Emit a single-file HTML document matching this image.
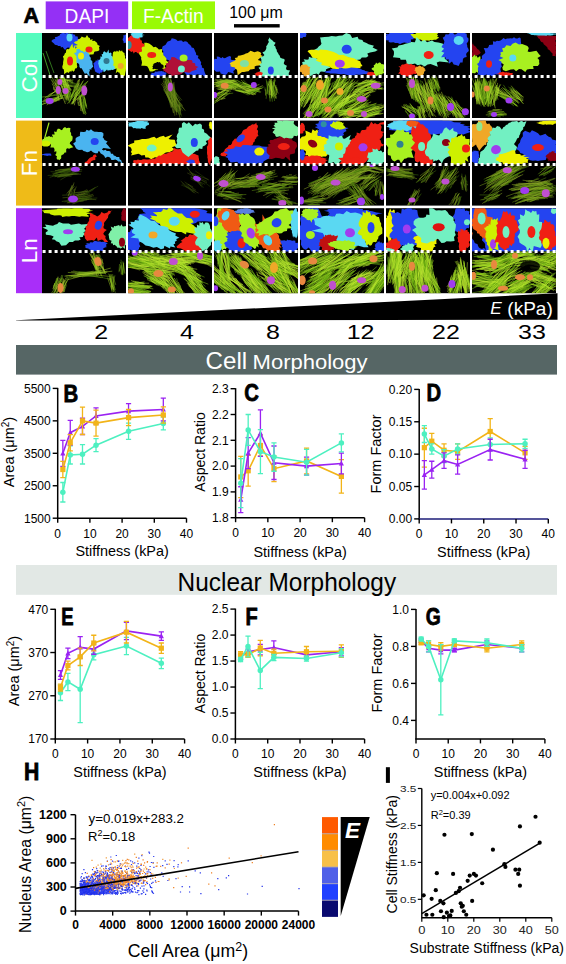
<!DOCTYPE html><html><head><meta charset="utf-8"><style>html,body{margin:0;padding:0;background:#fff;width:566px;height:964px;overflow:hidden}svg{display:block}text{font-family:"Liberation Sans", sans-serif}</style></head><body>
<svg width="566" height="964" viewBox="0 0 566 964">
<text x="23.6" y="22.8" font-size="22.5" font-weight="bold" textLength="15.6" lengthAdjust="spacingAndGlyphs" stroke="#000" stroke-width="0.7">A</text>
<rect x="45.7" y="1.4" width="82.5" height="27.8" fill="#9430f5"/>
<text x="64.6" y="22.6" font-size="20" fill="#fff" textLength="44.6" lengthAdjust="spacingAndGlyphs">DAPI</text>
<rect x="132" y="1.4" width="83" height="27.8" fill="#99fa04"/>
<text x="143" y="22.6" font-size="20" fill="#fff" textLength="60.8" lengthAdjust="spacingAndGlyphs">F-Actin</text>
<text x="229.2" y="17.6" font-size="16" textLength="53.6" lengthAdjust="spacingAndGlyphs">100 μm</text>
<rect x="234" y="24.1" width="45.7" height="3.4" fill="#000"/>
<rect x="16" y="33" width="26" height="85" fill="#55fbbe"/>
<text transform="translate(37.3 75.5) rotate(-90)" text-anchor="middle" font-size="22.5" fill="#fff">Col</text>
<rect x="42" y="33" width="84" height="85" fill="#000"/>
<rect x="128" y="33" width="84" height="85" fill="#000"/>
<rect x="214" y="33" width="84" height="85" fill="#000"/>
<rect x="300" y="33" width="84" height="85" fill="#000"/>
<rect x="386" y="33" width="84" height="85" fill="#000"/>
<rect x="472" y="33" width="84" height="85" fill="#000"/>
<rect x="16" y="120.6" width="26" height="85" fill="#efbb18"/>
<text transform="translate(37.3 163.1) rotate(-90)" text-anchor="middle" font-size="22.5" fill="#fff">Fn</text>
<rect x="42" y="120.6" width="84" height="85" fill="#000"/>
<rect x="128" y="120.6" width="84" height="85" fill="#000"/>
<rect x="214" y="120.6" width="84" height="85" fill="#000"/>
<rect x="300" y="120.6" width="84" height="85" fill="#000"/>
<rect x="386" y="120.6" width="84" height="85" fill="#000"/>
<rect x="472" y="120.6" width="84" height="85" fill="#000"/>
<rect x="16" y="208.2" width="26" height="85" fill="#a92ef9"/>
<text transform="translate(37.3 250.7) rotate(-90)" text-anchor="middle" font-size="22.5" fill="#fff">Ln</text>
<rect x="42" y="208.2" width="84" height="85" fill="#000"/>
<rect x="128" y="208.2" width="84" height="85" fill="#000"/>
<rect x="214" y="208.2" width="84" height="85" fill="#000"/>
<rect x="300" y="208.2" width="84" height="85" fill="#000"/>
<rect x="386" y="208.2" width="84" height="85" fill="#000"/>
<rect x="472" y="208.2" width="84" height="85" fill="#000"/>
<defs>
<clipPath id="ct0"><rect x="0" y="0" width="84" height="43.5"/></clipPath>
<clipPath id="cb0"><rect x="0" y="43.5" width="84" height="41.5"/></clipPath>
<clipPath id="ct1"><rect x="0" y="0" width="84" height="43.9"/></clipPath>
<clipPath id="cb1"><rect x="0" y="43.9" width="84" height="41.1"/></clipPath>
<clipPath id="ct2"><rect x="0" y="0" width="84" height="43.3"/></clipPath>
<clipPath id="cb2"><rect x="0" y="43.3" width="84" height="41.7"/></clipPath>
</defs>
<g transform="translate(42 33)">
<g clip-path="url(#ct0)"><path d="M38.6,8.0 37.0,9.1 35.6,10.1 37.5,11.8 37.6,13.4 36.5,14.7 35.0,15.7 31.6,14.8 29.3,14.3 28.0,14.9 26.4,14.5 25.0,14.8 23.1,17.0 21.7,15.4 20.8,14.1 18.8,14.4 18.6,12.9 16.3,13.0 15.3,12.2 12.9,11.7 12.0,10.5 10.7,9.4 9.3,8.0 10.9,6.6 13.3,5.7 12.8,4.3 15.2,3.8 16.4,3.0 17.7,2.4 18.1,0.9 19.7,0.2 21.4,-0.2 23.4,0.5 25.0,-0.8 26.6,0.7 27.8,1.6 30.2,0.3 31.4,1.4 33.2,1.7 33.1,3.3 35.6,3.5 35.9,4.7 35.8,5.9 39.3,6.6Z" fill="#2444f0"/><ellipse cx="27.5" cy="4.5" rx="3" ry="4" fill="#5ad8f2"/><path d="M37.3,28.5 35.2,29.7 34.8,31.1 35.3,33.7 34.6,35.3 33.1,35.6 32.5,37.7 31.4,38.7 30.0,37.3 29.1,39.0 28.1,37.9 26.7,39.9 25.7,39.2 24.4,39.6 22.1,41.3 22.1,38.2 21.7,36.3 20.5,35.4 20.3,33.4 21.1,31.0 21.1,29.2 21.4,27.4 21.7,25.7 20.9,23.5 22.2,22.2 22.8,20.5 24.0,19.5 24.2,16.8 25.4,16.0 26.8,16.2 27.8,14.9 28.9,12.7 30.4,10.5 31.1,15.0 32.9,12.5 33.2,15.6 35.1,14.3 35.1,17.0 35.3,18.9 36.5,19.6 36.3,21.7 38.0,22.5 38.1,24.5 38.6,26.5Z" fill="#cdf000"/><path d="M57.9,13.0 56.9,14.4 57.4,16.0 57.1,17.5 55.2,18.3 52.8,18.5 52.0,19.6 51.6,21.3 49.8,21.6 48.0,21.5 46.6,21.9 45.0,22.2 43.5,21.3 41.7,22.2 40.2,21.7 39.3,20.2 37.4,20.1 37.0,18.7 37.3,17.1 34.6,16.9 33.9,15.7 35.3,14.1 31.2,13.0 35.9,11.9 31.8,9.8 33.1,8.5 35.4,7.9 35.9,6.5 37.5,6.0 38.7,5.0 39.7,3.6 41.9,4.5 43.5,4.4 45.0,2.0 46.5,4.5 47.8,5.1 48.4,6.9 50.6,5.9 50.3,8.0 52.5,7.7 53.4,8.6 54.7,9.4 55.3,10.5 55.5,11.8Z" fill="#cdf000"/><path d="M43.1,20.0 43.8,21.0 42.9,21.7 43.1,22.8 42.7,23.7 41.4,23.8 40.7,24.2 40.5,25.4 39.2,24.8 38.5,25.1 37.6,24.5 37.0,26.8 36.4,24.2 35.4,25.5 34.8,24.8 33.7,25.2 32.9,24.8 32.2,24.1 31.9,23.3 30.4,23.0 30.1,22.0 30.1,21.0 30.9,20.0 31.1,19.1 30.8,18.2 32.2,17.8 31.9,16.7 32.8,16.4 33.5,15.9 34.2,15.6 35.0,15.6 35.4,14.7 36.3,14.8 37.0,14.4 37.8,14.1 38.7,14.1 39.6,14.4 39.6,15.9 40.5,15.9 41.1,16.5 42.2,16.7 42.6,17.4 42.8,18.3 43.5,19.1Z" fill="#cdf000"/><path d="M48.8,24.8 48.7,26.7 50.3,28.2 50.4,29.9 50.5,31.6 51.2,33.5 50.4,34.6 49.4,35.3 49.3,36.7 47.6,36.1 47.9,38.3 47.0,38.7 47.9,44.0 45.6,41.4 44.1,39.9 43.0,40.9 41.7,39.0 40.6,37.1 39.7,35.3 38.3,35.2 37.4,33.8 37.3,31.8 36.5,30.5 34.4,29.5 34.3,27.8 34.8,26.3 34.2,24.7 34.6,23.5 31.9,20.0 33.5,19.7 34.5,19.1 34.4,17.0 35.2,16.1 36.3,15.9 37.7,16.2 39.2,17.9 40.2,17.7 41.3,18.6 42.3,19.3 43.6,18.1 44.8,18.9 46.2,19.8 47.3,21.3 47.6,23.5Z" fill="#4ab4f0"/><ellipse cx="39" cy="23" rx="3" ry="3.5" fill="#eef000"/><ellipse cx="28" cy="28" rx="3" ry="4.5" fill="#f02014"/><ellipse cx="47" cy="16.6" rx="3.5" ry="3" fill="#f02014"/><path d="M62.2,33.0 62.1,34.0 61.7,34.9 61.4,35.8 61.0,36.6 60.9,37.7 60.5,38.7 59.9,39.2 59.2,39.7 58.4,39.5 57.8,40.4 57.0,41.1 56.3,39.7 55.5,40.1 54.9,39.5 54.2,39.2 53.4,38.8 52.9,37.9 52.8,36.7 52.4,35.9 52.1,35.0 51.9,34.0 51.8,33.0 52.0,32.0 51.2,30.6 52.3,30.0 52.5,28.9 53.5,28.8 53.5,27.4 54.5,27.6 55.3,27.9 55.6,26.2 56.4,27.1 57.0,26.5 57.6,27.0 58.7,25.1 59.1,26.5 59.7,27.1 60.0,28.2 61.0,28.1 61.2,29.2 61.7,30.0 62.1,30.9 63.0,31.8Z" fill="#2444f0"/><path d="M72.5,29.0 73.6,30.6 73.6,32.2 74.2,34.3 73.5,35.8 71.9,36.5 70.6,37.1 69.0,36.7 68.1,37.4 66.9,37.1 66.0,38.1 65.0,36.5 64.0,37.6 62.7,38.8 61.4,38.8 61.1,36.6 59.2,37.3 58.7,35.8 57.6,35.0 57.0,33.6 56.7,32.0 56.2,30.6 56.5,29.0 56.6,27.5 58.0,26.4 58.6,25.3 58.3,23.6 60.2,23.8 59.6,21.3 61.0,21.1 61.3,19.0 62.5,18.2 63.9,19.4 65.0,19.6 66.5,16.4 67.0,20.3 68.4,19.6 69.5,20.3 69.4,22.7 70.4,23.2 71.0,24.2 72.7,24.6 73.0,26.0 72.2,27.7Z" fill="#5ad8f2"/><ellipse cx="64.5" cy="28" rx="3" ry="3" fill="#307890"/><path d="M85.0,29.0 84.2,30.5 84.6,32.3 84.9,34.4 84.0,35.6 83.8,37.6 83.4,39.6 82.9,42.2 81.8,43.4 80.8,45.3 79.2,43.1 78.0,41.0 77.1,39.2 76.2,39.6 75.5,38.5 73.7,40.6 74.7,35.6 73.5,35.7 72.5,35.0 72.7,33.1 71.0,32.5 71.6,30.6 71.6,29.0 71.3,27.3 70.3,25.1 70.6,23.2 70.8,21.0 71.2,18.9 72.6,18.3 74.1,18.7 74.9,17.5 76.3,18.9 77.0,17.2 78.0,17.4 78.9,18.4 80.0,17.2 80.7,18.9 81.5,19.6 82.5,20.1 82.6,22.1 83.2,23.3 83.0,25.1 84.0,26.0 85.2,27.2Z" fill="#cdf000"/><ellipse cx="78.7" cy="33" rx="3" ry="3" fill="#f0a828"/><path d="M84.9,6.0 85.0,6.6 85.3,7.3 85.0,7.8 85.1,8.7 84.5,8.5 84.4,9.2 84.2,9.7 83.8,9.7 83.5,9.6 83.3,10.2 83.0,9.7 82.7,10.0 82.4,10.2 82.2,9.7 81.6,10.3 81.6,9.2 81.6,8.4 81.3,8.1 81.0,7.8 80.9,7.2 80.6,6.7 80.8,6.0 80.8,5.4 81.5,5.1 81.3,4.5 81.5,4.1 81.4,3.2 81.2,1.9 81.9,2.4 82.2,2.3 82.5,2.5 82.7,2.1 83.0,1.4 83.3,1.6 83.6,1.8 83.9,2.1 84.2,2.2 84.3,2.9 84.4,3.6 84.6,3.9 84.9,4.3 84.7,5.0 84.7,5.5Z" fill="#2444f0"/><line x1="1" y1="20" x2="8" y2="42" stroke="#50c030" stroke-width="0.8"/><line x1="4" y1="18" x2="12" y2="40" stroke="#50c030" stroke-width="0.6"/></g>
<g clip-path="url(#cb0)"><g opacity="0.9"><path d="M21.4 47.4l3.2 19.5M11.6 55.5l3.0 4.9M9.9 44.0l10.9 21.1M22.4 46.3l5.2 10.2M20.6 42.4l5.2 21.0M21.5 44.3l5.4 21.1M19.7 44.0l5.5 23.0M38.1 65.5l4.6 -10.8M29.2 63.2l7.3 -16.5M25.4 70.6l14.3 -17.1M29.1 70.6l17.0 -22.8M8.1 69.3l10.2 -2.5M6.8 70.7l8.2 -2.9M1.1 67.9l22.2 -5.9M5.0 69.9l15.5 -5.1M6.5 61.8l7.1 -3.3" stroke="#b4ec24" stroke-width="0.5" fill="none"/><path d="M20.0 43.4l9.6 13.8M20.9 46.5l9.1 16.7M30.5 67.2l10.1 -13.9M32.7 64.9l11.5 -12.9M27.6 68.8l8.3 -18.8M-2.0 64.3l20.3 -2.6M1.8 66.4l15.7 -1.7M1.4 69.4l15.3 -4.6M35.7 69.1l1.0 3.8M40.6 59.5l1.5 16.3M37.1 59.7l7.1 21.2M42.1 63.9l2.6 9.6M41.1 65.8l4.0 9.9M19.5 45.4l11.5 3.0M19.3 51.1l16.1 2.2M20.5 53.4l6.6 -0.1" stroke="#94d81c" stroke-width="0.5" fill="none"/><path d="M22.1 46.0l7.8 18.3M13.0 56.0l2.6 8.6M25.6 51.2l3.3 9.2M21.5 45.5l5.4 15.5M21.0 47.7l8.7 18.0M18.2 48.7l5.2 18.7M35.2 66.2l10.1 -10.3M31.2 66.8l10.4 -19.5M26.3 67.9l19.1 -19.5M30.2 61.6l3.2 -10.4M27.0 70.5l7.8 -19.6M-0.8 72.1l19.2 -9.6M37.3 65.1l6.4 14.9M35.9 61.4l7.7 20.7M37.5 62.1l4.0 19.1" stroke="#78c014" stroke-width="0.5" fill="none"/><path d="M10.1 50.5l6.5 12.1M21.7 43.6l4.2 22.1M15.8 46.7l9.0 14.2M9.6 47.3l10.4 17.8M17.6 43.2l6.3 23.0M14.1 47.0l9.3 23.9M13.0 41.4l12.7 24.2M22.9 47.2l5.0 17.3M25.1 46.8l1.6 6.7M30.3 70.3l10.4 -22.0M32.3 72.3l5.4 -26.4M5.9 70.2l11.0 -5.9M5.6 68.7l15.8 -3.6M-0.2 71.3l17.2 -4.6M3.3 66.8l11.2 -9.7M0.2 68.5l17.8 -3.2M2.5 65.1l11.1 -6.9M37.9 62.9l1.0 15.1M34.9 65.3l2.8 7.7M35.9 64.4l6.4 16.7M24.4 45.9l4.4 0.5" stroke="#d0f43c" stroke-width="0.5" fill="none"/><path d="M7.8 45.0l15.7 17.0M24.7 47.9l1.7 13.8M19.8 47.6l8.6 17.6M20.2 39.1l3.8 24.3M20.2 42.8l6.0 20.9M13.5 40.4l7.0 24.9M13.1 40.9l7.6 23.7M20.5 50.1l5.9 14.6M25.6 67.6l17.7 -17.9M23.4 69.1l16.1 -18.4M30.4 68.9l14.5 -20.1M30.7 71.6l7.1 -20.1M36.4 66.6l7.9 -12.2M4.5 70.0l16.1 -6.3M3.6 64.1l11.1 -3.2M7.4 71.5l5.9 -3.5M43.1 65.1l0.9 9.9M41.9 60.0l0.3 17.4M39.9 60.1l3.1 16.8M20.8 51.4l8.9 2.2M19.9 44.7l14.6 6.4M24.3 53.6l3.7 0.7M20.0 51.0l13.1 0.1M17.6 47.6l13.0 2.8" stroke="#68b010" stroke-width="0.5" fill="none"/><path d="M12.9 45.8l6.6 20.1M21.4 41.8l5.6 17.4M17.7 43.9l10.8 13.3M11.4 54.0l0.8 3.3M13.2 49.5l3.8 17.3M17.5 41.4l7.5 18.9M25.2 49.7l3.8 8.3M19.9 44.9l7.0 22.6M29.1 64.0l8.3 -13.7M31.0 70.9l5.7 -23.8M37.5 66.4l3.3 -4.5M28.8 71.4l15.0 -12.9M30.3 70.9l10.8 -18.6M4.7 72.1l12.2 -8.7M41.5 61.1l2.9 12.5M38.5 65.2l1.7 13.3M21.3 45.7l10.1 4.5M19.1 48.6l12.3 -1.7M21.8 51.5l11.8 2.8" stroke="#c0f030" stroke-width="0.5" fill="none"/></g><ellipse cx="17.8" cy="49" rx="2.5" ry="3" fill="#c050d0"/><ellipse cx="16.3" cy="57" rx="2.5" ry="4" fill="#c050d0"/><ellipse cx="23.5" cy="58" rx="3" ry="3" fill="#c050d0"/><ellipse cx="42.3" cy="57.6" rx="3" ry="5" fill="#c050d0"/><ellipse cx="7.7" cy="68" rx="4" ry="3" fill="#a03cf0"/></g>
</g>
<g transform="translate(128 33)">
<g clip-path="url(#ct0)"><path d="M16.1,11.0 16.8,12.4 16.6,13.8 16.8,15.5 16.3,17.0 14.4,17.5 14.0,19.1 12.2,19.1 11.5,20.8 9.7,20.3 8.2,19.0 7.0,19.0 5.6,20.6 4.9,18.2 3.4,18.9 2.3,18.3 1.4,17.4 -0.1,17.1 0.1,15.4 -2.1,15.1 -2.3,13.7 -3.1,12.5 -2.5,11.0 -2.1,9.7 -0.9,8.7 -1.8,7.0 -0.8,6.0 0.0,5.0 1.1,4.2 2.0,3.3 3.2,2.6 4.1,1.2 5.6,1.3 7.0,1.1 8.3,2.3 9.9,1.2 10.4,3.6 12.1,3.1 12.1,5.1 12.3,6.4 12.7,7.3 14.1,7.8 13.8,9.0 14.1,10.0Z" fill="#f02014"/><ellipse cx="0.7" cy="12" rx="3" ry="4" fill="#2f8a9a"/><path d="M16.8,2.0 13.9,2.4 15.0,2.9 14.0,3.1 15.4,4.1 14.0,4.2 13.2,4.4 12.1,4.4 11.3,4.5 10.9,5.2 10.0,5.4 9.0,5.4 8.1,5.2 7.0,5.3 6.5,4.7 5.4,4.8 5.2,4.2 5.1,3.7 4.2,3.5 4.2,3.1 4.5,2.7 3.3,2.4 3.6,2.0 2.9,1.6 2.5,1.0 2.7,0.6 3.8,0.3 4.1,-0.1 4.5,-0.6 5.7,-0.6 6.0,-1.3 7.2,-1.1 8.0,-1.4 9.0,-0.8 9.8,-0.7 10.5,-0.6 11.1,-0.3 11.8,-0.2 13.3,-0.5 13.6,0.0 15.3,-0.0 14.5,0.7 14.0,1.3 14.3,1.6Z" fill="#5ad8f2"/><path d="M36.6,33.1 39.0,37.1 34.6,35.4 32.6,35.2 30.8,35.2 29.9,36.8 28.1,36.7 26.4,37.8 24.3,38.4 21.8,38.5 20.5,35.2 19.2,33.3 16.9,32.8 13.3,32.7 14.0,29.7 13.7,27.8 13.1,26.1 13.3,24.5 12.3,22.8 11.1,20.9 11.2,19.2 13.7,18.7 14.1,17.4 13.5,15.0 14.5,13.7 16.5,13.6 16.3,9.8 18.6,9.7 21.1,10.4 23.6,12.2 25.6,14.2 27.6,13.8 29.4,15.0 30.9,16.5 34.3,16.0 33.9,19.2 36.5,20.1 37.8,21.9 37.9,23.8 39.3,25.6 38.1,27.3 40.5,29.6 39.2,31.0 37.7,32.0Z" fill="#cdf000"/><ellipse cx="23.7" cy="22" rx="4.5" ry="3" fill="#f02014"/><path d="M34.1,15.1 34.7,13.3 36.4,12.6 37.8,11.6 38.6,10.0 39.7,8.5 41.4,8.1 42.9,7.3 43.7,5.2 46.1,5.7 48.1,6.4 49.8,8.1 52.0,7.6 53.7,7.6 55.1,9.0 56.9,8.2 58.4,8.4 59.6,9.3 60.5,10.7 61.9,11.7 63.1,12.9 63.6,14.6 65.7,15.1 66.5,16.7 67.2,18.4 68.0,20.0 68.2,21.9 70.5,22.7 69.8,25.1 71.5,26.2 72.3,27.9 73.2,29.3 72.8,31.3 73.9,32.7 73.9,34.5 76.0,35.5 76.1,37.3 76.6,38.9 77.1,40.6 78.0,42.0 76.4,44.8 74.7,41.7 73.1,42.5 71.5,41.8 69.8,41.3 68.2,41.8 66.5,42.6 64.9,42.2 63.3,41.6 61.6,41.6 59.6,42.6 58.2,41.5 57.1,40.0 55.8,38.7 54.3,37.9 52.7,37.2 50.7,37.2 49.4,35.9 47.5,35.6 46.8,33.5 45.2,32.9 43.5,31.9 42.4,30.6 41.7,28.8 40.7,27.3 38.8,26.6 38.0,24.9 36.8,23.6 35.4,22.2 35.1,20.4 35.3,18.4 34.2,16.8Z" fill="#2444f0"/><path d="M70.5,34.0 68.1,35.2 68.9,36.6 65.9,37.4 63.9,38.1 62.7,38.9 61.3,39.7 58.4,39.3 56.3,39.0 55.1,39.6 53.8,40.8 52.0,41.5 49.9,41.7 47.7,41.8 44.2,43.1 42.8,41.6 40.7,40.9 39.1,40.0 37.8,38.9 36.0,37.9 34.8,36.7 37.4,35.1 38.5,34.0 37.8,32.9 38.4,31.9 37.6,30.5 40.5,30.1 40.1,28.5 41.3,27.4 42.8,26.4 43.5,24.1 46.6,24.2 49.9,26.4 52.0,27.2 53.7,27.7 57.2,24.5 57.7,27.3 60.4,27.0 63.5,26.9 64.5,28.2 64.4,29.7 67.0,30.3 67.3,31.6 67.3,32.8Z" fill="#b01038"/><ellipse cx="55.6" cy="25" rx="4" ry="3.5" fill="#a8f020"/><ellipse cx="53.4" cy="36" rx="3.5" ry="3.5" fill="#70f0d0"/><path d="M36.0,33.0 35.4,33.6 35.9,34.4 34.7,34.7 34.3,35.2 33.9,35.7 33.6,36.3 32.7,36.3 31.8,36.2 31.4,36.9 30.7,36.7 30.0,37.5 29.4,36.1 28.8,36.3 28.2,36.2 27.4,36.3 27.0,35.8 25.4,36.2 24.2,36.0 25.1,34.8 24.7,34.2 24.4,33.6 24.6,33.0 25.4,32.5 24.7,31.8 25.5,31.4 25.6,30.7 26.3,30.4 26.8,30.0 27.6,30.0 28.0,29.6 28.7,29.5 29.3,29.1 30.0,29.1 30.6,29.5 31.5,29.0 32.1,29.4 32.5,29.8 32.8,30.4 33.2,30.8 33.5,31.2 33.9,31.6 35.0,31.8 35.3,32.4Z" fill="#000"/><path d="M38.8,41.0 37.7,41.3 37.6,41.6 37.8,42.0 37.9,42.4 36.9,42.6 36.3,42.9 35.7,43.3 34.0,43.1 33.4,43.6 32.1,43.4 31.0,43.7 29.9,43.4 28.5,43.7 27.4,43.4 26.5,43.2 25.7,42.9 23.9,42.9 24.6,42.3 23.6,42.1 22.0,41.8 22.8,41.4 23.4,41.0 23.0,40.6 24.4,40.4 22.3,39.8 25.4,39.9 26.6,39.8 26.5,39.4 26.9,39.0 27.5,38.6 28.8,38.7 29.8,38.5 31.0,38.3 32.3,38.2 33.7,38.1 34.7,38.5 35.9,38.6 36.1,39.2 37.4,39.3 38.3,39.5 37.5,40.1 38.1,40.3 38.6,40.7Z" fill="#2444f0"/></g>
<g clip-path="url(#cb0)"><g opacity="0.6"><path d="M47.5 59.4l4.7 8.6M35.2 47.8l9.9 26.6M37.2 49.4l9.6 22.0M39.9 47.2l10.8 26.4M35.3 40.3l12.3 36.8M50.7 71.3l1.7 5.0M50.3 71.7l2.7 5.3" stroke="#b4ec24" stroke-width="0.5" fill="none"/><path d="M39.2 58.8l3.8 16.0M42.2 45.4l7.3 21.4M32.9 50.9l22.7 24.8M35.4 55.9l13.0 22.9M41.7 45.4l6.0 29.6M48.3 71.1l0.1 8.0" stroke="#94d81c" stroke-width="0.5" fill="none"/><path d="M39.2 62.4l4.5 11.5M37.4 46.5l16.5 20.8M36.9 41.8l16.0 31.5M43.0 51.3l9.8 23.1M44.4 50.2l4.6 12.2M51.6 70.5l0.3 11.3" stroke="#78c014" stroke-width="0.5" fill="none"/><path d="M37.8 44.3l11.1 34.4M37.4 48.1l8.1 32.1M42.6 46.9l7.1 27.7M36.2 42.3l15.7 35.9M39.7 46.1l13.2 41.0M34.2 49.7l13.9 23.0M36.2 55.4l9.5 19.2M39.8 52.8l17.4 24.9M50.9 71.3l2.1 10.5" stroke="#d0f43c" stroke-width="0.5" fill="none"/><path d="M42.8 51.2l3.0 25.9M39.9 51.1l5.6 23.4M39.0 42.3l13.1 40.0M35.9 57.2l6.6 10.9M36.9 44.4l16.9 39.2M33.5 42.3l15.0 36.2M35.5 44.4l15.5 34.9M39.0 46.2l15.6 31.5M46.5 71.6l4.6 9.8M45.9 69.7l5.2 8.8" stroke="#68b010" stroke-width="0.5" fill="none"/><path d="M42.1 41.3l6.8 40.9M45.5 50.4l2.8 23.6M38.3 58.1l5.8 16.6M43.1 47.6l5.9 19.7M37.5 59.3l4.8 10.4M36.7 47.9l16.3 30.3M45.9 48.9l0.9 33.8M37.5 53.5l17.2 19.2M35.1 53.6l9.3 17.9M39.9 44.2l5.3 25.4M37.9 51.4l7.6 20.9M38.5 58.4l6.5 15.3M41.1 47.9l4.7 31.9M48.2 74.6l1.1 4.9" stroke="#c0f030" stroke-width="0.5" fill="none"/></g><ellipse cx="42.3" cy="54" rx="2.5" ry="4.5" fill="#c050d0"/></g>
</g>
<g transform="translate(214 33)">
<g clip-path="url(#ct0)"><path d="M22.1,32.0 23.6,33.5 22.5,34.8 21.5,35.9 20.7,37.1 19.2,38.0 20.0,40.7 16.4,39.4 14.2,39.0 13.3,40.5 11.9,41.7 10.0,41.7 8.3,40.9 6.6,40.6 6.0,38.5 4.3,38.7 2.2,38.8 1.1,37.8 0.1,36.8 -1.0,35.8 -2.5,34.8 -3.6,33.5 -4.7,32.0 -2.6,30.6 -4.5,28.8 -2.2,27.8 0.0,27.2 0.5,25.8 2.9,25.9 2.8,23.6 5.0,23.7 7.3,25.2 8.4,23.9 10.0,25.3 11.4,24.9 13.1,24.0 15.5,23.0 17.1,23.7 16.7,26.2 17.8,26.9 20.3,27.0 24.3,27.1 22.7,29.2 24.5,30.4Z" fill="#2444f0"/><path d="M45.4,25.4 43.8,26.9 46.2,27.8 47.2,29.1 47.8,30.7 47.1,32.3 42.4,32.7 40.6,33.6 40.8,35.8 38.3,36.2 36.1,36.5 34.5,38.2 32.3,38.4 30.1,38.9 28.0,38.9 23.7,42.2 23.3,39.3 23.1,37.2 22.2,36.1 20.9,35.5 20.7,34.2 18.3,34.0 16.4,33.2 16.7,31.7 15.5,30.4 17.8,28.9 20.7,27.8 21.7,26.7 20.8,25.0 23.4,24.4 24.0,22.8 26.3,22.5 28.2,22.0 30.0,21.5 31.8,20.6 33.8,20.0 36.6,17.8 38.6,18.4 40.2,19.3 43.8,18.2 45.7,19.0 47.3,20.0 46.7,22.1 48.9,22.9Z" fill="#f0d010"/><ellipse cx="30.4" cy="30.4" rx="4.5" ry="3.5" fill="#80e0a0"/><path d="M55.7,4.2 56.4,6.0 58.3,7.2 59.6,8.7 61.6,9.7 60.0,12.4 61.4,13.6 61.7,15.3 62.7,16.8 62.9,18.6 64.0,20.0 64.7,21.6 65.8,22.8 66.1,24.6 68.0,25.4 70.3,25.9 70.7,27.6 69.7,30.2 70.7,31.7 72.9,32.7 72.0,35.3 72.7,37.0 76.1,37.4 74.7,40.0 74.8,41.8 75.0,43.6 73.4,43.0 71.7,42.9 70.1,43.8 68.5,42.8 66.8,43.3 65.2,44.0 63.6,44.0 61.9,43.4 60.3,43.5 58.7,43.4 57.1,43.4 55.4,43.6 53.8,42.8 52.2,43.4 50.5,44.2 48.9,44.1 47.3,43.1 45.6,42.9 43.7,43.4 43.9,41.7 44.4,40.0 45.7,38.6 46.3,36.9 44.5,34.8 46.9,33.5 45.0,31.3 47.6,30.2 47.3,28.2 47.4,26.4 46.3,24.2 49.2,23.3 50.4,21.9 48.4,19.4 50.8,18.3 51.8,16.8 52.4,15.1 52.2,13.3 53.3,11.9 53.9,10.4 54.9,8.9 54.1,6.9 55.1,5.4Z" fill="#72f0c2"/><ellipse cx="56.8" cy="37.4" rx="3" ry="4" fill="#2444f0"/><path d="M47.8,41.0 48.5,41.3 48.1,41.5 48.1,41.7 48.2,42.0 48.1,42.4 48.0,42.7 47.2,42.7 46.7,42.9 46.2,43.0 45.7,43.3 45.0,43.1 44.4,43.0 43.7,43.2 43.1,43.1 42.8,42.7 42.2,42.6 42.0,42.3 41.6,42.1 41.7,41.8 40.9,41.6 41.3,41.3 40.6,41.0 40.3,40.7 41.3,40.5 41.8,40.3 41.9,40.0 42.1,39.8 42.5,39.5 43.0,39.5 43.5,39.4 43.7,38.8 44.4,38.9 45.0,38.4 45.6,38.9 46.1,39.0 47.0,38.8 47.4,39.1 47.7,39.4 47.9,39.7 48.9,39.8 49.1,40.1 48.9,40.4 48.2,40.8Z" fill="#f02014"/></g>
<g clip-path="url(#cb0)"><g opacity="0.9"><path d="M3.3 56.2l10.4 1.6M4.2 55.8l13.0 2.4M1.5 51.0l19.8 0.5M21.2 54.2l18.2 4.8M22.1 57.5l7.8 1.6M22.2 57.0l19.0 4.5M17.3 51.1l29.2 8.2M17.5 51.9l18.3 5.3M21.2 57.4l8.9 2.3M39.2 61.3l5.4 -3.9M29.4 53.5l17.5 2.2M62.6 54.2l0.5 2.9M51.6 56.3l-0.1 6.2M55.6 46.0l-2.9 14.8M61.8 51.9l0.8 10.2M-2.8 70.4l17.5 -12.1M2.9 68.6l8.2 -5.1" stroke="#b4ec24" stroke-width="0.5" fill="none"/><path d="M-2.8 55.1l24.0 -8.6M7.5 47.8l15.4 0.6M0.9 46.2l18.1 3.3M8.7 47.9l15.1 -0.6M20.4 53.7l15.1 7.6M22.3 50.4l16.0 3.2M27.0 47.0l7.5 7.0M28.8 49.7l11.4 4.4M34.2 53.5l7.1 -0.9M37.3 52.3l4.1 -0.0M55.2 48.7l0.9 19.8M56.0 48.3l1.8 17.1M60.1 46.6l-1.8 17.4M61.4 46.7l-4.7 15.5M-0.1 70.6l14.1 -10.1M-5.0 66.4l20.4 -8.4M7.5 66.3l8.6 -6.6" stroke="#94d81c" stroke-width="0.5" fill="none"/><path d="M-1.0 49.5l23.9 5.8M1.3 49.7l16.8 4.8M5.4 46.6l20.3 5.1M9.2 45.5l5.2 1.3M6.4 50.1l17.1 2.5M19.5 47.7l18.2 8.0M17.6 49.0l18.2 12.2M26.7 58.6l7.7 3.5M13.7 52.4l25.6 2.4M28.5 49.3l11.0 5.6M20.9 50.0l21.7 9.9M24.0 48.0l20.3 10.6M34.9 52.8l6.0 -0.6M34.2 58.6l11.7 -1.3M60.8 44.7l-1.2 19.5M63.0 56.2l0.2 2.1M52.1 46.2l3.8 19.1M51.0 54.3l0.1 3.4M61.5 52.6l0.4 9.3M56.8 44.1l3.0 21.3M-4.2 63.2l23.4 -3.1M0.6 70.1l11.0 -13.3" stroke="#78c014" stroke-width="0.5" fill="none"/><path d="M1.9 52.6l21.9 1.5M2.1 53.4l16.4 3.2M11.3 46.6l8.7 0.6M23.0 51.9l16.0 9.4M28.7 49.5l7.5 2.9M24.4 57.4l15.2 4.5M23.7 52.1l17.6 2.7M33.0 58.8l15.9 -6.1M30.9 57.6l14.7 -1.0M35.1 56.3l13.2 -0.9M57.7 50.0l-0.3 15.3M57.2 50.3l5.1 14.7M55.8 47.9l1.2 14.1M57.3 46.1l-2.2 16.0M1.0 60.9l8.6 -2.0M7.0 66.2l4.4 -0.8M0.4 62.8l11.7 -7.0M1.7 68.3l13.6 -11.8" stroke="#d0f43c" stroke-width="0.5" fill="none"/><path d="M2.4 55.4l21.3 -4.9M1.2 48.9l24.4 6.3M0.5 47.5l23.7 4.2M-0.7 51.3l21.1 1.3M3.1 51.9l15.3 2.8M29.2 46.9l11.5 11.1M23.4 56.6l13.9 3.9M23.0 47.5l12.3 6.1M20.5 56.3l21.3 4.2M34.7 57.5l12.5 1.3M35.4 61.0l11.3 -6.6M35.1 61.0l15.1 -7.3M34.3 61.1l9.3 -4.0M56.2 48.1l6.1 15.7M52.8 48.3l0.8 12.9M59.2 47.5l1.3 20.5M57.0 48.4l1.3 20.3M56.5 46.5l2.0 16.0M54.1 48.3l-2.0 17.5M-3.4 67.4l17.5 -11.1" stroke="#68b010" stroke-width="0.5" fill="none"/><path d="M-1.9 51.3l23.9 4.5M1.9 49.5l23.3 1.9M3.0 53.5l15.2 2.1M4.7 48.5l15.5 6.1M2.8 48.5l14.3 0.7M2.5 47.5l14.6 2.7M5.7 46.7l15.2 1.5M-1.4 49.8l24.9 -0.5M6.2 55.6l15.6 -1.8M5.4 55.9l16.8 -0.1M6.1 48.1l15.9 0.2M4.0 50.8l15.5 2.1M16.7 48.7l20.2 8.2M19.1 56.6l16.8 3.5M16.2 48.8l25.8 12.6M33.8 53.3l8.5 -0.6M33.4 55.9l12.0 -4.5M32.0 58.5l13.3 -2.2M58.0 48.2l-0.7 15.3M59.2 49.2l5.0 11.3M56.6 46.8l1.9 16.4M54.2 50.6l8.1 15.4M0.6 66.0l12.4 -5.8M-0.2 64.0l15.6 -9.5M3.1 60.5l2.6 -1.9M0.4 63.1l11.2 -6.4" stroke="#c0f030" stroke-width="0.5" fill="none"/></g><ellipse cx="10.7" cy="52.7" rx="4" ry="3" fill="#e88840"/><ellipse cx="39.8" cy="52" rx="3" ry="3" fill="#a03cf0"/><ellipse cx="0.7" cy="62" rx="2.5" ry="3" fill="#a03cf0"/></g>
</g>
<g transform="translate(300 33)">
<g clip-path="url(#ct0)"><path d="M77.8,16.9 75.2,18.6 70.1,19.5 67.3,20.6 68.4,23.0 66.2,24.4 61.8,24.6 60.2,26.6 56.2,27.0 51.2,25.4 47.4,24.3 44.1,23.9 40.2,25.4 36.7,24.4 31.5,25.0 27.4,24.0 25.4,22.0 21.7,20.7 21.6,18.5 13.1,17.6 17.3,15.2 18.7,13.4 20.7,11.9 21.5,10.4 20.9,8.7 20.7,6.8 20.0,4.4 24.7,4.1 28.7,3.7 31.6,2.9 36.0,3.6 38.9,2.7 42.4,2.5 46.2,0.0 50.3,1.5 52.2,4.9 57.6,3.7 58.7,6.2 62.4,6.9 63.3,8.7 66.5,9.9 68.6,11.3 74.0,12.8 72.6,14.6Z" fill="#72f0c2"/><ellipse cx="46.7" cy="16.3" rx="5" ry="4.5" fill="#2444f0"/><path d="M28.4,33.0 30.9,34.6 27.7,35.6 25.9,36.4 26.0,37.9 24.9,38.9 21.8,38.5 20.4,38.8 19.6,39.9 18.7,41.8 16.5,40.4 15.0,41.1 13.3,41.2 10.6,43.3 9.3,41.7 7.8,40.8 5.7,40.4 4.0,39.6 4.5,37.7 1.2,37.4 0.3,36.0 1.1,34.4 1.6,33.0 2.6,31.8 2.5,30.5 2.1,28.9 5.0,28.6 3.6,26.2 7.2,26.8 8.7,26.2 8.9,23.8 11.5,24.7 13.2,24.2 15.0,23.1 16.5,25.7 18.1,25.7 20.6,24.6 22.0,25.4 23.1,26.6 24.9,27.1 27.4,27.5 29.0,28.6 28.7,30.2 30.2,31.5Z" fill="#72f0c2"/><path d="M60.3,33.8 60.7,35.2 56.6,35.0 59.6,37.6 53.3,36.2 53.9,38.1 48.5,36.5 49.1,39.5 41.6,34.9 39.8,36.2 36.5,36.0 32.6,35.8 29.5,33.7 25.8,32.8 21.2,32.0 21.9,29.7 17.9,28.6 15.7,27.2 17.9,26.0 12.4,24.4 11.4,23.0 10.6,21.6 9.4,20.2 7.5,18.2 8.7,17.2 11.1,16.7 14.7,16.8 18.9,17.5 20.1,16.4 23.4,16.8 26.7,17.0 30.3,18.0 33.7,18.9 36.8,20.4 39.0,22.1 43.3,21.7 45.7,23.1 49.0,24.2 53.7,25.3 56.5,26.8 60.4,28.5 60.6,30.0 61.5,31.5 62.5,33.0Z" fill="#eef000"/><ellipse cx="39.8" cy="30.7" rx="5" ry="4" fill="#a03cf0"/><path d="M9.5,37.0 10.1,37.9 9.6,38.6 9.6,39.5 10.1,41.0 9.0,41.2 8.8,42.2 8.2,43.0 7.2,42.9 6.5,43.3 5.8,43.8 5.0,43.9 4.3,43.2 3.7,42.3 3.4,41.3 2.7,41.2 1.8,41.5 2.1,40.0 1.6,39.6 1.3,39.0 0.0,38.8 -1.1,38.0 -1.0,37.0 -1.4,35.9 -1.7,34.7 0.2,34.4 0.3,33.4 0.9,32.7 1.3,31.9 2.3,31.9 2.9,31.5 3.7,31.8 4.3,31.2 5.0,32.2 5.7,30.9 6.3,31.7 7.1,31.4 7.5,32.4 7.8,33.1 8.4,33.4 9.2,33.8 10.4,34.1 9.6,35.4 9.7,36.2Z" fill="#f0a828"/><path d="M69.2,38.5 66.7,39.0 71.6,39.7 70.1,40.3 72.7,41.3 63.9,40.9 62.2,41.4 59.9,41.8 56.0,41.6 54.3,42.2 51.1,42.2 48.0,41.9 45.6,41.4 43.8,41.0 41.0,41.2 38.8,41.0 36.9,40.7 35.0,40.5 29.1,40.6 30.1,39.9 24.3,39.7 26.7,39.0 23.1,38.5 27.4,38.0 29.6,37.6 31.3,37.2 29.9,36.5 31.8,36.0 35.1,35.9 38.6,35.9 39.2,35.1 42.6,35.3 45.4,35.4 48.0,35.2 51.2,34.6 54.3,34.7 57.1,35.0 59.3,35.4 60.3,36.0 61.8,36.4 62.5,36.9 64.8,37.2 64.7,37.6 64.8,38.1Z" fill="#2444f0"/><path d="M77.6,41.0 78.6,41.4 77.5,41.6 76.8,41.9 76.4,42.1 76.0,42.4 74.9,42.3 74.4,42.5 73.8,42.5 73.2,42.6 72.6,42.5 72.0,42.6 71.4,42.7 70.6,42.9 70.2,42.5 69.0,42.8 67.2,43.2 67.8,42.5 67.0,42.3 67.4,41.8 66.8,41.6 66.8,41.3 66.7,41.0 66.3,40.7 67.7,40.5 67.3,40.2 67.4,39.8 68.0,39.6 68.1,39.2 69.3,39.3 69.8,39.1 70.5,39.0 71.2,38.8 72.0,39.2 72.7,38.9 73.2,39.3 73.9,39.3 74.3,39.5 74.4,39.9 75.5,39.8 75.3,40.1 76.3,40.2 76.8,40.4 77.4,40.7Z" fill="#f02014"/><path d="M83.6,36.0 83.7,36.7 83.6,37.4 83.5,38.0 84.0,39.2 84.0,40.3 82.7,40.3 82.4,41.2 81.5,41.5 80.6,41.6 79.8,41.6 79.0,42.4 78.2,41.6 76.7,43.8 76.1,42.4 75.2,41.9 74.8,40.8 74.1,40.3 73.9,39.3 74.2,38.2 73.4,37.6 72.5,36.9 71.5,36.0 72.0,35.0 73.5,34.4 74.1,33.7 73.6,32.5 74.3,32.0 75.0,31.4 75.6,30.7 76.0,29.5 77.5,30.7 78.2,30.2 79.0,29.6 79.9,29.6 80.8,30.0 81.3,31.0 82.0,31.3 83.4,31.0 83.8,31.9 84.8,32.3 87.1,32.3 84.6,34.4 84.8,35.2Z" fill="#a8f020"/><path d="M6.2,2.0 6.1,2.4 6.0,2.9 6.2,3.4 5.7,3.8 5.0,3.9 4.3,4.0 3.8,4.1 3.3,4.1 2.9,4.3 2.5,4.9 2.0,5.2 1.4,4.9 0.9,4.8 -0.1,5.5 -1.0,5.5 -0.7,4.3 -0.9,3.9 -1.3,3.6 -1.6,3.2 -1.7,2.8 -2.5,2.5 -3.1,2.0 -2.3,1.5 -2.2,1.1 -1.6,0.8 -2.0,0.1 -1.1,-0.0 -0.6,-0.2 -0.2,-0.5 0.3,-0.7 0.9,-0.8 1.5,-0.4 2.0,-0.3 2.5,-0.7 3.1,-0.8 3.6,-0.6 4.0,-0.4 4.4,-0.1 5.5,-0.3 6.0,0.1 6.1,0.6 6.7,1.0 6.5,1.5Z" fill="#2444f0"/></g>
<g clip-path="url(#cb0)"><g opacity="0.95"><path d="M10.7 69.7l4.3 -16.2M4.6 68.7l13.7 -17.6M3.7 73.7l11.9 -24.6M-1.0 71.5l12.0 -25.2M6.1 66.3l9.8 -21.7M0.1 68.3l16.5 -30.3M-2.0 64.3l4.9 -14.8M13.7 67.6l5.7 -15.9M11.5 67.5l6.3 -12.7M16.7 77.3l12.5 -26.4M11.6 75.8l21.4 -33.4M21.7 77.4l8.5 -28.9M46.2 69.0l8.7 -10.4M26.8 62.5l16.5 -15.3M46.6 68.9l5.9 -6.6M27.4 62.8l11.2 -12.6M36.3 77.7l13.9 -15.4M43.3 69.8l10.5 -8.4M40.0 74.3l9.2 -7.8M28.8 69.1l22.7 -21.1M29.4 61.1l9.5 -12.0M30.2 71.5l28.1 -24.0M35.9 74.5l16.1 -32.5M21.2 79.7l14.1 -13.4M27.4 85.8l14.6 -12.0M29.1 87.0l13.2 -18.2M20.4 79.1l15.0 -15.1M18.0 75.3l10.9 -8.0M18.2 74.1l20.1 -11.1M17.9 80.9l14.5 -18.3M45.1 68.1l14.2 -11.4M35.3 74.0l29.0 -10.1M47.9 73.6l20.7 -6.6M45.4 71.0l19.1 -11.6M52.9 79.0l14.5 -10.9M53.8 80.3l11.7 -7.6M48.5 76.1l18.4 -12.0M38.4 79.2l27.9 -9.2M46.6 77.0l19.3 -9.6M46.2 64.2l9.9 -3.1M52.7 58.8l23.3 -2.0M58.4 51.0l14.1 -2.9M52.7 62.6l20.7 -7.7M55.3 62.1l20.1 -3.7M53.4 53.8l19.8 -3.6M58.9 65.2l15.0 -9.5M52.5 60.1l18.2 -11.6M62.2 48.7l6.7 -1.7M53.3 57.3l17.6 -2.5M54.8 57.1l17.0 -6.4M68.4 48.3l12.4 2.1M67.1 48.7l13.8 1.8M71.2 53.1l9.5 3.2M70.2 54.4l9.1 1.7M62.9 85.0l12.4 -2.3M55.9 82.5l22.9 -7.4M65.8 72.6l10.3 -1.8M8.7 81.8l10.1 -12.1M14.4 81.6l6.8 -7.3M8.4 84.6l13.5 -16.1M5.1 82.9l5.3 -11.6M7.9 86.7l10.5 -18.1M14.0 83.3l6.2 -8.3M47.4 75.4l4.2 -0.4M39.3 77.1l20.2 -0.6M42.8 86.5l11.0 -4.8M38.6 79.7l17.3 -3.3M40.2 58.5l5.4 -9.5M39.6 58.0l4.1 -12.2M36.5 54.8l8.0 -13.5M33.3 55.0l6.8 -10.1M38.5 55.0l6.4 -11.8" stroke="#b4ec24" stroke-width="0.5" fill="none"/><path d="M6.8 70.2l10.0 -25.8M6.1 71.2l9.9 -13.4M2.0 68.1l6.4 -22.4M0.9 71.7l12.8 -17.9M8.8 66.3l10.3 -14.0M-3.4 66.2l19.6 -24.6M13.6 63.3l4.0 -7.3M-0.9 64.5l11.3 -14.4M10.6 70.2l14.6 -21.3M22.0 77.9l7.3 -33.8M11.1 68.3l11.3 -20.7M16.6 69.1l11.4 -28.2M21.4 71.7l8.2 -30.2M13.1 65.0l5.6 -16.7M11.7 76.9l15.8 -32.4M15.2 74.6l13.9 -33.5M22.8 68.0l8.2 -22.9M23.1 70.1l25.3 -21.9M34.0 73.2l12.4 -24.0M23.9 77.5l31.3 -26.6M38.4 74.5l13.4 -23.9M32.8 78.3l17.0 -17.1M43.8 73.3l4.8 -8.8M40.3 75.2l8.5 -12.4M24.0 82.2l29.6 -28.9M29.5 69.2l13.0 -22.5M30.4 81.7l16.4 -27.9M31.1 59.2l7.1 -9.3M28.4 76.1l25.2 -30.2M16.6 82.9l24.2 -13.2M20.4 76.2l14.7 -11.7M28.6 82.1l15.2 -10.1M22.8 71.5l8.7 -6.9M24.5 84.0l15.2 -13.7M21.6 85.7l16.7 -13.9M13.2 83.9l30.4 -11.7M11.3 84.2l32.6 -15.1M20.9 72.2l15.8 -6.1M20.9 86.3l19.2 -12.4M40.3 73.7l21.6 -7.4M57.6 78.7l1.3 -0.4M50.1 78.6l17.4 -7.2M37.6 78.9l27.7 -13.7M43.4 66.3l12.0 -5.2M40.0 73.6l17.7 -9.6M56.0 57.1l21.3 -3.6M59.3 56.8l17.6 -8.2M54.6 50.0l12.3 -0.3M59.0 58.3l16.6 -3.2M55.7 52.9l13.4 -6.1M68.7 50.0l11.0 2.3M66.8 53.2l12.5 2.8M70.0 47.4l10.4 3.3M63.6 49.3l19.1 5.4M73.6 54.9l3.2 2.0M52.7 79.7l26.3 -5.1M68.1 82.9l10.8 -2.5M61.9 79.2l13.3 -6.8M64.0 75.1l12.6 -4.9M62.0 85.5l16.7 -6.0M55.9 84.8l26.4 -9.8M12.1 84.4l2.1 -14.7M5.4 87.7l14.1 -18.4M42.3 80.8l21.0 2.5M40.8 78.5l20.4 -4.0M40.3 79.4l16.0 -3.4M43.1 79.3l15.2 -4.1M44.2 77.2l12.9 -3.0M42.5 78.2l15.5 -1.5M38.1 77.8l15.9 -1.0M44.6 78.3l15.1 -2.8M34.8 53.4l4.3 -9.5M35.5 56.1l15.4 -12.2" stroke="#94d81c" stroke-width="0.5" fill="none"/><path d="M7.1 68.4l11.3 -20.4M9.4 67.1l8.2 -8.2M8.2 66.4l7.5 -17.1M-4.8 64.2l17.5 -18.5M3.7 66.1l12.4 -20.9M-0.2 61.5l11.8 -18.9M-1.9 62.2l12.2 -16.4M2.7 66.8l13.7 -21.1M-2.0 61.1l6.9 -12.1M12.0 61.5l9.1 -13.8M26.0 69.2l6.9 -20.0M14.6 74.0l18.7 -33.5M14.5 72.6l14.8 -33.6M17.0 77.9l7.9 -29.4M22.6 69.6l12.0 -21.4M24.8 69.9l4.4 -19.5M27.7 67.8l0.8 -2.6M18.1 73.9l12.5 -19.0M12.3 62.7l12.4 -16.2M17.6 75.8l9.1 -30.3M24.9 75.3l19.6 -28.5M34.9 74.2l20.7 -21.3M40.9 76.0l8.5 -11.0M24.4 77.9l23.5 -29.4M38.9 72.7l15.8 -23.8M23.8 66.4l15.5 -14.7M47.2 70.2l4.4 -8.8M35.9 75.2l12.6 -21.2M18.8 76.4l10.0 -8.4M21.8 83.3l17.8 -14.4M15.0 79.8l18.3 -13.2M21.9 82.3l24.3 -14.7M20.4 72.7l11.5 -7.9M21.8 73.3l13.7 -10.1M21.1 84.5l21.6 -21.5M41.0 73.1l21.4 -9.8M39.6 69.6l27.0 -3.2M50.6 79.5l17.6 -6.6M40.0 71.7l25.4 -13.7M39.4 68.4l16.6 -6.6M48.5 80.8l15.3 -8.3M50.5 75.7l17.8 -13.1M54.1 78.5l14.9 -7.7M39.1 83.0l28.8 -14.0M55.5 50.8l19.0 -1.9M67.3 55.5l10.8 -1.5M69.8 53.4l14.4 2.6M70.4 47.8l5.7 0.4M61.9 74.5l20.3 -3.5M59.6 81.1l20.1 -2.4M62.8 83.0l22.5 -7.0M64.3 85.4l11.4 -5.1M66.6 82.4l14.8 -1.4M60.7 81.1l19.0 -7.6M6.6 85.2l10.7 -17.6M2.9 81.0l8.2 -9.1M12.1 88.1l5.8 -15.1M4.2 80.3l8.2 -9.6M9.6 83.2l5.8 -15.0M3.8 84.4l11.9 -16.0M42.5 85.8l13.5 -3.1M41.9 86.0l22.4 -8.0M38.7 83.6l20.4 -6.8M40.5 80.3l18.4 -5.4M42.1 77.0l15.2 1.3M32.8 54.3l5.6 -9.4M32.3 56.2l17.9 -15.0M34.9 56.2l5.6 -12.4M36.8 57.1l3.8 -15.2" stroke="#78c014" stroke-width="0.5" fill="none"/><path d="M-1.5 69.0l21.9 -27.4M12.4 64.5l5.2 -6.9M3.3 74.8l14.7 -22.3M-1.5 72.8l19.6 -28.7M-0.1 73.3l9.1 -28.3M0.5 63.4l3.5 -14.7M19.9 69.6l9.8 -22.8M20.3 75.0l7.3 -37.2M17.1 72.4l4.9 -30.6M10.9 69.5l15.2 -22.0M12.6 74.0l7.9 -22.9M17.7 74.2l6.8 -23.9M13.0 74.1l16.0 -28.6M24.5 74.1l4.2 -31.5M18.3 70.2l12.7 -20.0M45.2 70.9l3.6 -3.9M37.6 77.4l10.3 -14.7M28.2 60.2l6.7 -6.2M30.9 69.1l19.6 -17.4M25.9 69.3l21.6 -19.8M34.2 75.8l18.7 -25.7M27.6 61.2l10.9 -9.4M25.4 71.9l14.5 -22.5M42.1 73.5l11.9 -14.4M26.4 77.5l26.0 -27.9M37.9 79.4l15.3 -32.9M24.8 69.5l5.0 -4.3M17.5 81.3l23.7 -19.0M27.5 89.6l12.4 -20.2M21.9 72.4l8.6 -6.6M26.1 82.6l15.3 -12.6M40.4 68.2l15.1 -6.8M44.6 70.8l18.9 -9.9M42.1 66.1l16.0 -3.3M46.5 76.6l22.0 -16.5M38.7 84.0l30.2 -21.2M45.4 67.6l13.7 -10.7M52.2 77.1l19.0 -8.3M54.8 53.7l12.4 -7.2M55.2 60.2l19.6 -8.0M52.2 61.6l24.7 -10.1M60.2 64.0l12.9 -6.9M57.5 52.9l17.4 -7.8M56.4 64.1l16.7 -14.3M59.5 60.0l17.8 -5.7M69.7 47.4l12.5 5.0M69.2 50.7l12.9 5.5M69.8 51.7l14.3 -1.9M70.9 47.9l9.1 1.2M67.7 82.8l11.8 -2.6M58.6 78.1l26.5 -6.4M64.1 84.3l17.5 -5.7M64.3 82.4l19.0 -2.0M56.1 84.6l23.2 -6.3M55.3 80.4l27.7 -6.1M3.2 85.4l12.0 -16.2M5.0 84.3l10.3 -17.6M6.4 80.3l7.4 -9.4M3.9 82.0l11.1 -13.6M4.2 87.0l6.6 -16.4M15.1 83.3l3.5 -4.9M39.4 87.4l16.8 -9.2M46.5 84.7l9.4 -1.6M34.9 80.2l24.5 0.3M32.9 54.1l4.9 -8.8M35.2 56.5l7.1 -16.9M36.5 59.0l10.6 -16.2M40.8 57.3l4.5 -6.7" stroke="#d0f43c" stroke-width="0.5" fill="none"/><path d="M-2.2 65.3l13.6 -19.2M12.3 67.0l4.7 -15.1M-0.7 77.6l13.3 -32.8M1.6 74.1l13.4 -22.1M0.7 70.8l8.8 -22.9M18.3 68.0l12.1 -21.8M14.9 64.6l4.8 -18.5M13.4 78.4l9.7 -31.9M11.2 74.2l17.6 -25.9M19.4 74.6l13.1 -33.1M33.2 78.0l16.3 -40.0M23.5 74.1l30.7 -18.5M31.8 75.7l19.2 -26.9M40.9 79.8l10.8 -33.3M17.1 82.2l15.4 -14.4M17.5 82.5l16.4 -16.4M22.9 81.0l19.7 -15.3M29.2 83.5l10.5 -6.4M18.1 84.2l13.1 -18.9M23.7 84.3l14.1 -12.1M17.3 76.6l13.8 -10.4M15.7 82.0l25.6 -17.2M16.1 78.9l20.6 -13.5M16.1 81.3l21.4 -15.2M19.6 79.6l13.6 -18.6M31.5 85.2l7.5 -10.5M51.5 62.2l4.6 -3.3M47.3 83.7l21.2 -19.6M42.5 71.8l28.1 -9.5M43.6 74.3l22.0 -7.7M50.2 78.8l14.5 -4.6M42.6 76.0l25.1 -20.3M58.0 78.7l5.1 -4.0M39.5 74.2l25.5 -16.8M53.7 60.0l16.9 -5.6M54.8 56.7l23.5 -1.9M56.8 52.9l15.6 -4.7M56.4 56.2l19.3 -8.5M58.8 60.3l14.6 -7.3M68.2 50.2l15.8 1.8M73.8 55.7l2.4 0.5M64.6 82.8l16.4 -5.0M66.8 84.8l12.9 -6.4M58.5 76.6l19.5 -3.7M65.9 84.1l16.5 -7.4M60.4 78.9l15.7 -5.9M7.3 83.7l7.7 -10.7M6.9 83.9l6.7 -16.2M5.9 87.5l8.0 -15.7M14.3 83.8l5.5 -9.8M37.8 80.4l27.2 0.8M42.8 76.4l9.6 -0.4M36.7 58.4l6.3 -20.8M42.7 53.4l4.6 -5.1M35.3 55.4l10.9 -12.0M38.4 58.1l8.4 -12.7M32.8 54.6l4.7 -9.1M34.5 50.3l4.7 -7.8" stroke="#68b010" stroke-width="0.5" fill="none"/><path d="M-4.3 68.7l14.4 -17.7M-0.7 60.2l11.8 -16.9M4.4 73.9l11.7 -24.1M1.0 73.6l14.6 -30.0M0.3 68.4l5.3 -17.7M1.3 68.5l17.4 -23.0M-3.1 59.8l11.5 -12.7M-1.7 69.9l11.4 -24.9M2.6 68.0l16.5 -17.6M-0.6 56.8l5.8 -7.8M0.1 59.2l7.5 -13.6M4.1 70.7l14.1 -16.8M-3.4 70.6l21.9 -27.6M14.9 75.7l15.2 -36.7M10.6 70.5l8.1 -17.8M15.6 73.5l4.8 -25.1M9.2 72.3l16.9 -20.7M19.8 72.6l2.5 -25.6M18.1 66.8l10.9 -21.3M13.3 75.2l8.8 -32.2M24.6 71.8l2.8 -18.8M16.5 74.9l10.8 -30.3M24.0 81.0l27.5 -30.4M40.0 75.6l14.1 -21.4M40.5 70.3l16.3 -14.3M24.8 72.3l19.8 -20.6M27.0 77.9l28.2 -30.2M42.2 75.9l6.9 -13.8M33.4 78.1l17.4 -18.3M28.0 65.6l18.4 -15.0M25.0 79.2l22.8 -29.9M34.3 77.7l17.2 -14.9M23.8 87.5l15.0 -11.8M22.0 75.8l16.0 -12.3M29.6 83.9l9.5 -6.2M22.8 89.9l16.2 -27.5M21.1 88.4l22.5 -22.3M26.2 82.6l17.0 -16.2M19.0 81.4l19.6 -18.4M42.2 84.6l23.0 -14.1M44.9 66.7l10.6 -5.6M44.1 79.4l18.6 -15.4M35.9 75.4l29.2 -13.7M37.8 72.5l21.7 -11.1M44.7 80.5l25.7 -19.7M49.4 64.4l11.2 -7.9M43.0 80.5l22.2 -7.4M57.9 51.3l16.5 -3.5M56.9 54.5l16.4 -3.7M53.6 59.6l21.8 -12.4M55.2 56.3l21.2 -7.0M50.9 64.3l23.4 -12.2M58.0 57.6l15.5 -9.0M63.8 62.5l9.9 -4.5M71.4 53.2l11.1 2.9M57.8 83.8l18.4 -10.2M60.9 80.3l24.2 -7.5M63.3 80.1l16.1 -7.3M59.4 83.4l26.8 -10.2M65.2 84.0l11.9 -3.0M63.6 83.8l16.3 -7.0M7.2 85.1l6.3 -12.1M7.5 85.0l10.7 -11.4M9.5 86.0l11.1 -18.0M7.8 86.5l7.8 -13.2M39.3 81.9l22.8 -3.6M37.8 80.0l20.5 -3.7M37.4 81.9l22.9 1.1M38.1 81.8l24.2 -4.4M43.8 81.9l17.0 -4.4M38.4 77.4l16.8 1.5M38.2 53.9l9.0 -11.7M35.3 54.7l6.7 -12.3M42.0 57.2l2.3 -8.1" stroke="#c0f030" stroke-width="0.5" fill="none"/></g><ellipse cx="3.7" cy="55.6" rx="3" ry="3.5" fill="#e88840"/><ellipse cx="20" cy="52" rx="4" ry="5" fill="#f0a828"/><ellipse cx="40" cy="58.6" rx="3.5" ry="3.5" fill="#f0a828"/><ellipse cx="24.5" cy="67.5" rx="3.5" ry="3" fill="#e88840"/><ellipse cx="28" cy="76.4" rx="3.5" ry="3" fill="#e88840"/><ellipse cx="9" cy="81" rx="3.5" ry="3" fill="#c050d0"/><ellipse cx="50.5" cy="80" rx="3.5" ry="3" fill="#e88840"/><ellipse cx="61.6" cy="66" rx="5" ry="3" fill="#c050d0"/><ellipse cx="75.7" cy="52.7" rx="5" ry="3" fill="#c050d0"/><ellipse cx="64" cy="81" rx="3" ry="3" fill="#c050d0"/></g>
</g>
<g transform="translate(386 33)">
<g clip-path="url(#ct0)"><path d="M28.8,4.0 29.0,4.8 27.5,5.5 27.5,6.3 24.9,6.6 24.9,7.5 25.2,8.8 23.7,9.7 21.4,10.1 18.3,9.5 16.3,9.9 14.0,11.0 11.7,9.9 9.2,10.1 7.5,9.3 4.7,9.4 2.6,8.9 2.9,7.6 0.3,7.3 -4.7,7.2 -1.8,5.7 -4.5,5.0 -2.2,4.0 -7.5,2.8 1.5,2.6 -4.1,0.9 2.4,1.2 3.4,0.6 3.5,-0.6 5.8,-0.8 7.2,-1.5 9.9,-1.3 11.5,-2.5 14.0,-2.9 17.5,-5.2 18.6,-1.9 21.7,-2.3 23.5,-1.6 26.3,-1.3 27.4,-0.4 27.4,0.8 29.3,1.4 30.2,2.2 27.2,3.3Z" fill="#2444f0"/><path d="M52.0,3.0 50.8,3.6 53.1,4.6 52.3,5.3 50.7,5.9 50.4,6.7 47.8,6.7 46.7,7.3 44.5,7.1 43.3,7.7 41.6,7.5 40.0,7.6 38.0,8.7 36.5,7.9 35.5,7.1 34.5,6.6 32.2,6.8 31.0,6.3 29.8,5.7 28.2,5.2 27.1,4.6 26.8,3.8 25.7,3.0 25.2,2.1 24.4,1.1 29.3,1.0 30.1,0.3 30.8,-0.3 32.5,-0.6 33.1,-1.5 35.2,-1.4 36.4,-2.1 38.3,-2.1 40.0,-1.3 41.3,-0.7 43.3,-1.7 45.0,-1.5 47.0,-1.5 48.9,-1.3 50.2,-0.7 51.3,-0.0 52.1,0.7 50.7,1.7 51.9,2.3Z" fill="#cdf000"/><path d="M59.2,20.0 62.8,22.1 58.8,23.6 58.7,25.6 63.0,29.4 53.6,28.4 50.7,29.4 51.9,33.7 44.6,30.9 41.6,31.6 38.7,33.4 35.0,31.5 31.6,32.3 29.0,30.6 24.9,31.5 20.7,31.6 20.5,28.7 19.9,26.8 14.6,26.8 14.0,25.0 6.9,24.3 7.8,22.0 8.0,20.0 7.8,18.0 5.7,15.5 11.4,14.4 12.7,12.5 16.8,11.8 19.4,10.7 22.8,10.1 25.3,9.0 28.9,9.2 30.6,4.1 35.0,8.4 38.6,7.1 41.1,9.2 45.9,7.5 48.5,9.1 52.4,9.6 56.3,10.4 59.1,12.0 59.3,14.2 58.5,16.4 59.9,18.1Z" fill="#72f0c2"/><ellipse cx="42.7" cy="22" rx="5" ry="4" fill="#f02014"/><path d="M81.3,14.0 82.5,15.9 82.8,18.0 81.1,19.4 80.1,20.9 80.7,24.0 78.5,24.6 77.0,25.7 76.6,29.5 74.3,29.5 72.6,33.0 70.0,32.0 67.7,31.5 66.0,28.6 62.9,30.7 62.6,26.3 59.8,26.7 59.3,23.9 55.1,24.2 58.3,19.7 55.3,18.6 58.1,15.8 55.5,14.0 56.6,11.9 58.0,10.2 58.4,8.3 56.7,4.8 58.7,3.5 59.6,1.2 62.4,1.4 64.0,-0.1 65.7,-1.8 68.3,1.4 70.0,1.2 71.9,-0.3 74.1,-1.0 76.1,-0.3 78.4,-0.0 80.7,0.7 80.9,3.9 82.5,5.4 82.4,7.9 80.6,10.7 81.2,12.3Z" fill="#2444f0"/><ellipse cx="72.7" cy="7.4" rx="5" ry="4.5" fill="#5ad8f2"/><path d="M31.2,37.0 33.0,37.9 30.7,38.5 32.0,39.7 30.9,40.4 29.4,40.9 27.4,40.8 26.7,41.4 25.4,41.4 24.8,42.7 23.5,43.4 22.0,44.0 20.4,43.8 18.7,43.8 17.2,43.3 16.7,42.0 14.8,42.0 14.6,40.8 12.2,40.8 13.0,39.5 13.9,38.4 13.9,37.7 13.3,37.0 13.9,36.3 13.9,35.6 14.4,34.9 12.4,33.3 15.2,33.5 15.1,32.2 16.2,31.5 17.7,31.4 19.1,31.0 20.4,30.5 22.0,30.7 23.2,31.9 25.1,30.6 26.0,31.7 27.2,32.1 29.0,32.2 29.0,33.4 31.3,33.4 31.2,34.5 33.2,35.0 34.4,35.9Z" fill="#f02014"/><path d="M38.7,38.0 38.5,38.6 38.1,39.2 37.9,39.8 38.2,40.7 37.2,40.8 37.3,41.8 36.7,42.3 36.2,42.8 35.7,43.9 34.8,43.7 34.0,42.5 33.3,43.0 32.6,42.8 31.8,42.8 31.5,41.8 30.8,41.7 31.0,40.6 30.7,40.1 29.5,40.1 30.0,39.2 29.7,38.6 29.4,38.0 28.2,37.2 29.3,36.6 28.9,35.7 29.3,35.0 29.8,34.4 30.5,33.9 31.3,33.8 32.0,33.7 32.6,33.1 33.2,32.6 34.0,32.8 34.7,32.9 35.3,33.4 35.8,34.0 37.1,33.2 37.7,33.7 37.5,34.9 38.7,35.0 38.7,35.8 38.8,36.6 40.0,37.1Z" fill="#f0a828"/></g>
<g clip-path="url(#cb0)"><g opacity="0.9"><path d="M21.1 49.9l1.5 7.7M24.9 45.6l10.5 22.3M24.6 46.4l5.5 22.0M24.5 52.4l1.7 13.1M28.9 62.4l11.8 16.6M45.8 56.5l1.3 2.4M26.9 57.7l23.1 26.2M27.2 56.2l13.6 14.6M33.4 64.6l5.3 14.9M38.6 55.4l8.3 19.5M45.9 54.6l1.9 10.9M45.1 57.4l5.3 10.6M54.1 60.4l8.6 21.9M44.3 60.5l16.1 21.6M52.3 62.0l13.2 14.8M55.0 61.4l7.7 9.8M48.7 64.6l9.9 21.8M63.9 70.9l8.6 15.8M70.0 68.5l9.1 15.2M65.2 66.0l10.7 17.7M17.6 71.6l15.7 8.5M23.3 73.2l8.5 4.6M41.9 46.0l9.2 14.8M43.6 47.8l1.3 7.9M50.6 42.6l-1.5 12.4M48.0 46.1l3.7 11.7M46.7 43.9l4.9 10.2M36.0 73.6l2.8 11.5M34.6 73.0l-1.7 15.6M30.7 77.3l4.1 11.7" stroke="#b4ec24" stroke-width="0.5" fill="none"/><path d="M29.6 51.1l5.0 11.5M24.9 41.3l6.2 25.8M29.4 46.2l2.8 19.9M20.7 44.5l10.5 16.9M27.1 44.8l0.9 15.8M22.2 55.3l2.0 5.9M40.7 57.6l8.0 20.5M29.4 52.0l8.7 27.8M33.6 49.9l9.0 28.2M36.7 53.3l5.2 22.3M29.8 64.2l3.6 6.9M33.2 65.0l4.3 15.5M43.8 59.6l9.7 11.6M44.3 57.0l4.1 17.3M35.7 47.9l15.0 25.4M40.4 49.9l7.4 15.9M33.3 55.9l10.0 28.1M49.1 61.4l10.4 16.8M45.4 69.1l7.3 8.4M52.7 61.1l12.8 18.0M45.8 67.3l4.3 10.1M60.4 66.6l4.3 11.0M53.2 61.5l7.7 25.2M54.3 64.2l9.7 17.7M48.9 61.7l10.5 19.1M42.6 60.8l14.6 19.1M58.2 64.0l4.4 9.3M70.8 71.1l9.2 8.5M59.4 70.9l9.5 9.9M61.7 63.6l15.5 19.0M69.5 67.0l7.9 10.9M58.2 71.4l12.9 9.6M19.9 71.1l12.0 10.8M19.4 77.2l4.6 7.8M45.9 43.1l3.4 13.1M41.5 47.6l4.8 9.6M42.9 46.3l3.8 10.3M51.5 47.8l1.5 4.8M43.4 44.4l5.4 14.4M35.3 74.8l5.1 8.9M30.9 76.8l3.8 9.4" stroke="#94d81c" stroke-width="0.5" fill="none"/><path d="M20.1 52.0l6.5 11.0M29.4 44.7l1.8 13.3M24.1 49.4l4.2 17.7M24.1 42.3l7.2 21.7M29.2 48.0l23.4 26.4M44.8 55.0l6.1 17.4M48.1 61.7l3.9 8.3M46.6 56.6l2.8 16.2M29.3 65.2l11.1 10.6M45.4 56.9l3.9 7.9M30.5 62.0l5.6 13.4M33.7 50.7l10.7 20.3M46.9 64.2l11.1 16.8M56.7 64.3l8.1 16.8M47.4 60.1l13.3 23.5M58.4 63.4l3.1 7.7M45.8 69.2l8.4 11.5M49.9 57.7l11.4 28.5M50.0 60.6l8.8 22.8M62.7 75.2l1.4 3.4M64.5 65.4l13.0 14.7M75.3 74.3l2.9 1.9M61.3 67.3l10.9 14.8M23.7 70.0l6.4 10.4M25.8 73.5l5.0 3.2M23.6 71.3l6.4 5.6M21.3 73.7l12.3 3.5M22.3 71.8l7.5 8.4M47.5 42.3l3.8 13.5M51.3 45.6l1.5 12.4M48.6 44.6l4.8 16.1M42.3 47.6l5.3 12.0M32.1 76.6l2.6 11.5" stroke="#78c014" stroke-width="0.5" fill="none"/><path d="M29.6 45.0l4.9 16.9M30.6 50.9l5.2 11.4M31.5 46.3l2.2 10.0M23.4 45.8l2.3 19.9M27.0 42.5l4.4 26.9M31.7 47.7l1.4 18.0M22.0 47.7l2.9 15.8M36.6 52.4l12.5 26.5M38.5 45.0l7.4 30.2M31.6 59.9l7.3 16.0M46.0 60.7l5.4 6.3M40.8 48.9l5.8 23.7M30.4 50.3l13.9 23.0M34.2 59.6l7.1 18.9M38.0 52.1l6.8 34.1M29.5 62.9l2.2 5.5M32.8 55.4l14.8 28.0M60.7 67.6l0.8 2.1M50.4 60.9l12.2 23.2M52.3 60.4l8.7 18.2M47.5 58.7l13.8 19.4M55.4 58.8l5.2 15.3M55.9 63.0l7.2 12.0M63.6 71.5l7.2 12.2M63.6 67.5l13.6 22.4M67.3 68.4l8.6 16.9M60.4 73.1l17.4 14.2M62.2 66.1l17.4 20.5M59.3 62.5l16.3 22.2M64.9 67.2l9.5 14.3M16.8 73.7l11.0 8.8M16.0 74.0l14.5 5.7M17.5 74.0l12.2 9.8M24.6 71.4l4.3 6.3M17.3 72.2l11.5 11.0M20.8 74.9l8.6 11.5M45.9 43.4l8.1 11.5M44.6 45.6l4.6 10.8M37.0 75.0l1.8 4.3M37.7 75.9l1.0 3.6M34.3 71.3l4.0 13.0" stroke="#d0f43c" stroke-width="0.5" fill="none"/><path d="M22.1 50.5l4.4 15.4M24.9 47.9l2.8 19.3M22.8 45.7l7.0 23.0M24.9 41.9l3.3 21.1M29.5 45.4l2.8 12.0M27.3 57.6l6.9 12.5M34.6 51.4l9.0 20.5M28.6 62.9l9.4 13.1M34.5 53.2l10.9 20.6M35.6 54.7l10.4 28.0M34.5 47.3l5.7 29.2M44.8 57.6l5.3 9.4M43.0 52.4l5.8 11.3M45.3 64.7l8.2 13.9M47.3 62.5l7.5 16.1M57.6 61.6l2.8 10.3M49.1 71.4l4.2 11.4M58.4 66.8l6.5 9.3M48.3 63.6l18.4 16.4M61.0 71.7l16.8 13.6M65.4 63.6l9.4 19.9M64.1 71.1l9.2 17.3M65.7 64.8l6.4 23.6M18.7 70.9l11.9 15.5M18.9 78.2l6.8 5.3M19.9 73.5l10.5 7.6M15.3 73.1l15.3 9.6M49.6 48.4l4.0 9.0M45.3 43.7l4.5 12.3M49.6 47.2l2.4 11.2M44.6 46.1l4.9 11.8M31.9 75.3l3.8 13.9M29.4 75.2l6.0 12.1" stroke="#68b010" stroke-width="0.5" fill="none"/><path d="M20.2 44.6l6.5 17.4M27.0 46.4l5.6 13.5M26.9 44.7l5.6 13.7M26.8 37.9l2.7 27.1M26.3 45.8l9.0 22.6M25.1 41.5l1.8 24.1M31.6 50.6l14.5 28.5M28.0 60.0l4.8 8.0M35.1 52.7l13.6 22.7M37.5 51.2l4.0 23.2M39.7 49.9l4.2 24.0M39.9 51.1l7.7 13.4M40.8 54.7l8.4 22.2M44.7 54.5l5.5 14.0M30.1 54.9l18.9 24.9M43.1 49.9l4.6 16.2M35.4 53.5l11.3 29.6M56.1 65.4l2.8 19.5M57.6 64.3l5.2 13.0M45.6 63.3l10.1 17.5M47.1 63.6l6.9 18.3M48.1 62.0l19.6 19.6M48.8 70.0l6.5 13.4M62.9 71.5l4.7 12.0M62.2 69.6l9.7 17.9M66.3 67.3l11.4 10.3M65.0 75.7l5.4 9.4M63.3 70.7l11.2 12.9M58.3 70.4l18.9 14.2M62.6 63.3l15.4 17.6M67.1 69.5l10.6 15.9M61.2 71.9l15.2 16.5M45.4 48.7l1.1 10.2M49.6 46.9l4.6 9.5M33.0 73.5l7.2 12.8M32.6 73.8l5.6 12.0M31.8 73.1l2.8 16.3M33.4 73.1l2.1 15.9M31.5 77.1l6.2 11.2" stroke="#c0f030" stroke-width="0.5" fill="none"/></g><ellipse cx="26" cy="50.5" rx="3" ry="4.5" fill="#c050d0"/><ellipse cx="44.5" cy="67.5" rx="3" ry="4" fill="#e88840"/><ellipse cx="64.5" cy="74" rx="3.5" ry="4" fill="#a03cf0"/><ellipse cx="79.4" cy="78.7" rx="3.5" ry="3.5" fill="#a03cf0"/><ellipse cx="26" cy="83" rx="3" ry="2.5" fill="#a03cf0"/></g>
</g>
<g transform="translate(472 33)">
<g clip-path="url(#ct0)"><path d="M0.4,8.7 1.1,10.4 1.6,12.3 3.3,13.2 4.3,14.6 5.3,16.1 7.0,17.0 7.9,18.6 8.8,19.6 7.7,21.1 6.2,21.8 4.7,22.5 2.7,22.1 1.7,23.8 0.6,24.0 -0.2,22.3 -0.7,20.7 0.5,19.0 0.2,17.3 -0.7,15.7 -0.2,14.0 -0.5,12.3 0.8,10.7Z" fill="#8c0014"/><path d="M8.7,31.0 8.8,32.1 7.9,32.9 9.3,34.8 6.6,34.1 7.4,36.0 6.4,36.2 6.0,37.2 6.2,40.3 4.7,38.8 3.9,39.6 3.0,40.2 2.0,40.2 1.0,40.1 -0.2,40.4 -0.8,39.0 -1.3,37.6 -2.0,36.8 -2.0,35.3 -2.5,34.3 -2.6,33.2 -2.1,32.0 -2.9,31.0 -2.0,30.0 -2.3,28.9 -2.0,27.9 -1.4,27.2 -1.1,26.2 -0.6,25.5 -0.5,23.7 0.6,23.9 1.3,23.2 2.1,22.3 3.0,21.4 3.8,23.7 4.9,22.5 5.2,24.6 6.2,24.5 8.1,23.1 8.5,24.7 8.4,26.4 9.2,27.2 8.9,28.7 8.8,29.9Z" fill="#a8f020"/><path d="M4.8,42.0 5.9,40.4 6.4,38.6 5.9,36.7 5.9,34.9 6.6,33.2 5.0,31.0 7.0,29.6 7.4,27.7 8.5,26.4 10.1,25.4 9.8,23.4 10.7,22.0 12.2,20.9 13.3,19.7 12.8,17.5 11.7,15.1 15.2,15.3 16.5,14.1 17.1,11.9 19.2,11.8 21.1,11.6 20.9,8.2 23.3,8.7 24.9,7.7 26.9,8.1 28.5,7.6 30.0,6.6 31.4,5.1 33.5,6.2 35.0,5.6 36.8,5.6 38.5,5.2 40.2,5.4 42.0,4.3 43.8,5.5 45.5,5.4 47.2,4.5 48.5,5.0 48.8,6.7 48.8,8.3 49.1,10.0 49.3,11.7 49.5,13.3 49.1,15.2 47.2,15.2 46.1,17.0 44.5,17.5 42.9,18.2 41.7,19.9 39.8,19.7 38.1,20.1 36.7,21.0 36.3,22.7 34.6,23.4 33.5,24.6 35.4,28.2 32.3,27.7 31.3,29.0 29.7,29.9 29.2,31.6 29.9,33.5 28.7,35.1 28.5,36.8 29.0,38.6 28.6,40.3 28.0,44.2 26.4,41.3 24.7,41.4 23.1,41.2 21.4,42.7 19.8,43.6 18.1,42.0 16.5,44.3 14.9,41.6 13.2,41.9 11.6,42.8 9.9,42.2 8.3,42.2 6.6,41.6Z" fill="#2444f0"/><ellipse cx="17" cy="31" rx="3" ry="3.7" fill="#f02014"/><path d="M65.4,25.0 67.2,26.9 67.1,28.8 67.4,31.1 65.8,32.9 61.1,33.0 61.6,36.0 57.8,35.9 55.0,36.4 53.3,39.1 49.5,36.2 47.0,36.1 44.1,38.2 41.9,36.2 38.8,36.6 33.9,38.2 30.9,37.1 30.3,34.4 31.8,31.4 29.7,30.1 29.2,28.4 26.4,26.9 31.4,25.0 27.9,23.2 28.9,21.6 28.3,19.4 31.3,18.4 30.0,15.4 32.9,14.5 34.3,12.2 38.5,12.9 40.5,10.7 43.6,9.6 47.0,11.4 50.1,10.9 52.8,12.1 55.4,13.0 56.8,15.1 55.6,18.6 57.7,19.0 64.4,17.7 65.8,19.4 67.0,21.2 68.8,23.0Z" fill="#a8f020"/><ellipse cx="40.8" cy="25" rx="3.5" ry="3.5" fill="#5ad8f2"/><path d="M64.0,2.5 65.7,2.7 67.3,1.5 69.0,2.5 70.7,0.7 72.3,2.2 74.0,2.0 75.7,2.7 77.3,2.2 79.0,3.1 80.7,2.9 82.3,2.9 83.9,3.0 86.3,4.6 84.3,6.2 83.2,7.8 84.0,9.5 84.3,11.1 83.5,12.7 85.4,14.3 84.3,15.9 83.5,17.5 86.4,19.2 83.8,20.8 83.5,22.4 84.3,23.7 82.8,22.9 80.5,22.9 80.6,20.6 79.4,19.5 78.3,18.3 77.4,17.0 75.8,16.2 75.4,14.4 74.2,13.3 73.0,12.2 71.7,11.2 71.1,9.6 69.4,9.0 68.3,7.8 67.8,6.0 66.3,5.3 65.5,3.8Z" fill="#8c0014"/><path d="M85.4,1.0 86.1,1.2 84.6,1.5 82.9,1.6 80.8,1.7 81.3,2.0 80.4,2.3 78.3,2.4 75.3,2.2 74.5,2.7 71.8,2.4 70.0,2.6 68.1,2.4 65.9,2.5 64.4,2.3 62.4,2.3 61.5,2.0 58.7,2.1 58.9,1.8 57.8,1.6 58.2,1.4 59.8,1.2 57.3,1.0 57.3,0.8 57.2,0.6 54.5,0.2 56.6,0.1 56.9,-0.2 60.0,-0.2 61.7,-0.4 63.6,-0.5 65.9,-0.5 67.9,-0.5 70.0,-0.6 71.9,-0.4 73.6,-0.3 75.2,-0.2 75.7,0.0 77.9,0.0 78.9,0.2 80.9,0.2 82.0,0.4 83.7,0.6 89.2,0.7Z" fill="#5ad8f2"/><path d="M40.9,41.0 40.5,41.3 40.7,41.6 39.7,41.9 40.0,42.3 38.0,42.2 37.4,42.5 36.7,42.6 35.6,42.7 34.8,42.8 34.1,43.2 33.0,42.8 31.9,43.2 31.1,42.8 30.2,42.8 29.0,42.8 28.7,42.4 27.8,42.3 28.2,41.9 27.6,41.7 26.9,41.5 27.2,41.2 24.1,41.0 25.0,40.7 26.0,40.4 26.8,40.2 26.8,39.9 27.1,39.5 27.6,39.2 29.2,39.3 29.7,39.0 30.6,38.7 32.0,39.1 33.0,39.4 33.9,39.2 34.7,39.3 35.4,39.5 36.5,39.5 37.4,39.5 37.6,39.9 38.8,39.9 41.4,39.9 40.2,40.4 40.6,40.7Z" fill="#f02014"/></g>
<g clip-path="url(#cb0)"><g opacity="0.9"><path d="M3.3 46.9l10.2 24.5M18.6 52.7l-0.5 4.5M3.5 47.7l2.0 16.4M16.4 48.1l2.4 10.9M2.9 49.9l2.7 17.1M3.6 50.3l9.5 23.6M18.5 53.8l0.3 3.2M5.6 45.8l0.2 18.3M11.7 45.0l-5.4 20.8M13.4 51.3l3.3 17.5M15.5 53.4l2.5 14.4M11.7 46.3l-1.3 23.9M2.8 57.3l1.9 11.1M16.7 66.9l1.6 -20.6M13.9 65.1l5.8 -12.7M15.1 68.4l5.9 -16.0M26.0 66.7l-2.2 -9.8M13.3 71.6l5.9 -21.9M15.2 72.7l9.7 -20.8M23.5 67.8l2.8 -7.6M18.8 71.1l6.1 -26.4M18.6 73.8l2.7 -27.8M16.0 67.7l2.5 -16.9M23.3 75.4l-4.9 -26.3M24.3 53.7l22.4 16.5M24.2 56.5l22.0 17.1M23.7 57.0l20.9 16.1M27.5 61.8l13.3 7.7M23.5 58.6l22.6 8.9M36.3 57.6l11.3 9.1M39.2 52.7l10.7 16.0M38.4 57.9l12.4 8.8M38.7 58.9l6.8 6.9M16.8 80.2l15.1 -1.7M19.6 81.0l15.2 0.7M20.1 82.1l10.1 -1.0M13.8 81.9l17.9 -0.2M15.8 78.6l18.7 2.1" stroke="#b4ec24" stroke-width="0.5" fill="none"/><path d="M12.4 49.2l0.7 18.4M-0.1 44.7l8.6 21.4M3.3 45.7l8.2 27.2M11.7 46.6l3.1 24.7M6.7 47.9l5.2 25.9M12.5 47.6l4.2 26.3M3.2 50.2l1.9 21.0M18.0 52.0l0.4 2.2M18.2 67.5l1.9 -17.8M15.1 58.1l0.5 -5.3M22.4 73.3l2.2 -21.3M13.0 65.7l6.7 -11.9M18.9 72.7l3.2 -25.1M25.7 59.6l19.3 13.2M23.2 54.1l22.0 19.1M27.7 63.0l10.0 6.6M29.0 55.0l12.5 13.7M41.0 57.2l10.5 8.8" stroke="#94d81c" stroke-width="0.5" fill="none"/><path d="M7.7 47.2l4.5 18.9M8.6 50.0l1.6 17.5M11.5 43.3l-0.3 24.6M13.0 45.6l6.1 14.6M7.7 40.7l6.9 26.8M4.3 52.2l7.9 20.0M3.3 51.1l0.4 14.9M13.1 49.9l5.4 20.1M3.2 47.5l2.4 15.2M10.0 50.2l3.7 21.8M3.0 50.0l2.6 17.1M11.4 45.6l4.3 19.1M6.3 41.2l7.4 30.9M6.8 47.6l11.2 23.4M14.9 72.8l3.9 -22.9M23.5 66.7l3.1 -6.9M23.2 66.3l4.8 -15.1M20.9 56.8l19.8 12.6M24.1 61.5l13.9 6.6M31.6 54.8l15.1 15.7M23.2 54.6l22.0 18.0M32.6 58.8l13.9 7.2M36.8 59.3l11.1 6.5M17.5 81.0l11.4 3.0M20.2 82.3l14.2 -0.3M14.8 79.8l17.1 3.2" stroke="#78c014" stroke-width="0.5" fill="none"/><path d="M4.5 50.2l6.2 20.2M12.1 44.6l0.2 21.2M14.9 49.0l4.6 13.1M10.1 50.9l-2.7 20.6M7.6 48.4l-0.6 22.0M18.9 57.2l0.6 3.9M4.0 50.4l2.7 18.0M5.9 45.6l0.1 22.2M25.5 61.9l1.3 -7.1M21.6 69.4l4.4 -15.9M23.7 55.8l23.7 13.7M24.7 59.1l26.6 8.6M38.7 55.6l9.8 9.6M44.2 57.4l4.3 4.0M40.6 56.1l9.8 7.5M40.8 62.2l2.0 1.9M16.7 78.3l13.4 -1.5" stroke="#d0f43c" stroke-width="0.5" fill="none"/><path d="M14.6 47.7l2.6 14.6M3.7 51.4l8.3 16.2M14.0 50.7l3.4 19.1M11.9 44.8l4.4 22.6M1.5 54.6l3.9 14.2M14.0 47.9l3.1 21.9M4.8 48.1l4.3 25.2M13.2 47.9l2.3 16.8M7.2 51.9l5.1 19.1M13.8 47.6l5.1 12.3M14.4 49.1l0.5 16.5M1.8 52.9l5.3 18.9M14.5 50.0l1.9 16.3M13.9 69.7l4.5 -15.5M24.2 67.7l0.3 -11.4M14.9 69.5l4.1 -23.0M13.6 66.5l7.3 -21.3M17.0 73.4l8.3 -21.1M29.7 62.2l9.6 8.6M32.9 56.0l3.9 1.9M29.0 63.0l12.9 9.9M26.8 60.0l14.0 11.3M31.3 51.8l12.3 18.1M36.5 53.7l14.4 16.6M41.1 54.8l6.9 6.5M38.2 54.4l11.5 8.6M20.5 77.7l12.6 1.7M15.8 83.4l14.8 -3.4" stroke="#68b010" stroke-width="0.5" fill="none"/><path d="M3.2 49.2l2.0 21.3M12.7 45.6l4.2 25.4M18.6 53.1l-1.4 12.3M6.6 49.2l-1.7 22.2M-0.1 51.5l5.4 15.1M5.4 45.2l3.3 20.8M2.5 50.5l8.3 21.5M4.1 49.0l3.0 21.9M13.3 71.2l10.6 -25.0M15.6 73.5l13.1 -22.0M25.2 61.7l1.8 -5.6M15.1 65.0l3.1 -17.3M21.4 72.0l4.9 -15.0M20.5 72.9l5.2 -23.0M23.1 53.8l18.9 14.7M30.3 54.4l10.2 9.9M23.5 61.1l14.5 6.2M39.5 57.2l12.1 13.8M42.9 58.1l8.9 6.2M37.9 56.3l9.9 10.5M20.6 76.5l7.1 -0.0" stroke="#c0f030" stroke-width="0.5" fill="none"/></g><ellipse cx="14.8" cy="55.6" rx="3" ry="3" fill="#e88840"/><ellipse cx="0.7" cy="61.6" rx="2" ry="3" fill="#e88840"/><ellipse cx="37" cy="67.5" rx="3.5" ry="3" fill="#a03cf0"/><ellipse cx="22" cy="81.6" rx="3" ry="2.5" fill="#a03cf0"/></g>
</g>
<g transform="translate(42 120.6)">
<g clip-path="url(#ct1)"><path d="M30.2,20.0 28.3,21.5 27.7,23.0 31.3,26.7 28.8,27.3 27.2,28.1 25.1,27.7 24.2,28.6 24.2,32.0 22.7,31.9 21.5,33.6 20.0,34.3 18.5,34.0 16.7,34.7 15.5,32.9 15.0,30.1 12.4,31.5 12.5,28.4 11.6,27.0 8.3,26.9 9.1,24.2 8.5,22.1 10.5,20.0 8.8,17.9 10.9,16.5 9.8,13.9 12.7,13.9 12.0,11.0 14.4,11.5 14.9,9.7 15.8,8.1 17.3,8.2 18.8,9.1 20.0,9.6 21.4,7.5 23.1,6.5 24.4,7.6 26.4,7.2 28.4,7.5 28.1,10.8 29.1,12.4 29.1,14.6 30.6,16.0 30.6,18.0Z" fill="#a8f020"/><path d="M12.5,20.0 11.2,20.5 12.1,21.2 11.9,21.8 11.2,22.2 11.2,23.0 9.5,22.7 8.8,22.9 8.3,23.3 7.4,23.2 6.7,23.2 6.0,23.8 5.2,23.8 4.2,24.0 3.8,23.2 2.0,24.1 1.6,23.4 1.0,22.9 -0.3,22.7 -0.2,21.9 -0.1,21.2 -1.0,20.7 -0.6,20.0 0.5,19.5 0.2,18.9 1.2,18.5 2.2,18.4 2.0,17.7 2.4,17.3 2.9,16.7 3.8,16.8 4.2,16.0 5.2,16.3 6.0,15.6 6.9,15.7 7.9,15.7 8.5,16.4 9.8,16.0 10.2,16.8 10.8,17.2 11.2,17.8 11.4,18.4 11.7,18.9 12.3,19.4Z" fill="#a8f020"/><ellipse cx="3.7" cy="23" rx="5" ry="3" fill="#d0f000"/><path d="M19.5,33.0 20.0,33.9 19.6,34.5 19.4,35.2 19.1,35.8 19.3,37.0 19.1,37.9 18.7,38.3 18.2,38.3 18.0,39.6 17.5,39.5 17.0,38.9 16.6,39.2 16.1,38.9 15.6,39.3 15.3,38.3 14.7,38.2 14.6,37.2 15.0,35.5 14.5,35.3 13.7,34.9 13.4,34.0 14.2,33.0 14.4,32.3 14.3,31.4 14.2,30.5 14.2,29.4 14.9,29.3 14.8,28.0 15.3,27.8 15.8,27.9 16.1,26.9 16.5,26.6 17.0,26.7 17.5,26.1 18.0,26.5 18.1,28.2 18.6,27.9 18.9,28.5 19.7,28.4 20.0,29.1 20.0,30.3 20.0,31.2 19.9,32.2Z" fill="#a8f020"/><line x1="2" y1="20" x2="7" y2="2" stroke="#a8f020" stroke-width="1.2"/><path d="M65.6,21.0 64.0,22.7 66.0,25.0 68.9,28.3 61.5,27.5 60.0,28.6 59.8,31.0 56.6,30.5 55.6,32.6 53.3,32.6 50.9,31.7 49.0,30.0 47.2,31.2 45.1,31.7 43.4,30.9 41.5,30.4 40.2,29.1 36.9,29.4 34.7,28.3 33.4,26.7 32.7,24.8 31.1,23.1 33.8,21.0 33.5,19.2 33.8,17.4 35.8,16.2 37.9,15.3 37.9,13.3 38.3,11.1 41.4,11.5 43.4,11.2 44.6,9.1 47.0,10.1 49.0,8.7 50.9,10.3 52.6,11.1 54.6,11.1 56.7,11.4 59.3,11.5 61.3,12.5 61.5,14.6 60.7,16.7 61.8,18.0 62.5,19.4Z" fill="#4ab4f0"/><path d="M54.9,28.5 56.7,28.1 58.3,28.6 60.0,28.8 61.6,29.8 63.4,29.2 64.8,30.3 66.8,30.3 68.3,31.0 69.0,33.1 70.9,33.1 71.8,34.8 73.5,35.3 74.5,36.4 77.3,36.5 77.6,38.6 79.2,39.7 79.8,41.6 81.0,43.0 79.2,42.7 78.2,40.9 76.3,40.9 74.9,39.6 73.3,39.0 71.2,39.4 69.4,39.5 68.5,37.3 67.1,36.5 65.5,36.1 63.2,37.4 62.3,35.4 61.0,34.2 59.6,33.5 58.5,32.7 57.7,30.9 55.6,29.9Z" fill="#4ab4f0"/><ellipse cx="52.7" cy="20.8" rx="4" ry="3.5" fill="#2444f0"/><path d="M42.6,41.5 44.3,41.1 45.5,40.0 46.4,38.6 47.6,37.5 49.0,36.7 50.6,36.1 51.4,34.5 53.3,33.7 54.9,35.9 53.3,36.6 53.3,39.3 51.3,39.6 49.6,40.3 48.7,41.9 47.5,43.0 46.0,44.0 44.1,43.7Z" fill="#f02014"/><path d="M8.7,34.0 9.3,34.1 9.2,34.2 9.4,34.4 9.5,34.6 9.1,34.7 9.4,35.0 9.0,35.2 7.1,34.9 6.5,35.0 6.0,35.4 5.0,35.1 4.2,35.1 3.6,35.0 2.9,34.9 2.2,34.9 2.4,34.6 1.9,34.5 0.6,34.6 -0.1,34.5 0.4,34.3 -2.4,34.2 0.1,34.0 -0.2,33.8 0.6,33.7 0.6,33.6 0.5,33.4 1.3,33.4 1.8,33.3 2.2,33.1 3.2,33.2 3.5,33.0 4.3,33.0 5.0,32.9 5.8,32.9 6.7,32.8 7.2,33.0 8.4,33.0 8.8,33.1 8.9,33.3 9.3,33.4 9.3,33.6 8.6,33.8 9.6,33.9Z" fill="#2444f0"/></g>
<g clip-path="url(#cb1)"><g opacity="0.5"><path d="M17.9 48.8l9.0 -0.1M16.6 51.3l20.3 -4.0M11.1 53.9l23.9 -7.8M12.4 56.1l18.2 -1.9M26.3 81.5l24.9 -7.9M24.9 82.6l28.6 -15.8M25.7 78.2l19.5 -9.2M20.5 77.2l31.5 -2.0M29.8 78.2l17.3 0.5M28.2 77.2l26.1 1.9M37.6 80.9l4.0 -0.4M31.9 72.4l2.4 -6.4" stroke="#b4ec24" stroke-width="0.5" fill="none"/><path d="M13.7 52.0l23.3 -5.8M10.1 55.3l30.0 -4.9M20.4 49.0l9.3 -1.7M13.1 54.7l22.6 -1.3M19.8 80.9l30.2 -4.8M27.2 81.3l22.7 -3.1M20.2 74.6l27.9 -1.2M26.8 74.2l3.2 -9.8M28.4 75.9l3.9 -7.8" stroke="#94d81c" stroke-width="0.5" fill="none"/><path d="M16.9 55.6l12.6 0.1M16.7 55.6l21.8 -9.3M8.6 51.0l25.4 2.1M19.8 50.9l10.4 -4.6M13.0 50.2l25.2 0.5M7.7 56.8l31.0 -10.0M12.3 52.9l28.6 -7.0M15.7 48.9l24.5 -0.0M10.3 53.2l25.9 -4.9M18.4 59.3l17.9 -10.2M12.9 56.0l22.0 -3.3M30.1 83.5l12.1 -5.4M24.8 81.9l21.4 -8.4M31.0 81.0l20.7 -12.1M22.4 81.3l26.3 -4.9" stroke="#78c014" stroke-width="0.5" fill="none"/><path d="M17.5 54.2l21.5 -0.7M25.1 78.6l18.2 -6.0M26.7 79.1l19.3 -9.1M32.2 72.2l13.2 -1.5M26.1 76.0l5.3 -12.2M31.6 75.1l1.3 -7.0M27.9 76.2l4.2 -14.3M26.1 75.2l4.0 -10.0" stroke="#d0f43c" stroke-width="0.5" fill="none"/><path d="M15.1 57.0l13.1 -2.6M5.7 54.9l31.2 -2.0M29.0 78.6l26.3 -1.2M26.9 82.5l29.3 -17.0M31.4 83.3l13.6 -5.5M28.6 73.3l17.4 -2.8" stroke="#68b010" stroke-width="0.5" fill="none"/><path d="M16.2 56.0l15.0 -2.3M12.9 50.1l16.7 -1.7M26.4 82.2l18.8 -2.8M25.6 72.2l4.3 -5.7M24.4 73.3l8.1 -7.4" stroke="#c0f030" stroke-width="0.5" fill="none"/></g><ellipse cx="33.4" cy="48.7" rx="4.5" ry="2.5" fill="#a03cf0"/><ellipse cx="31" cy="78.4" rx="5" ry="3.5" fill="#a03cf0"/></g>
</g>
<g transform="translate(128 120.6)">
<g clip-path="url(#ct1)"><path d="M21.1,4.0 20.5,4.5 18.9,4.9 18.4,5.4 17.8,5.8 17.6,6.3 17.5,7.0 17.8,8.2 15.7,8.1 13.5,7.3 12.5,8.2 11.0,7.8 9.6,7.9 8.2,7.8 7.1,7.4 5.1,7.6 4.9,6.8 3.9,6.4 3.8,5.8 0.6,5.9 0.4,5.2 0.8,4.6 0.0,4.0 1.3,3.4 0.9,2.8 -1.0,1.8 2.7,1.9 4.4,1.7 5.4,1.4 6.9,1.4 7.6,1.0 8.6,0.7 9.6,0.2 11.0,0.4 12.3,0.4 13.7,0.3 15.1,0.4 16.3,0.7 18.2,0.7 20.2,0.8 19.3,1.9 21.2,2.1 20.9,2.8 20.9,3.4Z" fill="#5ad8f2"/><path d="M47.4,22.1 48.1,23.5 49.1,25.0 43.8,26.6 46.1,28.3 44.7,30.0 41.7,31.3 37.8,32.0 35.6,33.4 33.9,35.6 30.9,37.3 26.9,36.6 23.3,38.6 20.3,37.0 17.4,36.8 16.7,34.4 13.4,35.0 12.1,33.9 10.4,33.2 3.0,34.8 4.0,32.7 2.8,31.4 3.8,29.7 3.5,28.4 2.8,26.9 -0.4,25.2 2.5,23.5 6.2,22.2 6.2,20.0 10.9,19.4 14.0,18.4 17.9,18.3 20.8,17.9 23.4,16.9 26.3,16.2 28.4,18.0 31.9,16.1 35.7,15.2 37.2,16.6 44.6,14.0 40.5,18.4 42.5,19.0 46.7,19.1 47.2,20.6Z" fill="#eef000"/><ellipse cx="23.7" cy="27.5" rx="5" ry="3.5" fill="#72f0c2"/><path d="M5.0,40.1 6.6,39.3 8.3,39.7 9.9,39.0 11.7,39.3 13.4,39.3 15.0,38.7 16.7,38.7 18.4,38.9 20.0,38.8 21.7,38.6 23.4,38.7 25.0,37.9 26.8,38.1 28.2,37.1 29.6,36.0 30.9,35.0 32.8,35.2 34.1,34.1 35.7,33.5 37.4,33.2 39.0,32.8 40.5,32.0 42.0,31.4 43.7,31.1 45.1,30.4 46.0,27.4 48.2,28.4 50.1,28.7 51.8,28.3 53.2,26.9 54.8,27.4 56.1,28.5 57.6,29.3 59.2,29.9 60.8,30.5 62.3,31.4 64.3,31.3 65.2,33.2 67.0,33.3 68.5,34.2 70.5,34.9 70.6,36.7 71.0,38.4 71.1,40.1 71.9,41.7 72.0,44.2 70.4,44.1 68.7,44.2 67.1,43.4 65.5,43.7 63.8,44.0 62.2,42.8 60.6,43.6 58.9,43.1 57.3,43.8 55.7,44.2 54.0,43.9 52.4,42.7 50.8,44.2 49.1,43.0 47.5,43.4 45.9,43.2 44.2,42.8 42.6,44.2 41.0,43.9 39.3,43.3 37.7,44.2 36.0,44.9 34.4,43.5 32.8,44.0 31.1,43.2 29.5,44.1 27.9,43.5 26.2,43.7 24.6,43.3 23.0,43.3 21.3,42.9 19.7,44.2 18.1,43.1 16.4,42.9 14.8,43.7 13.2,43.6 11.5,43.6 9.9,43.2 8.3,44.3 6.6,43.5 5.5,43.5 5.5,41.8Z" fill="#f02014"/><path d="M84.4,18.0 77.7,20.3 79.0,23.0 77.0,24.8 74.7,26.0 74.3,28.5 70.9,27.8 70.2,30.0 68.2,30.2 66.7,31.3 65.0,32.7 63.0,34.1 60.5,36.4 58.3,35.0 56.4,33.4 54.6,32.0 53.6,29.6 52.8,27.4 48.8,27.7 46.9,25.8 49.3,22.3 48.5,20.2 49.3,18.0 48.6,15.8 49.3,13.7 50.5,11.9 50.5,9.5 51.2,7.1 53.9,6.8 53.9,3.0 55.9,1.5 58.9,3.3 60.8,1.6 63.0,4.0 64.7,5.7 67.1,3.1 69.1,3.8 72.0,3.0 73.9,4.5 73.9,7.9 76.1,9.1 76.1,11.6 78.8,13.1 80.9,15.3Z" fill="#72f0c2"/><ellipse cx="66.3" cy="22" rx="3.5" ry="4.5" fill="#2444f0"/><path d="M84.9,30.0 84.5,31.5 84.8,33.5 84.5,34.9 84.4,36.8 84.2,38.3 83.7,38.5 83.7,41.3 83.0,39.4 82.7,40.5 82.4,43.3 82.0,45.6 81.4,46.6 81.0,44.1 80.7,42.3 80.2,41.9 79.9,40.7 79.8,38.2 79.4,37.2 79.5,35.0 79.1,33.7 79.0,31.9 79.1,30.0 79.0,28.2 78.9,26.0 79.6,25.3 79.9,24.1 80.3,23.6 80.0,20.1 80.4,18.9 80.9,19.2 81.2,18.7 81.6,17.6 82.0,17.2 82.4,17.0 82.9,16.2 83.2,18.4 84.0,16.2 84.3,18.3 84.8,19.6 84.8,22.2 85.2,23.7 85.1,26.1 85.1,28.1Z" fill="#f02014"/><path d="M66.3,41.0 66.3,41.2 66.6,41.5 67.1,41.9 66.8,42.2 66.3,42.4 66.3,42.9 65.4,42.9 64.8,42.9 64.1,42.9 63.5,42.8 63.0,43.1 62.4,43.1 62.1,42.6 61.4,42.7 61.0,42.6 60.2,42.6 59.8,42.4 60.0,42.0 59.8,41.7 59.0,41.6 59.1,41.3 58.2,41.0 57.6,40.6 59.3,40.5 59.4,40.2 59.2,39.8 60.5,39.9 60.7,39.7 61.0,39.4 61.1,38.9 61.8,39.0 62.4,39.1 63.0,38.8 63.5,39.2 64.3,38.8 64.5,39.4 65.3,39.2 65.6,39.5 66.0,39.7 66.3,39.9 66.8,40.1 67.1,40.4 67.1,40.7Z" fill="#2444f0"/><path d="M84.9,5.0 84.9,5.5 85.3,6.4 85.2,7.0 84.8,7.3 84.7,7.9 84.2,7.9 84.1,8.3 83.9,9.1 83.7,9.5 83.3,8.9 83.0,8.4 82.8,8.3 82.5,8.1 82.3,7.9 82.1,7.8 81.6,8.1 81.6,7.3 81.4,7.1 81.4,6.5 81.3,6.0 81.4,5.5 80.9,5.0 80.8,4.4 81.0,3.8 81.3,3.4 81.1,2.6 81.4,2.3 81.5,1.5 81.9,1.5 82.1,1.0 82.5,1.5 82.7,1.1 83.0,1.2 83.3,0.8 83.5,1.3 83.8,1.6 83.8,2.5 83.9,2.9 84.3,2.8 84.6,3.0 84.6,3.5 84.7,4.0 84.8,4.5Z" fill="#eef000"/></g>
<g clip-path="url(#cb1)"><g opacity="0.35"><path d="M52.7 60.5l14.7 12.3" stroke="#b4ec24" stroke-width="0.5" fill="none"/><path d="M62.4 56.5l14.7 7.3M62.8 55.6l12.0 8.7M62.9 52.7l16.1 8.1M54.0 63.0l11.8 9.1M56.7 61.0l8.5 10.6M58.4 62.2l9.1 8.5" stroke="#94d81c" stroke-width="0.5" fill="none"/><path d="M67.1 50.2l13.7 9.5" stroke="#78c014" stroke-width="0.5" fill="none"/><path d="M61.5 51.8l19.1 7.2M59.2 52.3l19.7 9.9M62.4 58.2l7.4 3.3M57.4 65.8l13.2 6.7M60.1 63.6l5.0 2.8" stroke="#d0f43c" stroke-width="0.5" fill="none"/><path d="M58.7 46.3l15.6 20.8M64.1 57.1l11.7 9.8M62.9 51.5l19.2 14.4M52.9 64.3l14.2 5.9" stroke="#68b010" stroke-width="0.5" fill="none"/><path d="M62.9 56.8l10.3 5.7M59.4 47.1l13.7 18.4M59.9 63.4l8.2 6.4" stroke="#c0f030" stroke-width="0.5" fill="none"/></g><ellipse cx="69" cy="58" rx="4" ry="2.5" fill="#a03cf0" transform="rotate(20 69 58)"/></g>
</g>
<g transform="translate(214 120.6)">
<g clip-path="url(#ct1)"><path d="M6.3,34.3 7.1,32.5 8.9,31.8 10.3,30.5 10.9,28.6 12.4,27.5 13.9,26.5 14.6,24.6 16.8,24.3 17.9,22.9 18.4,20.9 19.6,19.6 20.7,18.2 22.8,17.8 23.8,16.3 24.9,14.9 26.4,13.9 27.7,12.7 28.4,10.9 29.5,9.5 31.2,8.7 32.9,7.9 33.8,6.3 35.2,5.4 36.7,4.8 38.1,3.6 40.0,3.8 41.5,3.0 42.5,2.0 42.4,3.7 44.0,5.2 43.7,6.8 42.8,8.6 44.1,10.1 44.0,11.7 43.7,13.4 44.5,15.3 42.7,16.2 42.1,17.8 40.9,19.0 40.7,20.8 39.3,21.9 39.0,23.6 37.9,24.8 36.3,25.4 34.6,25.7 32.9,26.3 31.3,26.9 29.9,28.2 28.0,28.1 26.8,29.9 25.3,30.7 23.4,30.3 22.6,32.8 20.4,31.6 18.7,31.7 17.5,33.0 16.0,33.6 14.6,34.5 12.7,34.1 11.7,36.0 10.2,35.7 7.8,35.5Z" fill="#f02014"/><ellipse cx="26.7" cy="17.8" rx="5" ry="3" fill="#2444f0" transform="rotate(-40 26.7 17.8)"/><path d="M63.0,34.0 71.8,35.7 59.3,36.2 59.0,37.3 55.5,38.0 53.2,38.7 51.5,39.6 49.7,40.6 48.8,42.6 44.2,42.2 41.3,44.0 37.0,42.6 33.1,43.0 29.0,43.1 24.7,42.9 23.3,41.1 16.7,41.8 15.5,40.2 14.0,38.9 13.9,37.5 11.3,36.5 13.0,35.1 13.8,34.0 12.1,32.8 9.6,31.3 14.5,30.6 12.0,28.6 17.4,28.3 20.3,27.6 21.0,25.7 26.9,26.6 28.6,24.5 32.8,24.4 37.0,24.8 41.0,24.8 45.1,24.8 48.0,26.0 52.2,26.1 56.8,26.4 58.2,27.9 59.0,29.3 60.5,30.4 66.6,31.1 69.2,32.5Z" fill="#2444f0"/><ellipse cx="45.3" cy="31" rx="5" ry="4" fill="#eef000"/><path d="M82.5,27.0 81.4,28.4 81.0,29.8 81.1,31.4 80.5,32.9 78.0,33.3 76.0,33.8 75.8,35.9 76.4,40.6 71.6,36.1 70.2,38.1 68.0,38.4 65.9,37.6 63.8,37.4 61.7,37.1 57.9,38.5 54.7,38.2 55.7,34.8 54.1,33.6 52.8,32.1 52.6,30.3 52.7,28.6 52.8,27.0 54.8,25.6 53.6,23.9 56.5,23.2 55.4,21.1 56.2,19.5 58.9,19.3 60.5,18.4 62.4,18.0 64.0,17.1 65.9,16.5 68.0,14.3 70.6,13.7 72.2,16.5 74.5,16.5 75.7,18.3 77.9,18.6 78.7,20.2 80.8,21.0 82.6,22.1 82.8,23.8 83.2,25.4Z" fill="#8c0014"/><ellipse cx="69.8" cy="26" rx="6" ry="3.5" fill="#f02014"/><path d="M84.2,9.0 84.8,10.3 86.1,11.9 85.3,13.2 84.0,14.3 83.0,15.6 79.8,15.2 79.3,16.8 77.9,17.9 75.8,18.0 73.8,17.5 72.0,17.2 70.2,17.8 68.6,16.9 67.3,16.1 65.8,15.7 62.7,16.4 61.4,15.3 61.2,13.8 59.8,12.9 58.5,11.7 59.7,10.2 60.9,9.0 57.7,7.6 61.7,6.9 59.5,5.1 60.9,4.0 60.5,2.1 63.5,2.2 62.4,-1.4 65.9,-0.2 68.4,0.6 70.0,-0.6 72.0,-1.4 73.9,-0.3 75.6,0.5 77.7,0.4 80.2,0.2 79.6,2.9 80.4,4.0 81.3,4.9 82.6,5.7 84.2,6.5 84.8,7.7Z" fill="#80f0a0"/><path d="M5.4,40.0 4.9,40.4 5.7,41.1 5.8,41.7 5.6,42.3 5.7,43.2 4.9,43.3 4.2,43.4 3.5,43.3 3.2,44.1 2.7,44.6 2.0,44.9 1.3,44.8 0.7,44.5 0.4,43.6 -0.1,43.3 -0.2,42.6 -1.1,42.6 -0.9,41.9 -1.9,41.8 -2.7,41.4 -1.6,40.5 -2.0,40.0 -1.6,39.5 -2.7,38.6 -1.1,38.6 -1.4,37.8 -0.8,37.6 -0.4,37.2 -0.0,36.9 0.4,36.6 0.9,36.3 1.4,35.6 2.0,35.7 2.6,35.6 3.1,36.1 3.9,35.8 4.2,36.5 4.8,36.7 5.3,37.2 5.0,38.1 5.5,38.4 5.6,38.9 5.3,39.5Z" fill="#72f0c2"/></g>
<g clip-path="url(#cb1)"><g opacity="0.7"><path d="M7.0 63.0l13.6 -10.8M4.2 61.0l8.0 -8.8M3.3 67.7l12.7 -14.0M2.7 61.8l8.7 -8.4M3.6 71.0l14.7 -14.6M7.6 64.3l13.6 -8.5M9.3 68.8l8.1 -7.5M24.8 65.3l19.0 0.5M28.8 67.0l10.8 -1.7M18.8 61.3l24.1 1.5M14.0 62.2l23.6 -2.7M13.8 67.0l21.9 -14.0M21.8 58.1l8.5 -0.7M38.2 58.9l18.9 -7.7M48.6 62.1l5.1 -1.6M38.1 60.9l25.6 -5.4M47.7 65.9l15.8 -4.3M53.9 62.1l11.9 2.3M53.1 69.1l23.6 -2.3M48.0 64.8l26.0 8.7M68.4 74.5l10.0 8.5M61.0 70.3l14.7 13.5M9.3 77.9l5.2 1.0M2.8 75.3l22.2 -2.8M8.8 74.3l19.8 -0.2M70.2 57.3l15.9 -0.3M71.0 59.2l11.4 -5.0M67.5 56.9l16.2 0.8" stroke="#b4ec24" stroke-width="0.5" fill="none"/><path d="M7.6 67.4l12.1 -9.7M-0.4 63.2l20.7 -10.4M8.5 71.5l10.5 -17.1M4.9 61.5l11.4 -10.8M26.2 64.7l17.4 -0.6M15.0 62.6l28.2 -1.5M22.2 58.2l7.4 -0.7M42.5 64.4l9.8 -4.9M37.2 64.0l21.8 -11.7M36.9 55.1l19.7 -3.6M32.9 64.6l29.5 -11.5M36.2 60.4l22.0 -9.4M41.0 56.6l19.8 -4.6M48.9 62.3l22.3 3.0M43.3 68.5l25.5 -4.2M44.2 65.6l23.4 4.5M52.6 63.3l10.8 0.2M43.9 68.2l35.4 -1.1M37.8 70.0l36.7 -6.2M63.9 80.6l7.3 3.9M59.9 75.4l18.6 8.0M57.7 78.4l27.2 5.1M11.0 70.9l5.9 -0.0M4.8 75.5l27.5 -1.6M0.8 73.3l24.0 4.0M68.0 63.9l14.9 -0.0M67.9 63.1l13.4 -1.4" stroke="#94d81c" stroke-width="0.5" fill="none"/><path d="M13.5 66.2l3.4 -2.6M5.0 58.2l0.8 -0.9M2.7 70.6l18.2 -17.6M6.6 59.0l11.9 -8.1M15.2 68.5l28.4 -6.0M18.0 67.9l24.1 -4.4M12.6 64.5l33.2 0.1M35.7 59.9l14.8 -9.7M35.4 62.4l18.5 -5.5M35.4 64.3l25.8 -13.5M41.9 71.8l30.4 -5.5M47.6 63.7l16.3 0.2M43.9 70.2l28.5 -0.6M42.1 65.9l28.7 7.7M46.4 67.1l26.5 -3.1M48.4 70.4l22.3 -4.5M64.6 74.1l17.0 14.4M58.4 78.0l20.2 3.4M61.0 72.8l17.5 11.8M4.6 72.9l23.5 2.9M3.6 74.6l18.3 0.4M4.6 73.5l16.3 3.6M5.2 71.7l26.2 6.6M72.2 54.9l10.7 1.5M67.6 60.5l18.0 1.4M69.7 58.4l11.0 0.9M71.3 58.3l11.7 0.1" stroke="#78c014" stroke-width="0.5" fill="none"/><path d="M1.2 69.9l20.3 -9.8M3.5 62.5l17.7 -9.3M-2.0 66.6l24.7 -8.8M8.3 69.5l10.9 -10.2M3.3 64.1l13.3 -11.6M5.3 63.8l15.7 -9.1M17.9 62.9l25.6 -1.6M29.4 57.5l5.9 -1.9M12.9 66.7l27.4 -11.0M26.1 66.1l10.2 0.8M8.8 65.9l36.5 -6.8M16.1 66.1l25.0 -0.4M18.4 62.6l25.0 0.7M34.5 61.0l23.6 -6.9M35.0 58.3l26.4 -8.9M32.6 61.4l24.3 -10.5M36.4 57.2l22.5 -5.4M41.9 54.1l9.4 -2.8M33.0 60.2l23.7 -9.3M38.5 60.1l18.6 -9.8M52.5 71.6l14.9 0.4M49.2 75.1l29.5 -13.5M54.8 66.4l19.1 -2.8M51.8 72.8l23.3 -3.5M46.1 69.0l21.0 -5.8M64.2 81.1l3.1 2.0M65.8 73.2l12.7 11.0M63.8 69.7l14.8 19.7M4.5 70.6l15.9 1.7M6.4 73.0l21.7 8.9M64.2 60.6l19.8 0.0M70.7 60.2l12.1 1.7" stroke="#d0f43c" stroke-width="0.5" fill="none"/><path d="M0.3 72.4l21.0 -19.7M5.8 69.3l15.7 -12.2M11.2 67.6l5.9 -4.2M5.2 64.4l12.6 -11.5M13.4 68.4l30.7 -10.1M28.1 65.3l12.7 1.3M21.1 65.5l25.5 -9.4M18.2 68.0l16.9 -2.2M16.1 60.1l35.5 -1.0M37.8 62.9l22.2 -4.4M33.5 60.6l24.5 -3.5M36.0 56.8l20.5 -4.3M34.2 63.8l22.7 -12.0M39.6 64.8l31.3 4.0M50.3 66.4l20.5 -2.5M51.7 77.1l18.7 -12.2M39.1 60.5l31.4 10.3M50.4 71.7l17.3 1.4M66.1 82.7l8.2 3.4M63.8 73.6l9.6 4.0M62.4 76.8l19.6 5.5M64.4 76.0l16.7 12.3M11.0 77.4l12.0 2.0M8.3 70.4l11.8 1.6M3.4 74.7l23.4 -0.1M14.1 70.7l8.8 2.6M75.3 66.0l1.1 -0.0M69.4 65.5l14.0 -5.1" stroke="#68b010" stroke-width="0.5" fill="none"/><path d="M6.2 67.3l17.2 -17.4M13.4 65.3l6.9 -5.1M7.0 73.8l10.7 -26.0M3.9 63.9l15.8 -14.0M11.0 68.5l5.1 -5.6M-2.0 64.0l17.1 -10.5M12.2 66.2l7.7 -6.4M19.6 63.6l23.4 -6.0M13.7 64.2l31.4 -0.7M16.5 67.8l36.1 -13.0M23.0 58.1l15.7 -1.6M36.2 59.9l19.8 -3.8M44.5 62.5l11.6 -3.8M34.9 57.2l23.6 -5.1M36.1 63.1l18.1 -8.5M41.8 53.3l12.5 -1.7M52.5 66.9l23.3 -5.7M44.4 71.3l21.8 -8.9M62.3 75.3l11.1 10.7M65.8 73.4l8.0 4.7M63.5 75.6l12.8 2.6M62.3 77.0l19.3 11.1M1.0 71.3l25.4 9.4M11.9 71.1l5.7 -0.0M6.6 75.8l20.6 2.2M72.7 58.3l10.3 -1.9M69.3 55.7l13.0 1.7M68.2 55.9l12.1 1.8M74.5 65.6l4.4 -0.0M75.0 54.0l3.1 0.3M66.2 60.6l19.4 0.3" stroke="#c0f030" stroke-width="0.5" fill="none"/></g><ellipse cx="9.6" cy="63" rx="5" ry="3.5" fill="#c050d0"/><ellipse cx="46.7" cy="56.4" rx="5" ry="3" fill="#c050d0"/><ellipse cx="68.3" cy="82.4" rx="4" ry="3" fill="#c050d0"/></g>
</g>
<g transform="translate(300 120.6)">
<g clip-path="url(#ct1)"><path d="M28.3,24.0 29.0,25.9 28.2,27.6 30.7,30.7 27.7,31.6 27.6,34.2 25.9,35.8 23.2,36.0 21.1,36.5 18.9,36.3 17.3,38.9 15.0,38.5 13.0,37.1 10.8,37.5 8.7,36.8 7.8,34.4 5.1,34.7 6.1,31.2 5.0,30.0 2.3,29.4 -0.9,28.4 -4.5,26.6 -0.7,24.0 -0.3,22.0 -1.5,19.5 0.5,17.8 1.9,16.2 4.6,15.6 6.0,14.3 5.3,9.9 8.8,11.3 11.4,12.6 12.6,8.6 15.0,10.4 17.3,8.9 18.7,12.2 20.8,12.2 21.9,13.9 23.5,14.8 28.3,13.2 27.9,16.3 28.8,18.1 27.5,20.6 27.8,22.3Z" fill="#eef000"/><ellipse cx="12.6" cy="23" rx="5" ry="3.5" fill="#8c0014" transform="rotate(30 12.6 23)"/><path d="M45.5,9.0 46.6,10.4 44.5,11.5 43.2,12.6 44.1,14.4 42.1,15.3 40.9,16.5 37.8,16.3 36.7,17.8 34.5,18.2 32.3,18.4 30.0,18.1 27.8,18.1 26.0,17.3 24.3,16.5 22.1,16.4 20.6,15.5 17.8,15.3 17.3,13.9 17.4,12.5 18.6,11.0 17.4,10.1 19.1,9.0 17.6,7.9 14.7,6.3 17.7,5.6 15.1,3.3 18.4,3.0 18.8,1.2 19.8,-0.5 20.3,-3.7 25.7,0.1 27.8,-0.0 30.0,0.7 32.4,-1.1 34.5,-0.2 37.1,-0.3 37.9,1.6 37.2,4.0 38.5,4.6 42.0,4.4 43.6,5.3 43.8,6.6 48.7,7.4Z" fill="#2444f0"/><ellipse cx="23.7" cy="3.7" rx="3" ry="3" fill="#3090a0"/><path d="M43.2,5.0 44.6,5.5 44.7,6.1 45.6,7.0 45.7,7.8 44.0,8.0 43.4,8.5 42.2,8.7 41.2,9.0 40.0,8.9 39.1,9.3 38.0,8.3 37.0,8.9 36.0,8.9 35.4,8.2 34.4,8.2 34.4,7.4 33.3,7.3 32.8,6.9 31.6,6.7 31.0,6.2 30.7,5.6 30.0,5.0 30.0,4.3 30.4,3.7 32.1,3.5 31.8,2.7 32.5,2.3 32.9,1.7 33.2,0.7 35.4,1.8 35.9,0.9 37.0,0.9 38.0,0.6 39.0,0.9 40.2,0.8 40.7,1.6 42.1,1.4 42.0,2.4 43.9,2.1 43.4,3.0 43.2,3.6 43.2,4.1 43.8,4.5Z" fill="#cdf000"/><path d="M51.0,28.0 50.7,29.7 50.2,31.3 49.2,32.7 49.9,35.1 47.0,35.3 45.7,36.2 44.6,37.6 43.1,38.5 42.1,40.9 40.0,40.6 38.0,44.2 35.5,44.0 33.7,41.5 30.8,42.6 28.1,42.2 28.8,37.9 29.3,35.0 28.1,33.9 26.0,33.1 26.3,31.2 23.1,30.0 24.5,28.0 23.8,26.1 24.0,24.2 26.7,23.2 26.2,20.9 27.5,19.6 28.5,17.8 28.7,14.6 32.0,15.9 34.2,15.8 36.1,15.9 38.0,17.0 40.0,15.3 42.1,15.2 43.0,17.8 44.8,18.2 50.8,14.3 49.2,19.0 52.4,19.4 54.7,20.9 51.6,24.3 51.6,26.2Z" fill="#72f0c2"/><ellipse cx="39" cy="26" rx="4" ry="4" fill="#cdf000"/><path d="M39.0,43.2 40.6,41.9 41.6,40.4 38.1,37.3 42.7,37.1 43.3,35.5 43.3,33.6 45.0,32.6 45.4,30.9 45.8,29.2 45.7,27.2 47.7,26.4 48.8,25.2 49.6,23.7 49.9,21.9 50.8,20.4 51.6,18.9 52.8,17.8 54.7,17.4 55.2,15.6 56.6,14.5 56.7,11.8 60.1,13.0 60.8,11.0 61.9,9.4 64.3,9.5 66.2,8.9 66.7,6.1 68.7,5.8 69.8,4.0 71.2,1.1 73.6,3.6 74.9,2.3 77.0,3.7 78.6,3.4 79.9,2.1 81.5,1.8 83.7,1.3 85.3,4.0 80.4,4.0 81.8,6.7 81.8,5.6 80.8,9.8 82.0,10.9 84.7,11.4 82.6,12.4 82.9,14.8 82.0,16.4 80.8,17.9 79.5,18.5 80.7,19.8 81.1,21.9 82.0,23.5 83.8,23.7 83.0,25.6 80.9,25.6 80.3,27.9 79.5,29.8 77.5,30.0 76.8,32.0 75.7,32.0 74.2,33.0 72.6,33.9 71.4,35.1 70.6,36.5 70.4,38.6 68.5,38.7 67.1,39.4 66.3,41.2 64.8,41.9 63.9,43.4 62.0,43.6 60.3,42.9 58.6,44.4 56.9,42.6 55.2,43.2 53.5,47.3 51.8,42.8 50.2,42.8 48.5,43.5 46.8,44.1 45.1,43.0 43.4,43.6 41.7,43.6Z" fill="#f02014"/><path d="M71.8,33.8 69.2,34.1 67.4,34.5 66.8,35.9 64.6,35.2 63.8,36.7 62.3,36.7 61.0,38.2 59.3,37.8 57.9,36.5 56.1,37.0 54.5,36.5 51.1,38.1 49.9,36.2 48.0,35.0 47.4,32.9 47.4,30.8 47.4,28.9 47.0,27.1 47.9,25.5 48.8,24.0 50.7,23.1 50.9,21.8 52.6,21.3 53.5,20.5 53.8,18.9 54.6,17.5 56.2,17.3 57.3,15.5 58.9,14.5 60.8,14.0 62.4,16.1 64.7,14.8 66.4,15.9 67.3,18.0 69.1,18.8 69.3,20.8 68.7,22.9 70.0,24.0 70.6,25.4 71.3,26.9 71.3,28.4 72.7,30.4 71.1,31.6Z" fill="#f02014"/><ellipse cx="63" cy="26.7" rx="4.5" ry="4" fill="#a03cf0"/><path d="M87.5,37.0 85.4,38.1 86.3,39.4 86.2,40.7 85.2,41.7 82.8,41.5 82.8,42.9 81.4,43.1 80.5,43.8 79.6,44.9 78.1,44.0 77.0,45.1 75.9,43.6 74.5,44.7 73.3,44.1 72.2,43.6 70.3,43.9 71.1,41.6 69.2,41.5 66.9,41.1 68.0,39.4 68.9,38.0 67.1,37.0 67.3,35.8 67.7,34.6 68.0,33.4 68.2,32.0 70.5,32.0 71.5,31.4 72.8,31.2 72.3,27.9 74.2,28.6 75.7,29.0 77.0,27.8 78.1,30.0 79.1,30.7 80.6,29.9 81.8,30.3 82.0,31.9 84.7,31.0 85.2,32.3 86.0,33.3 87.4,34.3 86.0,35.8Z" fill="#72f0c2"/><path d="M28.0,40.0 25.7,40.7 25.5,41.3 26.0,42.1 24.4,42.6 23.8,43.3 23.2,44.2 21.9,44.9 20.0,45.4 17.2,45.1 14.8,44.4 13.0,44.1 11.5,43.8 9.9,43.7 7.5,44.3 4.8,44.5 5.3,43.2 3.7,42.9 2.3,42.5 0.4,42.1 -1.0,41.5 -1.8,40.8 -2.4,40.0 0.3,39.3 -0.3,38.6 -0.7,37.8 0.3,37.1 1.8,36.5 3.6,36.1 5.3,35.7 6.4,34.8 9.7,36.0 11.0,35.0 13.0,34.8 14.9,35.2 17.1,35.0 18.8,35.5 21.2,35.5 20.6,36.9 22.6,37.0 23.8,37.5 25.9,37.9 26.9,38.5 25.1,39.4Z" fill="#f02014"/><path d="M5.0,34.0 4.8,34.7 4.6,35.2 4.5,35.9 4.5,36.6 4.4,37.5 4.0,37.8 3.9,38.8 3.4,39.2 3.0,39.5 2.5,39.6 2.0,40.1 1.5,39.7 1.2,38.3 0.7,38.6 0.4,38.1 0.0,37.8 0.0,36.9 -0.3,36.5 -0.8,36.1 -0.4,35.2 -0.5,34.6 -1.1,34.0 -1.0,33.3 -0.9,32.6 -1.2,31.5 -0.3,31.5 -0.0,31.1 0.1,30.3 0.4,29.8 0.7,29.2 1.2,29.7 1.5,28.8 2.0,29.0 2.5,28.7 2.9,28.9 3.4,29.0 3.8,29.3 4.1,30.0 4.0,31.1 4.4,31.4 4.6,32.0 5.0,32.5 5.3,33.2Z" fill="#2444f0"/><path d="M5.0,8.0 5.0,8.7 5.0,9.5 4.6,10.0 4.5,10.7 3.8,10.5 3.4,10.7 3.4,11.7 3.2,12.5 2.9,13.1 2.4,12.3 2.0,13.1 1.6,12.9 1.1,13.0 0.7,12.8 -0.0,13.2 -0.3,12.4 -0.6,11.8 -1.2,11.4 -1.2,10.4 -1.4,9.7 -1.4,8.8 -0.9,8.0 -0.7,7.4 -0.6,6.7 -0.1,6.4 0.0,5.9 -0.2,4.8 0.2,4.5 0.5,4.1 0.8,3.7 1.0,2.3 1.5,2.5 2.0,2.7 2.5,2.2 2.9,2.7 3.3,3.2 3.9,3.2 4.0,4.1 4.5,4.4 4.5,5.3 4.9,5.8 4.8,6.6 4.7,7.4Z" fill="#f02014"/></g>
<g clip-path="url(#cb1)"><g opacity="0.7"><path d="M12.3 68.8l48.5 -14.4M19.5 65.7l42.7 -12.3M13.5 70.5l41.9 -14.5M13.9 65.8l33.8 -14.8M27.3 61.0l22.8 -10.7M28.2 75.7l19.3 -15.2M14.9 65.4l48.5 -7.8M22.0 68.8l39.6 -16.7M15.0 73.6l32.6 -26.1M20.2 73.3l28.3 -11.2M25.3 60.1l24.5 -11.4M22.1 77.2l23.5 -15.6M34.5 74.1l13.9 -8.6M12.5 77.5l43.1 -16.5M27.2 73.9l21.6 -7.1M27.6 68.0l29.9 -6.3M7.8 73.0l46.8 -21.6M27.4 77.3l20.8 -14.0M46.3 53.8l23.1 -8.5M37.3 61.0l26.3 -13.8M42.8 54.3l27.5 -4.7M48.3 59.1l23.8 -1.9M38.9 57.6l31.0 -12.5M49.5 50.1l16.7 -2.6M54.5 61.4l2.1 -0.7M40.5 63.9l30.3 -17.6M44.7 63.8l26.4 -9.9M51.2 68.5l16.5 17.8M59.5 64.0l4.2 7.4M51.9 74.2l4.2 5.7M55.8 62.8l17.8 26.9M66.7 43.9l16.1 6.2M4.4 81.1l17.9 -1.5M7.6 84.0l12.3 -0.4M9.4 83.8l18.2 -5.8M75.7 69.7l0.1 5.2M84.2 65.5l-1.4 9.5M81.9 61.0l2.2 12.8M83.3 63.9l0.4 10.2M9.0 64.0l22.0 -10.5M10.7 62.8l15.4 -6.4M10.3 66.0l18.5 -9.3M60.2 69.9l10.7 -16.6M60.2 64.4l14.8 -10.6M65.5 67.8l12.5 -17.2M60.0 67.4l21.8 -12.0M38.7 86.4l18.2 -8.2M42.8 87.1l9.6 -4.8M39.4 86.1l22.1 -7.0M40.7 83.0l17.3 -7.3M48.0 83.2l13.2 -3.7" stroke="#b4ec24" stroke-width="0.5" fill="none"/><path d="M26.3 64.8l34.6 -11.3M22.5 73.1l28.0 -15.2M18.3 58.8l32.0 0.5M41.1 71.0l9.6 -6.8M20.9 74.1l29.5 -23.7M24.1 72.0l41.9 -16.4M27.8 72.5l27.0 -12.5M17.0 72.3l43.6 -25.5M13.7 66.9l31.5 -15.3M15.0 66.4l29.4 -12.0M20.9 65.0l16.8 -15.2M17.3 65.0l26.6 -11.8M13.9 64.8l37.7 -12.8M48.6 61.9l20.5 -6.3M38.8 54.6l26.0 -4.4M48.5 54.0l18.3 -8.7M53.1 74.7l12.2 12.1M53.0 74.1l6.9 10.5M45.3 63.3l19.6 19.7M52.6 69.0l17.1 17.4M48.6 72.6l17.7 12.3M56.4 68.9l20.0 14.6M47.4 65.6l25.5 24.4M52.1 66.1l21.7 25.8M43.0 66.0l22.3 17.3M63.6 45.0l14.1 1.6M65.0 47.7l10.5 4.1M1.8 81.2l24.4 1.1M78.2 59.2l2.3 17.2M74.7 68.9l1.4 5.1M84.5 67.5l0.5 2.2M10.1 68.3l18.7 -5.8M15.0 63.1l13.3 -11.0M62.5 63.5l14.8 -8.6M36.0 83.2l20.9 -5.0M47.2 78.6l10.4 -5.8M38.4 82.9l26.0 -9.4M39.3 80.3l12.7 -4.2M44.8 78.0l11.1 -4.1" stroke="#94d81c" stroke-width="0.5" fill="none"/><path d="M32.8 77.2l22.9 -20.0M29.7 56.9l14.1 -6.8M14.2 71.2l40.9 -23.6M25.3 69.0l37.2 -18.3M25.6 70.0l34.7 -17.2M24.7 60.6l15.9 -10.9M7.8 71.0l52.5 -16.4M17.1 64.5l28.4 -9.2M41.4 57.5l20.9 -10.0M42.3 57.6l27.5 -12.4M56.7 60.8l1.7 -0.5M42.5 62.3l29.7 -7.0M49.4 62.8l15.5 -7.9M38.6 64.0l24.6 -8.1M49.6 66.3l11.6 17.6M58.3 65.0l13.7 19.3M51.9 62.1l15.5 21.7M63.5 48.0l16.0 4.6M65.0 44.4l9.0 0.3M69.1 49.6l6.6 2.9M5.7 83.2l13.9 0.8M3.2 80.0l17.7 -0.8M8.0 77.9l9.9 -2.2M11.8 77.7l6.0 -3.0M9.3 80.8l15.5 -2.9M3.2 82.5l19.4 -1.5M4.8 79.3l20.8 -1.6M8.4 84.9l9.9 -1.8M77.3 62.0l-2.3 13.1M83.7 66.0l-0.2 9.2M13.0 71.4l13.5 -9.2M8.2 63.1l15.4 -6.4M8.9 63.5l21.2 -9.6M7.9 65.1l24.0 -3.6M11.1 66.8l24.3 -7.8M60.1 68.6l18.0 -11.0M66.1 69.9l13.1 -10.7M67.2 57.4l2.4 -3.4M60.0 70.6l20.7 -12.0M61.0 70.7l13.8 -12.8" stroke="#78c014" stroke-width="0.5" fill="none"/><path d="M34.1 53.7l4.8 -1.7M17.3 73.5l48.5 -24.0M25.9 60.3l16.7 -11.2M35.7 71.9l23.0 -11.2M27.7 75.2l23.5 -13.4M12.5 68.5l45.0 -13.2M21.2 72.4l36.8 -16.2M30.5 68.4l26.3 -20.5M17.2 68.4l38.5 -16.4M15.6 70.8l38.9 -16.6M28.0 57.9l10.9 -6.8M21.1 76.1l29.0 -17.5M30.2 76.2l28.7 -20.3M42.3 64.9l29.0 -17.4M46.4 58.4l24.2 -4.4M47.3 61.0l12.3 -0.4M56.5 61.1l9.9 -4.1M32.3 61.4l34.8 -13.6M36.1 55.0l30.0 -5.0M41.8 59.7l24.4 -10.2M38.9 59.9l25.7 -16.4M33.8 57.9l30.7 -9.6M57.6 64.6l12.1 21.0M50.2 62.1l14.8 27.0M54.6 63.6l17.0 19.1M65.6 49.5l17.8 2.8M64.4 43.4l19.9 8.2M58.5 44.8l20.9 7.4M63.6 48.3l10.7 3.2M66.0 44.2l16.6 4.7M64.5 42.5l12.3 6.3M3.6 81.4l19.0 -2.2M4.2 79.9l26.1 -2.9M73.9 64.8l3.7 7.1M75.9 61.3l5.0 15.9M80.5 61.1l4.3 13.7M80.2 60.5l-0.1 17.8M3.8 68.6l26.1 -11.8M9.7 64.9l20.0 -10.3M18.1 57.3l2.5 -1.3M10.3 67.8l19.9 -5.1M12.7 68.0l15.2 -16.4M58.3 70.4l19.6 -12.7M62.8 61.1l10.6 -8.6M59.9 65.1l9.6 -9.1M63.6 68.6l15.9 -15.3M42.8 78.5l8.5 -2.4" stroke="#d0f43c" stroke-width="0.5" fill="none"/><path d="M11.9 75.4l42.3 -20.6M43.9 69.1l3.4 -1.5M23.2 57.1l11.5 -0.9M29.2 71.1l26.0 -14.5M31.7 75.4l24.6 -20.0M30.3 68.7l28.3 -5.1M26.5 61.1l27.7 -16.3M17.8 69.3l31.7 -18.4M28.4 58.3l6.9 -6.4M38.1 59.9l25.8 -11.7M42.9 56.5l20.5 -8.2M42.6 61.8l23.9 -5.4M47.8 63.0l9.2 -2.8M36.4 53.7l29.1 -0.4M45.8 53.2l25.7 -4.6M38.7 57.8l27.5 -10.1M60.4 65.1l5.6 10.1M52.8 62.6l12.2 21.1M48.2 63.9l19.9 26.1M52.3 62.6l15.4 17.4M51.5 60.6l22.6 30.0M50.4 61.4l14.9 27.6M52.0 60.2l15.1 26.8M47.9 68.1l14.1 16.1M57.6 46.0l26.7 3.3M67.9 43.6l9.7 3.9M80.0 62.9l1.5 14.1M75.6 63.2l2.2 11.1M13.5 67.4l18.1 -10.1M11.3 69.6l17.6 -10.9M63.3 69.1l9.5 -15.2M65.7 60.8l6.5 -9.5M59.0 64.0l12.1 -8.2M69.7 69.9l7.7 -10.1M68.7 70.3l11.0 -15.2M37.5 84.5l23.7 -5.2M37.6 80.1l18.9 -2.3" stroke="#68b010" stroke-width="0.5" fill="none"/><path d="M43.8 69.0l4.6 -1.9M10.8 73.3l50.3 -22.6M26.0 74.3l30.7 -15.7M22.7 63.0l20.7 -11.9M20.6 75.8l38.1 -20.0M20.9 67.0l33.1 -14.7M13.2 74.1l35.5 -27.3M28.1 60.8l15.1 -13.3M26.5 61.7l27.0 -11.7M19.6 66.0l33.4 -14.9M25.7 70.9l22.9 -22.4M44.3 58.8l31.2 -1.9M40.4 57.1l34.4 -0.3M36.5 64.3l28.8 -14.2M34.9 58.0l35.8 -8.3M40.5 59.7l30.7 -2.7M48.3 62.6l12.5 -3.5M54.0 66.4l20.4 18.7M55.8 77.9l2.2 5.2M48.0 67.2l14.3 14.2M52.8 63.9l17.0 23.7M57.3 66.0l14.1 14.6M62.0 48.5l22.4 -1.8M62.0 45.2l25.6 5.4M7.6 78.9l16.2 -3.9M2.0 80.7l21.5 -0.7M75.9 69.0l0.1 6.6M12.4 71.3l16.4 -11.4M11.2 66.6l18.5 -10.0M63.4 60.1l6.6 -5.0M69.2 69.6l8.9 -8.6M61.7 65.1l12.7 -10.7M64.7 59.1l7.8 -6.4M64.7 63.7l10.6 -11.7M40.8 82.0l14.7 -8.4M39.4 81.8l21.2 -6.1M38.5 86.8l20.1 -7.0" stroke="#c0f030" stroke-width="0.5" fill="none"/></g><ellipse cx="15" cy="47.5" rx="3" ry="3" fill="#a03cf0"/><ellipse cx="35.6" cy="62" rx="5" ry="3" fill="#c050d0"/><ellipse cx="61" cy="81" rx="4" ry="4" fill="#a03cf0"/><ellipse cx="1.5" cy="80" rx="2.5" ry="4" fill="#a03cf0"/><ellipse cx="82" cy="76.4" rx="2" ry="3" fill="#a03cf0"/><ellipse cx="72" cy="44.5" rx="3" ry="2" fill="#a03cf0"/></g>
</g>
<g transform="translate(386 120.6)">
<g clip-path="url(#ct1)"><path d="M85.8,6.0 81.3,7.1 86.8,8.5 81.7,9.5 85.5,11.3 81.7,12.5 77.3,13.8 66.2,13.2 63.8,15.1 53.1,13.2 48.3,14.3 42.0,13.5 35.2,15.0 26.7,15.9 25.9,12.7 19.7,12.6 19.6,10.9 12.0,10.9 9.0,10.0 2.9,9.4 3.3,8.2 3.7,7.0 1.5,6.0 2.3,4.9 2.9,3.8 4.3,2.7 9.4,2.0 7.1,0.2 16.2,0.3 18.2,-1.0 20.3,-3.1 25.0,-5.1 34.4,-4.1 42.0,-2.7 49.3,-3.7 53.6,-1.5 57.0,-0.2 62.9,-0.2 65.9,0.7 67.9,1.7 75.5,1.9 73.9,3.2 78.9,3.9 77.2,5.0Z" fill="#2444f0"/><path d="M27.6,5.0 31.9,5.8 32.0,6.6 29.5,7.1 29.5,7.9 29.0,8.7 27.4,9.4 24.0,9.1 22.9,10.0 20.9,10.6 18.0,9.7 16.0,10.5 13.8,10.1 11.7,9.9 10.4,9.1 8.8,8.7 6.0,8.8 5.4,8.1 3.3,7.7 3.3,6.9 1.0,6.5 0.6,5.7 2.7,5.0 1.4,4.3 2.0,3.6 3.2,3.1 4.9,2.6 5.5,2.0 7.2,1.6 7.2,0.4 10.0,0.6 11.7,0.1 13.4,-0.9 16.0,-0.7 18.2,-0.1 21.8,-1.6 22.4,0.4 24.2,0.8 26.2,1.1 27.4,1.7 28.2,2.4 27.4,3.3 29.2,3.7 31.8,4.2Z" fill="#5ad8f2"/><path d="M33.8,3.0 34.0,3.4 34.0,3.9 34.2,4.4 33.9,4.9 32.5,5.1 31.9,5.4 30.7,5.5 30.2,6.0 29.1,6.0 28.0,6.0 27.0,6.2 26.1,5.8 24.7,6.3 23.6,6.2 23.2,5.5 21.9,5.5 21.8,4.9 22.2,4.3 20.4,4.3 20.3,3.8 20.7,3.4 20.0,3.0 20.7,2.6 20.9,2.2 20.2,1.7 21.2,1.4 20.7,0.7 21.8,0.4 23.2,0.4 23.6,-0.2 24.1,-1.2 25.8,-0.6 27.0,-0.2 28.0,-0.1 28.7,0.5 29.9,0.3 30.3,0.8 31.6,0.7 31.9,1.2 32.9,1.4 33.1,1.8 32.4,2.3 33.0,2.6Z" fill="#f05a14"/><path d="M32.0,25.0 28.9,27.3 27.4,29.2 25.4,30.4 26.3,33.3 27.7,37.5 24.0,36.9 21.8,37.0 20.2,37.9 18.4,38.1 16.9,40.1 15.0,42.7 13.2,39.2 11.4,39.1 8.6,41.0 6.7,39.8 5.2,37.9 4.7,35.2 2.0,34.5 1.7,31.9 1.8,29.4 2.3,27.1 0.8,25.0 -2.1,22.2 -1.5,19.5 0.7,17.5 4.3,17.1 4.0,14.1 6.6,13.9 8.0,12.6 9.3,10.8 10.9,9.1 13.1,9.7 15.0,9.9 17.1,8.4 18.5,11.5 20.3,11.6 22.7,11.2 23.5,13.8 26.8,13.3 28.9,14.8 31.2,16.5 32.1,19.3 28.7,22.7Z" fill="#a8f020"/><ellipse cx="14" cy="23.7" rx="3.5" ry="3.5" fill="#308090"/><path d="M42.6,45.0 40.5,42.9 39.0,43.6 37.3,45.6 35.4,45.0 33.9,40.6 31.4,41.9 29.1,40.5 28.4,36.1 29.2,31.3 27.2,29.6 24.5,27.3 27.6,24.1 29.1,22.2 26.0,19.0 27.0,17.1 24.9,12.9 25.3,10.3 25.6,7.5 26.6,5.3 29.9,8.1 30.4,5.5 31.5,3.5 32.8,1.1 34.9,3.8 36.7,3.7 38.5,5.3 40.1,7.5 42.0,8.2 42.5,12.5 44.5,13.4 45.2,16.3 44.8,19.6 46.1,21.6 47.2,23.9 49.3,26.9 50.0,30.0 46.8,30.7 47.8,34.0 45.4,33.9 46.5,37.9 46.9,41.8 46.2,44.5 45.0,46.7Z" fill="#f02014"/><ellipse cx="35.6" cy="26" rx="3.5" ry="4.5" fill="#72f0c2"/><path d="M63.7,9.9 67.2,7.2 67.3,10.0 68.7,10.9 71.0,11.3 71.8,13.5 70.2,17.0 70.7,19.5 70.3,22.4 68.1,25.4 64.6,27.6 64.6,30.5 65.3,35.2 62.0,36.2 59.6,37.4 57.6,39.1 55.8,43.0 53.8,40.0 52.4,38.9 50.7,40.1 49.4,39.8 47.3,41.2 47.1,38.7 45.3,39.2 43.7,38.9 43.1,37.2 42.3,35.9 40.3,35.1 39.2,33.2 38.8,30.7 40.8,27.4 40.8,24.5 41.6,21.3 44.5,18.9 46.2,16.3 47.4,12.8 51.0,14.3 53.1,14.9 54.5,12.8 56.0,12.6 58.1,8.1 60.2,6.7 61.5,7.9 62.7,8.8Z" fill="#72f0c2"/><ellipse cx="60" cy="22" rx="4" ry="3.5" fill="#8c0014"/><path d="M85.4,29.0 85.2,31.1 84.1,32.8 84.3,35.0 82.5,36.0 81.3,37.1 82.5,41.5 79.3,39.5 79.4,44.1 77.2,43.0 75.7,43.8 74.0,47.6 72.5,42.3 69.9,47.0 67.7,46.5 67.1,42.6 64.9,42.4 65.0,38.9 64.9,36.4 63.6,35.1 62.7,33.2 61.7,31.3 63.8,29.0 61.3,26.7 63.5,25.1 62.0,22.0 65.1,21.7 64.9,19.0 65.9,17.1 68.1,17.3 69.3,15.9 71.1,16.6 72.5,15.3 74.0,15.1 75.8,13.4 77.0,15.8 78.9,15.5 79.5,18.1 81.3,18.3 83.6,18.5 83.7,21.1 83.2,23.6 84.3,25.2 84.2,27.1Z" fill="#cdf000"/><ellipse cx="80" cy="28" rx="4" ry="4" fill="#f02014"/></g>
<g clip-path="url(#cb1)"><g opacity="0.65"><path d="M2.2 50.7l25.3 2.9M-1.1 50.2l23.4 2.0M9.5 47.9l17.0 1.6M4.4 48.7l18.7 2.1M10.7 56.6l5.7 0.5M2.2 49.5l24.5 -1.5M0.6 55.0l24.7 -2.1M7.3 54.0l20.5 4.0M1.7 53.8l26.8 1.7M54.4 67.4l11.2 -13.6M54.5 73.2l16.4 -22.7M53.4 67.8l4.7 -22.5M21.8 84.1l8.9 -14.3M23.9 80.2l5.1 -11.6M81.1 63.0l0.5 1.7M75.1 60.9l1.4 6.4M75.6 58.9l0.7 10.5M35.1 61.8l7.6 -12.3M33.9 55.3l9.2 -6.9M30.4 61.7l12.9 -12.9M34.9 62.4l11.9 -10.5M32.0 60.7l13.7 -15.1M65.3 80.7l6.0 -8.8M69.1 84.3l2.9 -10.7M66.9 83.0l3.0 -10.6" stroke="#b4ec24" stroke-width="0.5" fill="none"/><path d="M3.1 53.4l25.5 3.2M7.1 55.4l19.5 -0.3M7.8 48.4l18.8 4.4M51.2 63.1l7.2 -13.9M55.9 65.6l11.7 -13.9M55.8 72.2l16.2 -23.9M49.9 69.8l9.8 -21.3M51.6 73.0l18.3 -25.4M55.1 66.5l10.0 -15.4M21.5 85.9l6.2 -13.6M27.2 86.0l5.8 -10.8M30.4 80.9l2.1 -1.8M67.8 86.0l6.0 -9.3M63.8 85.8l9.5 -13.0" stroke="#94d81c" stroke-width="0.5" fill="none"/><path d="M13.7 56.6l6.1 0.7M-0.2 47.5l23.6 8.8M6.6 55.2l16.6 -1.9M51.2 67.6l10.5 -14.1M52.5 60.8l7.5 -14.0M55.0 64.1l7.6 -19.3M49.8 63.9l12.4 -16.3M50.2 67.1l22.4 -20.5M53.2 59.2l6.1 -9.7M63.9 67.7l6.4 -12.4M58.2 68.7l15.1 -14.1M54.1 67.8l13.4 -19.1M55.0 70.6l12.1 -17.9M51.8 68.8l11.6 -18.7M54.4 54.6l2.6 -4.3M23.0 84.3l9.7 -14.0M22.8 90.6l7.5 -21.2M23.5 82.3l5.7 -12.6M80.5 60.0l0.6 1.9M78.1 56.3l-1.9 11.6M79.7 55.2l0.5 9.5M79.3 54.0l0.7 12.8M33.9 59.8l13.5 -7.1M36.5 62.2l13.0 -17.1M38.1 61.2l8.2 -15.3M71.1 87.1l2.9 -10.1M72.7 84.2l1.8 -5.7M71.6 84.8l3.7 -9.0" stroke="#78c014" stroke-width="0.5" fill="none"/><path d="M7.1 54.3l19.2 1.6M2.7 53.6l17.9 -1.7M2.2 50.4l17.9 4.5M8.9 52.5l17.8 -0.3M4.6 49.5l20.9 -0.4M53.2 71.7l17.3 -25.5M52.7 67.2l4.8 -18.3M50.5 66.8l12.4 -14.7M48.7 64.1l8.9 -10.2M54.3 67.4l18.6 -16.5M52.6 72.9l17.5 -25.4M61.9 66.1l9.0 -7.0M23.2 79.6l7.4 -9.2M21.5 85.2l6.3 -11.5M21.1 87.7l12.2 -19.7M28.1 84.5l5.8 -15.2M19.4 87.7l12.3 -16.5M78.4 56.7l1.6 13.2M33.0 58.5l10.6 -8.2M39.6 62.3l7.6 -14.7M39.1 60.9l5.7 -5.8M65.8 87.1l8.1 -11.5M62.9 84.3l10.6 -11.3" stroke="#d0f43c" stroke-width="0.5" fill="none"/><path d="M8.3 56.2l8.3 0.8M4.8 51.4l21.8 7.8M3.6 55.4l13.8 0.0M6.2 46.9l17.7 2.7M1.1 51.2l31.4 3.2M-2.9 48.1l27.7 5.1M0.7 49.8l23.3 1.8M59.1 69.9l8.6 -13.8M59.3 72.0l10.9 -17.0M54.6 71.1l15.5 -24.3M64.2 68.0l1.9 -2.9M49.2 62.5l17.7 -13.0M49.5 64.6l13.3 -15.0M53.8 67.0l12.4 -17.3M23.8 78.9l1.4 -4.8M22.8 79.5l9.0 -9.0M27.6 83.9l7.7 -10.9M79.1 58.4l2.0 11.5M75.8 53.0l1.5 16.6M30.1 62.1l20.1 -12.2M70.4 86.7l4.3 -10.8" stroke="#68b010" stroke-width="0.5" fill="none"/><path d="M5.1 46.5l13.9 4.5M3.7 47.2l13.5 0.1M2.8 50.2l28.2 7.9M2.9 53.1l17.1 2.5M1.7 48.6l25.6 4.0M49.4 66.8l9.5 -14.7M66.6 64.2l3.0 -5.1M53.2 70.5l10.4 -16.4M44.6 69.3l23.7 -18.1M53.3 60.3l3.0 -11.2M55.4 70.1l7.2 -18.9M57.2 69.6l11.0 -20.2M51.4 73.2l18.8 -17.5M52.0 61.3l8.8 -15.5M75.4 55.1l4.9 16.0M75.2 61.3l-0.2 2.4M66.7 89.9l6.2 -17.2" stroke="#c0f030" stroke-width="0.5" fill="none"/></g><ellipse cx="9" cy="48" rx="4.5" ry="2.5" fill="#c050d0"/><ellipse cx="59.4" cy="61" rx="4" ry="3" fill="#c050d0"/><ellipse cx="26" cy="79.4" rx="3.5" ry="2.5" fill="#c050d0"/></g>
</g>
<g transform="translate(472 120.6)">
<g clip-path="url(#ct1)"><path d="M18.7,13.0 18.4,14.9 18.3,16.8 17.7,18.6 16.1,19.4 16.6,22.2 14.4,21.7 14.3,24.4 12.6,24.1 11.5,25.1 10.4,26.2 9.0,27.8 7.2,30.4 5.9,27.7 4.8,25.8 4.0,23.9 0.6,26.5 -1.7,25.9 0.3,20.8 0.1,18.7 -0.0,16.7 -1.7,15.2 -0.5,13.0 -1.4,10.9 -2.2,8.4 -0.8,6.8 -0.9,4.1 1.2,3.5 3.2,3.6 4.5,3.2 5.7,2.8 6.2,-0.5 7.7,0.2 9.0,-0.2 10.3,0.0 12.0,-1.1 13.6,-1.1 14.1,2.0 15.0,3.3 17.4,2.8 18.3,4.6 19.8,6.1 20.4,8.3 19.9,10.8Z" fill="#f0a828"/><ellipse cx="7.4" cy="6" rx="3" ry="4.5" fill="#90e890"/><path d="M5.6,43.7 5.7,41.8 6.6,40.3 6.3,38.2 7.9,36.9 7.9,35.0 8.2,33.2 8.3,31.3 10.2,30.2 11.7,29.2 12.7,27.7 13.7,26.2 14.9,24.9 15.0,22.5 17.3,22.3 19.0,21.5 19.6,19.7 21.7,19.1 22.6,17.7 23.5,16.1 24.8,15.0 25.3,13.1 27.0,12.3 25.9,9.1 29.5,9.8 30.3,8.5 31.3,6.7 32.9,6.0 34.0,4.5 35.6,3.8 36.8,2.5 38.5,1.8 40.0,1.0 41.7,0.9 43.3,0.7 45.0,0.3 46.7,1.8 48.3,0.6 50.0,0.5 51.7,1.6 53.3,0.8 54.5,0.7 53.8,2.3 53.2,4.0 52.7,5.6 51.2,6.7 51.2,8.7 49.9,9.9 48.6,11.4 48.2,13.3 47.3,14.9 47.0,16.8 45.1,18.0 44.5,19.5 43.6,21.1 42.6,22.6 41.5,24.0 39.5,24.5 38.6,26.1 37.4,27.4 36.5,29.0 34.9,29.9 34.1,31.5 32.9,32.7 32.2,34.3 31.5,35.8 31.3,37.6 30.2,38.9 28.9,40.2 28.8,42.0 28.0,44.3 26.4,43.7 24.7,43.2 23.1,43.4 21.4,43.7 19.8,42.8 18.1,44.2 16.5,43.2 14.9,44.2 13.2,46.0 11.6,44.1 9.9,43.2 8.3,44.2 6.6,42.7Z" fill="#72f0c2"/><path d="M41.6,22.0 42.1,23.7 45.0,26.4 44.5,28.6 43.2,30.5 41.9,32.3 40.0,33.6 37.1,33.1 35.7,34.5 34.5,37.2 32.1,36.8 30.0,37.0 27.7,38.1 25.5,37.3 24.9,33.2 22.7,33.4 22.5,30.6 21.7,29.2 19.5,28.8 18.2,27.4 18.9,25.3 17.9,23.7 15.5,22.0 16.4,20.0 15.5,17.7 16.8,16.0 18.5,14.6 17.4,11.1 19.8,10.2 20.4,7.0 23.3,7.4 25.1,5.3 27.7,6.2 30.0,9.2 31.8,9.3 34.2,7.8 35.4,10.1 38.6,8.6 38.3,12.5 39.6,13.7 41.1,14.8 40.7,17.1 40.6,18.9 44.3,19.9Z" fill="#72f0c2"/><ellipse cx="24" cy="29" rx="5" ry="4.5" fill="#a03cf0" transform="rotate(-20 24 29)"/><path d="M6.8,36.0 7.3,37.1 6.3,37.7 6.1,38.5 6.5,39.9 5.9,40.3 6.2,42.5 5.2,42.1 5.0,43.6 4.3,43.7 3.5,42.3 3.0,42.6 2.3,44.6 2.1,41.5 1.4,42.3 1.0,41.3 0.3,41.5 -0.1,40.7 -0.5,40.0 -0.2,38.6 -1.3,38.2 -1.3,37.1 -1.7,36.0 -1.1,35.0 -1.7,33.6 -1.4,32.5 -0.8,31.7 0.1,31.6 0.3,30.6 1.2,31.1 1.5,30.1 1.9,29.3 2.5,30.3 3.0,30.1 3.5,30.0 3.9,30.4 4.5,30.2 5.0,30.6 5.8,30.3 6.6,30.6 6.6,31.9 6.7,33.1 6.9,34.0 7.1,35.0Z" fill="#2444f0"/><path d="M91.5,26.0 87.7,28.5 87.6,31.0 86.9,33.5 88.9,37.6 80.6,36.0 76.8,35.8 74.7,36.7 73.7,39.3 71.1,39.7 68.5,40.0 66.0,40.4 63.4,40.0 60.7,40.2 58.1,39.7 56.1,38.2 53.7,37.2 51.0,36.2 51.6,33.3 48.2,32.4 47.3,30.3 44.5,28.4 45.9,26.0 46.2,23.8 48.0,21.8 48.4,19.6 49.4,17.6 50.9,15.7 50.7,12.1 53.1,10.2 58.0,12.1 59.9,9.6 63.3,11.2 66.0,12.6 68.0,14.8 70.3,14.3 73.4,13.2 75.0,15.0 76.7,16.2 79.1,17.0 80.2,18.8 83.4,19.7 86.8,21.2 83.4,24.0Z" fill="#2444f0"/><ellipse cx="66" cy="27" rx="6" ry="3.5" fill="#f02014"/><path d="M53.8,38.0 56.9,39.0 55.9,39.9 55.7,40.9 56.2,42.2 51.8,42.1 51.1,43.1 48.8,43.5 45.7,43.0 44.4,44.0 42.2,44.1 40.0,44.0 38.0,43.5 36.0,43.5 33.4,43.7 30.7,43.8 31.0,42.1 29.6,41.6 27.2,41.3 26.1,40.5 24.3,39.8 23.4,39.0 24.7,38.0 23.7,37.1 27.1,36.5 26.3,35.5 27.1,34.7 27.2,33.6 29.9,33.3 31.6,32.8 33.6,32.4 35.4,31.7 37.5,31.0 40.0,29.7 43.0,29.7 43.6,33.2 45.1,33.5 47.4,33.4 48.7,34.0 48.8,35.0 54.2,34.3 51.5,35.9 53.6,36.4 57.5,37.0Z" fill="#eef000"/><path d="M84.8,36.0 84.3,36.6 85.3,37.6 84.5,38.1 84.6,39.0 84.5,39.9 83.7,40.2 82.8,40.4 82.0,40.4 81.3,40.4 80.6,40.1 80.0,40.7 79.4,40.4 78.6,40.9 78.1,40.2 77.4,40.0 76.0,40.7 76.6,39.0 75.5,38.9 75.8,37.9 74.5,37.6 74.9,36.7 73.5,36.0 73.9,35.1 74.6,34.4 75.3,33.8 75.7,33.3 76.4,32.8 77.2,32.8 77.1,31.6 78.1,31.8 78.8,31.7 79.3,31.4 80.0,30.4 80.8,30.6 81.5,31.0 82.6,30.4 82.4,32.2 83.2,32.3 83.9,32.6 84.1,33.4 84.9,33.7 84.9,34.6 84.5,35.3Z" fill="#8c0014"/><path d="M85.2,2.0 84.3,2.2 86.0,2.6 84.6,2.8 83.9,3.0 82.5,3.1 82.1,3.4 81.3,3.6 81.3,4.3 78.9,4.0 77.4,4.0 76.0,3.9 74.4,4.2 73.5,3.7 71.3,4.1 69.8,3.9 69.2,3.6 67.5,3.5 66.4,3.2 66.6,2.9 65.9,2.6 64.1,2.3 66.1,2.0 67.1,1.7 67.3,1.5 67.3,1.2 68.5,1.0 69.2,0.8 70.1,0.6 71.0,0.4 72.6,0.5 73.5,0.3 74.7,0.2 76.0,0.2 77.7,-0.3 79.3,-0.2 81.1,-0.2 82.0,0.1 84.2,0.1 85.0,0.4 85.5,0.8 86.1,1.1 85.1,1.5 84.6,1.8Z" fill="#eef000"/></g>
<g clip-path="url(#cb1)"><g opacity="0.7"><path d="M14.5 59.6l22.5 -8.3M23.8 51.5l14.0 -6.2M7.5 65.3l38.9 -16.3M20.0 66.4l29.4 -18.4M20.1 55.1l12.2 -7.2M20.5 66.6l30.8 -16.4M29.2 65.4l7.5 -1.9M17.2 70.0l25.4 -17.5M14.0 67.8l35.5 -23.3M11.6 72.3l35.9 -28.1M22.9 57.7l24.9 -12.2M19.2 56.5l24.3 -13.0M55.9 60.7l1.4 -0.6M46.5 78.9l27.7 -7.3M55.2 78.9l17.9 -1.0M43.4 83.3l25.3 -8.4M38.7 78.3l34.1 -8.5M52.7 74.8l24.7 -1.1M38.8 69.9l37.9 -3.6M54.5 78.7l20.6 -2.3M54.8 79.5l12.2 -0.4M54.8 81.0l4.5 -0.7M43.9 63.5l32.9 -1.4M70.7 66.6l10.1 4.7M71.2 72.7l5.4 1.2M8.3 79.4l19.6 -4.7M71.9 47.6l6.4 -2.5M69.3 54.0l9.9 -4.0M67.6 52.9l8.1 -8.5" stroke="#b4ec24" stroke-width="0.5" fill="none"/><path d="M17.2 59.4l37.7 -13.8M23.9 65.9l21.4 -12.3M34.5 63.0l10.2 -5.7M15.3 60.7l22.8 -12.2M24.4 69.9l13.1 -9.4M41.1 65.4l34.0 -0.9M57.8 81.0l3.6 -1.9M45.3 73.8l38.2 -16.0M41.9 69.3l36.7 -7.2M45.2 77.6l24.2 -4.0M40.3 81.7l30.1 -14.3M42.5 64.9l43.8 4.1M36.9 68.9l36.1 -1.2M52.3 74.2l27.3 -6.0M72.4 71.9l8.8 1.9M72.4 61.4l13.5 7.3M72.3 61.3l8.5 3.6M64.9 62.8l17.7 9.0M12.3 76.9l13.4 -3.9M20.0 78.8l4.4 -1.2M11.9 77.4l18.3 -8.0M12.3 82.1l13.9 -8.1M14.0 79.3l12.8 -4.5M68.2 48.4l12.0 -2.0M71.7 55.3l8.7 -5.1M70.8 55.0l14.1 -9.8" stroke="#94d81c" stroke-width="0.5" fill="none"/><path d="M25.8 64.1l27.0 -14.2M15.6 61.3l41.2 -15.7M14.0 65.2l24.4 -17.4M25.6 62.9l22.5 -11.2M21.4 68.6l20.0 -24.6M19.6 72.2l22.5 -16.9M16.7 64.0l25.8 -22.7M15.1 63.6l25.4 -17.4M24.4 57.0l21.0 -15.6M11.7 58.7l24.5 -10.2M40.9 77.5l32.5 -10.4M46.8 77.2l23.8 0.3M48.1 68.6l26.1 -11.5M48.8 76.8l28.4 -13.3M48.5 69.6l29.9 -4.0M48.3 66.4l17.9 -9.1M71.4 61.7l12.5 6.7M74.6 62.5l9.9 3.0M76.8 61.6l2.8 2.0M78.2 62.7l1.9 0.3M19.2 79.7l7.5 -3.5M10.7 79.6l15.8 -10.0M7.6 74.3l20.4 0.2M69.3 54.4l12.8 -6.1" stroke="#78c014" stroke-width="0.5" fill="none"/><path d="M28.0 64.9l23.2 -11.1M20.6 58.9l21.0 -12.7M29.4 64.6l17.1 -10.1M14.9 63.5l41.3 -19.7M19.9 67.2l30.6 -22.2M22.5 70.5l17.3 -15.2M18.8 56.9l15.6 -10.0M23.2 54.5l20.6 -10.7M26.5 65.0l20.6 -17.3M14.1 57.4l37.9 -13.9M14.5 66.1l38.0 -22.4M50.1 72.3l27.0 -1.9M45.7 75.1l32.5 -14.7M45.9 69.2l36.8 -11.5M51.4 80.1l23.6 -6.8M51.9 74.1l25.0 -1.5M43.4 65.2l24.9 -4.7M39.8 64.0l28.5 -0.7M51.1 70.7l25.3 -6.9M40.3 69.8l35.3 -9.3M53.9 60.7l6.1 -0.3M46.3 62.7l34.7 0.5M51.8 80.6l29.2 -14.8M50.6 59.6l19.3 2.2M66.7 68.9l18.4 1.6M67.4 67.8l12.1 4.1M10.2 83.0l16.6 -12.1M16.3 80.5l13.9 -7.9M67.3 55.0l12.7 -10.2" stroke="#d0f43c" stroke-width="0.5" fill="none"/><path d="M19.5 63.8l26.7 -10.8M33.4 64.0l6.5 -3.3M15.9 58.9l30.6 -16.6M18.1 61.1l29.7 -17.0M14.4 62.0l27.0 -13.6M17.6 69.2l23.7 -17.5M31.5 65.1l16.9 -13.5M13.1 60.3l25.2 -10.8M31.7 65.1l8.5 -4.7M12.1 61.0l38.6 -17.0M22.8 53.3l24.3 -5.0M22.9 68.9l24.2 -20.8M48.6 69.9l31.2 6.6M50.3 78.9l21.3 -2.4M36.1 77.7l43.1 -10.7M48.2 67.5l27.2 -5.5M51.7 65.4l24.4 -2.8M52.4 77.3l23.8 -7.7M45.3 72.5l40.6 -6.4M48.1 75.0l26.5 -5.6M44.9 81.9l22.1 -7.9M66.5 66.1l14.8 4.3M68.8 68.2l14.8 5.3M71.4 72.4l1.3 1.0M67.1 67.3l13.0 4.8M12.8 81.4l13.8 -7.8M70.6 49.8l10.3 -3.7M71.2 53.3l11.6 -6.3M66.8 55.5l14.3 -7.0M65.8 53.7l11.6 -9.4" stroke="#68b010" stroke-width="0.5" fill="none"/><path d="M19.1 60.0l26.5 -13.8M20.6 70.0l23.7 -25.5M16.8 56.3l18.7 -10.4M29.2 65.2l19.5 -10.4M25.9 69.5l15.7 -14.0M22.2 56.5l22.6 -16.3M12.3 69.0l28.7 -23.6M21.9 55.2l17.6 -10.7M18.4 67.7l21.3 -15.7M16.4 74.8l25.4 -26.1M43.3 81.0l23.4 -13.9M58.9 61.0l8.3 -2.9M39.9 77.6l41.5 -10.3M36.8 68.8l33.7 -5.6M43.2 73.2l35.9 -9.6M57.7 81.1l6.2 -2.4M45.6 74.5l35.3 0.4M41.9 75.4l34.0 2.3M41.2 77.9l37.7 -8.6M59.3 80.7l6.7 -2.8M54.8 79.8l24.9 -5.3M51.9 76.8l29.9 -0.5M57.0 60.3l3.6 -0.4M46.3 71.5l30.2 -5.0M47.6 81.7l16.9 -4.7M43.2 83.1l32.9 -13.6M34.1 75.9l41.2 -15.2M38.8 68.1l35.0 -7.8M50.1 70.7l27.8 -4.0M67.4 66.7l13.1 3.9M69.7 70.5l7.1 4.1M68.4 62.6l13.6 6.9" stroke="#c0f030" stroke-width="0.5" fill="none"/></g><ellipse cx="35.3" cy="49.7" rx="4.5" ry="3" fill="#c050d0"/><ellipse cx="52.7" cy="70" rx="4.5" ry="3.5" fill="#a03cf0"/><ellipse cx="73.8" cy="72.7" rx="4" ry="4" fill="#c050d0"/></g>
</g>
<g transform="translate(42 208.2)">
<g clip-path="url(#ct2)"><path d="M47.7,4.0 43.8,4.5 51.9,5.5 45.4,5.7 44.8,6.3 46.9,7.5 46.5,8.6 39.8,8.1 37.4,8.6 32.6,7.9 29.8,7.9 27.0,8.3 24.1,8.1 20.3,8.7 19.3,7.4 17.2,7.1 12.5,7.4 10.6,6.9 8.7,6.4 8.1,5.8 7.6,5.2 1.5,4.7 2.2,4.0 1.2,3.2 -0.7,2.3 3.5,1.8 8.2,1.5 11.2,1.2 14.9,1.1 15.7,0.4 19.0,0.4 21.3,0.0 24.2,-0.0 27.0,0.0 29.6,0.4 33.3,-0.4 36.4,-0.2 40.2,-0.2 41.4,0.6 46.2,0.6 48.4,1.2 47.8,2.1 51.3,2.5 46.5,3.4Z" fill="#cdf000"/><path d="M41.0,24.0 45.6,25.3 44.4,26.6 41.0,27.3 40.9,28.7 37.3,29.0 38.7,31.3 36.5,32.4 32.9,32.3 30.8,33.9 27.3,33.7 24.0,37.1 19.4,37.6 17.1,34.1 14.3,33.1 12.8,31.5 9.8,31.0 11.7,28.6 10.6,27.7 8.3,27.1 4.0,26.5 3.7,25.3 3.8,24.0 5.9,22.9 5.3,21.6 0.4,19.4 4.4,18.6 2.9,16.2 11.0,17.6 12.9,16.6 15.3,15.9 17.0,13.8 21.0,15.2 24.0,15.4 26.9,15.2 29.0,16.6 32.5,16.0 36.9,15.4 39.4,16.4 46.1,15.8 44.8,18.3 42.2,20.4 42.9,21.6 44.6,22.7Z" fill="#72f0c2"/><ellipse cx="26" cy="23.5" rx="5" ry="2.5" fill="#a03cf0"/><path d="M42.1,25.0 43.3,23.7 43.3,21.8 44.0,20.2 43.5,18.1 45.5,17.0 45.3,15.1 46.4,13.7 47.2,12.0 47.0,10.2 48.2,8.6 47.8,6.8 48.2,4.4 49.8,5.6 51.6,6.3 53.4,7.0 55.2,8.4 56.8,7.4 58.3,6.0 59.4,3.8 62.1,5.3 63.8,4.9 65.4,4.4 66.6,2.5 68.4,2.7 70.6,2.4 68.7,3.2 68.4,5.0 67.0,6.1 66.2,7.6 66.0,9.5 64.9,10.8 63.9,12.2 62.7,13.5 61.9,15.0 62.2,16.7 61.5,18.3 61.6,20.0 64.8,21.7 62.7,23.3 61.3,25.3 62.0,26.8 63.6,27.9 63.3,29.8 64.1,31.3 65.3,32.5 66.1,33.8 64.3,33.9 62.5,33.9 61.3,32.1 59.9,31.3 58.0,31.7 55.8,32.8 54.8,29.4 53.4,30.9 52.1,32.5 50.0,31.7 48.3,32.0 46.6,32.3 45.2,32.9 44.2,31.5 42.9,30.1 42.9,28.3 42.1,26.8Z" fill="#f02014"/><ellipse cx="56.4" cy="17" rx="3.5" ry="4.5" fill="#2444f0" transform="rotate(20 56.4 17)"/><path d="M63.6,38.0 65.1,38.8 62.9,39.3 62.1,39.9 61.1,40.3 61.5,41.3 61.5,42.3 60.3,42.9 58.0,42.4 57.1,43.3 55.5,43.3 54.0,42.8 52.4,43.6 51.4,42.5 49.6,42.8 48.3,42.4 48.4,41.2 46.9,41.1 46.5,40.4 44.7,40.1 43.3,39.6 43.6,38.7 43.3,38.0 43.1,37.2 44.0,36.5 45.6,36.1 43.6,34.7 47.7,35.3 47.8,34.4 48.9,34.1 50.7,34.4 51.4,33.6 52.5,32.8 54.0,32.8 55.4,33.2 56.8,33.2 58.3,33.2 59.3,33.9 61.7,33.6 63.3,34.0 64.6,34.6 65.7,35.3 63.8,36.6 64.6,37.2Z" fill="#2444f0"/><path d="M85.4,28.0 85.7,29.7 85.9,31.5 86.1,33.6 84.9,34.8 85.0,37.3 82.8,36.9 83.1,40.7 80.7,38.7 79.6,39.9 78.3,40.2 77.0,39.3 75.7,39.9 74.7,38.3 73.7,37.5 72.8,36.6 71.1,37.1 70.8,35.2 68.8,35.0 69.6,32.5 67.6,31.7 67.1,29.9 66.9,28.0 66.5,26.0 67.8,24.4 68.4,22.8 69.8,21.8 68.7,18.4 71.5,19.6 72.1,17.8 73.6,18.1 74.7,17.6 75.9,17.4 77.0,16.8 78.0,18.3 79.6,16.0 80.4,18.0 81.7,18.3 83.7,17.7 84.6,19.3 84.1,21.9 85.6,22.8 85.0,24.9 86.3,26.2Z" fill="#80f0a8"/><ellipse cx="80" cy="34" rx="3" ry="4.5" fill="#8c0014"/><path d="M85.0,7.0 85.0,7.9 84.4,8.4 84.2,9.0 84.5,10.2 84.2,10.8 83.9,11.4 83.7,12.4 83.6,14.1 82.8,12.4 82.5,13.5 82.0,12.6 81.6,12.5 81.1,12.8 80.7,12.5 80.3,12.4 79.7,12.2 79.4,11.6 79.3,10.4 79.2,9.5 79.4,8.5 79.4,7.7 79.8,7.0 79.2,6.2 79.4,5.4 79.4,4.6 79.5,3.8 80.0,3.5 80.1,2.7 80.4,2.0 80.8,1.8 81.0,0.4 81.5,0.1 82.0,-0.2 82.5,-0.6 83.1,-0.5 83.4,0.9 83.6,1.9 84.0,2.3 84.0,3.6 84.3,4.0 84.7,4.6 85.0,5.2 85.3,6.1Z" fill="#8c0014"/></g>
<g clip-path="url(#cb2)"><g opacity="0.85"><path d="M49.0 50.9l6.0 11.4M55.4 46.7l6.0 8.7M50.0 47.0l6.5 19.7M54.4 46.6l7.8 15.6M35.0 65.9l16.6 -3.0M25.8 64.2l42.7 4.1M10.9 87.7l9.1 -18.6M18.5 84.0l8.4 -13.9M67.5 66.3l3.9 15.7M66.8 69.7l5.3 12.1M65.5 69.5l4.6 13.2M69.2 66.2l0.7 15.3M81.7 55.0l-1.5 12.0" stroke="#b4ec24" stroke-width="0.5" fill="none"/><path d="M50.8 52.7l2.8 9.3M49.4 51.8l4.3 9.0M49.7 54.2l6.0 7.2M49.1 48.0l8.1 13.0M27.2 68.0l28.5 -0.1M32.9 65.1l26.6 4.4M36.2 63.9l27.4 1.4M12.0 77.4l2.1 -4.5M15.5 82.9l4.1 -15.9M11.3 84.6l8.6 -11.9M9.2 85.4l9.6 -14.2M72.9 67.2l-2.5 11.9M68.8 66.0l1.3 18.2M70.6 66.0l2.2 14.4M70.9 67.8l2.9 8.9M67.6 68.8l5.8 15.7M78.6 58.2l-1.7 5.8" stroke="#94d81c" stroke-width="0.5" fill="none"/><path d="M59.3 50.1l1.1 2.1M57.1 45.7l1.9 15.6M37.1 63.8l25.7 0.3M15.9 83.5l5.0 -16.7M11.5 81.7l4.9 -12.2M12.1 78.8l2.6 -8.8M13.4 85.9l7.2 -16.3M18.1 86.0l4.4 -13.9M17.6 84.1l8.0 -15.1M16.4 87.6l8.1 -11.7M66.5 65.4l7.0 16.6M77.5 55.8l-0.4 7.0M80.9 53.0l0.8 12.3M81.3 56.3l-1.2 9.9M78.6 53.8l2.5 13.1" stroke="#78c014" stroke-width="0.5" fill="none"/><path d="M51.8 42.9l5.0 18.1M50.9 43.7l4.8 20.2M48.8 44.3l8.5 19.7M47.5 45.1l10.7 15.4M52.1 51.3l2.9 16.4M60.0 51.0l2.0 11.6M52.7 48.3l11.1 17.9M29.2 63.5l25.5 2.3M35.5 66.9l24.0 -4.8M13.8 81.3l2.2 -12.9M12.7 87.5l11.7 -18.3M12.9 84.0l4.6 -14.0M13.0 87.7l10.5 -15.8M12.7 81.4l2.6 -11.7M21.4 83.7l0.2 -12.7M17.9 90.4l3.3 -20.3M10.9 81.0l1.9 -5.7M67.9 69.8l2.2 11.1M78.9 56.8l0.4 9.4" stroke="#d0f43c" stroke-width="0.5" fill="none"/><path d="M57.8 46.5l2.8 9.9M52.2 45.2l8.3 24.6M52.9 51.6l3.4 14.6M55.2 39.7l3.7 24.6M24.8 70.0l32.9 -7.0M31.1 62.6l36.7 8.5M40.1 68.7l11.1 -1.7M11.6 78.1l4.4 -8.6M11.6 87.0l3.8 -15.8M21.7 83.0l3.0 -6.0M79.0 51.5l1.2 14.3" stroke="#68b010" stroke-width="0.5" fill="none"/><path d="M50.9 49.7l8.6 18.1M54.0 47.2l8.9 17.0M47.8 45.3l8.9 18.6M54.5 46.5l7.5 15.8M51.0 42.8l4.2 19.6M52.0 47.6l2.9 13.8M53.2 49.2l10.3 14.9M31.2 69.2l34.1 -5.1M22.4 67.9l38.9 -3.9M24.8 71.8l43.9 -11.9M29.2 68.1l36.2 -5.2M23.6 67.9l46.7 -4.9M15.9 89.8l9.2 -17.2M20.0 86.7l4.4 -13.3M22.4 83.9l0.7 -5.4M11.2 80.3l1.5 -5.3M70.7 68.6l0.8 15.3M81.2 54.1l1.7 11.3" stroke="#c0f030" stroke-width="0.5" fill="none"/></g><ellipse cx="56" cy="53.4" rx="3.5" ry="4.5" fill="#e88840" transform="rotate(-20 56 53.4)"/><ellipse cx="18.5" cy="79.7" rx="3" ry="5" fill="#e88840"/></g>
</g>
<g transform="translate(128 208.2)">
<g clip-path="url(#ct2)"><path d="M89.7,7.0 92.8,8.6 89.3,9.9 86.9,11.3 92.0,13.9 76.4,13.0 69.6,13.2 67.9,14.7 64.1,15.9 58.1,16.0 52.7,16.3 47.0,17.1 41.2,16.6 35.9,16.0 30.1,15.8 25.1,15.1 26.5,12.6 19.8,12.6 16.5,11.6 8.2,11.2 10.6,9.5 11.2,8.2 10.6,7.0 11.5,5.8 18.0,5.0 15.3,3.6 14.7,2.1 12.2,-0.1 19.7,-0.5 22.1,-2.2 29.7,-2.0 36.1,-1.8 40.7,-3.3 47.0,-2.8 52.0,-1.2 56.1,-0.4 63.3,-1.5 66.4,-0.1 70.8,0.5 74.7,1.3 78.2,2.3 79.6,3.5 78.0,4.8 85.4,5.7Z" fill="#2444f0"/><ellipse cx="66.8" cy="6" rx="5" ry="3.5" fill="#f02014"/><path d="M13.2,33.0 11.4,34.4 11.2,35.9 12.3,38.2 11.2,39.2 10.9,41.1 9.9,41.9 9.5,44.0 7.7,42.4 7.5,46.4 6.0,43.7 5.0,44.1 4.1,42.9 3.3,42.0 2.5,41.6 1.5,41.6 -0.9,43.8 -1.6,42.1 0.0,38.0 -0.0,36.6 -1.9,36.2 -1.0,34.4 -1.3,33.0 -2.8,31.2 -1.1,30.2 -1.7,28.2 -1.3,26.7 -0.3,25.8 -0.0,23.8 1.3,24.1 2.1,23.2 2.9,21.6 3.8,20.2 5.0,21.8 6.2,20.1 7.0,22.2 7.6,24.0 7.9,25.8 8.5,26.6 10.1,26.0 10.4,27.5 11.3,28.5 14.2,28.8 12.2,31.4Z" fill="#2444f0"/><path d="M71.3,21.9 70.5,23.0 72.7,25.6 70.0,26.1 65.9,25.6 61.7,24.7 58.4,24.1 58.1,26.4 53.3,23.8 50.6,23.9 47.5,23.6 44.2,22.6 41.0,21.4 36.6,21.0 31.8,20.0 32.5,17.2 31.8,15.4 28.4,14.0 27.3,12.5 21.8,10.3 24.0,9.2 22.2,7.4 28.7,8.1 29.0,7.1 24.8,4.0 28.0,4.0 30.4,3.8 32.8,3.7 34.2,2.7 35.1,0.7 39.1,1.7 41.3,-1.6 46.4,3.0 49.9,5.2 54.0,5.3 56.2,7.8 58.3,9.6 63.3,10.4 64.8,12.3 65.7,14.0 62.5,15.2 65.3,16.7 66.4,18.0 68.6,19.8Z" fill="#cdf000"/><ellipse cx="46.3" cy="13" rx="5.5" ry="4.5" fill="#5ad8f2"/><path d="M46.8,33.6 47.3,35.4 45.4,36.2 47.4,39.3 42.5,38.3 41.9,40.2 36.4,37.6 35.8,40.3 32.9,41.1 28.9,38.9 25.4,39.6 21.6,38.1 17.5,37.2 14.5,34.8 11.1,33.1 10.4,30.4 2.5,29.3 7.5,26.6 4.3,24.7 3.7,22.8 4.8,21.4 5.6,20.1 0.3,16.6 3.2,15.9 2.3,13.6 6.2,13.7 7.0,11.9 10.8,12.4 10.2,8.5 12.6,6.4 18.2,9.0 23.0,12.6 26.6,12.8 29.7,15.9 32.4,17.6 36.3,18.1 40.0,19.4 40.8,21.9 43.6,23.5 48.0,25.3 47.2,27.3 51.4,29.6 48.3,30.8 48.8,32.6Z" fill="#5ad8f2"/><ellipse cx="25" cy="26.7" rx="4.5" ry="3.5" fill="#f0a828"/><path d="M82.8,35.0 82.8,36.6 78.9,37.4 78.6,38.7 79.0,40.4 76.1,40.6 74.1,41.0 72.5,41.5 70.9,41.9 69.5,42.6 67.6,42.1 66.0,42.7 64.2,42.9 62.2,43.3 60.2,43.1 57.4,43.6 56.4,42.1 54.8,41.2 53.0,40.4 49.2,39.9 48.5,38.3 50.8,36.4 52.2,35.0 54.4,33.9 52.7,32.5 54.3,31.6 55.4,30.6 56.8,29.9 57.4,28.6 59.9,28.9 60.6,27.5 61.9,26.1 64.2,26.8 66.0,25.8 67.9,26.6 69.3,27.8 72.3,26.2 73.2,27.8 76.5,27.2 75.9,29.5 78.9,29.7 77.9,31.5 78.5,32.6 81.5,33.6Z" fill="#f02014"/><path d="M87.6,28.0 86.3,30.1 84.1,31.4 84.1,33.3 83.0,34.5 83.1,36.9 81.9,37.8 80.8,38.9 79.8,40.1 78.8,41.9 77.3,41.3 76.0,42.1 74.5,43.2 73.4,41.0 72.3,39.8 71.1,38.9 70.3,37.6 68.5,37.4 67.4,36.0 67.1,33.8 68.3,31.3 69.8,29.3 68.0,28.0 65.3,25.8 67.7,24.5 66.4,21.7 66.6,19.3 69.1,19.4 68.9,16.2 71.3,17.5 71.5,13.9 73.3,14.7 74.6,13.9 76.0,16.5 77.4,14.2 78.8,14.4 80.2,14.6 81.3,16.1 82.0,17.9 82.1,20.4 83.1,21.4 83.8,22.9 84.1,24.5 86.4,25.8Z" fill="#72f0c2"/><ellipse cx="81" cy="27" rx="3" ry="4" fill="#eef000"/></g>
<g clip-path="url(#cb2)"><g opacity="0.95"><path d="M2.0 59.1l10.1 2.8M4.0 52.5l19.6 0.5M3.4 49.1l17.0 1.5M5.7 47.3l9.6 2.3M-0.9 49.7l23.9 14.7M-4.7 52.7l20.8 4.7M-7.2 56.8l28.1 1.7M-1.3 58.9l20.9 -1.1M30.7 66.4l5.1 2.5M16.4 54.3l20.3 3.5M14.4 54.9l23.0 5.8M27.7 52.4l4.5 0.7M11.5 55.4l33.4 6.7M16.8 54.5l30.2 12.6M18.2 54.0l19.2 1.3M18.5 63.6l26.7 -2.7M25.0 65.2l11.8 2.4M20.8 57.7l19.6 3.4M25.6 53.3l12.6 2.9M34.3 47.0l13.5 2.6M34.2 53.4l22.8 13.3M24.6 55.2l38.0 3.5M33.6 48.5l29.0 10.6M34.1 50.8l27.3 3.2M25.6 48.1l36.2 12.4M32.9 55.9l29.4 6.1M28.5 49.0l30.0 7.2M32.8 64.8l5.7 3.6M18.3 59.6l22.8 14.4M18.5 69.4l25.8 9.0M26.9 62.2l8.3 4.3M23.2 60.9l15.2 16.2M49.3 61.0l21.3 9.8M60.8 60.9l11.7 6.3M51.5 57.8l21.5 11.1M49.4 55.2l22.2 17.8M53.1 55.1l20.6 19.1M42.9 57.8l29.7 10.1M46.6 52.5l21.1 19.9M46.9 56.8l26.3 20.8M54.4 65.0l9.3 10.2M67.5 50.5l22.7 3.9M71.5 43.8l11.0 4.5M68.4 49.8l18.8 5.2M64.3 48.7l21.0 9.6M62.8 46.0l21.8 5.2M61.2 46.9l22.4 1.8M67.9 44.4l24.0 5.8M67.8 45.3l18.9 4.3M63.0 49.5l22.6 4.7M62.8 48.0l20.5 5.5M59.8 45.3l24.2 7.0M39.1 66.8l16.3 22.8M29.9 68.1l17.1 20.0M41.5 65.6l16.4 27.8M40.8 66.3l13.8 18.7M41.3 64.7l18.5 34.3M32.1 73.6l17.6 17.1M37.2 81.6l4.0 4.7M-1.5 81.6l20.8 3.8M-3.1 74.9l26.0 8.5M0.9 75.5l14.9 -0.6M2.4 77.5l21.6 1.0M7.0 73.4l8.6 1.7M2.7 81.3l21.8 -3.3M59.8 69.0l19.7 19.1M70.4 72.4l9.9 18.8M60.6 75.8l8.0 10.0M61.2 73.9l19.7 19.9M58.7 74.7l13.1 13.5M55.7 70.1l21.3 16.5M59.8 74.9l14.8 16.7M10.7 38.9l19.9 9.7M8.1 47.6l16.0 7.1M11.3 52.8l13.4 2.7M3.5 43.1l28.1 12.4M9.9 50.8l11.8 4.7M6.7 35.7l21.0 25.6M5.7 43.3l21.5 15.2M41.1 52.1l22.1 3.2M50.2 42.1l17.5 -1.0M46.3 51.6l25.4 2.3M52.2 40.8l10.8 0.2M44.9 43.5l12.5 -4.5M46.4 48.4l20.4 2.8M46.3 55.4l10.8 -0.5M44.4 47.8l28.5 2.4M41.2 42.1l24.1 2.8M43.5 48.1l24.5 -2.0M47.4 52.0l16.5 1.4M45.2 56.1l19.6 -4.1" stroke="#b4ec24" stroke-width="0.5" fill="none"/><path d="M4.9 47.9l15.0 3.5M-1.5 55.4l22.7 3.1M-1.3 52.3l23.1 4.0M-0.3 54.0l26.6 -5.1M1.5 51.6l19.9 3.6M-0.4 51.3l28.2 9.4M-2.1 59.2l31.6 -2.6M14.6 63.4l23.2 0.7M13.0 53.8l32.0 14.2M14.8 54.2l30.0 6.3M19.8 60.2l20.5 3.9M30.2 49.0l22.7 2.0M22.9 51.9l39.1 7.2M35.2 57.9l15.4 4.2M31.0 50.2l33.7 9.0M33.9 52.7l27.2 3.9M26.2 50.3l34.5 10.2M28.9 46.3l23.7 4.5M28.5 55.6l22.3 3.4M27.0 63.5l13.8 5.8M22.4 72.7l4.9 2.8M17.1 62.2l21.1 12.9M19.1 70.1l24.4 6.8M24.0 73.5l13.1 3.8M21.4 69.2l14.5 10.9M48.0 54.3l24.0 23.7M46.6 61.5l24.9 13.0M44.6 62.0l35.7 14.0M50.7 54.8l15.3 7.2M50.2 52.6l22.9 18.3M49.4 50.7l22.3 22.0M51.8 56.1l19.3 10.7M53.9 55.5l12.3 7.5M46.9 63.2l13.3 5.6M67.2 52.7l16.2 3.2M68.5 44.8l17.2 3.9M59.8 47.5l30.1 9.2M55.9 47.9l32.6 5.6M56.8 47.0l30.4 1.1M63.9 50.2l29.1 4.5M64.9 44.5l24.3 6.9M30.8 66.9l21.4 25.4M40.6 65.5l20.8 31.1M30.3 58.2l22.0 36.3M36.6 67.8l22.4 24.6M33.0 65.4l26.3 37.6M-2.7 83.7l18.1 1.2M-2.0 82.6l19.3 3.9M1.6 75.7l15.0 -2.1M-6.9 74.7l27.9 9.9M-2.5 82.0l25.6 1.3M-1.6 76.9l26.9 3.8M-2.0 78.3l24.2 0.8M-3.3 79.9l18.3 2.0M5.3 72.7l15.1 5.6M0.5 84.3l13.0 -0.5M59.1 68.2l11.4 20.1M56.8 66.7l16.5 23.2M61.2 68.7l15.0 26.2M63.4 67.1l19.2 25.3M71.3 71.5l3.5 7.3M7.7 42.8l31.3 12.4M8.7 48.7l14.8 6.9M11.6 40.9l24.4 8.4M14.9 39.9l12.3 3.5M4.5 49.6l32.4 2.3M9.6 37.0l22.1 14.5M10.6 40.1l16.0 6.4M43.9 55.1l17.5 -1.3M42.9 48.1l24.5 -4.0M51.1 54.6l11.8 -0.2M46.9 54.4l18.3 -0.5M37.0 46.9l30.4 -4.1M45.3 48.4l23.2 -6.3M43.7 48.8l22.9 -2.5" stroke="#94d81c" stroke-width="0.5" fill="none"/><path d="M-1.6 51.8l21.5 2.0M2.4 57.6l21.4 3.3M1.9 55.3l19.7 2.2M2.0 58.5l20.8 3.9M-1.1 49.0l22.9 2.0M-1.0 49.8l24.4 6.5M-1.8 46.6l25.1 10.1M0.1 50.6l19.9 -1.8M1.9 49.5l22.6 2.4M18.1 58.6l28.3 7.4M14.4 54.5l27.2 3.4M17.9 61.7l26.5 5.0M17.2 63.7l29.1 1.2M15.9 62.2l20.1 3.2M19.8 53.9l20.8 3.9M14.2 56.3l28.2 8.7M20.4 63.0l17.6 0.2M30.2 52.3l24.9 9.0M31.8 47.6l19.5 4.7M34.1 59.3l17.4 2.0M31.3 50.9l29.9 3.5M27.0 49.7l33.0 1.5M16.1 61.9l23.7 17.7M18.6 67.3l16.9 9.0M20.1 62.3l18.0 11.8M16.3 67.8l19.7 10.0M22.8 67.2l15.1 9.4M51.7 52.7l25.7 25.7M62.2 59.1l5.1 5.6M45.3 55.1l31.2 13.9M62.7 60.6l4.2 2.5M63.1 44.4l28.4 10.9M58.5 45.1l28.7 3.4M58.0 50.1l31.3 0.0M63.7 45.8l26.2 3.9M58.4 46.0l26.4 3.1M70.8 53.9l10.3 2.4M66.8 49.8l15.9 7.2M28.4 72.4l30.7 20.4M34.7 69.0l13.6 26.8M51.8 76.7l0.9 2.5M37.3 70.6l18.6 18.2M38.2 63.3l17.6 22.6M32.9 69.4l21.5 30.2M34.6 64.2l28.7 34.7M5.1 81.5l16.5 7.2M0.6 77.1l15.4 9.5M1.4 86.2l15.7 -2.2M1.3 81.5l20.7 6.2M1.9 83.6l20.8 -0.6M3.3 74.1l6.4 -0.3M6.7 87.3l13.5 -4.9M4.1 84.4l14.8 1.5M-2.8 85.0l26.6 -6.7M2.9 80.4l19.3 5.0M59.9 67.0l24.9 27.0M63.5 74.0l6.2 17.5M61.6 69.7l17.4 18.2M60.1 71.5l22.3 21.5M69.9 72.1l9.7 11.7M58.5 66.5l21.6 17.8M68.3 70.9l11.9 14.6M66.5 71.0l12.1 14.5M9.6 37.4l21.9 13.3M11.8 42.2l17.6 12.4M4.4 46.7l21.3 9.2M13.1 41.4l15.0 11.2M8.3 43.1l24.6 7.9M8.7 48.0l15.8 8.5M45.8 40.2l13.5 1.8M44.1 52.7l26.6 -6.1M38.2 50.6l27.8 1.2M42.7 44.5l25.8 2.2M44.4 46.4l22.7 -1.8M45.7 41.0l26.5 6.8M41.0 52.8l27.2 -4.5" stroke="#78c014" stroke-width="0.5" fill="none"/><path d="M-0.5 55.3l27.6 4.2M-2.5 52.4l22.5 8.4M-3.5 47.4l20.8 5.7M-1.2 53.2l22.2 3.7M-1.1 55.6l21.7 2.9M-2.5 53.3l24.7 7.6M-2.9 52.8l25.0 11.5M28.4 53.5l8.7 0.6M20.0 54.6l21.0 2.0M22.3 50.1l14.7 7.0M13.8 59.4l31.9 3.9M30.3 53.8l8.1 -0.5M21.3 65.5l20.8 -1.8M22.4 56.8l21.8 7.9M35.7 60.7l10.8 -0.2M30.3 52.5l25.7 6.8M25.0 51.5l40.8 3.5M35.7 52.6l23.9 1.6M26.3 47.7l39.0 12.8M24.7 49.6l33.2 2.8M32.3 48.2l31.8 20.2M22.4 51.0l36.6 11.8M43.8 61.3l6.5 1.2M26.8 66.1l15.8 3.2M26.4 68.4l11.2 12.2M15.6 64.0l26.4 8.3M26.8 62.1l11.7 6.4M24.8 68.7l13.8 9.3M17.4 62.9l25.9 15.9M22.6 67.7l13.7 12.9M19.2 71.5l21.0 6.2M53.0 61.1l13.9 15.9M48.1 55.5l26.5 16.2M48.0 50.7l20.6 18.8M40.8 51.7l29.7 22.4M69.7 54.4l11.1 0.3M66.9 49.5l18.3 10.1M67.0 42.4l18.9 11.1M60.6 47.0l27.6 8.7M66.4 49.9l20.0 7.7M63.4 52.0l21.9 3.2M30.0 73.6l18.5 14.7M31.2 65.2l20.8 19.8M34.0 77.8l15.5 13.1M34.5 65.3l9.3 25.5M33.2 68.3l21.6 26.7M33.3 67.6l13.1 25.4M34.5 60.8l20.8 33.6M46.2 69.8l7.8 12.6M37.6 81.2l9.4 12.0M-4.1 74.0l26.4 5.5M-4.8 77.3l25.5 3.0M3.2 72.3l7.1 3.2M71.5 73.2l9.1 15.4M59.9 74.0l6.8 11.0M62.3 75.7l10.9 16.6M60.8 67.5l17.8 30.9M60.4 77.4l5.0 4.4M57.1 61.9l23.8 26.5M66.1 68.1l11.7 19.8M6.2 42.8l25.4 12.0M17.4 39.0l3.3 1.7M16.1 55.0l8.2 1.1M11.5 52.9l14.4 2.8M10.5 40.2l24.9 16.7M12.0 50.3l17.2 4.3M8.8 45.6l28.5 11.3M9.4 40.5l16.4 6.3M14.7 44.1l17.7 7.5M5.3 47.2l27.3 3.6M11.2 47.0l20.1 9.1M40.8 52.0l27.3 -3.9M38.1 47.3l26.7 -2.9M48.6 54.5l4.9 1.9M41.2 51.3l25.4 1.2M43.3 46.1l26.1 -0.7M39.4 48.1l27.2 5.5M48.4 51.5l19.7 -1.6M38.5 42.5l24.7 14.1" stroke="#d0f43c" stroke-width="0.5" fill="none"/><path d="M-5.0 50.9l27.4 3.4M-4.0 53.6l33.9 1.6M0.4 57.8l24.8 3.3M-0.9 51.8l22.0 4.5M-2.5 56.2l19.1 2.9M6.8 47.0l12.5 4.1M2.4 53.1l21.5 5.0M20.0 65.2l18.8 0.8M16.5 60.5l19.3 4.3M20.4 56.7l23.0 2.8M25.6 52.3l5.3 0.5M20.6 53.2l15.3 1.8M20.2 57.1l19.5 3.6M42.9 61.1l3.9 0.9M32.2 58.5l23.9 3.5M36.0 58.7l16.6 2.9M29.8 52.7l24.7 8.8M39.1 59.2l15.2 4.4M21.8 66.6l15.5 15.9M18.9 69.8l25.0 9.0M19.7 65.8l20.6 6.7M15.6 67.6l21.4 7.2M24.4 64.1l17.7 12.9M20.9 59.8l15.9 9.0M21.0 72.6l10.0 3.7M24.1 61.3l11.2 5.3M21.2 69.0l15.5 9.0M40.2 54.1l34.6 20.7M59.0 58.4l6.9 4.1M50.8 58.4l24.2 21.4M53.2 64.3l15.4 13.6M48.1 57.3l16.8 15.6M45.9 59.8l18.8 12.8M42.0 53.3l33.0 21.1M53.9 57.2l16.7 13.4M61.5 44.6l31.3 14.3M66.8 49.6l18.0 5.2M65.7 46.0l20.5 3.2M64.9 46.0l26.7 8.6M66.8 41.8l21.1 13.8M57.4 47.5l34.1 4.4M64.6 52.0l21.4 2.4M34.9 74.3l17.9 24.7M28.8 67.5l18.5 21.4M35.4 78.0l16.7 18.6M42.7 67.1l9.7 13.9M29.9 72.6l19.9 20.0M48.6 70.0l3.5 12.2M33.3 74.0l27.8 23.4M-7.8 74.1l29.1 9.7M-3.8 75.6l25.2 3.3M1.4 75.6l17.6 4.1M-0.2 80.0l22.6 4.1M-7.1 80.6l26.6 -1.8M-3.1 79.1l20.1 -0.7M-3.3 72.8l20.2 5.0M66.4 76.2l8.9 18.4M62.0 64.8l16.9 25.5M58.3 69.6l13.1 19.6M62.2 65.7l18.1 26.3M59.6 69.9l11.7 17.7M69.7 72.1l11.0 17.0M60.9 73.0l20.4 18.8M65.7 69.5l11.8 17.2M1.8 42.8l32.9 7.0M11.4 46.4l18.7 9.2M9.5 39.9l21.2 5.7M13.8 39.7l13.7 9.2M17.9 55.2l3.1 0.9M48.1 48.1l19.2 -1.5M43.0 39.6l23.1 11.3M46.9 48.0l22.8 -2.0" stroke="#68b010" stroke-width="0.5" fill="none"/><path d="M3.4 55.9l17.2 5.6M0.7 50.9l20.6 1.3M-4.4 58.6l21.1 2.5M4.1 59.3l16.7 3.3M-3.8 50.2l21.7 1.0M19.4 55.5l17.9 2.9M26.0 52.3l7.3 1.7M12.7 56.0l27.4 3.6M25.2 67.0l15.5 0.0M21.0 63.1l21.6 3.6M16.2 60.8l32.6 2.9M13.6 53.2l29.1 6.0M32.2 48.1l24.1 4.4M34.3 58.2l11.6 3.4M27.9 53.5l28.1 8.4M28.5 53.1l38.3 0.9M29.9 56.1l28.1 7.0M28.4 54.6l40.8 6.5M43.9 48.4l10.8 2.8M23.8 48.9l36.7 7.7M18.4 65.5l18.7 12.9M16.6 66.3l18.9 8.4M22.0 71.2l7.4 6.0M21.6 65.0l16.3 12.5M14.5 64.4l21.6 12.7M21.9 70.1l15.6 7.4M28.1 64.0l12.7 6.6M25.2 64.1l15.4 9.7M22.1 63.7l20.8 15.7M23.0 72.3l8.4 5.3M57.0 58.5l11.2 5.2M44.6 54.4l22.8 18.2M53.8 62.8l13.2 15.4M44.8 54.8l23.3 20.5M49.2 59.8l20.6 18.4M52.5 47.2l12.8 25.3M51.1 59.5l22.4 14.4M45.1 52.1l26.2 14.6M45.0 61.1l29.1 11.9M71.5 54.6l6.8 1.4M58.9 51.5l26.7 -0.6M56.5 45.1l29.9 10.0M63.5 53.3l14.4 1.3M59.1 47.2l31.4 5.2M31.6 71.0l23.5 22.7M36.5 69.0l22.3 26.5M41.2 69.7l19.0 18.7M35.6 77.7l17.5 19.8M42.6 67.5l17.6 24.2M32.8 68.9l21.0 27.6M50.4 73.9l5.3 12.6M35.4 62.9l25.1 29.6M-7.7 77.3l28.9 1.5M0.2 84.5l12.8 0.3M2.7 77.0l20.5 0.4M-0.7 80.5l24.3 4.8M9.6 73.7l7.1 1.7M6.4 74.9l14.7 0.1M-0.7 74.9l17.1 2.6M62.6 72.8l21.9 16.1M60.6 68.1l19.8 24.8M61.9 74.8l19.8 20.0M63.5 64.3l17.5 34.0M71.4 76.3l10.2 8.4M59.3 69.8l26.0 28.8M67.2 66.8l13.7 30.5M56.4 70.5l17.2 18.5M11.4 40.5l17.9 10.3M12.6 42.5l15.8 16.5M10.3 49.7l21.0 5.6M15.9 38.7l19.2 11.9M9.5 38.8l21.7 7.4M14.2 51.9l11.9 6.7M12.7 44.0l21.4 9.4M50.3 41.5l13.4 1.9M44.6 45.6l24.1 -0.3M53.4 55.7l8.9 -1.0M47.2 55.5l13.0 -2.0M48.8 47.9l20.3 -2.2M43.9 50.5l25.5 -1.1" stroke="#c0f030" stroke-width="0.5" fill="none"/></g><ellipse cx="6.7" cy="44.5" rx="3" ry="3" fill="#a03cf0"/><ellipse cx="45.3" cy="53.4" rx="4.5" ry="3.5" fill="#c050d0"/><ellipse cx="30.4" cy="65.3" rx="5" ry="3.5" fill="#e88840"/><ellipse cx="72" cy="47.5" rx="3" ry="4" fill="#c050d0"/><ellipse cx="43.8" cy="81.3" rx="4" ry="3" fill="#e88840"/><ellipse cx="3" cy="83" rx="3" ry="3" fill="#e88840"/></g>
</g>
<g transform="translate(214 208.2)">
<g clip-path="url(#ct2)"><path d="M13.8,22.0 14.5,24.7 14.4,27.4 15.5,31.7 14.6,34.2 15.2,39.8 12.9,39.1 11.8,40.8 10.4,40.6 9.2,41.0 8.2,42.6 7.0,39.9 5.8,42.9 4.8,40.8 4.1,38.0 3.2,36.7 2.7,34.3 1.4,34.1 0.5,32.4 -0.0,30.0 -0.6,27.6 -1.8,25.2 -0.5,22.0 -1.1,19.1 -0.8,16.3 0.0,14.1 0.3,11.2 1.4,9.8 2.1,7.9 2.9,5.9 3.2,1.1 4.3,-0.9 5.7,-0.2 7.0,-0.8 8.3,-0.7 9.5,1.1 10.0,5.6 11.7,3.6 11.6,8.7 12.2,10.7 13.5,11.5 12.9,15.2 13.1,17.5 14.5,19.3Z" fill="#a8f020"/><ellipse cx="1.5" cy="13" rx="3" ry="5" fill="#2444f0"/><path d="M7.2,38.0 7.4,38.8 7.7,39.7 7.5,40.5 7.4,41.4 6.8,42.0 6.3,42.6 6.2,43.9 5.5,44.6 4.7,44.8 3.7,44.1 3.0,44.8 2.2,44.4 1.6,43.6 1.1,42.9 0.8,42.1 -0.0,42.2 -0.4,41.6 -0.7,40.8 -1.3,40.4 -1.7,39.6 -1.7,38.8 -2.3,38.0 -2.0,37.1 -2.0,36.2 -2.4,35.0 -1.4,34.6 -1.3,33.5 -0.5,33.2 0.4,33.1 1.1,32.9 1.5,31.8 2.3,32.6 3.0,32.3 3.8,31.6 4.4,32.1 5.0,32.6 6.5,31.5 5.9,34.0 6.2,34.7 6.5,35.3 7.2,35.7 8.4,36.1 7.6,37.2Z" fill="#5ad8f2"/><path d="M27.3,23.3 27.1,25.1 25.5,25.5 23.2,24.7 21.2,23.6 19.7,23.8 18.2,24.1 16.4,24.5 14.4,23.5 12.4,22.4 10.5,21.0 9.2,18.8 7.9,17.0 8.1,14.7 4.3,13.6 5.4,11.6 5.2,10.0 3.0,7.9 4.0,6.7 3.1,4.7 4.4,3.9 4.1,2.0 6.7,2.7 6.8,1.1 7.8,0.3 8.9,-0.5 9.4,-2.8 11.5,-2.1 13.9,0.5 15.6,0.8 17.4,1.3 19.5,1.8 21.2,3.5 22.4,5.6 26.3,5.7 25.5,8.8 27.0,10.5 25.7,12.3 26.4,13.9 27.7,15.7 26.7,16.7 25.8,17.6 25.6,18.7 26.6,20.9Z" fill="#f05a14"/><ellipse cx="11.6" cy="7.5" rx="3.5" ry="5" fill="#5ad8f2" transform="rotate(30 11.6 7.5)"/><path d="M42.2,34.0 42.8,35.5 43.6,37.2 39.3,37.8 37.6,38.7 38.1,40.6 36.9,41.8 34.3,42.0 32.8,43.3 30.9,44.5 28.3,44.2 26.0,49.2 23.5,44.8 21.3,44.1 19.2,43.3 18.1,41.7 15.2,41.8 14.6,40.2 13.2,39.2 11.3,38.2 11.3,36.7 10.1,35.4 10.9,34.0 13.7,32.9 12.8,31.6 13.9,30.6 11.5,28.2 13.9,27.4 12.7,24.4 16.1,24.3 17.8,22.8 20.9,23.1 23.3,22.2 26.0,22.8 28.3,23.9 30.6,24.2 33.2,24.2 34.6,25.6 35.8,26.9 39.6,26.6 37.6,29.3 38.8,30.4 39.4,31.5 40.6,32.7Z" fill="#2444f0"/><ellipse cx="27.5" cy="35" rx="4" ry="5" fill="#f02014"/><path d="M44.7,39.3 42.6,37.9 42.0,39.9 40.8,40.9 39.0,39.4 37.2,38.1 35.5,37.7 33.7,35.9 31.8,34.8 29.7,33.3 29.4,29.4 27.1,27.8 28.0,24.7 26.1,22.6 25.3,20.2 25.9,18.5 27.1,17.5 26.0,15.0 24.8,12.1 25.5,10.9 24.5,7.4 25.4,6.1 27.1,6.2 27.7,4.3 30.2,6.7 31.4,6.1 32.6,4.3 34.6,5.5 36.5,8.0 38.4,9.1 40.3,10.9 41.5,14.1 41.3,17.9 43.5,19.0 45.4,21.0 46.0,23.4 47.6,26.0 47.4,28.1 47.8,30.4 47.5,32.1 50.4,37.0 46.2,34.8 45.9,36.4 43.9,35.7Z" fill="#a8f020"/><ellipse cx="36.8" cy="25" rx="4" ry="5.5" fill="#a03cf0" transform="rotate(-20 36.8 25)"/><path d="M66.4,42.7 65.5,44.2 64.1,45.0 61.1,42.7 59.9,43.8 57.7,42.5 55.8,41.8 53.8,43.0 51.7,40.4 49.1,40.0 47.5,37.1 44.9,35.6 45.0,32.3 42.9,30.4 40.9,28.1 40.6,25.8 41.6,24.1 41.7,22.4 41.1,20.5 42.9,20.0 40.6,16.5 41.5,15.3 44.6,16.8 45.3,15.8 45.3,13.4 47.3,14.2 48.5,13.3 48.4,6.0 52.0,12.5 54.2,14.4 57.0,12.0 58.0,18.2 61.5,17.5 60.8,22.3 62.2,24.1 63.9,25.9 65.1,27.9 65.0,29.8 66.6,31.9 66.7,33.8 68.1,36.2 65.5,36.3 67.5,39.6 65.0,39.1Z" fill="#f05a14"/><ellipse cx="53.7" cy="32" rx="4" ry="5.5" fill="#5ad8f2" transform="rotate(-30 53.7 32)"/><path d="M82.3,6.0 81.5,8.2 83.3,9.4 82.3,11.5 81.7,13.5 76.7,15.4 74.6,16.8 79.4,20.0 73.4,20.2 72.9,22.7 69.8,23.4 67.7,25.1 65.0,25.3 62.7,24.6 60.7,24.9 58.1,26.6 54.9,28.4 54.3,26.0 51.9,26.3 50.0,25.8 44.4,27.8 45.4,25.0 41.5,25.0 44.8,21.7 43.1,20.5 42.9,18.6 42.0,16.7 46.0,14.5 48.7,12.8 50.3,11.1 52.9,9.9 55.2,8.9 57.2,7.8 58.9,6.3 60.7,3.3 63.4,3.1 66.3,1.1 69.0,0.7 72.3,-0.4 73.7,1.4 75.2,2.6 78.4,2.1 80.1,3.2 82.8,3.7Z" fill="#a8f020"/><ellipse cx="62.6" cy="14.5" rx="5" ry="4.5" fill="#2444f0" transform="rotate(-20 62.6 14.5)"/><path d="M85.6,38.0 84.4,38.8 85.2,39.8 83.2,40.2 82.7,40.9 82.8,42.0 81.8,42.5 80.8,42.9 79.9,43.7 78.8,44.4 77.5,45.1 76.0,44.6 74.5,44.8 73.2,44.3 72.0,43.9 71.3,42.9 70.6,42.2 68.2,42.5 68.8,41.1 68.4,40.3 68.9,39.4 68.0,38.8 67.7,38.0 68.0,37.2 68.2,36.5 67.2,35.3 66.5,33.9 66.2,32.4 68.7,32.4 70.3,32.0 72.4,32.8 73.0,31.3 74.7,32.0 76.0,31.8 77.2,32.4 78.4,32.5 79.8,32.4 81.3,32.5 81.4,33.8 81.6,34.7 84.0,34.6 83.9,35.6 85.5,36.1 84.8,37.2Z" fill="#2444f0"/><path d="M84.6,15.0 84.9,17.0 84.7,18.8 84.2,20.1 83.9,21.6 83.9,23.9 83.7,26.0 83.4,28.1 82.8,28.9 82.3,30.4 81.6,29.6 81.0,28.4 80.4,29.4 80.0,27.5 79.1,29.6 78.7,27.7 78.4,25.7 77.9,24.4 77.9,22.1 76.8,21.7 77.3,18.8 77.0,17.0 76.6,15.0 76.9,12.9 77.8,11.7 77.4,9.2 76.6,5.1 78.2,6.5 78.5,4.8 79.1,4.6 79.3,2.2 79.9,2.0 80.4,1.4 81.0,0.3 81.8,-3.8 82.2,0.4 82.8,1.1 83.0,4.0 84.0,2.8 84.3,5.1 84.3,7.6 84.4,9.5 85.1,10.8 85.0,13.0Z" fill="#5ad8f2"/><path d="M39.7,3.0 40.4,3.5 41.4,4.0 39.8,4.3 38.0,4.5 37.0,4.7 36.6,5.2 36.0,5.6 34.5,5.6 33.4,5.7 32.0,5.3 31.0,6.3 30.1,5.2 29.1,5.1 27.2,5.8 26.3,5.5 25.1,5.3 22.7,5.4 21.8,5.0 21.6,4.4 21.2,4.0 20.4,3.5 20.3,3.0 21.3,2.5 23.1,2.2 22.9,1.8 23.7,1.4 24.3,1.1 25.7,1.0 26.4,0.6 27.5,0.4 28.9,0.6 29.7,0.1 31.0,-0.1 32.5,-0.6 33.8,-0.1 34.7,0.3 35.6,0.6 37.1,0.6 36.6,1.4 37.6,1.6 39.1,1.8 39.7,2.2 40.2,2.6Z" fill="#5a80e0"/></g>
<g clip-path="url(#cb2)"><g opacity="0.95"><path d="M15.1 43.3l-1.4 30.3M3.9 49.1l3.0 16.7M9.9 34.5l2.6 33.5M7.3 37.3l2.5 35.0M8.8 42.4l-3.8 25.3M15.2 49.6l0.2 10.9M4.4 44.1l-0.4 11.8M10.5 36.6l3.8 24.8M15.3 54.4l17.9 16.6M16.0 51.5l20.2 22.0M23.8 48.6l5.9 8.0M14.5 49.0l21.8 24.3M15.2 44.5l17.6 20.7M16.2 56.9l14.9 10.5M19.5 47.5l13.8 22.3M30.0 58.8l13.0 13.5M28.6 55.2l16.0 19.3M34.8 60.2l4.0 5.0M25.9 56.2l23.6 25.9M33.1 58.8l10.0 17.4M23.1 59.3l30.1 24.2M33.6 61.7l15.9 16.5M43.2 50.6l19.6 18.9M46.7 45.3l23.9 24.8M45.1 53.5l21.9 17.9M39.3 43.8l30.7 24.4M43.2 59.9l30.6 16.0M48.4 64.4l25.9 25.0M56.7 77.9l6.2 6.3M50.4 54.7l15.3 22.6M50.8 68.8l20.0 11.8M56.6 52.4l28.1 18.0M62.6 60.1l24.6 6.6M63.2 52.8l27.7 7.5M61.8 53.7l22.2 13.3M57.9 51.2l27.9 14.5M65.0 50.0l14.1 8.7M56.8 48.4l32.5 19.2M59.1 50.6l29.8 22.5M69.5 53.7l11.9 2.9M9.2 77.5l15.2 11.6M8.0 73.7l21.4 19.6M10.1 70.6l15.8 21.2M7.6 70.8l31.5 23.5M12.7 64.2l13.5 13.3M15.0 66.0l11.9 11.6M46.5 73.2l7.7 7.3M42.7 63.6l8.8 28.9M28.8 71.6l18.6 15.2M37.0 66.9l19.0 27.1M34.3 74.6l22.1 21.4M27.6 68.3l24.9 21.2M35.1 74.7l22.5 21.6M40.8 83.5l5.2 8.8M57.8 64.8l31.4 21.1M63.0 72.4l6.5 12.9M59.1 66.9l20.2 26.8M65.9 60.6l21.0 35.6M69.5 65.4l22.6 35.5M-4.8 70.5l17.0 10.3M31.9 39.9l16.1 11.7M28.8 47.9l11.4 11.3M37.4 39.0l10.5 14.4M63.8 31.5l8.4 21.9M56.8 36.2l11.3 32.5M54.6 39.6l26.5 23.6M59.7 42.1l3.8 21.1M61.8 39.3l10.7 24.4M67.4 37.1l5.9 14.2M49.3 30.5l27.4 31.3M54.5 39.7l15.0 25.6" stroke="#b4ec24" stroke-width="0.5" fill="none"/><path d="M4.0 42.9l0.0 15.6M11.2 35.4l3.9 26.6M5.4 46.4l2.1 23.4M12.4 41.0l3.3 18.5M14.6 46.4l0.2 11.6M4.7 42.7l5.5 34.2M4.3 48.0l6.0 22.6M-0.7 40.8l17.0 35.4M14.8 56.6l19.2 13.8M15.7 48.4l18.5 22.4M25.4 50.1l6.5 8.3M18.8 56.5l2.9 8.3M20.7 49.0l12.9 16.5M26.3 59.5l17.5 24.2M24.6 52.5l18.2 28.5M40.6 45.7l26.1 23.1M43.4 46.0l29.8 27.5M44.2 45.7l14.2 21.3M41.8 48.8l24.1 21.1M47.7 46.6l25.5 26.9M40.4 48.3l33.8 23.2M47.7 69.2l9.9 10.2M50.0 61.3l20.0 20.1M60.3 64.9l10.9 7.1M46.2 72.7l28.5 11.3M55.8 60.8l17.5 13.9M48.5 57.8l25.5 27.2M70.2 55.7l17.0 2.8M64.5 51.8l16.2 3.9M66.3 61.7l19.6 7.2M56.8 58.3l30.2 8.5M65.1 61.5l7.2 2.9M67.6 49.7l15.1 10.7M78.9 55.1l2.5 2.9M62.5 49.5l27.7 20.8M66.3 56.6l25.6 8.9M65.6 57.8l20.1 12.1M68.8 62.7l7.9 3.6M13.8 68.0l17.4 10.6M6.4 65.8l24.3 29.9M21.5 69.6l11.1 17.2M15.2 83.4l7.5 5.0M5.0 64.0l33.8 31.0M10.3 72.0l20.2 15.3M14.9 70.3l22.0 14.0M5.5 64.3l32.3 32.4M12.2 68.0l27.5 18.5M36.0 73.3l28.0 19.7M33.5 64.4l20.0 21.0M31.1 63.2l27.9 32.9M32.9 69.1l16.0 26.5M36.7 60.1l16.3 26.3M30.4 65.9l23.6 22.6M40.0 72.9l20.9 19.8M32.3 73.5l22.7 24.0M34.8 70.6l22.9 28.4M32.0 69.2l28.2 21.7M36.5 64.4l17.0 24.3M40.0 84.2l1.4 2.3M28.1 69.6l19.7 18.9M76.5 72.8l11.6 14.2M63.1 61.0l24.3 26.2M73.9 69.4l12.4 24.5M68.2 63.6l17.5 19.9M66.9 74.9l10.6 22.4M-6.4 61.4l21.9 17.4M-9.3 66.0l13.6 9.6M3.4 61.4l9.4 6.0M-6.2 62.6l27.0 22.9M-5.7 69.4l5.3 4.3M-3.1 71.4l12.0 10.2M-0.1 60.2l21.3 21.7M-0.6 65.5l15.3 20.6M-4.5 63.2l26.8 19.5M-4.6 68.0l20.4 15.1M33.9 40.4l18.3 21.7M29.8 45.9l19.9 17.0M30.8 41.8l21.3 23.2M34.1 40.5l17.7 15.3M41.2 41.9l7.3 6.6M33.5 52.1l10.7 11.1M41.2 41.4l1.9 1.1M31.5 38.4l16.9 18.8M56.7 45.6l2.7 7.2M57.3 48.5l5.9 9.3M56.1 46.5l5.6 7.8M54.0 41.9l5.6 9.9" stroke="#94d81c" stroke-width="0.5" fill="none"/><path d="M6.8 40.9l-0.2 24.9M7.1 39.6l3.5 37.3M7.0 38.5l3.2 42.5M14.4 48.0l21.7 18.8M16.6 53.4l15.0 18.8M16.0 48.6l18.5 18.0M13.5 48.3l12.0 18.4M23.9 46.7l4.9 9.7M19.7 46.7l13.5 13.0M24.5 55.3l24.9 26.2M26.8 63.7l22.1 20.8M29.0 55.3l16.1 20.6M32.5 59.1l14.4 25.7M39.4 66.4l6.8 7.6M26.7 57.3l17.9 17.2M25.6 62.4l16.4 16.6M41.2 54.7l27.0 14.3M40.3 47.6l24.6 15.9M38.1 45.8l35.1 25.4M53.6 48.1l14.4 22.3M40.1 52.6l35.2 16.3M46.9 55.9l13.8 13.8M41.2 49.7l27.5 18.1M50.7 51.4l19.5 12.5M44.5 47.9l23.9 27.5M48.5 63.5l18.3 14.2M52.1 68.4l24.2 10.7M50.9 75.5l14.2 5.9M47.4 68.7l14.2 11.5M49.6 59.1l19.3 14.2M50.9 64.2l17.2 21.0M56.5 60.7l16.9 14.7M78.5 55.3l5.4 3.6M64.7 55.2l28.8 15.2M70.1 57.5l21.7 3.9M5.5 67.4l24.4 21.9M3.3 69.2l23.0 20.6M4.7 68.6l23.5 16.5M8.4 71.0l14.6 16.3M12.6 78.6l8.6 10.0M5.1 64.3l25.2 31.8M-2.5 65.0l36.9 22.9M18.8 70.6l15.5 15.7M42.9 71.2l15.3 13.7M44.0 70.0l13.9 16.9M28.1 70.3l21.7 18.3M45.3 68.5l7.3 14.1M34.9 75.6l3.3 8.2M67.5 68.8l8.1 25.0M69.0 69.9l10.3 24.1M76.0 73.8l13.6 15.9M73.9 65.1l3.4 27.2M59.2 63.0l23.8 31.1M64.0 63.4l15.7 29.0M-2.9 71.8l10.9 8.4M-2.7 61.9l17.1 19.4M-7.0 67.0l11.9 9.8M-2.5 62.5l13.6 21.5M-9.2 58.2l21.9 24.2M32.1 53.9l12.9 6.1M28.3 47.3l17.0 12.2M25.1 43.5l20.4 18.0M36.6 39.4l14.4 11.2M35.1 56.4l6.7 2.9M29.8 44.3l23.3 14.1M33.9 38.2l14.1 8.9M26.9 44.1l21.4 17.4M30.5 42.1l24.7 8.2M58.0 34.2l18.8 29.9M57.7 40.3l22.9 22.9M57.0 32.1l21.8 23.4M55.2 35.6l13.6 29.3M53.8 42.6l18.4 23.7M56.4 35.9l11.1 23.2" stroke="#78c014" stroke-width="0.5" fill="none"/><path d="M6.8 39.7l1.3 25.1M8.6 40.7l9.9 18.3M9.1 44.8l10.5 26.5M12.1 45.1l4.2 22.8M3.0 42.0l11.8 26.4M6.6 47.5l9.0 24.9M2.7 46.4l4.8 19.1M18.6 47.7l10.6 17.1M20.5 47.1l11.2 19.6M19.4 49.9l14.0 19.4M24.2 49.8l10.5 18.3M17.9 51.3l14.0 13.3M19.6 44.5l12.9 17.2M20.9 60.7l3.4 5.8M21.0 46.1l13.3 29.3M17.7 58.3l6.5 6.0M13.2 48.5l19.4 19.3M26.3 48.5l16.6 34.1M26.9 56.9l14.0 19.9M21.1 60.3l16.5 17.2M28.7 60.5l9.6 22.0M30.3 55.2l16.9 34.2M26.4 54.7l17.7 22.2M27.4 67.4l6.5 10.9M34.9 61.9l12.8 16.2M23.7 59.3l25.8 23.4M26.1 49.6l13.9 33.1M47.2 50.8l13.2 22.6M41.4 54.6l12.1 8.3M45.5 45.2l27.8 26.6M47.6 52.4l25.8 15.1M43.0 57.5l23.0 28.7M52.8 64.1l16.1 17.0M42.7 66.3l33.8 17.4M45.2 58.7l28.9 24.4M44.8 65.0l29.9 13.5M49.6 56.0l22.0 24.6M44.1 63.7l23.5 12.3M51.3 69.4l15.9 15.7M66.1 54.5l21.6 11.5M63.0 49.3l26.8 23.1M57.3 53.7l31.1 16.7M68.0 52.6l21.8 10.9M56.6 52.3l38.3 12.0M51.6 54.4l42.1 9.9M57.3 54.2l33.3 3.9M14.2 70.4l22.3 12.6M15.9 65.8l19.9 24.7M6.1 62.9l24.1 23.9M13.6 67.8l15.2 9.1M21.4 70.3l11.4 13.4M9.6 64.1l23.3 21.4M21.4 70.0l2.0 2.3M38.7 80.6l7.0 11.7M37.5 68.0l17.8 18.0M50.1 75.1l6.2 11.1M32.6 69.5l15.6 22.2M40.4 66.4l13.0 16.2M30.5 62.4l29.7 25.6M64.5 59.6l18.7 37.4M69.3 71.2l17.9 18.3M77.3 69.1l7.9 16.8M68.0 59.9l17.5 38.0M65.4 77.6l9.7 11.8M79.4 71.4l6.5 17.2M67.4 63.6l21.7 28.4M79.1 74.0l8.2 13.3M58.8 71.1l24.4 19.2M-6.0 67.1l24.2 16.9M-5.3 61.7l22.4 20.0M-8.2 52.2l23.3 24.0M-3.9 53.6l18.5 21.9M-11.4 62.0l25.6 20.9M3.6 61.1l17.4 17.4M-13.0 58.5l27.9 22.7M-9.9 58.8l24.2 23.7M-9.7 60.4l20.9 15.9M-1.7 55.5l16.1 15.8M40.4 41.0l4.5 3.4M25.9 45.4l22.5 12.7M35.5 44.3l15.4 13.4M31.3 45.3l24.4 13.3M28.0 43.1l17.0 18.2M38.7 42.7l13.9 6.9M25.4 35.8l22.6 27.1M50.1 25.6l22.6 37.2M57.7 23.7l7.3 42.6M65.0 35.9l9.2 19.7M53.6 30.0l14.9 28.7M62.1 37.3l15.2 25.2M60.2 28.9l3.8 29.6M58.7 29.3l16.7 22.6" stroke="#d0f43c" stroke-width="0.5" fill="none"/><path d="M15.2 50.0l0.7 10.4M10.2 30.4l-4.0 39.6M5.5 36.8l10.5 31.1M2.2 33.4l7.9 34.9M8.6 44.5l9.4 25.0M10.0 39.0l7.5 19.4M4.9 39.3l3.2 27.2M2.2 36.3l5.9 27.7M3.1 46.9l3.5 17.0M14.7 39.1l-1.0 30.4M0.4 46.6l8.3 13.6M18.4 50.7l12.3 15.9M17.7 48.8l13.4 17.1M22.2 47.5l8.7 11.9M17.1 45.1l17.7 22.3M19.4 46.6l14.4 25.0M18.4 57.5l3.0 5.5M15.3 44.7l17.7 22.3M12.5 46.0l21.1 25.1M24.8 51.9l11.2 11.3M38.0 65.8l7.2 6.4M26.5 64.0l15.1 20.0M34.8 63.5l12.4 10.5M22.4 62.1l11.5 15.7M23.5 54.4l22.7 18.1M24.9 53.6l15.8 27.7M25.2 54.0l16.0 25.1M28.2 57.3l17.9 19.9M26.0 56.0l21.0 23.0M24.3 47.6l13.2 38.5M41.1 43.1l23.7 17.2M39.7 54.3l34.3 17.0M31.8 44.9l40.1 15.3M40.1 47.1l18.9 22.3M53.6 47.6l10.0 13.3M44.6 57.7l17.1 10.9M44.9 45.2l20.8 12.8M45.5 39.5l16.3 23.9M41.5 49.6l27.6 24.5M41.4 49.0l25.2 11.8M46.2 47.2l17.9 20.3M51.4 67.1l19.9 12.7M57.7 65.3l12.4 2.1M53.7 63.8l20.9 11.8M56.7 62.8l17.2 13.7M46.2 62.6l18.3 20.9M61.7 63.5l4.8 4.3M61.0 63.2l13.0 13.5M52.7 68.2l22.9 13.6M60.0 58.2l18.6 7.1M72.3 53.6l14.6 8.1M73.1 65.5l4.5 1.0M6.6 67.9l23.9 23.0M7.2 65.8l31.6 30.7M5.8 73.7l21.8 15.1M2.6 66.0l31.6 23.4M11.9 80.3l13.2 9.6M39.4 64.5l11.9 18.1M43.4 71.5l14.4 16.4M37.9 61.9l19.1 39.6M42.5 68.8l13.0 14.1M65.5 66.3l27.3 24.9M67.9 68.9l10.9 23.8M70.8 62.2l5.6 29.6M66.1 80.1l5.4 6.7M61.6 58.4l19.0 34.5M79.0 72.9l4.9 9.5M74.0 66.5l9.8 18.7M76.7 72.2l9.5 14.5M7.3 61.6l5.7 8.4M-9.0 61.3l27.8 22.8M0.3 61.1l16.6 11.6M-7.1 62.7l16.8 16.0M-4.0 58.2l19.1 9.6M-11.9 55.5l25.2 26.7M-1.3 66.5l12.3 16.4M32.2 39.0l13.7 10.2M40.8 42.1l9.4 7.6M24.2 44.8l28.7 11.6M30.1 40.6l18.1 11.4M42.5 43.3l6.6 3.5M31.5 43.3l23.0 15.9M26.4 34.7l22.8 23.5M61.6 36.2l16.3 25.6M54.9 38.7l14.9 28.2M56.4 39.4l13.2 29.3M53.3 35.0l24.2 34.7M52.1 44.5l21.6 21.2M62.5 35.3l14.5 19.7M63.0 35.8l14.1 31.9M52.1 35.4l24.7 30.3M63.2 35.8l12.3 18.1M52.7 28.2l18.7 31.0" stroke="#68b010" stroke-width="0.5" fill="none"/><path d="M9.2 44.2l5.6 26.6M5.9 30.6l9.4 37.0M13.3 47.4l2.8 23.9M4.1 30.5l11.4 40.6M7.8 39.6l-1.5 35.3M8.0 41.4l9.2 34.9M21.1 48.0l11.5 16.6M19.7 52.3l18.4 15.5M22.2 46.4l8.0 11.2M17.3 47.8l20.7 21.4M17.0 44.2l18.6 21.1M16.8 48.3l13.7 21.8M28.8 69.7l12.0 13.7M29.8 73.5l5.9 6.1M27.7 68.9l12.1 15.8M23.6 61.2l29.6 20.0M28.4 58.1l16.0 22.1M23.3 62.5l21.7 17.1M28.0 57.1l21.7 32.2M45.8 46.9l20.0 15.0M45.9 57.7l11.0 7.9M36.3 43.9l31.9 18.2M48.0 44.7l19.2 29.6M40.3 53.3l25.4 10.8M56.5 49.3l6.0 9.7M37.7 50.3l25.2 16.7M39.1 50.6l22.2 18.1M39.2 49.4l32.2 22.4M49.9 58.5l16.3 22.3M47.2 69.6l29.4 16.3M53.8 70.0l16.4 14.8M50.9 69.5l9.6 12.7M40.7 58.3l30.1 25.5M50.7 68.5l18.1 14.4M49.1 52.2l20.2 28.4M42.1 60.1l26.1 21.5M59.0 63.0l12.5 13.7M65.1 62.1l22.4 5.7M63.9 55.7l23.5 11.6M60.7 54.6l17.9 12.4M59.8 50.2l20.8 15.1M61.0 51.2l20.2 9.3M74.1 54.1l10.7 4.7M67.2 53.4l19.5 5.8M70.2 63.7l3.7 1.4M70.6 61.8l14.0 8.7M67.7 55.6l17.6 16.1M5.1 62.7l31.0 22.4M19.6 69.7l9.4 6.9M18.3 66.2l15.2 27.5M22.1 72.2l10.4 9.7M9.4 73.7l26.4 16.1M6.9 71.6l23.6 22.8M5.8 60.4l28.1 25.5M10.4 67.5l27.1 16.9M39.9 68.8l16.6 20.7M34.3 64.9l24.3 36.6M33.3 68.3l20.8 20.6M30.1 66.7l22.3 20.8M34.1 73.5l17.5 21.7M33.9 71.5l19.6 22.6M35.9 69.1l21.7 32.6M69.4 67.6l11.9 28.1M57.2 65.0l28.1 29.4M73.2 66.0l10.3 33.6M64.9 60.9l19.4 38.5M70.1 55.8l9.4 42.9M66.9 68.6l22.8 20.1M70.1 65.1l13.8 28.5M69.8 60.7l13.7 31.6M68.2 68.4l15.0 25.9M74.1 71.6l14.1 22.3M-3.1 55.5l19.1 23.3M-6.6 62.8l21.3 24.2M-3.2 64.9l11.4 16.6M-4.8 57.1l22.1 19.9M-6.1 68.0l9.6 8.3M0.1 58.9l21.7 20.5M-8.6 57.1l29.4 22.6M-4.1 61.1l25.0 21.6M-9.3 66.5l23.1 14.9M-9.4 57.1l23.3 18.7M33.8 51.8l10.6 9.4M39.5 41.6l14.7 12.6M33.8 46.1l18.2 9.0M28.8 47.1l17.1 14.4M32.4 39.8l19.1 12.0M31.4 47.5l16.6 14.3M23.7 41.7l21.6 17.2M28.8 41.7l27.7 13.7M41.4 43.5l9.1 5.3M48.2 38.1l19.8 17.8M65.6 39.2l9.4 17.3M63.8 37.2l11.6 17.9M69.3 41.2l2.1 5.0M57.2 24.7l15.0 38.0M57.6 39.3l12.0 31.6M66.5 38.4l7.4 18.3M50.0 35.0l21.8 19.8" stroke="#c0f030" stroke-width="0.5" fill="none"/></g><ellipse cx="30.4" cy="56.4" rx="5" ry="3.5" fill="#e88840" transform="rotate(30 30.4 56.4)"/><ellipse cx="60" cy="59.4" rx="4" ry="5.5" fill="#f0a828"/><ellipse cx="57" cy="72" rx="4" ry="4" fill="#c050d0"/><ellipse cx="1.5" cy="80" rx="2.5" ry="3" fill="#a03cf0"/></g>
</g>
<g transform="translate(300 208.2)">
<g clip-path="url(#ct2)"><path d="M23.5,22.0 26.1,25.1 25.1,27.8 26.0,31.6 23.4,33.0 23.0,36.3 21.0,37.6 19.5,39.5 19.1,45.2 16.2,43.4 14.1,43.9 12.0,44.9 10.2,41.1 8.6,39.4 6.0,41.6 3.9,40.8 2.2,39.0 0.9,36.4 1.2,32.4 -0.4,30.5 -2.3,28.3 -4.1,25.5 -1.8,22.0 -1.7,19.0 0.7,17.0 0.9,14.4 0.1,10.6 0.9,7.5 3.3,7.0 5.5,6.8 6.5,4.0 7.8,0.5 9.6,-3.2 12.0,-0.5 15.1,-10.7 16.7,-1.9 18.5,0.7 20.0,3.3 21.1,6.3 22.3,8.6 24.5,9.9 25.6,12.7 23.6,16.9 23.6,19.5Z" fill="#2444f0"/><path d="M82.6,5.0 77.8,5.8 77.0,6.6 72.6,7.1 68.5,7.4 66.4,7.8 66.4,8.8 62.1,8.8 61.5,10.1 56.8,9.6 54.6,11.5 50.0,10.1 46.7,9.7 42.9,9.8 39.3,9.7 34.3,9.9 33.2,8.9 32.4,8.0 27.7,7.9 27.9,7.0 29.0,6.2 30.2,5.6 27.3,5.0 28.8,4.4 29.3,3.8 23.9,2.6 27.5,2.1 27.7,1.1 30.7,0.5 33.9,-0.0 39.4,0.4 42.8,0.1 46.0,-0.6 50.0,-0.1 54.1,-0.7 57.7,-0.3 59.9,0.7 63.1,0.9 62.6,2.1 68.6,1.8 68.7,2.6 72.3,3.0 74.0,3.6 76.4,4.2Z" fill="#2444f0"/><path d="M17.7,6.0 18.7,6.9 17.7,7.7 17.0,8.4 17.5,9.6 15.9,9.8 14.4,9.8 14.1,10.8 13.1,11.2 12.2,11.7 11.6,14.5 10.0,11.7 8.8,12.1 7.8,11.7 6.7,11.5 6.3,10.4 5.3,10.0 4.7,9.4 4.0,8.9 2.3,8.6 2.8,7.6 0.5,7.0 1.4,6.0 2.5,5.2 2.4,4.3 1.8,3.2 3.0,2.6 3.0,1.4 4.6,1.3 5.1,0.3 6.7,0.6 7.9,0.6 8.9,0.4 10.0,0.3 10.9,1.4 12.2,0.4 13.2,0.8 13.9,1.5 15.3,1.4 17.2,1.3 18.0,2.1 18.4,3.1 17.0,4.5 18.4,5.1Z" fill="#a8f020"/><ellipse cx="10.4" cy="26.7" rx="4.5" ry="4" fill="#a8f020"/><path d="M70.8,28.6 71.0,31.2 65.1,31.1 65.2,33.5 68.6,39.0 63.9,39.0 58.5,37.5 55.3,37.7 53.6,41.7 49.3,40.9 45.4,38.7 42.3,35.9 37.2,38.7 34.6,35.6 29.0,35.8 25.7,33.5 24.3,30.3 24.3,27.3 22.7,24.9 11.6,22.6 21.5,20.1 14.9,16.6 14.7,13.6 13.5,10.0 20.4,9.8 22.8,8.1 26.7,7.5 31.3,8.0 34.8,8.2 36.3,5.6 39.6,5.3 43.2,6.0 46.7,2.8 50.6,4.7 55.4,4.3 59.8,5.5 63.4,7.9 64.5,11.6 65.6,14.5 73.7,15.3 76.2,18.3 74.3,21.5 74.6,24.3 79.0,27.7Z" fill="#5ad8f2"/><ellipse cx="50" cy="24.5" rx="5" ry="4.5" fill="#a03cf0"/><path d="M35.0,35.0 36.2,36.1 34.5,36.7 34.3,37.6 35.5,39.3 33.9,39.6 34.5,41.6 32.4,41.1 31.7,42.2 30.8,43.6 29.2,42.4 28.0,44.4 26.6,43.7 25.4,43.0 24.2,42.4 22.9,42.1 21.6,41.5 22.2,39.5 21.6,38.7 20.3,38.1 18.5,37.5 19.5,36.1 19.1,35.0 19.7,33.9 20.3,33.0 19.5,31.5 20.8,30.9 22.5,30.8 22.7,29.6 23.4,28.6 24.7,28.5 25.2,26.6 26.7,27.2 28.0,26.6 29.4,26.5 30.9,26.3 31.8,27.6 34.0,26.7 34.8,28.0 38.1,27.2 37.3,29.7 36.3,31.6 36.9,32.7 35.5,34.0Z" fill="#c01010"/><path d="M53.7,37.0 54.2,37.6 57.9,38.7 55.2,39.1 55.5,40.1 53.8,40.6 50.7,40.4 49.4,40.9 49.1,42.1 47.5,42.9 44.9,42.2 43.0,42.3 41.3,41.5 39.7,41.3 37.7,41.4 37.1,40.6 35.2,40.5 34.6,39.8 33.9,39.3 33.0,38.8 30.2,38.4 30.5,37.7 28.6,37.0 28.7,36.2 27.5,35.3 30.3,34.8 29.9,33.8 32.7,33.6 33.5,32.8 36.0,32.8 37.4,32.3 39.5,32.4 41.5,32.9 43.0,33.0 45.0,31.8 46.2,32.7 48.8,32.1 50.2,32.7 50.8,33.5 53.1,33.6 54.6,34.1 55.1,34.9 55.0,35.6 54.9,36.3Z" fill="#a8f020"/><path d="M82.3,20.0 82.3,22.6 82.4,25.3 80.2,26.8 78.5,28.0 78.2,30.3 77.1,31.9 76.2,34.0 74.4,33.9 72.9,34.1 71.7,36.9 70.0,37.6 68.4,36.0 66.5,37.4 65.6,34.1 64.7,31.9 63.5,30.8 61.9,30.3 61.8,27.6 59.6,26.9 57.6,25.3 59.0,22.3 61.2,20.0 59.0,17.7 58.5,15.1 59.4,12.9 60.1,10.7 61.4,9.2 62.6,7.5 62.6,3.2 65.4,5.4 66.4,2.1 68.4,4.1 70.0,3.7 71.2,7.6 72.8,6.0 74.3,6.4 75.6,7.4 76.8,8.6 78.9,8.7 79.6,11.0 80.0,13.4 81.2,15.2 81.1,17.7Z" fill="#cdf000"/><ellipse cx="71" cy="19.3" rx="3.5" ry="5.5" fill="#2444f0"/><path d="M86.4,39.0 86.0,39.9 84.8,40.4 84.7,41.2 84.4,41.8 83.8,42.3 83.2,42.7 82.4,42.8 81.9,43.2 81.3,43.4 80.7,44.1 80.0,43.4 79.4,43.5 78.4,44.3 78.1,43.3 77.4,43.1 76.7,42.9 76.4,42.1 75.5,41.9 75.1,41.3 74.4,40.6 74.7,39.8 75.9,39.0 75.0,38.3 74.8,37.5 75.4,36.9 75.1,35.9 76.1,35.6 76.3,34.7 77.4,34.9 77.3,33.2 78.4,33.7 79.1,32.6 80.0,34.6 80.7,34.2 81.5,34.1 82.0,34.7 82.4,35.3 84.0,34.4 84.1,35.5 84.1,36.4 85.0,36.7 84.6,37.7 85.2,38.3Z" fill="#2444f0"/></g>
<g clip-path="url(#cb2)"><g opacity="0.95"><path d="M6.1 65.0l5.7 -2.5M10.2 61.8l15.5 -6.3M-6.8 55.4l29.9 -12.1M-0.4 57.3l22.9 -13.2M-10.9 59.1l46.0 -11.9M-8.0 64.2l31.8 -23.2M-11.3 64.3l42.7 -23.5M-5.9 69.0l28.2 -13.5M12.0 60.8l23.6 -11.5M28.0 62.6l9.0 -3.9M14.9 65.1l38.2 -21.5M9.8 70.5l30.4 -29.0M13.5 68.1l33.4 -20.7M18.3 58.9l24.1 -10.9M30.9 61.9l4.2 -2.8M20.9 56.6l20.7 -11.7M23.9 60.2l18.8 -16.7M19.3 57.5l25.2 -14.8M41.5 61.4l25.0 -7.0M40.7 55.8l24.7 -9.7M38.7 58.7l19.8 -15.6M36.7 58.7l23.2 -12.9M37.3 64.7l20.9 -7.2M30.4 60.0l29.8 -5.4M44.7 53.6l13.8 -9.0M60.6 49.3l23.7 -9.5M57.2 51.2l25.4 -0.9M57.2 55.3l25.6 -3.7M66.1 57.5l3.5 -0.7M17.3 78.1l10.3 -8.1M5.4 77.0l19.6 -13.9M14.0 71.0l14.3 -10.4M17.3 77.2l12.2 -8.9M7.3 78.9l25.1 -16.9M11.3 74.7l17.5 -14.2M15.0 67.4l3.7 -3.3M22.5 81.8l24.3 -20.6M29.7 86.3l15.2 -24.9M28.3 80.4l29.5 -15.9M32.9 76.6l16.7 -22.5M50.2 73.2l14.1 -9.2M52.2 78.2l20.4 -13.6M47.6 76.5l21.9 -8.5M48.1 75.8l33.5 -11.0M46.1 77.3l19.6 -10.7M50.7 76.3l23.6 -3.3M68.6 81.7l14.1 -27.7M67.9 73.0l7.7 -6.2M64.9 85.0l31.8 -26.2M65.8 82.6l16.9 -20.4M73.2 83.8l20.1 -26.7M4.7 81.2l26.5 -7.5M16.1 88.2l11.0 -6.7M-2.9 87.4l43.9 -17.9M-6.4 96.0l37.2 -29.5M-7.3 97.6l36.8 -18.2M-0.8 95.0l28.8 -25.6M11.1 89.8l13.2 -5.9M7.6 92.7l20.8 -15.2M-4.6 95.5l28.5 -22.8M-3.8 84.1l36.2 -12.4M33.8 101.8l27.8 -34.0M47.3 93.0l14.3 -13.8M40.8 84.6l12.0 -13.7M43.8 96.7l12.9 -26.4M65.2 95.0l13.4 -28.8M70.6 89.9l13.4 -20.7M68.0 95.0l18.3 -24.5M69.2 91.2l19.7 -24.5" stroke="#b4ec24" stroke-width="0.5" fill="none"/><path d="M2.1 64.6l15.0 -3.3M1.0 62.8l28.7 -16.0M1.2 59.3l27.3 -6.6M22.6 58.8l22.2 -15.6M21.9 63.5l27.3 -14.3M16.2 66.4l24.9 -25.1M20.7 58.1l20.5 -19.3M18.7 66.5l24.2 -16.7M11.6 66.1l38.5 -20.3M25.3 62.9l19.6 -18.2M18.0 55.7l15.8 -7.6M17.4 62.5l13.3 -15.8M40.2 66.6l28.7 -19.8M27.3 63.9l39.9 -13.6M47.0 50.7l6.4 -3.4M39.5 62.1l26.9 -7.4M37.2 58.7l23.7 -7.8M39.7 55.6l28.5 -1.7M57.0 51.8l25.0 -9.2M55.5 55.1l28.8 -14.3M46.5 47.9l37.1 2.9M58.8 48.9l23.2 -1.8M58.7 55.3l27.4 -14.6M56.5 51.1l26.0 -8.6M53.5 58.1l28.0 -16.6M57.1 46.7l18.0 -2.3M12.2 73.3l16.1 -12.3M10.8 70.2l7.4 -4.9M13.0 78.3l17.2 -12.9M14.0 74.4l15.7 -12.4M7.1 77.4l23.3 -12.9M18.0 76.2l13.7 -12.2M10.5 69.5l6.7 -3.4M35.1 78.8l17.2 -23.5M36.8 79.0l17.1 -16.4M26.9 76.4l13.1 -15.1M32.8 80.4l16.5 -15.5M31.9 69.6l11.7 -11.7M30.2 69.8l18.4 -11.1M32.3 82.5l21.0 -21.6M26.1 85.8l23.8 -23.7M36.5 80.5l19.3 -18.5M26.7 85.8l27.3 -23.3M24.8 76.0l14.5 -12.5M53.3 72.1l17.4 -9.1M53.7 72.2l15.2 -10.2M49.1 82.1l22.4 -15.1M50.2 73.7l20.1 -10.5M47.6 78.7l22.7 -10.4M45.2 73.4l20.8 -5.6M51.0 70.6l20.6 -6.9M47.8 83.0l29.0 -24.5M45.7 79.5l31.5 -16.2M66.1 77.9l18.1 -19.9M65.8 77.4l19.3 -13.2M83.4 78.3l5.2 -10.5M67.0 82.4l28.7 -21.8M75.3 67.7l6.5 -11.7M69.3 82.8l19.7 -17.5M65.5 86.2l27.8 -27.3M77.3 82.4l18.2 -28.7M12.4 89.9l6.0 -2.4M2.6 84.2l22.0 -13.1M-9.1 96.5l43.0 -24.8M4.6 93.9l28.4 -21.1M3.7 84.5l26.6 -17.8M0.4 94.0l33.9 -24.7M3.6 93.9l25.9 -19.0M-4.9 92.3l44.0 -19.9M6.2 92.1l16.0 -8.4M-5.6 94.8l33.5 -26.8M37.6 94.0l20.9 -12.3M39.0 98.0l14.6 -26.7M40.3 92.1l26.7 -24.7M39.6 82.6l4.0 -3.9M41.9 95.6l15.3 -23.4M33.1 95.8l28.5 -24.3M50.5 91.4l1.7 -2.1M37.8 101.4l21.8 -28.8M43.5 94.1l23.1 -19.9M67.4 90.2l10.2 -22.5M57.8 89.6l22.1 -12.2M70.2 91.2l19.6 -20.2M68.6 84.6l10.6 -17.9M64.0 102.5l18.9 -33.0M69.7 95.7l17.7 -31.2M68.7 87.8l15.3 -21.1" stroke="#94d81c" stroke-width="0.5" fill="none"/><path d="M5.5 62.5l24.4 -9.6M-12.7 64.1l43.0 -21.2M-8.2 55.6l26.4 -8.7M-6.9 64.7l35.4 -17.1M-5.6 68.1l32.5 -18.1M-16.7 70.6l44.0 -21.7M9.8 63.6l13.2 -7.9M4.5 64.5l19.0 -10.2M2.8 55.7l18.2 -13.7M-5.5 58.3l25.2 -12.5M-3.9 60.4l35.7 -14.2M2.0 51.8l14.0 -8.6M12.9 64.0l25.2 -11.3M26.8 65.0l16.5 -17.2M15.9 67.7l24.0 -13.5M16.0 62.9l34.8 -19.6M15.2 67.5l24.0 -13.1M15.7 69.2l27.6 -20.2M16.0 61.0l17.2 -17.3M39.3 63.8l28.4 -19.8M41.6 56.4l14.5 -11.9M43.6 58.9l25.7 -5.3M31.8 60.1l25.9 -10.1M32.5 61.1l34.9 -12.8M36.5 63.7l27.4 -20.1M40.5 52.3l20.7 -4.6M38.4 65.8l29.2 -23.0M37.6 57.9l27.8 -9.8M36.2 60.4l27.4 -9.3M59.2 58.4l16.5 -4.5M56.0 57.4l21.2 -4.3M54.4 52.5l28.0 3.4M54.6 51.7l28.7 -4.0M56.4 53.8l31.1 -13.6M7.8 84.3l21.0 -20.4M16.1 74.6l17.2 -7.6M17.4 81.8l9.0 -14.8M5.9 74.2l24.1 -11.7M12.8 72.7l18.9 -13.9M16.2 64.8l9.4 -2.2M4.0 81.8l26.3 -21.6M8.7 73.1l23.0 -8.7M9.7 75.7l27.3 -12.7M26.2 76.2l31.2 -21.9M25.7 79.4l30.7 -17.9M30.0 78.2l19.8 -25.9M33.1 81.5l21.1 -24.1M27.4 78.3l19.9 -14.1M39.6 82.0l8.9 -15.3M45.2 81.9l29.1 -12.9M53.1 76.2l14.9 -14.9M51.8 72.0l15.4 -8.0M55.8 68.6l11.6 -4.8M51.8 80.1l15.5 -5.5M46.5 80.0l20.4 -19.3M51.1 78.0l29.4 -11.4M55.0 77.7l16.1 -4.4M71.4 70.8l16.6 -15.7M69.0 75.8l23.3 -25.7M80.1 84.1l10.0 -22.6M70.0 70.5l14.0 -12.6M70.5 69.6l14.8 -13.0M73.0 86.7l17.0 -30.1M15.7 89.8l10.3 -9.7M1.1 89.0l26.5 -15.0M-3.3 97.2l36.7 -23.0M7.9 90.6l14.5 -4.8M-4.6 95.4l32.8 -14.2M42.3 88.0l18.9 -20.3M48.0 74.7l1.9 -2.6M41.8 91.2l24.5 -20.8M45.8 93.5l20.0 -25.6M35.5 88.9l34.4 -18.6M35.7 89.7l17.1 -18.1M69.6 91.0l17.1 -20.1M66.5 90.2l17.0 -21.9M63.5 96.6l16.5 -23.3M61.1 97.7l19.0 -27.4M67.9 97.4l16.8 -30.9M68.6 93.1l17.0 -27.7M70.3 87.4l2.9 -15.5M69.9 85.4l8.3 -16.6M63.6 86.3l22.0 -18.7M67.6 92.5l14.8 -27.4M66.5 99.0l12.4 -25.9" stroke="#78c014" stroke-width="0.5" fill="none"/><path d="M2.1 70.0l11.5 -12.1M4.0 63.7l25.5 -11.6M-3.2 62.9l25.3 -23.4M-2.6 53.6l18.7 -8.2M-4.1 56.9l36.2 -8.0M19.5 61.7l26.7 -20.3M11.7 66.1l30.4 -20.4M19.1 60.4l22.8 -10.5M37.0 65.5l31.5 -20.0M38.9 60.2l27.2 -5.6M42.4 61.6l23.2 -6.9M32.0 60.8l28.4 -12.4M43.3 56.8l15.0 -12.1M31.9 57.3l31.6 -9.7M39.3 52.1l25.3 -1.6M65.0 44.4l16.0 -2.2M59.1 51.6l27.5 -4.4M64.1 47.4l9.9 -6.7M62.6 58.8l8.7 -3.6M55.8 54.6l18.7 -12.4M60.6 53.6l27.9 -8.7M15.1 79.3l16.1 -16.4M4.9 79.0l29.8 -16.6M8.3 80.1l22.2 -15.5M16.7 77.2l14.6 -11.0M8.9 69.3l21.6 -7.9M9.9 71.8l22.4 -12.4M30.6 90.0l19.8 -36.3M27.7 76.8l21.5 -17.9M27.2 71.7l25.9 -14.5M35.3 85.3l11.1 -14.6M29.7 70.8l10.8 -9.6M30.8 76.0l24.7 -16.4M27.8 78.3l17.9 -24.7M21.2 88.0l30.0 -30.6M32.1 86.0l17.8 -18.1M31.3 82.9l16.9 -15.2M50.5 71.0l24.9 -7.7M54.5 79.8l17.1 -12.5M44.1 84.2l26.5 -22.0M48.0 74.5l14.2 -8.5M47.7 81.2l20.2 -7.5M54.6 71.5l11.2 -9.3M53.8 81.6l18.5 -12.6M54.1 69.5l9.3 -5.2M50.5 72.1l19.6 -7.9M48.2 82.3l30.2 -18.0M38.0 74.1l36.6 -3.8M52.2 70.1l20.4 -5.6M43.3 79.6l30.5 -15.2M78.7 78.0l14.3 -19.6M67.2 82.9l23.6 -31.9M64.3 86.0l31.7 -31.8M67.1 75.2l18.7 -16.8M70.5 69.8l9.7 -7.8M14.1 88.0l14.5 -6.8M5.2 91.3l33.1 -17.2M-6.7 93.1l37.0 -24.0M2.9 91.0l25.7 -10.2M41.2 93.1l17.7 -17.4M39.4 82.5l4.2 -3.4M40.5 92.1l22.3 -20.2M37.7 89.5l21.2 -24.3M47.1 95.2l15.6 -20.3M32.1 97.2l24.5 -27.6M33.0 96.7l24.9 -29.4M31.9 101.1l29.5 -32.7M41.7 89.6l26.7 -18.4M36.4 86.8l11.7 -12.1M37.3 93.6l24.8 -27.8M71.7 77.8l2.8 -4.4M66.4 100.7l17.1 -33.4M64.5 91.0l13.5 -19.0M67.9 88.8l12.5 -20.5M67.8 93.5l21.1 -20.9M66.3 89.4l19.6 -24.1" stroke="#d0f43c" stroke-width="0.5" fill="none"/><path d="M-5.3 62.2l39.0 -17.5M-0.3 66.5l18.2 -6.5M5.6 65.3l5.3 -2.3M0.6 63.3l20.1 -3.1M-8.2 59.9l21.7 -13.8M-5.0 59.1l38.9 -14.8M17.1 58.4l14.3 -11.9M25.9 66.9l14.9 -15.0M18.0 70.9l25.4 -24.7M20.1 59.6l19.3 -19.4M16.7 56.6l22.9 -12.6M28.7 48.9l5.0 -4.1M31.8 56.3l30.1 -3.2M37.6 64.6l28.9 -12.5M38.5 68.6l21.8 -19.3M39.7 53.2l17.1 -5.7M30.0 62.9l30.8 -11.9M44.6 62.8l17.7 -10.4M31.9 67.3l28.2 -15.8M38.4 60.1l23.1 -6.8M60.0 57.8l20.1 -8.5M62.1 50.7l24.7 -1.6M57.0 59.0l24.3 -16.8M57.1 55.9l33.4 -8.0M62.9 58.2l14.7 -7.1M55.7 53.4l28.9 -6.6M64.9 44.6l6.9 -1.1M55.6 52.3l20.3 -9.1M57.3 48.9l20.3 -5.1M58.7 53.8l22.6 2.9M49.8 54.4l33.1 -1.2M7.1 74.0l21.2 -12.3M14.8 78.9l12.2 -9.3M14.4 68.3l7.9 -6.3M8.2 79.1l19.4 -12.8M16.8 74.9l15.2 -7.1M8.7 78.9l20.4 -13.5M7.7 72.4l19.6 -8.2M8.1 77.4l26.6 -17.0M20.9 76.1l8.4 -7.0M18.4 76.7l13.2 -11.4M11.8 80.2l19.9 -17.1M9.9 82.6l21.0 -17.5M7.9 82.6l21.6 -24.9M24.6 71.8l23.7 -12.1M35.6 66.0l5.6 -7.9M42.8 77.0l7.3 -8.6M36.7 81.2l17.5 -18.4M38.5 80.4l14.6 -17.0M30.5 70.0l18.2 -14.0M46.2 79.7l20.8 -5.9M39.7 77.2l32.2 -6.6M46.4 84.3l20.8 -15.2M50.6 82.9l27.2 -20.1M68.0 73.4l14.3 -12.2M62.1 84.2l31.6 -30.2M81.1 77.2l11.8 -12.2M81.3 78.5l8.1 -10.2M84.9 79.3l5.2 -17.5M78.2 85.3l7.1 -16.2M68.6 78.7l13.0 -20.7M79.2 79.2l12.9 -14.4M65.0 84.8l21.5 -29.5M70.3 79.8l13.3 -24.4M73.0 79.8l13.5 -23.7M65.8 87.8l23.3 -33.1M69.8 86.9l18.8 -28.5M72.5 84.5l17.0 -36.8M0.2 97.3l28.3 -30.2M-3.2 94.8l42.5 -25.8M-2.2 91.6l31.1 -20.4M8.8 81.3l18.1 -11.3M-2.8 94.3l37.1 -19.3M-6.2 91.5l45.2 -22.5M0.1 95.7l34.1 -32.7M0.3 92.4l25.5 -10.0M-7.2 95.7l42.4 -24.9M-3.7 87.2l47.3 -18.7M-4.0 92.5l43.3 -24.9M38.2 94.7l16.6 -24.2M39.2 92.9l23.3 -30.6M45.2 77.9l4.4 -5.5M37.5 94.0l33.1 -26.6M38.8 104.9l20.1 -36.9M71.8 93.3l15.4 -23.0M63.5 97.9l20.9 -23.8M67.3 87.2l14.3 -21.0M76.1 89.5l4.1 -6.1M72.9 92.4l6.8 -7.0M68.8 99.8l14.3 -27.6M63.6 93.7l21.9 -25.9M74.7 92.1l8.8 -18.0M69.7 93.1l15.3 -14.7M67.4 94.8l17.5 -26.9M66.6 92.0l23.3 -27.2M75.5 89.8l9.5 -19.4" stroke="#68b010" stroke-width="0.5" fill="none"/><path d="M-0.5 64.4l29.5 -26.1M-13.6 59.8l42.1 -8.9M-1.4 55.2l33.3 -8.0M-12.6 57.8l42.9 -5.2M0.5 51.8l15.9 -7.2M-2.0 61.7l32.3 -17.5M-7.3 52.8l20.0 -3.8M-5.2 55.0l21.7 -7.1M-1.7 55.4l31.4 -11.6M2.0 54.2l18.8 -12.4M17.7 64.3l22.2 -16.7M22.6 56.9l12.4 -13.5M18.0 68.2l23.5 -14.0M20.2 60.8l30.1 -8.9M17.1 55.4l17.9 -7.5M23.6 61.5l21.3 -13.2M10.5 64.9l37.4 -22.3M11.7 64.7l34.3 -11.9M17.4 62.4l32.7 -17.0M40.7 54.4l12.7 -7.2M42.1 59.7l25.4 -11.1M37.3 67.3l32.5 -25.3M42.9 57.9l25.3 -6.3M37.2 55.1l20.1 -7.3M34.1 61.3l25.2 -14.9M58.3 57.5l21.8 -3.9M56.2 60.2l30.8 -18.1M55.5 50.3l24.0 -6.0M55.0 52.8l21.1 -10.5M59.7 49.2l21.4 -6.4M55.1 52.8l28.8 -9.1M49.5 55.3l32.7 -12.1M54.5 54.1l26.1 -6.0M60.1 53.8l21.2 -15.1M56.9 49.4l27.3 3.1M11.2 69.6l6.9 -4.3M14.4 74.1l15.8 -17.0M29.4 87.2l18.5 -29.4M35.1 77.2l17.0 -20.3M28.3 80.3l22.9 -26.0M28.9 84.5l24.1 -32.3M30.2 71.4l14.4 -12.9M23.9 74.5l16.1 -10.4M30.0 83.3l18.6 -18.7M50.3 76.2l23.4 -10.9M50.9 76.8l20.1 -11.9M40.9 80.3l30.4 -13.9M52.1 80.1l19.1 -9.3M68.2 85.7l19.5 -25.4M67.5 72.3l26.0 -17.0M72.1 70.4l8.4 -11.5M69.6 80.8l18.3 -19.5M70.1 86.1l15.6 -33.5M70.7 84.5l15.0 -25.8M1.3 87.3l21.4 -15.6M9.0 91.6l24.3 -20.2M-2.6 94.1l38.3 -23.1M-4.6 89.9l28.1 -15.2M41.8 96.6l17.7 -34.0M44.5 90.7l17.0 -17.9M35.6 89.3l18.6 -16.1M42.5 87.1l18.2 -19.9M38.2 92.8l27.4 -24.3M34.7 89.5l25.6 -19.4M38.4 95.4l24.7 -28.3M43.2 79.6l6.0 -6.0M32.9 96.5l27.8 -19.8M64.2 100.3l21.2 -29.4M62.2 91.3l13.2 -15.2M68.0 88.0l11.9 -21.8M64.5 89.6l14.0 -18.5" stroke="#c0f030" stroke-width="0.5" fill="none"/></g><ellipse cx="12.6" cy="52.7" rx="4.5" ry="3.5" fill="#e88840"/><ellipse cx="73.5" cy="50.5" rx="4" ry="3.5" fill="#e88840"/><ellipse cx="2.2" cy="72" rx="3.5" ry="5" fill="#e88840"/><ellipse cx="32.6" cy="77" rx="3.5" ry="4.5" fill="#c050d0"/><ellipse cx="61.6" cy="72" rx="4.5" ry="3" fill="#c050d0"/><ellipse cx="12" cy="84" rx="3" ry="2" fill="#e88840"/></g>
</g>
<g transform="translate(386 208.2)">
<g clip-path="url(#ct2)"><path d="M11.0,17.0 11.2,19.4 10.5,21.3 11.1,24.4 10.5,26.5 10.0,28.6 8.8,28.8 7.8,28.6 7.3,30.4 6.4,30.1 5.6,28.8 5.0,33.7 4.2,31.9 2.9,35.8 2.3,32.5 1.9,29.9 1.1,28.9 0.1,28.2 -0.3,26.0 -2.5,26.1 -2.4,22.8 -1.8,19.6 -1.1,17.0 -1.6,14.5 -0.1,13.0 -0.7,10.0 0.8,9.8 0.6,6.9 2.1,8.0 2.2,5.2 2.8,3.9 3.4,2.0 4.1,0.4 5.0,1.8 5.7,3.2 6.6,2.3 7.7,1.3 8.6,1.9 8.9,4.9 9.7,6.2 10.6,7.4 9.7,11.2 10.2,12.9 10.7,14.8Z" fill="#eef000"/><path d="M35.9,20.0 38.2,22.8 36.8,25.2 36.8,28.1 32.4,28.2 32.2,30.8 32.5,34.8 30.7,36.8 27.8,36.7 25.5,37.3 23.2,37.3 21.0,40.0 18.6,38.3 16.5,36.9 12.6,40.4 10.7,37.9 9.4,34.9 7.2,33.4 6.5,30.4 3.5,28.9 3.7,25.7 6.8,22.3 5.3,20.0 7.8,17.9 6.0,15.1 5.6,12.1 6.3,9.5 4.1,3.6 9.3,4.9 11.6,3.7 15.1,5.5 15.8,0.2 18.6,1.4 21.0,0.1 24.1,-3.9 26.0,1.2 28.7,1.2 31.3,2.1 31.8,6.1 32.7,8.7 34.7,10.2 36.6,12.0 35.8,15.2 35.8,17.6Z" fill="#2444f0"/><ellipse cx="20.8" cy="20.8" rx="4" ry="4.5" fill="#a03cf0"/><path d="M14.7,38.0 13.8,38.7 14.1,39.6 13.1,40.1 12.5,40.6 11.9,41.2 12.4,42.7 11.2,42.9 10.7,44.1 9.9,45.4 8.1,43.7 7.0,44.1 5.8,44.2 4.5,44.5 2.8,45.0 2.0,43.9 0.2,43.9 0.4,42.3 -0.6,41.7 -1.8,41.0 -0.2,39.6 0.2,38.7 0.6,38.0 -0.1,37.2 -0.0,36.4 -0.4,35.5 -0.0,34.6 1.5,34.4 2.8,34.4 2.6,32.8 3.6,32.3 4.8,32.4 5.6,30.9 7.0,31.0 8.4,30.9 10.3,29.7 11.1,31.3 11.7,32.6 12.7,33.1 14.1,33.4 14.1,34.6 13.1,35.9 14.7,36.3 15.1,37.1Z" fill="#f02014"/><path d="M8.4,42.0 8.6,42.3 8.6,42.7 7.3,42.8 7.4,43.1 6.7,43.2 6.7,43.6 6.1,43.6 5.9,44.1 5.2,44.1 4.6,44.2 4.0,44.6 3.4,44.1 2.9,43.9 2.3,43.9 1.7,43.8 1.0,43.7 0.9,43.3 0.7,43.0 0.8,42.7 0.8,42.5 0.0,42.3 -0.0,42.0 -0.3,41.7 0.3,41.5 0.3,41.1 0.3,40.8 -0.4,40.1 0.8,40.2 0.9,39.6 2.2,40.1 2.7,39.8 3.4,39.8 4.0,40.2 4.5,40.2 5.1,40.2 5.5,40.4 5.8,40.6 6.1,40.8 6.9,40.7 7.5,40.9 7.4,41.2 7.8,41.4 8.8,41.7Z" fill="#72f0c2"/><path d="M28.1,40.0 27.4,40.4 27.6,40.9 28.2,41.6 26.5,41.6 27.2,42.6 26.1,42.7 26.6,44.1 25.5,44.4 24.2,44.2 23.2,44.9 22.0,44.2 20.9,44.2 19.6,44.6 19.2,43.5 18.1,43.4 17.6,42.9 16.6,42.7 16.3,42.1 15.4,41.7 14.4,41.3 14.1,40.6 15.3,40.0 15.7,39.5 16.3,39.0 16.6,38.6 15.7,37.7 17.4,37.7 17.9,37.3 19.0,37.3 19.1,36.4 20.3,36.6 21.1,36.5 22.0,34.4 23.2,35.2 24.1,35.8 25.8,35.3 26.9,35.6 27.7,36.2 28.6,36.7 28.1,37.8 27.4,38.6 26.9,39.2 27.4,39.6Z" fill="#72f0c2"/><path d="M50.3,34.0 50.7,35.5 48.2,36.4 49.6,38.4 47.8,39.0 47.3,40.4 46.8,41.8 46.0,43.4 44.3,43.4 43.4,45.5 41.3,43.0 40.0,42.2 38.8,42.1 37.2,43.5 36.5,41.7 34.9,41.9 35.0,39.8 33.6,39.6 31.7,39.4 30.1,38.5 30.7,36.7 30.8,35.3 28.4,34.0 29.6,32.5 27.1,30.2 28.2,28.6 30.5,27.9 31.9,27.0 33.5,26.5 35.0,26.3 36.6,26.5 37.4,25.2 38.7,25.0 40.0,25.3 41.2,25.5 42.9,24.3 43.3,26.8 45.8,25.0 47.0,26.0 47.7,27.3 48.1,28.8 48.9,29.9 50.6,30.9 50.4,32.5Z" fill="#eef000"/><path d="M72.7,19.0 70.3,21.5 68.7,23.7 69.8,26.7 68.0,28.8 68.6,32.7 64.6,33.4 60.6,33.0 58.3,34.5 55.5,34.9 52.0,30.6 50.0,31.2 47.6,33.2 45.1,33.1 41.2,35.3 38.0,34.9 35.0,33.7 35.3,29.8 33.2,28.2 30.6,26.5 29.2,24.2 26.0,21.9 30.5,19.0 27.6,16.3 27.6,13.4 29.4,11.0 32.7,9.5 37.2,9.6 39.7,8.9 40.5,6.4 43.5,6.9 43.0,-1.1 46.8,-0.0 50.0,2.3 52.9,2.1 55.8,2.2 59.3,1.8 61.5,3.8 63.0,6.2 65.2,7.8 67.7,9.3 67.5,12.2 69.0,14.2 70.4,16.5Z" fill="#72f0c2"/><ellipse cx="52.7" cy="19" rx="6" ry="4" fill="#e01010"/><path d="M84.4,12.0 83.7,13.5 83.2,14.8 83.1,16.3 83.3,18.3 82.9,20.0 81.1,19.8 80.1,20.6 79.4,22.0 78.7,24.2 77.4,24.6 76.0,26.5 74.5,25.7 72.7,26.8 71.9,24.1 70.5,23.3 69.0,22.7 69.7,19.2 69.9,17.2 69.8,15.8 68.7,14.9 68.2,13.5 69.0,12.0 68.3,10.5 66.8,8.4 67.8,7.0 68.6,5.6 68.9,3.8 69.2,1.6 70.2,0.0 71.4,-1.4 72.9,-1.9 74.7,0.2 76.0,0.5 77.4,-0.7 78.6,0.2 79.2,2.7 80.7,2.2 81.9,2.9 83.6,3.2 82.9,6.1 85.3,6.4 85.0,8.5 84.6,10.4Z" fill="#2444f0"/><ellipse cx="81" cy="14" rx="3" ry="3" fill="#72f0c2"/><path d="M84.8,32.0 83.4,33.1 82.8,34.0 83.7,35.7 83.7,37.2 83.0,38.2 82.3,39.1 81.6,39.9 80.4,39.4 80.1,42.4 79.1,42.8 78.0,42.4 76.8,43.9 75.6,43.9 74.4,43.3 73.3,42.5 73.1,40.0 72.8,38.5 72.9,36.7 73.2,35.2 72.7,34.2 71.7,33.3 72.1,32.0 71.8,30.7 71.4,29.2 72.2,28.2 71.7,26.2 72.0,24.6 72.2,22.4 74.3,23.8 74.4,20.9 75.8,21.1 76.9,21.0 78.0,22.5 79.0,22.0 80.1,21.7 81.4,21.5 81.8,23.5 83.0,23.8 83.3,25.5 84.9,25.7 85.0,27.4 85.9,28.7 86.9,30.2Z" fill="#f02014"/></g>
<g clip-path="url(#cb2)"><g opacity="0.95"><path d="M7.0 41.9l-5.6 26.6M13.5 52.9l-1.2 21.2M7.1 47.5l-7.6 19.7M15.5 54.4l-1.0 7.8M14.0 58.0l0.7 9.4M12.8 42.4l-3.8 30.7M22.9 45.7l-9.1 22.2M19.6 47.9l-8.2 14.2M23.0 44.8l-3.2 28.3M15.9 52.9l-2.4 3.0M25.5 47.3l-6.8 16.1M27.7 43.7l-9.0 26.6M23.8 55.9l-0.3 5.6M36.2 59.4l0.6 3.0M27.7 47.4l-3.0 23.5M23.1 54.8l4.1 19.1M34.5 53.0l-0.3 13.2M29.4 50.8l2.1 19.4M34.8 48.4l1.7 25.8M35.0 52.2l-0.6 17.7M44.6 47.4l-2.2 24.4M45.0 40.4l-10.4 33.1M46.1 51.5l-3.5 18.1M47.4 52.1l-8.6 22.2M39.9 46.4l0.9 24.0M11.0 70.5l-0.8 17.0M14.3 71.3l-2.8 20.6M18.5 66.7l1.0 17.1M11.4 61.7l4.4 27.8M14.0 63.7l2.5 25.9M17.6 66.5l-3.2 26.2M16.8 68.1l-8.2 23.3M21.0 72.2l3.6 9.0M28.7 69.3l3.9 21.4M34.3 68.6l0.9 17.1M32.0 65.7l5.8 14.5M19.5 61.9l13.5 25.9M37.5 64.3l3.7 17.2M40.0 57.6l9.0 28.8M36.4 62.0l15.9 33.2M40.9 59.3l8.7 38.0M39.0 75.6l0.3 0.9M44.5 64.2l6.9 24.0M66.0 66.5l-2.3 7.7M69.8 65.2l-6.1 20.9M77.0 73.5l-1.1 4.6M68.1 65.0l-5.0 24.5M73.4 67.8l-6.2 17.9M68.1 63.8l-4.9 18.8M76.0 66.1l-9.0 22.9M70.9 65.4l-7.8 21.0M75.1 61.9l7.7 22.0M74.4 54.2l9.3 24.0M74.3 48.9l5.9 32.4M71.6 65.1l6.2 15.1M72.2 68.3l2.6 7.5M14.2 40.8l1.1 18.3M13.1 45.7l3.4 12.8M28.9 48.3l4.3 12.2M36.5 41.3l10.5 19.1M29.3 37.7l9.5 21.4M30.8 36.5l12.1 22.4" stroke="#b4ec24" stroke-width="0.5" fill="none"/><path d="M6.4 41.7l-4.4 28.9M2.5 48.5l-0.0 19.2M9.0 48.1l-4.2 20.8M10.8 44.1l-0.5 23.5M9.4 41.7l-5.1 33.5M12.4 50.7l-3.4 20.7M4.7 47.3l-4.2 16.1M24.6 53.8l-12.3 12.8M27.3 49.6l-10.0 15.5M25.6 60.2l-5.5 7.8M24.4 45.7l-14.5 20.9M16.2 52.1l-5.1 12.5M29.6 53.2l-14.0 16.1M20.0 43.0l-2.5 30.2M27.1 41.3l-9.2 27.4M28.9 43.6l-17.7 23.8M28.3 47.1l-17.3 19.6M28.2 50.5l2.8 28.6M29.8 47.7l-0.1 29.4M23.1 57.6l3.4 15.6M25.6 49.6l4.3 26.4M24.2 56.0l1.2 11.2M35.7 54.6l0.1 9.3M36.6 61.7l-0.0 3.1M30.7 49.0l-0.8 21.6M28.4 54.0l-1.4 17.6M46.1 45.4l-6.4 20.1M43.6 40.0l-10.5 35.2M35.9 52.7l-1.6 21.3M35.5 53.0l-2.0 13.1M36.2 45.5l6.0 23.6M43.4 45.9l-7.4 37.2M10.7 63.4l2.0 29.6M15.3 68.4l2.1 19.0M10.3 68.1l-0.6 18.1M12.6 67.6l-2.0 20.1M12.4 57.8l4.1 34.2M19.5 66.9l14.8 19.3M24.5 74.4l1.4 15.4M22.0 67.8l6.9 23.6M25.8 65.8l6.9 26.5M25.2 65.0l5.7 19.8M25.1 61.0l3.3 31.4M23.8 64.5l12.7 27.1M23.8 65.6l-0.4 19.9M41.6 59.4l2.3 33.1M37.5 61.6l7.9 24.6M43.2 64.5l11.1 25.7M37.0 65.4l11.7 18.7M75.2 66.6l-5.9 23.7M69.0 61.8l-4.2 17.6M76.0 71.5l-6.2 15.0M70.0 59.0l-4.4 26.2M73.9 70.2l-2.6 14.5M73.0 61.6l7.1 24.0M78.1 52.7l3.9 36.9M69.1 53.1l16.2 29.6M73.1 68.9l2.5 11.8M74.4 52.2l-0.9 30.7M79.1 60.4l4.2 16.5M78.6 58.6l4.4 18.8M77.1 52.1l6.4 28.0M7.5 33.1l-1.4 27.2M5.1 39.4l2.9 20.3M5.1 45.1l-1.0 10.1M10.9 42.5l2.5 18.9M13.3 37.9l-4.4 21.9M12.2 38.1l-1.9 23.1M9.5 34.9l6.1 30.9M10.8 35.4l-6.0 29.8M8.5 34.5l-1.4 25.3M14.6 38.5l0.3 19.0M25.4 37.9l10.2 18.3M26.9 30.7l11.2 28.1M27.7 39.9l8.6 25.9M31.4 41.5l8.3 21.3M29.2 24.0l11.1 38.4M30.8 40.2l13.1 23.8M37.3 32.4l4.1 19.2M37.7 36.3l3.0 10.5M27.1 42.7l0.2 8.1M27.8 28.4l13.1 38.8M23.8 29.2l18.7 33.6M27.2 43.3l7.7 21.3M27.0 42.5l7.9 19.7M36.9 39.9l7.9 16.5" stroke="#94d81c" stroke-width="0.5" fill="none"/><path d="M0.8 56.5l0.8 9.4M12.4 45.4l-5.5 30.5M13.4 50.1l1.0 19.1M13.8 53.7l-3.0 19.2M2.0 51.4l0.1 13.2M11.0 52.5l-0.6 23.1M14.4 61.6l-0.1 4.1M27.1 53.4l-8.1 15.5M32.5 51.6l-20.5 17.6M27.6 45.4l-10.9 24.6M29.3 50.9l-9.1 16.5M21.1 44.5l-4.8 17.0M22.1 43.1l-7.2 22.3M37.7 56.9l-3.9 12.2M29.0 51.0l4.1 25.9M32.6 49.1l-6.9 24.3M23.5 63.9l-0.3 2.9M30.7 48.4l-7.1 23.5M32.4 51.6l0.6 19.1M33.4 51.9l-2.8 15.7M31.3 47.4l-0.5 23.4M24.5 58.0l2.0 14.8M32.1 52.4l-4.5 20.2M37.0 48.1l8.1 28.5M40.3 49.9l-4.5 26.8M40.6 38.1l-0.8 38.9M41.4 51.1l-5.4 22.0M37.5 50.9l-4.2 16.0M7.7 77.2l1.9 7.9M9.2 67.8l-0.9 12.5M20.0 75.5l2.3 11.7M6.0 68.9l13.6 22.0M9.9 65.4l2.7 20.3M15.1 68.7l-7.8 24.1M29.9 66.4l0.7 25.6M32.9 66.6l2.1 24.1M24.9 64.9l5.6 25.6M32.0 64.5l2.3 30.1M31.6 67.8l8.3 20.5M30.1 58.9l1.6 35.1M26.7 64.0l5.5 20.4M24.4 76.7l0.6 11.8M35.3 71.6l1.3 12.8M38.0 64.7l8.0 21.9M37.7 62.9l3.9 17.7M38.7 61.5l15.5 34.0M40.6 55.9l6.0 33.1M39.4 65.8l8.6 24.5M47.7 68.0l6.3 15.5M39.0 70.9l6.5 18.0M44.8 67.7l9.4 17.2M46.5 60.0l4.3 23.3M43.2 61.2l8.6 26.4M44.4 58.2l6.5 28.7M74.9 75.3l-1.6 9.5M71.3 60.1l0.2 24.0M76.4 60.3l-8.8 25.0M69.1 69.1l-5.4 14.1M71.1 58.0l-1.3 29.3M72.0 58.3l8.6 29.3M78.5 59.2l5.9 18.6M77.1 56.8l8.3 20.9M15.4 45.4l-0.4 9.5M12.3 37.1l-3.0 26.4M11.0 38.8l1.8 21.5M6.5 46.0l-2.1 11.5M15.7 50.7l0.1 2.8M13.8 40.9l-1.4 19.4M14.2 40.6l-1.8 16.7M38.5 38.9l3.6 19.3M34.1 35.2l7.8 30.8M33.5 30.6l7.6 27.5M27.7 26.2l10.8 39.2M22.5 35.6l15.7 21.6M24.7 36.8l15.0 27.4" stroke="#78c014" stroke-width="0.5" fill="none"/><path d="M7.8 41.8l-4.0 29.0M4.7 47.8l-3.1 29.1M11.1 37.2l-5.0 37.1M4.2 44.3l-1.5 27.5M15.8 52.2l-1.2 7.9M5.4 44.6l2.5 23.5M14.7 55.1l-3.4 6.1M26.1 43.7l-14.4 24.4M29.3 51.9l-5.8 10.5M26.5 53.7l-9.0 19.4M30.0 51.1l-9.3 14.8M23.0 49.9l-14.4 18.6M26.3 47.5l-10.7 14.6M32.1 46.6l-20.8 22.5M28.0 46.3l-10.4 23.2M25.0 61.9l-0.8 1.9M36.4 57.4l-1.0 9.1M35.3 57.1l0.9 8.4M33.3 57.8l2.0 12.7M23.4 52.9l2.9 11.8M33.3 49.0l-0.4 19.5M24.9 54.2l-1.2 12.6M33.4 61.7l-0.6 4.6M38.5 40.9l-4.7 28.1M35.7 46.1l-1.6 20.2M39.6 51.8l0.9 25.6M44.8 47.6l-7.3 33.7M45.0 46.5l-2.5 24.9M32.6 53.8l2.8 12.5M44.6 57.3l-0.5 15.1M36.1 44.3l1.3 33.4M35.1 48.4l2.0 30.1M8.2 65.4l3.4 20.1M7.2 73.4l5.0 14.0M15.9 62.3l-9.1 28.0M15.0 60.2l-3.7 28.3M16.8 68.8l1.8 22.5M16.4 66.0l0.5 21.7M11.5 64.7l4.1 22.0M14.4 66.1l-1.6 24.1M15.3 68.0l-7.2 27.1M13.6 60.3l0.5 28.4M16.7 62.8l4.3 25.3M13.4 72.2l-5.0 19.8M35.8 68.4l0.4 13.6M32.3 63.1l2.1 20.9M26.3 63.6l-1.0 27.4M29.3 68.6l10.4 21.6M32.5 64.3l3.5 24.4M29.1 66.7l4.7 24.7M35.8 65.6l-0.9 14.9M33.1 71.2l4.1 18.7M39.6 68.9l7.6 19.2M46.9 63.4l5.2 21.2M44.3 68.5l9.2 18.7M40.3 61.5l11.0 16.0M50.6 69.3l1.3 15.9M47.2 65.9l4.7 11.7M45.1 63.3l8.3 27.9M77.2 62.7l-11.7 25.4M66.9 69.5l-6.1 9.3M74.4 63.8l-4.1 25.4M77.9 61.3l-14.9 20.6M74.2 61.7l-9.7 22.2M69.1 61.6l-2.9 18.5M65.1 70.5l-3.6 10.7M74.4 56.5l12.4 26.5M71.6 52.5l8.5 34.4M72.7 56.1l6.8 31.5M72.6 58.3l11.7 25.9M81.4 54.0l-2.0 35.7M71.1 62.0l3.2 11.5M74.2 51.1l7.0 36.8M73.1 56.3l9.1 35.9M71.7 65.4l4.3 11.8M74.6 50.2l6.4 37.7M73.8 67.7l1.7 16.3M14.5 34.9l-0.2 19.3M15.7 40.2l-1.1 9.5M3.8 40.6l2.1 13.6M12.3 41.7l3.1 19.1M15.1 37.8l-4.7 28.4M13.2 27.0l-6.7 33.0M35.5 37.8l7.5 13.9M38.6 40.4l6.3 14.5M29.5 31.4l10.0 39.0M41.5 45.3l1.0 3.4M39.3 43.1l4.7 13.6" stroke="#d0f43c" stroke-width="0.5" fill="none"/><path d="M10.3 46.4l-8.6 26.4M11.7 44.3l-5.6 30.0M13.0 38.4l-4.7 35.0M0.1 44.8l6.7 26.2M12.5 43.0l-3.3 30.3M8.8 37.7l0.5 35.1M16.0 52.1l-2.3 4.7M26.5 58.1l-5.8 9.8M20.8 46.7l-7.0 22.6M27.6 47.1l-7.8 23.7M26.0 51.3l4.7 22.7M35.4 50.4l-9.6 27.6M36.8 53.5l-4.8 19.5M27.8 49.9l-1.0 19.7M24.4 52.2l2.8 14.7M27.1 52.8l-0.0 16.4M40.4 48.2l-0.6 28.5M42.8 48.7l-5.9 21.0M45.2 51.0l-4.2 26.7M37.7 47.5l-5.2 26.3M45.6 53.1l-4.6 18.6M34.4 53.4l-1.0 10.9M42.2 50.7l-3.0 23.2M46.0 50.2l0.4 16.4M19.8 73.5l2.0 15.7M7.0 67.6l7.8 16.6M10.8 68.7l1.2 20.9M10.6 69.8l2.0 20.4M12.2 65.7l-1.3 26.8M18.2 69.2l4.4 21.0M20.4 66.1l-1.6 23.5M25.7 65.7l13.2 32.9M22.7 61.9l8.7 30.0M24.2 64.2l10.4 31.6M32.6 69.5l6.4 17.5M39.2 61.1l12.1 23.1M46.4 65.8l8.2 20.2M48.8 70.8l5.5 11.7M42.2 67.5l11.6 18.9M37.4 66.7l8.5 24.1M37.4 59.3l13.5 34.3M46.0 65.6l7.3 14.8M43.0 61.6l11.6 26.9M76.1 68.5l-6.4 17.1M64.6 69.3l0.5 14.7M74.0 67.9l-5.9 18.5M69.7 60.8l-3.8 24.6M77.8 66.4l-10.1 21.6M75.9 70.1l-1.3 10.6M75.4 68.0l-3.0 14.2M63.7 72.7l-0.8 3.4M70.5 62.3l-8.0 16.1M70.8 66.3l-4.8 21.3M72.5 54.7l15.9 31.0M82.1 65.9l1.9 7.0M73.7 53.9l9.5 25.2M79.1 59.3l0.0 26.9M8.2 35.8l0.1 25.2M4.2 44.0l1.1 11.2M12.8 30.5l-0.9 26.1M5.6 31.3l4.2 30.9M12.3 35.1l-0.0 19.8M14.0 33.9l-5.9 32.9M4.8 44.3l-0.4 6.7M10.7 29.1l-5.7 32.6M8.3 32.8l7.1 25.1M12.0 32.9l-3.5 32.3M28.4 35.0l12.1 25.6M31.7 32.9l10.0 30.0M31.9 32.0l7.9 27.7M32.8 30.2l11.1 23.4M24.9 33.9l18.0 31.8M27.3 42.4l0.2 8.1" stroke="#68b010" stroke-width="0.5" fill="none"/><path d="M11.4 49.1l-2.2 22.0M15.7 47.1l-3.8 20.9M8.3 51.6l1.0 22.6M17.8 54.3l-9.6 17.6M9.6 50.8l4.3 23.4M13.8 46.9l-5.1 23.3M17.7 43.8l-14.5 31.1M8.7 45.3l1.3 30.9M8.0 44.4l-5.8 30.0M14.0 44.1l-3.7 24.1M15.8 44.9l-9.4 31.6M18.6 53.1l-7.1 12.8M26.9 55.8l-5.2 11.7M25.6 45.2l-8.4 25.0M20.4 47.6l-9.4 15.5M16.9 51.9l-3.9 5.0M23.9 43.9l-8.1 26.6M24.5 51.4l-12.7 17.7M32.3 48.9l3.4 21.8M32.4 55.7l0.4 17.1M31.3 53.3l-0.7 23.3M23.1 60.7l1.4 5.8M26.0 53.8l-1.7 20.0M28.9 43.8l1.2 29.3M46.9 56.7l-4.4 16.1M36.8 51.0l1.8 23.0M36.8 48.6l-3.2 27.2M44.0 47.7l-2.5 24.4M41.3 48.5l-1.6 24.9M42.3 50.3l-3.4 21.5M33.9 53.1l0.5 10.2M11.6 65.0l4.7 31.4M21.8 76.8l-0.1 5.1M6.9 69.0l7.8 23.9M14.4 63.6l0.9 20.0M19.1 70.0l2.3 14.1M17.5 62.9l-0.7 22.5M22.8 67.3l1.4 16.4M24.0 73.6l1.7 16.6M21.1 69.5l13.5 26.7M26.7 61.9l10.3 22.8M28.1 67.2l4.1 20.3M29.7 62.5l3.8 21.8M35.2 70.6l2.3 12.2M23.2 65.8l0.2 18.6M27.4 69.7l11.4 15.3M40.0 66.0l7.7 28.2M41.9 69.3l14.1 17.6M43.9 66.7l5.3 21.9M41.2 61.7l13.1 19.3M40.1 59.2l6.9 28.3M32.5 61.1l14.9 21.2M38.5 58.3l7.3 29.5M65.4 68.1l-2.5 10.9M77.6 71.4l-2.5 8.5M70.2 65.8l-8.2 20.3M74.6 70.3l-6.2 17.9M68.8 69.6l-7.4 14.1M69.9 61.9l-5.7 22.0M75.2 70.8l-3.8 15.4M76.0 68.6l-5.5 14.5M70.1 52.8l17.0 35.0M76.9 61.6l2.6 24.9M74.2 66.6l1.1 17.8M79.2 59.0l4.7 18.4M72.1 65.9l1.3 7.3M78.7 61.1l5.3 20.5M72.3 63.6l2.5 13.4M72.3 59.4l2.2 19.8M78.0 53.5l1.8 33.2M73.1 56.1l12.8 26.8M78.0 54.6l2.7 29.3M76.1 59.3l2.3 22.4M9.8 38.9l5.3 19.6M15.0 40.0l-9.9 24.8M9.1 31.8l-1.6 29.4M9.2 43.0l-5.2 16.6M4.4 36.2l2.5 17.4M13.8 33.5l-9.8 33.8M13.3 36.9l-1.6 24.8M14.6 39.6l-4.5 21.8M33.0 34.8l4.7 24.7M38.1 40.1l5.7 16.3M27.3 48.0l1.0 1.6M27.3 37.5l6.6 26.9M39.6 40.2l1.7 5.3M26.7 40.5l12.2 25.4M26.2 44.6l5.4 10.8M28.8 32.1l16.6 27.1" stroke="#c0f030" stroke-width="0.5" fill="none"/></g><ellipse cx="26" cy="58" rx="3" ry="4.5" fill="#e88840"/><ellipse cx="16.3" cy="81.3" rx="3.5" ry="3.5" fill="#c050d0"/><ellipse cx="38.9" cy="80" rx="3.5" ry="3.5" fill="#c050d0"/><ellipse cx="66" cy="75.7" rx="3.5" ry="4" fill="#a03cf0"/></g>
</g>
<g transform="translate(472 208.2)">
<g clip-path="url(#ct2)"><rect x="0" y="0" width="84" height="43.5" fill="#2444f0"/><path d="M20.1,15.0 19.9,17.3 20.1,19.9 18.9,21.8 20.7,26.3 15.5,23.4 15.1,25.6 14.6,28.2 14.7,33.7 11.7,29.0 10.5,30.7 9.0,31.2 7.4,31.5 6.2,29.3 5.0,28.0 3.6,27.7 2.0,27.2 -0.4,27.2 -0.1,23.8 1.0,20.5 0.5,18.7 -0.7,17.1 0.5,15.0 -0.1,13.0 0.0,11.1 1.6,9.9 1.2,7.5 1.7,5.5 2.1,3.0 2.7,0.2 4.1,-1.2 6.1,0.4 7.4,-1.6 9.0,-0.8 10.7,-2.5 12.2,-1.5 13.4,0.6 14.5,2.2 14.6,5.3 14.8,7.5 15.6,8.6 18.3,8.7 21.2,9.6 19.4,12.8Z" fill="#f05a14"/><ellipse cx="9.6" cy="10.4" rx="4" ry="6" fill="#72f0c2"/><path d="M28.7,27.0 27.8,28.7 27.7,30.5 27.0,31.8 27.9,34.8 26.6,35.5 25.9,37.0 26.8,42.8 24.8,41.6 23.3,40.8 22.1,40.9 21.0,40.7 19.7,43.0 18.3,43.1 16.1,45.9 16.7,38.7 15.9,37.3 14.8,36.4 15.0,33.8 13.5,33.0 14.3,30.5 13.3,28.9 13.5,27.0 13.6,25.1 14.5,23.6 12.0,19.8 14.0,19.1 14.9,17.7 16.4,17.8 16.8,15.6 18.3,16.7 18.7,13.0 19.6,10.3 21.0,11.8 22.4,10.5 23.6,11.5 25.6,9.5 25.9,13.7 27.1,14.6 27.0,17.8 29.0,18.0 28.0,21.4 29.6,22.6 27.9,25.3Z" fill="#cdf000"/><ellipse cx="21" cy="36" rx="3" ry="5" fill="#a03cf0"/><path d="M46.6,22.0 44.2,24.0 42.7,25.5 43.0,27.6 42.3,29.2 42.5,32.0 42.3,35.1 40.6,35.6 39.8,38.1 37.7,36.2 36.7,39.7 35.0,40.0 33.1,42.2 31.4,40.7 29.7,39.8 28.1,38.6 27.0,36.3 26.2,33.9 22.4,34.5 23.9,29.8 25.3,26.4 24.8,24.3 24.7,22.0 25.0,19.8 24.1,17.0 26.0,15.6 25.1,12.1 28.0,12.6 28.5,10.5 29.6,9.0 30.3,6.0 31.3,2.7 33.3,4.1 35.0,2.6 36.4,6.6 38.5,3.8 39.3,7.5 41.2,7.0 43.0,7.7 42.6,11.8 44.6,12.4 45.0,14.9 46.0,17.0 46.9,19.4Z" fill="#f02014"/><ellipse cx="34" cy="23.7" rx="3.5" ry="6" fill="#72f0c2"/><path d="M72.8,22.0 71.7,25.0 72.6,28.6 71.7,31.7 69.6,33.4 69.7,37.5 68.3,39.8 65.5,38.9 63.5,38.4 61.8,37.7 60.8,43.1 59.0,42.2 57.5,39.6 55.1,44.3 54.3,39.3 52.9,37.9 51.3,36.8 49.5,35.7 47.5,34.4 47.1,31.1 45.5,28.6 47.8,24.7 47.9,22.0 45.9,18.9 47.8,16.5 45.9,12.0 48.3,10.5 47.9,6.0 51.6,7.8 52.8,5.8 53.3,1.1 55.6,2.8 57.4,3.2 59.0,4.9 60.7,2.4 62.3,3.4 64.3,2.8 64.9,6.6 67.3,6.1 67.2,10.1 66.9,13.5 70.0,13.7 70.3,16.5 70.5,19.2Z" fill="#72f0c2"/><ellipse cx="59.4" cy="23.7" rx="4" ry="6" fill="#f02014"/><path d="M83.2,27.0 84.6,29.3 87.0,33.0 85.1,34.8 84.0,36.7 82.8,38.1 81.7,39.2 80.2,39.3 79.8,42.4 78.1,40.2 77.2,43.2 76.0,40.3 74.9,41.3 73.8,41.3 73.0,39.3 72.1,38.5 71.2,37.3 70.7,35.6 69.3,35.1 69.2,32.8 67.6,31.6 66.8,29.5 67.8,27.0 67.2,24.6 68.0,22.6 69.1,21.1 69.6,19.2 69.9,17.1 70.2,14.5 71.9,14.9 72.3,11.6 73.6,11.7 75.0,13.4 76.0,13.9 77.0,14.3 78.2,12.8 78.7,16.0 79.7,16.1 81.0,16.1 82.0,17.2 82.6,19.0 82.2,21.7 83.1,23.1 83.5,25.0Z" fill="#f02014"/><ellipse cx="74" cy="35" rx="3.5" ry="5.5" fill="#eef000"/><path d="M85.7,3.0 85.4,3.5 85.1,3.9 85.2,4.5 84.4,4.5 84.4,5.1 83.6,4.8 83.4,5.1 83.1,5.5 82.7,5.4 82.4,6.0 82.0,5.7 81.6,5.6 81.2,5.7 80.8,5.6 80.5,5.3 80.1,5.2 79.8,4.9 79.6,4.5 79.1,4.3 79.1,3.8 78.9,3.4 78.7,3.0 79.2,2.6 79.1,2.2 78.8,1.5 79.3,1.3 79.6,0.9 79.8,0.4 80.0,-0.1 80.6,-0.0 81.2,0.3 81.7,0.8 82.0,0.6 82.4,0.3 82.7,0.8 83.3,0.2 83.4,0.9 84.0,0.7 84.4,0.9 84.3,1.5 85.1,1.6 85.0,2.1 85.5,2.5Z" fill="#72f0c2"/><path d="M0.5,17.6 0.7,19.7 1.7,21.1 3.3,22.0 4.8,23.1 5.1,25.1 7.3,25.5 7.9,27.3 9.5,28.2 10.7,29.7 9.9,32.0 11.2,33.4 12.6,34.8 13.2,36.4 13.1,38.4 14.0,42.1 12.0,39.8 10.0,40.7 7.9,40.1 6.7,39.0 6.0,37.5 5.4,35.9 3.6,35.3 2.4,34.2 2.0,32.5 0.9,31.3 -0.3,30.0 0.1,28.3 0.3,26.6 0.7,24.9 -0.5,23.1 -0.7,21.4 -0.6,19.7Z" fill="#000"/></g>
<g clip-path="url(#cb2)"><g opacity="0.95"><path d="M5.4 55.3l23.1 -4.1M4.6 61.6l24.8 -6.9M3.4 53.9l20.5 -3.2M0.9 58.7l33.0 -3.7M5.1 48.6l19.5 3.8M-2.7 53.6l36.7 4.7M4.6 60.7l13.2 1.3M22.9 62.9l25.8 -11.6M20.6 56.9l25.7 -13.1M44.8 57.9l12.0 -3.4M35.5 45.4l21.0 1.7M36.1 46.2l22.4 -1.2M38.4 49.1l23.8 -7.8M50.7 49.1l30.4 6.2M56.5 48.0l23.1 4.6M60.0 53.0l21.6 8.1M65.1 47.8l12.6 2.2M0.8 75.3l14.6 2.9M-5.8 70.2l31.6 4.7M-0.2 68.4l26.4 8.9M0.7 75.9l16.7 -0.3M4.5 71.5l18.5 4.7M2.8 62.8l22.4 12.0M1.4 75.2l21.9 2.0M-0.7 72.9l26.8 5.8M2.5 78.6l10.2 -1.0M-2.0 70.4l27.0 5.9M1.0 64.9l12.8 0.6M20.3 70.9l8.8 -9.5M17.7 81.1l18.2 -18.5M16.2 79.9l24.6 -19.3M10.0 79.4l25.9 -19.0M15.1 83.4l32.8 -20.3M22.9 72.0l10.8 -14.1M29.0 79.6l5.7 -4.8M18.4 83.4l29.7 -31.8M26.5 82.2l11.9 -20.1M38.6 83.1l17.3 -10.3M32.6 84.4l32.9 -21.2M46.3 79.6l11.6 -6.0M37.9 68.2l25.9 -3.7M43.2 81.0l23.6 -13.8M36.6 78.3l28.0 -16.3M65.5 65.3l12.9 2.4M65.3 62.2l18.5 10.1M59.0 71.2l18.9 3.3M62.0 63.0l21.0 10.1M60.5 72.1l14.5 7.2M59.4 67.3l20.1 0.9M59.9 76.2l12.8 4.0M64.7 68.3l17.7 1.9M61.4 63.2l25.0 10.7M12.7 83.0l12.2 -11.7M16.2 78.5l2.5 -2.8M11.2 89.4l24.0 -17.5M8.8 87.8l27.6 -17.3M4.7 87.0l33.7 -17.8M9.1 88.7l16.2 -19.6M9.4 90.0l23.7 -22.3M19.4 88.6l11.4 -8.7M2.6 91.5l26.1 -19.4M8.3 78.7l25.6 -3.7M14.1 81.4l9.5 -8.6M22.6 86.6l6.1 -4.2M11.6 88.4l22.8 -21.6M21.4 87.1l10.4 -8.0M44.6 88.6l12.8 -8.2M34.4 88.6l27.5 -13.4M37.8 79.4l1.8 -1.2M37.2 93.3l18.0 -17.9M34.6 88.8l18.8 -4.3M31.4 86.9l22.6 -6.9M31.4 91.3l25.5 -10.2M51.9 94.1l33.0 -17.0M60.7 94.2l16.9 -19.1M60.2 84.3l25.5 -6.4M62.2 84.5l11.2 -11.6M63.5 88.7l20.0 -13.3M60.3 85.2l17.8 -13.8M57.0 88.4l15.7 -12.7M55.5 90.9l24.4 -15.0M76.3 58.7l11.6 -11.4M73.1 56.2l26.0 -17.5M69.8 50.8l20.2 -13.9M69.1 50.5l23.9 -7.6M70.8 55.7l22.0 -14.4M79.6 56.9l7.3 -3.8M72.6 47.1l20.0 -6.5" stroke="#b4ec24" stroke-width="0.5" fill="none"/><path d="M7.3 60.5l22.1 -4.6M7.3 51.5l19.8 7.4M3.8 58.1l25.1 -2.9M-2.3 57.7l33.4 -0.6M19.2 57.5l24.5 -15.7M10.0 59.4l40.9 -13.6M20.0 56.8l26.4 -8.0M28.2 63.4l14.8 -10.1M19.2 66.5l26.4 -20.9M25.9 62.0l17.1 -4.8M7.6 60.9l43.5 -7.3M22.8 50.7l5.1 -1.9M10.8 57.8l39.3 -10.4M38.3 47.8l23.5 -2.6M45.2 45.4l15.0 -3.0M43.8 45.7l11.0 -3.6M42.1 53.8l23.9 -6.9M51.2 57.6l1.5 -0.4M49.5 56.7l11.1 -1.1M42.0 52.4l20.2 -4.0M36.2 49.5l23.4 -4.8M48.5 42.7l5.4 -1.2M43.5 59.4l9.4 -4.2M35.0 45.7l24.3 4.1M59.2 51.0l21.5 9.4M54.1 50.3l33.7 12.3M57.9 46.3l27.6 10.6M57.8 55.2l22.4 1.5M66.2 58.7l13.1 6.2M56.3 46.5l21.0 8.3M-2.0 70.7l21.5 -1.8M0.3 67.0l27.5 7.4M-9.7 72.0l30.5 4.2M-3.9 73.5l23.3 5.3M2.4 68.5l17.3 0.4M4.3 63.7l17.1 5.6M23.3 75.7l22.5 -16.3M11.3 81.1l35.0 -20.9M27.6 80.1l11.8 -14.1M14.2 80.0l20.9 -21.5M23.6 77.7l26.8 -15.8M19.6 84.6l22.3 -31.1M18.9 75.9l21.7 -19.6M15.3 79.8l28.4 -17.7M41.2 70.5l2.9 -1.3M38.3 76.1l30.5 -14.5M40.9 73.9l28.3 -7.9M43.0 83.6l26.3 -24.0M35.2 82.3l37.0 -22.6M35.9 78.6l22.7 -16.2M33.7 84.1l31.6 -15.8M40.5 74.4l21.0 -10.8M36.9 72.5l26.6 -11.3M35.7 78.5l24.0 -12.4M42.2 80.9l15.8 -6.9M40.3 81.0l18.3 -6.8M63.1 63.0l12.1 2.6M60.8 72.9l17.2 7.0M60.2 68.7l16.3 10.7M5.7 89.8l27.2 -18.0M-0.8 90.2l33.9 -14.8M17.4 89.8l10.4 -7.9M28.0 88.8l29.3 -12.1M36.1 86.8l16.8 -10.7M28.7 85.1l28.6 -7.2M36.2 90.0l24.1 -11.5M38.9 84.7l16.1 -10.3M28.3 93.1l28.6 -16.8M60.1 93.3l26.7 -25.6M64.8 93.4l15.5 -28.0M69.6 88.6l8.6 -7.2M65.8 88.2l14.4 -18.8M70.3 44.1l13.2 -1.9M74.5 44.4l17.2 -5.2M63.6 54.5l29.4 -10.2M69.5 58.8l19.8 -14.0M79.8 56.8l4.2 -1.6M75.4 52.2l17.2 -9.6M65.0 50.9l24.7 -7.3M70.4 48.2l15.1 -5.7M72.6 56.2l21.6 -14.2M72.6 51.3l16.0 -16.7M73.3 49.5l17.5 -9.2" stroke="#94d81c" stroke-width="0.5" fill="none"/><path d="M-1.2 59.8l33.9 -8.1M0.3 54.5l32.4 5.4M3.8 60.5l15.2 0.5M6.3 57.9l21.8 5.2M-5.6 58.7l34.0 -1.8M5.6 49.5l21.7 0.3M1.3 57.6l20.6 -3.0M5.7 48.7l16.9 2.8M14.7 57.3l28.6 -10.2M16.6 56.2l19.1 -8.3M23.9 70.4l22.1 -26.9M18.2 66.2l25.4 -16.2M30.3 61.7l10.7 -4.4M22.7 64.4l17.0 -10.9M7.7 66.9l36.2 -20.1M14.9 56.0l21.5 -6.2M21.0 58.4l23.5 -11.5M17.9 66.0l28.1 -16.6M36.0 48.6l25.6 -5.2M44.1 43.6l6.9 -1.2M38.3 51.0l18.0 -5.8M33.2 50.6l27.8 0.2M42.2 44.0l6.6 -1.1M55.5 48.0l27.4 10.2M58.1 59.3l17.5 0.5M60.9 48.0l27.1 9.9M52.9 49.7l27.7 16.0M57.0 44.9l21.3 11.2M64.6 48.1l10.4 1.1M57.4 47.7l24.0 4.9M56.1 51.9l17.2 9.5M5.9 65.0l14.7 2.3M7.1 65.8l9.7 -0.4M-5.4 69.9l32.8 1.3M3.0 67.5l16.5 2.3M-6.0 71.6l31.9 1.5M3.5 64.8l19.5 4.2M5.0 65.2l13.6 5.2M-2.2 81.8l27.0 -13.6M23.9 83.5l20.5 -27.5M13.1 83.9l23.6 -26.0M11.3 85.2l32.3 -26.0M42.7 82.9l12.4 -7.9M34.9 76.3l28.3 -10.0M44.0 80.8l15.1 -9.4M32.5 73.5l34.8 -10.4M39.2 81.7l30.9 -19.7M41.8 82.3l17.9 -11.2M36.1 81.4l31.3 -18.5M31.7 78.2l27.6 -13.6M37.0 80.8l26.9 -17.0M60.1 65.0l17.2 8.5M64.8 67.4l17.8 10.3M56.6 76.4l19.7 1.3M61.0 76.2l7.1 3.8M61.1 68.2l26.4 6.0M52.7 70.0l26.8 4.9M62.0 74.0l13.0 6.8M7.1 94.9l23.6 -13.9M9.2 90.1l24.9 -14.1M15.0 86.5l13.5 -16.9M23.1 85.3l5.4 -1.9M5.5 91.2l27.1 -18.9M0.1 84.7l39.7 -7.5M9.7 93.7l25.4 -19.8M10.9 86.3l20.6 -19.3M6.7 84.3l16.0 -7.0M30.5 84.5l24.3 -10.6M31.2 84.9l18.1 -8.4M33.3 95.3l20.9 -27.3M34.4 86.3l17.1 -13.0M35.2 91.9l23.5 -14.2M26.3 87.3l30.6 -11.4M36.3 85.2l23.0 -5.8M57.2 93.6l22.0 -23.5M66.5 88.3l16.5 -12.3M69.2 87.0l13.2 -11.5M61.2 85.0l19.2 -18.2M58.8 85.4l19.5 -9.1M54.6 92.7l25.6 -22.2M59.1 90.6l17.0 -15.8M63.0 96.7l13.8 -23.7M63.2 83.9l10.6 -13.1M77.9 42.5l9.3 -3.5M77.1 55.4l13.9 -10.2M68.2 58.0l27.2 -17.2M77.8 42.2l4.4 -2.6M68.3 53.1l17.2 -12.4M71.0 47.0l12.6 -5.4M72.9 49.6l24.4 -7.3M68.1 53.0l21.7 -4.6" stroke="#78c014" stroke-width="0.5" fill="none"/><path d="M8.1 60.9l15.3 -1.1M12.2 62.5l10.7 -0.8M13.3 62.3l9.6 -0.2M5.3 48.1l10.5 -0.6M3.0 57.7l21.7 -3.3M3.0 53.4l22.7 2.2M2.4 53.6l32.8 3.3M-0.9 62.7l31.1 -7.6M11.7 61.7l12.4 0.0M7.1 58.6l17.8 2.0M17.6 65.1l30.7 -13.3M16.9 60.5l31.8 -6.0M17.0 63.9l36.9 -21.9M44.2 44.3l16.7 -0.6M39.4 50.6l20.1 -8.5M41.4 43.7l9.5 -0.5M40.3 52.8l27.5 -4.9M38.6 53.6l21.7 -6.7M38.7 52.2l25.0 -2.3M40.2 46.0l14.7 -4.9M55.9 49.9l27.8 11.5M61.7 49.5l26.4 5.0M58.9 49.5l23.5 6.4M54.3 55.1l26.5 3.4M61.2 59.4l14.4 2.5M59.5 58.4l13.7 4.0M58.3 52.5l29.6 8.2M54.9 54.9l29.7 7.3M58.4 52.0l24.5 6.5M-6.4 76.0l28.3 -2.9M7.6 65.0l6.6 0.5M-8.3 69.9l30.1 5.4M-5.0 74.8l31.8 -1.3M-0.2 72.4l27.1 1.7M4.1 76.8l10.2 3.2M30.4 79.2l3.7 -4.4M19.3 82.9l25.6 -19.5M22.1 67.8l4.7 -3.7M21.7 69.6l10.6 -10.7M22.8 76.4l17.0 -18.6M21.5 78.9l25.6 -21.6M24.2 84.0l12.2 -15.0M21.9 83.9l22.2 -22.2M17.0 81.5l26.2 -17.4M46.3 67.8l3.0 -2.1M40.1 81.7l28.3 -18.5M35.9 75.8l17.6 -12.5M34.8 79.5l32.9 -19.1M37.7 77.7l29.7 -9.2M37.0 77.9l32.0 -7.3M31.5 79.5l39.0 -15.2M57.5 63.7l28.2 13.3M55.6 69.2l22.2 6.0M60.9 64.7l27.2 10.1M63.7 77.5l8.0 2.2M55.5 65.3l21.4 14.6M60.8 62.6l26.5 13.9M65.1 78.5l1.7 0.7M68.1 63.7l1.8 -0.1M64.0 75.6l16.8 5.4M7.3 87.7l18.1 -15.5M19.1 90.4l4.3 -5.2M3.8 91.3l26.8 -16.2M21.5 88.8l11.0 -11.9M10.4 82.8l18.3 -10.0M5.7 90.4l27.1 -9.8M11.4 93.9l19.9 -15.3M17.1 90.0l18.3 -14.4M48.2 87.0l4.5 -3.0M31.6 83.1l27.1 -9.1M32.0 88.7l20.3 -12.6M42.1 78.4l7.1 -5.3M60.0 85.0l5.6 -6.9M61.5 94.1l19.3 -16.3M60.6 90.5l21.8 -25.8M55.7 92.8l23.3 -22.4M60.9 90.3l14.0 -19.5M69.4 90.3l5.8 -7.3M63.7 94.9l17.6 -19.8M58.1 97.6l21.6 -30.7M74.1 53.4l17.1 -4.8M68.3 48.2l20.6 -8.8M75.4 60.3l13.5 -13.1M76.3 58.7l9.9 -6.4M71.3 49.4l27.8 -6.4" stroke="#d0f43c" stroke-width="0.5" fill="none"/><path d="M1.0 45.7l27.2 9.1M7.5 46.7l12.0 2.1M1.9 48.5l20.1 0.3M11.3 48.7l8.5 -1.9M1.6 48.1l22.0 2.3M-2.3 53.1l28.3 5.4M4.1 54.5l28.9 -6.7M22.4 64.8l19.6 -14.1M18.0 66.6l27.5 -16.4M16.7 65.8l30.9 -17.1M14.5 71.0l31.1 -33.0M12.4 58.7l30.4 -14.8M19.1 55.7l22.3 -13.5M17.6 62.4l28.1 -18.5M15.2 56.1l27.7 -12.0M16.0 62.3l27.5 -11.7M12.3 58.7l29.7 -14.5M16.8 61.1l33.7 -15.6M16.1 55.0l20.9 -9.6M20.7 54.1l14.9 -10.3M46.2 57.1l9.6 -1.1M39.4 44.3l12.5 -1.2M38.4 56.1l23.0 -3.9M42.6 52.8l19.7 -5.8M52.1 57.5l4.2 -1.3M43.8 57.7l14.0 -2.5M44.1 54.6l16.1 0.3M41.4 47.9l22.7 -2.5M42.0 44.7l20.4 2.1M64.5 61.1l12.0 1.0M63.7 45.8l20.0 9.1M61.7 50.7l23.2 9.2M61.0 51.2l25.7 9.5M57.6 58.3l18.0 3.8M56.6 51.9l24.2 6.1M52.3 52.8l30.2 4.2M62.2 55.4l15.7 7.3M69.0 48.6l6.3 0.6M66.6 45.9l14.0 7.6M62.1 57.5l23.4 -0.6M-9.1 69.5l33.7 3.6M5.6 78.0l10.2 0.2M1.3 66.6l25.2 10.0M3.5 77.5l6.7 1.7M4.5 77.1l14.0 2.4M3.8 64.8l15.9 3.0M-1.7 73.2l27.9 2.0M-2.0 68.0l20.2 -3.7M27.5 79.8l14.1 -13.0M20.5 79.7l23.9 -23.4M23.9 77.0l21.1 -14.8M9.2 85.0l34.0 -26.0M23.8 73.6l19.7 -15.7M19.5 79.3l20.5 -26.5M36.3 75.8l23.4 -9.7M37.4 83.4l25.0 -23.5M43.3 70.0l9.9 -6.4M30.8 85.8l35.8 -24.4M38.6 78.8l19.2 -17.4M31.2 86.4l29.7 -22.4M55.7 66.0l22.1 8.7M52.5 63.9l29.3 12.4M62.4 64.8l17.7 5.9M59.5 70.2l20.1 4.7M56.3 74.7l20.3 4.3M63.3 77.4l15.7 2.0M65.5 64.8l13.9 4.2M17.2 88.5l14.1 -9.9M10.1 84.5l22.2 -13.5M10.2 98.6l17.7 -23.1M10.8 87.5l27.2 -14.9M6.4 87.9l25.8 -14.9M9.6 89.0l22.4 -14.3M36.5 79.8l12.9 -4.7M35.6 90.1l15.9 -15.2M42.1 88.9l12.8 -6.4M36.3 86.3l17.8 -15.7M33.9 87.2l29.3 -9.1M37.5 84.9l22.4 -6.9M40.9 87.1l17.1 -10.0M40.8 77.4l5.7 -1.5M41.0 90.0l7.1 -4.1M34.8 88.4l19.9 -12.6M33.9 84.5l26.3 -8.5M62.2 83.3l11.9 -10.0M60.2 89.9l23.0 -25.6M60.9 91.8l23.1 -27.6M58.6 94.0l23.1 -22.1M63.5 81.1l12.7 -9.6M63.9 93.0l17.5 -15.4M69.2 90.5l12.9 -15.6M63.7 94.5l12.2 -11.6M66.2 92.8l7.9 -8.3M69.4 54.2l27.9 -9.7M70.9 56.5l26.4 -19.4M71.8 45.9l11.3 -5.5M77.2 48.5l14.4 -10.4M70.2 58.6l20.6 -10.0" stroke="#68b010" stroke-width="0.5" fill="none"/><path d="M-3.2 54.9l28.4 2.0M7.5 54.8l24.1 -1.0M2.4 55.9l28.1 4.0M9.1 47.9l7.9 -0.3M1.3 52.6l28.0 -2.5M10.7 47.5l7.0 0.4M-4.6 52.0l34.9 0.9M1.6 57.9l31.1 -1.4M16.3 62.2l37.1 -15.9M15.8 55.1l36.5 -9.2M23.0 65.0l19.0 -12.0M19.1 57.4l20.9 -11.7M24.0 52.9l13.6 -10.6M19.5 65.1l28.0 -13.8M9.3 61.2l29.3 -13.0M44.8 57.3l19.3 -8.5M43.3 55.6l21.1 -4.0M38.4 50.3l18.8 1.4M39.8 49.4l23.6 -3.8M42.9 57.1l9.4 0.4M40.1 50.5l24.4 -8.8M39.6 54.8l24.1 -5.9M34.4 47.6l26.0 -0.9M58.3 58.9l15.0 2.1M58.8 60.3l11.3 -1.0M60.3 51.4l28.0 7.8M53.9 52.6l21.7 8.0M59.2 54.1l17.4 8.4M52.6 48.7l27.7 6.1M6.0 76.4l11.6 4.2M-0.6 70.6l29.4 0.7M0.5 66.7l27.3 8.7M1.2 65.3l15.4 2.2M-0.7 65.5l16.2 2.1M16.7 75.5l33.3 -10.3M19.6 71.5l5.9 -6.8M19.0 81.4l21.7 -18.3M18.8 69.2l20.6 -8.6M15.7 78.6l20.5 -19.3M21.2 88.7l19.9 -38.1M30.1 76.7l14.3 -9.8M28.0 80.6l13.9 -18.3M16.6 76.8l36.3 -19.7M49.1 79.2l5.1 -3.4M39.2 80.6l27.9 -11.8M40.6 77.4l22.0 -13.9M39.1 83.8l18.0 -10.5M60.6 71.8l23.3 10.2M55.6 71.3l24.9 1.1M58.4 62.4l20.7 10.6M58.7 75.9l14.2 3.1M59.0 66.4l23.3 3.3M56.3 67.2l30.4 4.2M63.3 71.4l18.7 11.0M56.3 70.0l31.9 1.1M59.0 72.8l15.9 4.4M3.7 97.7l26.2 -29.8M18.8 86.6l14.0 -5.2M14.6 79.9l11.4 -9.1M10.8 92.0l22.6 -22.5M30.6 86.3l21.2 -13.5M44.2 89.0l10.8 -7.4M46.3 87.5l1.2 -0.4M37.8 79.3l6.8 -2.8M31.8 85.3l19.7 -7.3M42.7 88.9l11.4 -5.7M31.8 87.1l19.2 -8.0M35.5 81.5l20.3 -8.9M33.7 81.3l18.6 -3.6M59.4 89.5l21.2 -18.6M53.7 91.5l25.8 -13.8M62.6 85.9l19.6 -15.9M56.8 92.6l20.0 -21.4M69.8 86.7l10.4 -6.5M62.7 94.7l14.0 -17.1M79.5 54.6l14.4 -4.9M82.5 54.8l7.2 -2.1M67.1 51.6l31.4 -6.1M72.2 53.2l17.3 -13.5M71.7 44.6l10.6 -3.5M75.6 53.0l16.6 -7.3M66.6 50.4l24.7 -9.2M72.9 57.8l17.3 -9.2" stroke="#c0f030" stroke-width="0.5" fill="none"/></g><ellipse cx="58" cy="58" rx="10" ry="6" fill="#000" opacity="0.85"/><ellipse cx="22" cy="56.4" rx="3" ry="4.5" fill="#e88840"/><ellipse cx="43" cy="47.5" rx="3" ry="3" fill="#e88840"/><ellipse cx="1.5" cy="67.5" rx="2.5" ry="4" fill="#e88840"/><ellipse cx="48" cy="69" rx="5" ry="3" fill="#e88840"/><ellipse cx="31" cy="80" rx="5" ry="2.5" fill="#e88840"/><ellipse cx="58" cy="69" rx="3" ry="3" fill="#e88840"/></g>
</g>
<line x1="42.6" y1="76.5" x2="556" y2="76.5" stroke="#fff" stroke-width="2.9" stroke-dasharray="3 3"/>
<line x1="42.6" y1="164.5" x2="556" y2="164.5" stroke="#fff" stroke-width="2.9" stroke-dasharray="3 3"/>
<line x1="42.6" y1="251.5" x2="556" y2="251.5" stroke="#fff" stroke-width="2.9" stroke-dasharray="3 3"/>
<polygon points="16,320.3 557.5,293.3 557.5,319.7 16,320.5" fill="#000"/>
<text x="490.3" y="313.9" font-size="17.2" fill="#fff" font-style="italic">E</text>
<text x="507.3" y="314.5" font-size="19" fill="#fff" textLength="45.5" lengthAdjust="spacingAndGlyphs">(kPa)</text>
<text transform="translate(101.1 338.8) scale(1.22 1)" font-size="20.5" text-anchor="middle">2</text>
<text transform="translate(187.0 338.8) scale(1.22 1)" font-size="20.5" text-anchor="middle">4</text>
<text transform="translate(273.0 338.8) scale(1.22 1)" font-size="20.5" text-anchor="middle">8</text>
<text transform="translate(360.6 338.8) scale(1.22 1)" font-size="20.5" text-anchor="middle">12</text>
<text transform="translate(446.0 338.8) scale(1.22 1)" font-size="20.5" text-anchor="middle">22</text>
<text transform="translate(532.0 338.8) scale(1.22 1)" font-size="20.5" text-anchor="middle">33</text>
<rect x="16" y="345" width="541" height="29.6" fill="#566665"/>
<text x="205.6" y="369" fill="#fff" font-size="24" textLength="41.5" lengthAdjust="spacingAndGlyphs">Cell</text>
<text x="252.6" y="369" fill="#fff" font-size="20" textLength="115" lengthAdjust="spacingAndGlyphs">Morphology</text>
<rect x="16" y="565" width="541" height="29.8" fill="#e2e8e5"/>
<text x="177.6" y="590.5" fill="#000" font-size="25.5" textLength="218.5" lengthAdjust="spacingAndGlyphs">Nuclear Morphology</text>
<polyline points="62.85,492.24 70.26,454.92 82.49,454.27 96.02,445.19 128.54,431.23 163.32,423.45" fill="none" stroke="#4df0c0" stroke-width="1.6"/>
<path d="M62.85 482.50V501.98M60.25 482.50h5.2M60.25 501.98h5.2" stroke="#4df0c0" stroke-width="1.3" fill="none"/>
<path d="M70.26 445.84V464.01M67.66 445.84h5.2M67.66 464.01h5.2" stroke="#4df0c0" stroke-width="1.3" fill="none"/>
<path d="M82.49 444.54V464.01M79.89 444.54h5.2M79.89 464.01h5.2" stroke="#4df0c0" stroke-width="1.3" fill="none"/>
<path d="M96.02 438.70V451.68M93.42 438.70h5.2M93.42 451.68h5.2" stroke="#4df0c0" stroke-width="1.3" fill="none"/>
<path d="M128.54 423.12V439.35M125.94 423.12h5.2M125.94 439.35h5.2" stroke="#4df0c0" stroke-width="1.3" fill="none"/>
<path d="M163.32 416.96V429.94M160.72 416.96h5.2M160.72 429.94h5.2" stroke="#4df0c0" stroke-width="1.3" fill="none"/>
<circle cx="62.85" cy="492.24" r="2.73" fill="#4df0c0"/>
<circle cx="70.26" cy="454.92" r="2.73" fill="#4df0c0"/>
<circle cx="82.49" cy="454.27" r="2.73" fill="#4df0c0"/>
<circle cx="96.02" cy="445.19" r="2.73" fill="#4df0c0"/>
<circle cx="128.54" cy="431.23" r="2.73" fill="#4df0c0"/>
<circle cx="163.32" cy="423.45" r="2.73" fill="#4df0c0"/>
<polyline points="62.85,453.30 70.26,432.69 82.49,426.37 96.02,415.98 128.54,411.12 163.32,409.49" fill="none" stroke="#9a22f2" stroke-width="1.6"/>
<path d="M62.85 440.32V466.28M60.25 440.32h5.2M60.25 466.28h5.2" stroke="#9a22f2" stroke-width="1.3" fill="none"/>
<path d="M70.26 420.36V445.03M67.66 420.36h5.2M67.66 445.03h5.2" stroke="#9a22f2" stroke-width="1.3" fill="none"/>
<path d="M82.49 418.25V434.48M79.89 418.25h5.2M79.89 434.48h5.2" stroke="#9a22f2" stroke-width="1.3" fill="none"/>
<path d="M96.02 407.87V424.10M93.42 407.87h5.2M93.42 424.10h5.2" stroke="#9a22f2" stroke-width="1.3" fill="none"/>
<path d="M128.54 403.65V418.58M125.94 403.65h5.2M125.94 418.58h5.2" stroke="#9a22f2" stroke-width="1.3" fill="none"/>
<path d="M163.32 398.13V420.85M160.72 398.13h5.2M160.72 420.85h5.2" stroke="#9a22f2" stroke-width="1.3" fill="none"/>
<polygon points="62.85,450.44 65.45,455.38 60.25,455.38" fill="#9a22f2"/>
<polygon points="70.26,429.83 72.86,434.77 67.66,434.77" fill="#9a22f2"/>
<polygon points="82.49,423.51 85.09,428.45 79.89,428.45" fill="#9a22f2"/>
<polygon points="96.02,413.12 98.62,418.06 93.42,418.06" fill="#9a22f2"/>
<polygon points="128.54,408.25 131.14,413.19 125.94,413.19" fill="#9a22f2"/>
<polygon points="163.32,406.63 165.92,411.57 160.72,411.57" fill="#9a22f2"/>
<polyline points="62.85,469.53 70.26,442.79 82.49,420.85 96.02,423.12 128.54,417.61 163.32,415.01" fill="none" stroke="#f2b418" stroke-width="1.6"/>
<path d="M62.85 461.41V477.64M60.25 461.41h5.2M60.25 477.64h5.2" stroke="#f2b418" stroke-width="1.3" fill="none"/>
<path d="M70.26 434.67V450.90M67.66 434.67h5.2M67.66 450.90h5.2" stroke="#f2b418" stroke-width="1.3" fill="none"/>
<path d="M82.49 407.22V434.48M79.89 407.22h5.2M79.89 434.48h5.2" stroke="#f2b418" stroke-width="1.3" fill="none"/>
<path d="M96.02 410.14V436.10M93.42 410.14h5.2M93.42 436.10h5.2" stroke="#f2b418" stroke-width="1.3" fill="none"/>
<path d="M128.54 409.49V425.72M125.94 409.49h5.2M125.94 425.72h5.2" stroke="#f2b418" stroke-width="1.3" fill="none"/>
<path d="M163.32 406.90V423.12M160.72 406.90h5.2M160.72 423.12h5.2" stroke="#f2b418" stroke-width="1.3" fill="none"/>
<rect x="60.25" y="466.93" width="5.20" height="5.20" fill="#f2b418"/>
<rect x="67.66" y="440.19" width="5.20" height="5.20" fill="#f2b418"/>
<rect x="79.89" y="418.25" width="5.20" height="5.20" fill="#f2b418"/>
<rect x="93.42" y="420.52" width="5.20" height="5.20" fill="#f2b418"/>
<rect x="125.94" y="415.00" width="5.20" height="5.20" fill="#f2b418"/>
<rect x="160.72" y="412.41" width="5.20" height="5.20" fill="#f2b418"/>
<path d="M57.7 387.9V518.2" fill="none" stroke="#000" stroke-width="1.5"/>
<path d="M56.95 518.2H186.5" fill="none" stroke="#000" stroke-width="1.5"/>
<line x1="52.7" y1="388.40" x2="57.7" y2="388.40" stroke="#000" stroke-width="1.4"/>
<text x="50.7" y="392.70" font-size="12" text-anchor="end">5500</text>
<line x1="52.7" y1="420.85" x2="57.7" y2="420.85" stroke="#000" stroke-width="1.4"/>
<text x="50.7" y="425.15" font-size="12" text-anchor="end">4500</text>
<line x1="52.7" y1="453.30" x2="57.7" y2="453.30" stroke="#000" stroke-width="1.4"/>
<text x="50.7" y="457.60" font-size="12" text-anchor="end">3500</text>
<line x1="52.7" y1="485.75" x2="57.7" y2="485.75" stroke="#000" stroke-width="1.4"/>
<text x="50.7" y="490.05" font-size="12" text-anchor="end">2500</text>
<line x1="52.7" y1="518.20" x2="57.7" y2="518.20" stroke="#000" stroke-width="1.4"/>
<text x="50.7" y="522.50" font-size="12" text-anchor="end">1500</text>
<line x1="57.70" y1="518.2" x2="57.70" y2="522.7" stroke="#000" stroke-width="1.4"/>
<text x="57.70" y="537.50" font-size="12" text-anchor="middle">0</text>
<line x1="89.90" y1="518.2" x2="89.90" y2="522.7" stroke="#000" stroke-width="1.4"/>
<text x="89.90" y="537.50" font-size="12" text-anchor="middle">10</text>
<line x1="122.10" y1="518.2" x2="122.10" y2="522.7" stroke="#000" stroke-width="1.4"/>
<text x="122.10" y="537.50" font-size="12" text-anchor="middle">20</text>
<line x1="154.30" y1="518.2" x2="154.30" y2="522.7" stroke="#000" stroke-width="1.4"/>
<text x="154.30" y="537.50" font-size="12" text-anchor="middle">30</text>
<line x1="186.50" y1="518.2" x2="186.50" y2="522.7" stroke="#000" stroke-width="1.4"/>
<text x="186.50" y="537.50" font-size="12" text-anchor="middle">40</text>
<text x="122.10" y="556" font-size="14.4" text-anchor="middle">Stiffness (kPa)</text>
<text transform="translate(14 452) rotate(-90)" font-size="14.5" text-anchor="middle">Area (μm<tspan font-size="10" dy="-5">2</tspan><tspan dy="5">)</tspan></text>
<polyline points="240.76,476.94 248.18,470.74 260.43,445.46 273.98,468.68 306.55,460.94 341.38,476.42" fill="none" stroke="#f2b418" stroke-width="1.6"/>
<path d="M240.76 456.30V497.58M238.16 456.30h5.2M238.16 497.58h5.2" stroke="#f2b418" stroke-width="1.3" fill="none"/>
<path d="M248.18 455.26V486.22M245.58 455.26h5.2M245.58 486.22h5.2" stroke="#f2b418" stroke-width="1.3" fill="none"/>
<path d="M260.43 435.14V455.78M257.83 435.14h5.2M257.83 455.78h5.2" stroke="#f2b418" stroke-width="1.3" fill="none"/>
<path d="M273.98 455.78V481.58M271.38 455.78h5.2M271.38 481.58h5.2" stroke="#f2b418" stroke-width="1.3" fill="none"/>
<path d="M306.55 448.04V473.84M303.95 448.04h5.2M303.95 473.84h5.2" stroke="#f2b418" stroke-width="1.3" fill="none"/>
<path d="M341.38 459.65V493.19M338.78 459.65h5.2M338.78 493.19h5.2" stroke="#f2b418" stroke-width="1.3" fill="none"/>
<rect x="238.16" y="474.34" width="5.20" height="5.20" fill="#f2b418"/>
<rect x="245.58" y="468.14" width="5.20" height="5.20" fill="#f2b418"/>
<rect x="257.83" y="442.86" width="5.20" height="5.20" fill="#f2b418"/>
<rect x="271.38" y="466.08" width="5.20" height="5.20" fill="#f2b418"/>
<rect x="303.95" y="458.34" width="5.20" height="5.20" fill="#f2b418"/>
<rect x="338.78" y="473.82" width="5.20" height="5.20" fill="#f2b418"/>
<polyline points="240.76,499.64 248.18,453.20 260.43,433.08 273.98,462.75 306.55,466.10 341.38,463.52" fill="none" stroke="#9a22f2" stroke-width="1.6"/>
<path d="M240.76 486.74V512.54M238.16 486.74h5.2M238.16 512.54h5.2" stroke="#9a22f2" stroke-width="1.3" fill="none"/>
<path d="M248.18 437.72V468.68M245.58 437.72h5.2M245.58 468.68h5.2" stroke="#9a22f2" stroke-width="1.3" fill="none"/>
<path d="M260.43 409.86V456.30M257.83 409.86h5.2M257.83 456.30h5.2" stroke="#9a22f2" stroke-width="1.3" fill="none"/>
<path d="M273.98 445.98V479.52M271.38 445.98h5.2M271.38 479.52h5.2" stroke="#9a22f2" stroke-width="1.3" fill="none"/>
<path d="M306.55 457.07V475.13M303.95 457.07h5.2M303.95 475.13h5.2" stroke="#9a22f2" stroke-width="1.3" fill="none"/>
<path d="M341.38 453.20V473.84M338.78 453.20h5.2M338.78 473.84h5.2" stroke="#9a22f2" stroke-width="1.3" fill="none"/>
<polygon points="240.76,496.78 243.36,501.72 238.16,501.72" fill="#9a22f2"/>
<polygon points="248.18,450.34 250.78,455.28 245.58,455.28" fill="#9a22f2"/>
<polygon points="260.43,430.22 263.03,435.16 257.83,435.16" fill="#9a22f2"/>
<polygon points="273.98,459.89 276.58,464.83 271.38,464.83" fill="#9a22f2"/>
<polygon points="306.55,463.24 309.15,468.18 303.95,468.18" fill="#9a22f2"/>
<polygon points="341.38,460.66 343.98,465.60 338.78,465.60" fill="#9a22f2"/>
<polyline points="240.76,483.13 248.18,429.98 260.43,451.65 273.98,457.07 306.55,462.23 341.38,442.88" fill="none" stroke="#4df0c0" stroke-width="1.6"/>
<path d="M240.76 458.62V507.64M238.16 458.62h5.2M238.16 507.64h5.2" stroke="#4df0c0" stroke-width="1.3" fill="none"/>
<path d="M248.18 414.50V445.46M245.58 414.50h5.2M245.58 445.46h5.2" stroke="#4df0c0" stroke-width="1.3" fill="none"/>
<path d="M260.43 429.72V473.58M257.83 429.72h5.2M257.83 473.58h5.2" stroke="#4df0c0" stroke-width="1.3" fill="none"/>
<path d="M273.98 442.88V471.26M271.38 442.88h5.2M271.38 471.26h5.2" stroke="#4df0c0" stroke-width="1.3" fill="none"/>
<path d="M306.55 449.33V475.13M303.95 449.33h5.2M303.95 475.13h5.2" stroke="#4df0c0" stroke-width="1.3" fill="none"/>
<path d="M341.38 433.85V451.91M338.78 433.85h5.2M338.78 451.91h5.2" stroke="#4df0c0" stroke-width="1.3" fill="none"/>
<circle cx="240.76" cy="483.13" r="2.73" fill="#4df0c0"/>
<circle cx="248.18" cy="429.98" r="2.73" fill="#4df0c0"/>
<circle cx="260.43" cy="451.65" r="2.73" fill="#4df0c0"/>
<circle cx="273.98" cy="457.07" r="2.73" fill="#4df0c0"/>
<circle cx="306.55" cy="462.23" r="2.73" fill="#4df0c0"/>
<circle cx="341.38" cy="442.88" r="2.73" fill="#4df0c0"/>
<path d="M235.6 388.2V517.7" fill="none" stroke="#000" stroke-width="1.5"/>
<path d="M234.85 517.7H364.6" fill="none" stroke="#000" stroke-width="1.5"/>
<line x1="230.6" y1="388.70" x2="235.6" y2="388.70" stroke="#000" stroke-width="1.4"/>
<text x="228.6" y="393.00" font-size="12" text-anchor="end">2.3</text>
<line x1="230.6" y1="414.50" x2="235.6" y2="414.50" stroke="#000" stroke-width="1.4"/>
<text x="228.6" y="418.80" font-size="12" text-anchor="end">2.2</text>
<line x1="230.6" y1="440.30" x2="235.6" y2="440.30" stroke="#000" stroke-width="1.4"/>
<text x="228.6" y="444.60" font-size="12" text-anchor="end">2.1</text>
<line x1="230.6" y1="466.10" x2="235.6" y2="466.10" stroke="#000" stroke-width="1.4"/>
<text x="228.6" y="470.40" font-size="12" text-anchor="end">2.0</text>
<line x1="230.6" y1="491.90" x2="235.6" y2="491.90" stroke="#000" stroke-width="1.4"/>
<text x="228.6" y="496.20" font-size="12" text-anchor="end">1.9</text>
<line x1="230.6" y1="517.70" x2="235.6" y2="517.70" stroke="#000" stroke-width="1.4"/>
<text x="228.6" y="522.00" font-size="12" text-anchor="end">1.8</text>
<line x1="235.60" y1="517.7" x2="235.60" y2="522.2" stroke="#000" stroke-width="1.4"/>
<text x="235.60" y="537.00" font-size="12" text-anchor="middle">0</text>
<line x1="267.85" y1="517.7" x2="267.85" y2="522.2" stroke="#000" stroke-width="1.4"/>
<text x="267.85" y="537.00" font-size="12" text-anchor="middle">10</text>
<line x1="300.10" y1="517.7" x2="300.10" y2="522.2" stroke="#000" stroke-width="1.4"/>
<text x="300.10" y="537.00" font-size="12" text-anchor="middle">20</text>
<line x1="332.35" y1="517.7" x2="332.35" y2="522.2" stroke="#000" stroke-width="1.4"/>
<text x="332.35" y="537.00" font-size="12" text-anchor="middle">30</text>
<line x1="364.60" y1="517.7" x2="364.60" y2="522.2" stroke="#000" stroke-width="1.4"/>
<text x="364.60" y="537.00" font-size="12" text-anchor="middle">40</text>
<text x="300.10" y="556.5" font-size="14.4" text-anchor="middle">Stiffness (kPa)</text>
<text transform="translate(204.5 452) rotate(-90)" font-size="14" text-anchor="middle">Aspect Ratio</text>
<polyline points="424.36,447.67 431.79,441.20 444.05,450.26 457.61,451.56 490.20,431.49 525.06,452.86" fill="none" stroke="#f2b418" stroke-width="1.6"/>
<path d="M424.36 428.25V467.10M421.76 428.25h5.2M421.76 467.10h5.2" stroke="#f2b418" stroke-width="1.3" fill="none"/>
<path d="M431.79 433.43V448.97M429.19 433.43h5.2M429.19 448.97h5.2" stroke="#f2b418" stroke-width="1.3" fill="none"/>
<path d="M444.05 443.79V456.74M441.45 443.79h5.2M441.45 456.74h5.2" stroke="#f2b418" stroke-width="1.3" fill="none"/>
<path d="M457.61 443.79V459.33M455.01 443.79h5.2M455.01 459.33h5.2" stroke="#f2b418" stroke-width="1.3" fill="none"/>
<path d="M490.20 418.54V444.44M487.60 418.54h5.2M487.60 444.44h5.2" stroke="#f2b418" stroke-width="1.3" fill="none"/>
<path d="M525.06 446.38V459.33M522.46 446.38h5.2M522.46 459.33h5.2" stroke="#f2b418" stroke-width="1.3" fill="none"/>
<rect x="421.76" y="445.07" width="5.20" height="5.20" fill="#f2b418"/>
<rect x="429.19" y="438.60" width="5.20" height="5.20" fill="#f2b418"/>
<rect x="441.45" y="447.66" width="5.20" height="5.20" fill="#f2b418"/>
<rect x="455.01" y="448.96" width="5.20" height="5.20" fill="#f2b418"/>
<rect x="487.60" y="428.89" width="5.20" height="5.20" fill="#f2b418"/>
<rect x="522.46" y="450.25" width="5.20" height="5.20" fill="#f2b418"/>
<polyline points="424.36,434.08 431.79,448.97 444.05,456.09 457.61,448.97 490.20,444.44 525.06,443.79" fill="none" stroke="#4df0c0" stroke-width="1.6"/>
<path d="M424.36 425.66V442.50M421.76 425.66h5.2M421.76 442.50h5.2" stroke="#4df0c0" stroke-width="1.3" fill="none"/>
<path d="M431.79 443.79V454.15M429.19 443.79h5.2M429.19 454.15h5.2" stroke="#4df0c0" stroke-width="1.3" fill="none"/>
<path d="M444.05 449.62V462.57M441.45 449.62h5.2M441.45 462.57h5.2" stroke="#4df0c0" stroke-width="1.3" fill="none"/>
<path d="M457.61 443.79V454.15M455.01 443.79h5.2M455.01 454.15h5.2" stroke="#4df0c0" stroke-width="1.3" fill="none"/>
<path d="M490.20 437.96V450.91M487.60 437.96h5.2M487.60 450.91h5.2" stroke="#4df0c0" stroke-width="1.3" fill="none"/>
<path d="M525.06 439.26V448.32M522.46 439.26h5.2M522.46 448.32h5.2" stroke="#4df0c0" stroke-width="1.3" fill="none"/>
<circle cx="424.36" cy="434.08" r="2.73" fill="#4df0c0"/>
<circle cx="431.79" cy="448.97" r="2.73" fill="#4df0c0"/>
<circle cx="444.05" cy="456.09" r="2.73" fill="#4df0c0"/>
<circle cx="457.61" cy="448.97" r="2.73" fill="#4df0c0"/>
<circle cx="490.20" cy="444.44" r="2.73" fill="#4df0c0"/>
<circle cx="525.06" cy="443.79" r="2.73" fill="#4df0c0"/>
<polyline points="424.36,474.87 431.79,469.69 444.05,460.62 457.61,464.51 490.20,449.62 525.06,459.33" fill="none" stroke="#9a22f2" stroke-width="1.6"/>
<path d="M424.36 460.62V489.11M421.76 460.62h5.2M421.76 489.11h5.2" stroke="#9a22f2" stroke-width="1.3" fill="none"/>
<path d="M431.79 461.27V478.11M429.19 461.27h5.2M429.19 478.11h5.2" stroke="#9a22f2" stroke-width="1.3" fill="none"/>
<path d="M444.05 452.86V468.39M441.45 452.86h5.2M441.45 468.39h5.2" stroke="#9a22f2" stroke-width="1.3" fill="none"/>
<path d="M457.61 454.80V474.22M455.01 454.80h5.2M455.01 474.22h5.2" stroke="#9a22f2" stroke-width="1.3" fill="none"/>
<path d="M490.20 439.26V459.98M487.60 439.26h5.2M487.60 459.98h5.2" stroke="#9a22f2" stroke-width="1.3" fill="none"/>
<path d="M525.06 450.26V468.39M522.46 450.26h5.2M522.46 468.39h5.2" stroke="#9a22f2" stroke-width="1.3" fill="none"/>
<polygon points="424.36,472.01 426.96,476.95 421.76,476.95" fill="#9a22f2"/>
<polygon points="431.79,466.83 434.39,471.77 429.19,471.77" fill="#9a22f2"/>
<polygon points="444.05,457.76 446.65,462.70 441.45,462.70" fill="#9a22f2"/>
<polygon points="457.61,461.65 460.21,466.59 455.01,466.59" fill="#9a22f2"/>
<polygon points="490.20,446.76 492.81,451.70 487.60,451.70" fill="#9a22f2"/>
<polygon points="525.06,456.47 527.66,461.41 522.46,461.41" fill="#9a22f2"/>
<path d="M419.2 388.9V518.9" fill="none" stroke="#000" stroke-width="1.5"/>
<path d="M418.45 518.9H548.3" fill="none" stroke="#1c1c78" stroke-width="1.5"/>
<line x1="414.2" y1="389.40" x2="419.2" y2="389.40" stroke="#000" stroke-width="1.4"/>
<text x="412.2" y="393.70" font-size="12" text-anchor="end">0.20</text>
<line x1="414.2" y1="421.77" x2="419.2" y2="421.77" stroke="#000" stroke-width="1.4"/>
<text x="412.2" y="426.07" font-size="12" text-anchor="end">0.15</text>
<line x1="414.2" y1="454.15" x2="419.2" y2="454.15" stroke="#000" stroke-width="1.4"/>
<text x="412.2" y="458.45" font-size="12" text-anchor="end">0.10</text>
<line x1="414.2" y1="486.52" x2="419.2" y2="486.52" stroke="#000" stroke-width="1.4"/>
<text x="412.2" y="490.82" font-size="12" text-anchor="end">0.05</text>
<line x1="414.2" y1="518.90" x2="419.2" y2="518.90" stroke="#000" stroke-width="1.4"/>
<text x="412.2" y="523.20" font-size="12" text-anchor="end">0.00</text>
<line x1="419.20" y1="518.9" x2="419.20" y2="523.4" stroke="#000" stroke-width="1.4"/>
<text x="419.20" y="538.20" font-size="12" text-anchor="middle">0</text>
<line x1="451.47" y1="518.9" x2="451.47" y2="523.4" stroke="#000" stroke-width="1.4"/>
<text x="451.47" y="538.20" font-size="12" text-anchor="middle">10</text>
<line x1="483.75" y1="518.9" x2="483.75" y2="523.4" stroke="#000" stroke-width="1.4"/>
<text x="483.75" y="538.20" font-size="12" text-anchor="middle">20</text>
<line x1="516.02" y1="518.9" x2="516.02" y2="523.4" stroke="#000" stroke-width="1.4"/>
<text x="516.02" y="538.20" font-size="12" text-anchor="middle">30</text>
<line x1="548.30" y1="518.9" x2="548.30" y2="523.4" stroke="#000" stroke-width="1.4"/>
<text x="548.30" y="538.20" font-size="12" text-anchor="middle">40</text>
<text x="483.75" y="556.5" font-size="14.4" text-anchor="middle">Stiffness (kPa)</text>
<text transform="translate(381 454) rotate(-90)" font-size="14.5" text-anchor="middle">Form Factor</text>
<polyline points="60.47,692.74 67.91,681.93 80.19,689.28 93.77,654.69 126.42,646.05 161.33,663.34" fill="none" stroke="#4df0c0" stroke-width="1.6"/>
<path d="M60.47 684.96V700.52M57.87 684.96h5.2M57.87 700.52h5.2" stroke="#4df0c0" stroke-width="1.3" fill="none"/>
<path d="M67.91 673.29V690.58M65.31 673.29h5.2M65.31 690.58h5.2" stroke="#4df0c0" stroke-width="1.3" fill="none"/>
<path d="M80.19 655.99V722.57M77.59 655.99h5.2M77.59 722.57h5.2" stroke="#4df0c0" stroke-width="1.3" fill="none"/>
<path d="M93.77 649.51V659.88M91.17 649.51h5.2M91.17 659.88h5.2" stroke="#4df0c0" stroke-width="1.3" fill="none"/>
<path d="M126.42 637.40V654.69M123.82 637.40h5.2M123.82 654.69h5.2" stroke="#4df0c0" stroke-width="1.3" fill="none"/>
<path d="M161.33 658.15V668.53M158.73 658.15h5.2M158.73 668.53h5.2" stroke="#4df0c0" stroke-width="1.3" fill="none"/>
<circle cx="60.47" cy="692.74" r="2.73" fill="#4df0c0"/>
<circle cx="67.91" cy="681.93" r="2.73" fill="#4df0c0"/>
<circle cx="80.19" cy="689.28" r="2.73" fill="#4df0c0"/>
<circle cx="93.77" cy="654.69" r="2.73" fill="#4df0c0"/>
<circle cx="126.42" cy="646.05" r="2.73" fill="#4df0c0"/>
<circle cx="161.33" cy="663.34" r="2.73" fill="#4df0c0"/>
<polyline points="60.47,675.01 67.91,653.40 80.19,647.35 93.77,649.07 126.42,630.92 161.33,636.10" fill="none" stroke="#9a22f2" stroke-width="1.6"/>
<path d="M60.47 670.69V679.34M57.87 670.69h5.2M57.87 679.34h5.2" stroke="#9a22f2" stroke-width="1.3" fill="none"/>
<path d="M67.91 648.21V658.59M65.31 648.21h5.2M65.31 658.59h5.2" stroke="#9a22f2" stroke-width="1.3" fill="none"/>
<path d="M80.19 636.54V658.15M77.59 636.54h5.2M77.59 658.15h5.2" stroke="#9a22f2" stroke-width="1.3" fill="none"/>
<path d="M93.77 643.89V654.26M91.17 643.89h5.2M91.17 654.26h5.2" stroke="#9a22f2" stroke-width="1.3" fill="none"/>
<path d="M126.42 622.27V639.56M123.82 622.27h5.2M123.82 639.56h5.2" stroke="#9a22f2" stroke-width="1.3" fill="none"/>
<path d="M161.33 631.78V640.43M158.73 631.78h5.2M158.73 640.43h5.2" stroke="#9a22f2" stroke-width="1.3" fill="none"/>
<polygon points="60.47,672.15 63.07,677.09 57.87,677.09" fill="#9a22f2"/>
<polygon points="67.91,650.54 70.51,655.48 65.31,655.48" fill="#9a22f2"/>
<polygon points="80.19,644.49 82.79,649.43 77.59,649.43" fill="#9a22f2"/>
<polygon points="93.77,646.21 96.37,651.15 91.17,651.15" fill="#9a22f2"/>
<polygon points="126.42,628.06 129.02,633.00 123.82,633.00" fill="#9a22f2"/>
<polygon points="161.33,633.24 163.93,638.18 158.73,638.18" fill="#9a22f2"/>
<polyline points="60.47,687.55 67.91,665.50 80.19,656.86 93.77,643.02 126.42,632.21 161.33,648.21" fill="none" stroke="#f2b418" stroke-width="1.6"/>
<path d="M60.47 684.09V691.01M57.87 684.09h5.2M57.87 691.01h5.2" stroke="#f2b418" stroke-width="1.3" fill="none"/>
<path d="M67.91 661.18V669.83M65.31 661.18h5.2M65.31 669.83h5.2" stroke="#f2b418" stroke-width="1.3" fill="none"/>
<path d="M80.19 648.21V665.50M77.59 648.21h5.2M77.59 665.50h5.2" stroke="#f2b418" stroke-width="1.3" fill="none"/>
<path d="M93.77 635.24V650.80M91.17 635.24h5.2M91.17 650.80h5.2" stroke="#f2b418" stroke-width="1.3" fill="none"/>
<path d="M126.42 621.41V643.02M123.82 621.41h5.2M123.82 643.02h5.2" stroke="#f2b418" stroke-width="1.3" fill="none"/>
<path d="M161.33 643.02V653.40M158.73 643.02h5.2M158.73 653.40h5.2" stroke="#f2b418" stroke-width="1.3" fill="none"/>
<rect x="57.87" y="684.95" width="5.20" height="5.20" fill="#f2b418"/>
<rect x="65.31" y="662.90" width="5.20" height="5.20" fill="#f2b418"/>
<rect x="77.59" y="654.26" width="5.20" height="5.20" fill="#f2b418"/>
<rect x="91.17" y="640.42" width="5.20" height="5.20" fill="#f2b418"/>
<rect x="123.82" y="629.61" width="5.20" height="5.20" fill="#f2b418"/>
<rect x="158.73" y="645.61" width="5.20" height="5.20" fill="#f2b418"/>
<path d="M55.3 608.8V739" fill="none" stroke="#000" stroke-width="1.5"/>
<path d="M54.55 739H184.6" fill="none" stroke="#000" stroke-width="1.5"/>
<line x1="50.3" y1="609.30" x2="55.3" y2="609.30" stroke="#000" stroke-width="1.4"/>
<text x="48.3" y="613.60" font-size="12" text-anchor="end">470</text>
<line x1="50.3" y1="652.53" x2="55.3" y2="652.53" stroke="#000" stroke-width="1.4"/>
<text x="48.3" y="656.83" font-size="12" text-anchor="end">370</text>
<line x1="50.3" y1="695.77" x2="55.3" y2="695.77" stroke="#000" stroke-width="1.4"/>
<text x="48.3" y="700.07" font-size="12" text-anchor="end">270</text>
<line x1="50.3" y1="739.00" x2="55.3" y2="739.00" stroke="#000" stroke-width="1.4"/>
<text x="48.3" y="743.30" font-size="12" text-anchor="end">170</text>
<line x1="55.30" y1="739" x2="55.30" y2="743.5" stroke="#000" stroke-width="1.4"/>
<text x="55.30" y="758.30" font-size="12" text-anchor="middle">0</text>
<line x1="87.62" y1="739" x2="87.62" y2="743.5" stroke="#000" stroke-width="1.4"/>
<text x="87.62" y="758.30" font-size="12" text-anchor="middle">10</text>
<line x1="119.95" y1="739" x2="119.95" y2="743.5" stroke="#000" stroke-width="1.4"/>
<text x="119.95" y="758.30" font-size="12" text-anchor="middle">20</text>
<line x1="152.28" y1="739" x2="152.28" y2="743.5" stroke="#000" stroke-width="1.4"/>
<text x="152.28" y="758.30" font-size="12" text-anchor="middle">30</text>
<line x1="184.60" y1="739" x2="184.60" y2="743.5" stroke="#000" stroke-width="1.4"/>
<text x="184.60" y="758.30" font-size="12" text-anchor="middle">40</text>
<text x="119.95" y="777" font-size="14.4" text-anchor="middle">Stiffness (kPa)</text>
<text transform="translate(18.5 671) rotate(-90)" font-size="14.5" text-anchor="middle">Area (μm<tspan font-size="10" dy="-5">2</tspan><tspan dy="5">)</tspan></text>
<polyline points="240.57,656.90 248.00,651.71 260.27,649.63 273.84,647.55 306.46,654.82 341.34,651.71" fill="none" stroke="#9a22f2" stroke-width="1.6"/>
<path d="M240.57 654.31V659.50M237.97 654.31h5.2M237.97 659.50h5.2" stroke="#9a22f2" stroke-width="1.3" fill="none"/>
<path d="M248.00 649.11V654.31M245.40 649.11h5.2M245.40 654.31h5.2" stroke="#9a22f2" stroke-width="1.3" fill="none"/>
<path d="M260.27 644.43V654.82M257.67 644.43h5.2M257.67 654.82h5.2" stroke="#9a22f2" stroke-width="1.3" fill="none"/>
<path d="M273.84 640.80V654.31M271.24 640.80h5.2M271.24 654.31h5.2" stroke="#9a22f2" stroke-width="1.3" fill="none"/>
<path d="M306.46 652.23V657.42M303.86 652.23h5.2M303.86 657.42h5.2" stroke="#9a22f2" stroke-width="1.3" fill="none"/>
<path d="M341.34 647.55V655.86M338.74 647.55h5.2M338.74 655.86h5.2" stroke="#9a22f2" stroke-width="1.3" fill="none"/>
<polygon points="240.57,654.04 243.17,658.98 237.97,658.98" fill="#9a22f2"/>
<polygon points="248.00,648.85 250.60,653.79 245.40,653.79" fill="#9a22f2"/>
<polygon points="260.27,646.77 262.87,651.71 257.67,651.71" fill="#9a22f2"/>
<polygon points="273.84,644.69 276.44,649.63 271.24,649.63" fill="#9a22f2"/>
<polygon points="306.46,651.96 309.06,656.90 303.86,656.90" fill="#9a22f2"/>
<polygon points="341.34,648.85 343.94,653.79 338.74,653.79" fill="#9a22f2"/>
<polyline points="240.57,654.82 248.00,654.82 260.27,648.07 273.84,653.27 306.46,651.71 341.34,651.19" fill="none" stroke="#f2b418" stroke-width="1.6"/>
<path d="M240.57 651.71V657.94M237.97 651.71h5.2M237.97 657.94h5.2" stroke="#f2b418" stroke-width="1.3" fill="none"/>
<path d="M248.00 652.23V657.42M245.40 652.23h5.2M245.40 657.42h5.2" stroke="#f2b418" stroke-width="1.3" fill="none"/>
<path d="M260.27 640.28V655.86M257.67 640.28h5.2M257.67 655.86h5.2" stroke="#f2b418" stroke-width="1.3" fill="none"/>
<path d="M273.84 649.11V657.42M271.24 649.11h5.2M271.24 657.42h5.2" stroke="#f2b418" stroke-width="1.3" fill="none"/>
<path d="M306.46 646.51V656.90M303.86 646.51h5.2M303.86 656.90h5.2" stroke="#f2b418" stroke-width="1.3" fill="none"/>
<path d="M341.34 644.95V657.42M338.74 644.95h5.2M338.74 657.42h5.2" stroke="#f2b418" stroke-width="1.3" fill="none"/>
<rect x="237.97" y="652.22" width="5.20" height="5.20" fill="#f2b418"/>
<rect x="245.40" y="652.22" width="5.20" height="5.20" fill="#f2b418"/>
<rect x="257.67" y="645.47" width="5.20" height="5.20" fill="#f2b418"/>
<rect x="271.24" y="650.67" width="5.20" height="5.20" fill="#f2b418"/>
<rect x="303.86" y="649.11" width="5.20" height="5.20" fill="#f2b418"/>
<rect x="338.74" y="648.59" width="5.20" height="5.20" fill="#f2b418"/>
<polyline points="240.57,659.50 248.00,646.51 260.27,670.41 273.84,657.42 306.46,658.46 341.34,652.75" fill="none" stroke="#4df0c0" stroke-width="1.6"/>
<path d="M240.57 657.42V661.58M237.97 657.42h5.2M237.97 661.58h5.2" stroke="#4df0c0" stroke-width="1.3" fill="none"/>
<path d="M248.00 636.12V656.90M245.40 636.12h5.2M245.40 656.90h5.2" stroke="#4df0c0" stroke-width="1.3" fill="none"/>
<path d="M260.27 652.23V688.60M257.67 652.23h5.2M257.67 688.60h5.2" stroke="#4df0c0" stroke-width="1.3" fill="none"/>
<path d="M273.84 654.31V660.54M271.24 654.31h5.2M271.24 660.54h5.2" stroke="#4df0c0" stroke-width="1.3" fill="none"/>
<path d="M306.46 655.86V661.06M303.86 655.86h5.2M303.86 661.06h5.2" stroke="#4df0c0" stroke-width="1.3" fill="none"/>
<path d="M341.34 648.59V656.90M338.74 648.59h5.2M338.74 656.90h5.2" stroke="#4df0c0" stroke-width="1.3" fill="none"/>
<circle cx="240.57" cy="659.50" r="2.73" fill="#4df0c0"/>
<circle cx="248.00" cy="646.51" r="2.73" fill="#4df0c0"/>
<circle cx="260.27" cy="670.41" r="2.73" fill="#4df0c0"/>
<circle cx="273.84" cy="657.42" r="2.73" fill="#4df0c0"/>
<circle cx="306.46" cy="658.46" r="2.73" fill="#4df0c0"/>
<circle cx="341.34" cy="652.75" r="2.73" fill="#4df0c0"/>
<path d="M235.4 608.6V739" fill="none" stroke="#000" stroke-width="1.5"/>
<path d="M234.65 739H364.6" fill="none" stroke="#000" stroke-width="1.5"/>
<line x1="230.4" y1="609.10" x2="235.4" y2="609.10" stroke="#000" stroke-width="1.4"/>
<text x="228.4" y="613.40" font-size="12" text-anchor="end">2.5</text>
<line x1="230.4" y1="635.08" x2="235.4" y2="635.08" stroke="#000" stroke-width="1.4"/>
<text x="228.4" y="639.38" font-size="12" text-anchor="end">2.0</text>
<line x1="230.4" y1="661.06" x2="235.4" y2="661.06" stroke="#000" stroke-width="1.4"/>
<text x="228.4" y="665.36" font-size="12" text-anchor="end">1.5</text>
<line x1="230.4" y1="687.04" x2="235.4" y2="687.04" stroke="#000" stroke-width="1.4"/>
<text x="228.4" y="691.34" font-size="12" text-anchor="end">1.0</text>
<line x1="230.4" y1="713.02" x2="235.4" y2="713.02" stroke="#000" stroke-width="1.4"/>
<text x="228.4" y="717.32" font-size="12" text-anchor="end">0.5</text>
<line x1="230.4" y1="739.00" x2="235.4" y2="739.00" stroke="#000" stroke-width="1.4"/>
<text x="228.4" y="743.30" font-size="12" text-anchor="end">0.0</text>
<line x1="235.40" y1="739" x2="235.40" y2="743.5" stroke="#000" stroke-width="1.4"/>
<text x="235.40" y="758.30" font-size="12" text-anchor="middle">0</text>
<line x1="267.70" y1="739" x2="267.70" y2="743.5" stroke="#000" stroke-width="1.4"/>
<text x="267.70" y="758.30" font-size="12" text-anchor="middle">10</text>
<line x1="300.00" y1="739" x2="300.00" y2="743.5" stroke="#000" stroke-width="1.4"/>
<text x="300.00" y="758.30" font-size="12" text-anchor="middle">20</text>
<line x1="332.30" y1="739" x2="332.30" y2="743.5" stroke="#000" stroke-width="1.4"/>
<text x="332.30" y="758.30" font-size="12" text-anchor="middle">30</text>
<line x1="364.60" y1="739" x2="364.60" y2="743.5" stroke="#000" stroke-width="1.4"/>
<text x="364.60" y="758.30" font-size="12" text-anchor="middle">40</text>
<text x="300.00" y="777" font-size="14.4" text-anchor="middle">Stiffness (kPa)</text>
<text transform="translate(204.5 673.5) rotate(-90)" font-size="14" text-anchor="middle">Aspect Ratio</text>
<polyline points="421.16,640.85 428.57,648.25 440.81,650.10 454.35,650.10 486.89,644.55 521.70,648.25" fill="none" stroke="#9a22f2" stroke-width="1.6"/>
<path d="M421.16 639.00V642.70M418.56 639.00h5.2M418.56 642.70h5.2" stroke="#9a22f2" stroke-width="1.3" fill="none"/>
<path d="M428.57 644.55V651.95M425.97 644.55h5.2M425.97 651.95h5.2" stroke="#9a22f2" stroke-width="1.3" fill="none"/>
<path d="M440.81 646.40V653.80M438.21 646.40h5.2M438.21 653.80h5.2" stroke="#9a22f2" stroke-width="1.3" fill="none"/>
<path d="M454.35 648.25V651.95M451.75 648.25h5.2M451.75 651.95h5.2" stroke="#9a22f2" stroke-width="1.3" fill="none"/>
<path d="M486.89 640.85V648.25M484.29 640.85h5.2M484.29 648.25h5.2" stroke="#9a22f2" stroke-width="1.3" fill="none"/>
<path d="M521.70 644.55V651.95M519.10 644.55h5.2M519.10 651.95h5.2" stroke="#9a22f2" stroke-width="1.3" fill="none"/>
<polygon points="421.16,637.99 423.76,642.93 418.56,642.93" fill="#9a22f2"/>
<polygon points="428.57,645.39 431.17,650.33 425.97,650.33" fill="#9a22f2"/>
<polygon points="440.81,647.24 443.41,652.18 438.21,652.18" fill="#9a22f2"/>
<polygon points="454.35,647.24 456.95,652.18 451.75,652.18" fill="#9a22f2"/>
<polygon points="486.89,641.69 489.50,646.63 484.29,646.63" fill="#9a22f2"/>
<polygon points="521.70,645.39 524.30,650.33 519.10,650.33" fill="#9a22f2"/>
<polyline points="421.16,642.70 428.57,644.55 440.81,646.40 454.35,644.55 486.89,648.25 521.70,644.55" fill="none" stroke="#f2b418" stroke-width="1.6"/>
<path d="M421.16 640.85V644.55M418.56 640.85h5.2M418.56 644.55h5.2" stroke="#f2b418" stroke-width="1.3" fill="none"/>
<path d="M428.57 640.85V648.25M425.97 640.85h5.2M425.97 648.25h5.2" stroke="#f2b418" stroke-width="1.3" fill="none"/>
<path d="M440.81 642.70V650.10M438.21 642.70h5.2M438.21 650.10h5.2" stroke="#f2b418" stroke-width="1.3" fill="none"/>
<path d="M454.35 642.70V646.40M451.75 642.70h5.2M451.75 646.40h5.2" stroke="#f2b418" stroke-width="1.3" fill="none"/>
<path d="M486.89 644.55V651.95M484.29 644.55h5.2M484.29 651.95h5.2" stroke="#f2b418" stroke-width="1.3" fill="none"/>
<path d="M521.70 640.85V648.25M519.10 640.85h5.2M519.10 648.25h5.2" stroke="#f2b418" stroke-width="1.3" fill="none"/>
<rect x="418.56" y="640.10" width="5.20" height="5.20" fill="#f2b418"/>
<rect x="425.97" y="641.95" width="5.20" height="5.20" fill="#f2b418"/>
<rect x="438.21" y="643.80" width="5.20" height="5.20" fill="#f2b418"/>
<rect x="451.75" y="641.95" width="5.20" height="5.20" fill="#f2b418"/>
<rect x="484.29" y="645.65" width="5.20" height="5.20" fill="#f2b418"/>
<rect x="519.10" y="641.95" width="5.20" height="5.20" fill="#f2b418"/>
<polyline points="421.16,639.00 428.57,646.40 440.81,679.70 454.35,640.85 486.89,642.70 521.70,648.25" fill="none" stroke="#4df0c0" stroke-width="1.6"/>
<path d="M421.16 637.15V640.85M418.56 637.15h5.2M418.56 640.85h5.2" stroke="#4df0c0" stroke-width="1.3" fill="none"/>
<path d="M428.57 640.85V651.95M425.97 640.85h5.2M425.97 651.95h5.2" stroke="#4df0c0" stroke-width="1.3" fill="none"/>
<path d="M440.81 644.55V714.85M438.21 644.55h5.2M438.21 714.85h5.2" stroke="#4df0c0" stroke-width="1.3" fill="none"/>
<path d="M454.35 639.00V642.70M451.75 639.00h5.2M451.75 642.70h5.2" stroke="#4df0c0" stroke-width="1.3" fill="none"/>
<path d="M486.89 639.00V646.40M484.29 639.00h5.2M484.29 646.40h5.2" stroke="#4df0c0" stroke-width="1.3" fill="none"/>
<path d="M521.70 644.55V651.95M519.10 644.55h5.2M519.10 651.95h5.2" stroke="#4df0c0" stroke-width="1.3" fill="none"/>
<circle cx="421.16" cy="639.00" r="2.73" fill="#4df0c0"/>
<circle cx="428.57" cy="646.40" r="2.73" fill="#4df0c0"/>
<circle cx="440.81" cy="679.70" r="2.73" fill="#4df0c0"/>
<circle cx="454.35" cy="640.85" r="2.73" fill="#4df0c0"/>
<circle cx="486.89" cy="642.70" r="2.73" fill="#4df0c0"/>
<circle cx="521.70" cy="648.25" r="2.73" fill="#4df0c0"/>
<path d="M416 608.9V738.9" fill="none" stroke="#000" stroke-width="1.5"/>
<path d="M415.25 738.9H544.9" fill="none" stroke="#000" stroke-width="1.5"/>
<line x1="411" y1="609.40" x2="416" y2="609.40" stroke="#000" stroke-width="1.4"/>
<text x="409" y="613.70" font-size="12" text-anchor="end">1.0</text>
<line x1="411" y1="646.40" x2="416" y2="646.40" stroke="#000" stroke-width="1.4"/>
<text x="409" y="650.70" font-size="12" text-anchor="end">0.8</text>
<line x1="411" y1="683.40" x2="416" y2="683.40" stroke="#000" stroke-width="1.4"/>
<text x="409" y="687.70" font-size="12" text-anchor="end">0.6</text>
<line x1="411" y1="720.40" x2="416" y2="720.40" stroke="#000" stroke-width="1.4"/>
<text x="409" y="724.70" font-size="12" text-anchor="end">0.4</text>
<line x1="416.00" y1="738.9" x2="416.00" y2="743.4" stroke="#000" stroke-width="1.4"/>
<text x="416.00" y="758.20" font-size="12" text-anchor="middle">0</text>
<line x1="448.23" y1="738.9" x2="448.23" y2="743.4" stroke="#000" stroke-width="1.4"/>
<text x="448.23" y="758.20" font-size="12" text-anchor="middle">10</text>
<line x1="480.45" y1="738.9" x2="480.45" y2="743.4" stroke="#000" stroke-width="1.4"/>
<text x="480.45" y="758.20" font-size="12" text-anchor="middle">20</text>
<line x1="512.67" y1="738.9" x2="512.67" y2="743.4" stroke="#000" stroke-width="1.4"/>
<text x="512.67" y="758.20" font-size="12" text-anchor="middle">30</text>
<line x1="544.90" y1="738.9" x2="544.90" y2="743.4" stroke="#000" stroke-width="1.4"/>
<text x="544.90" y="758.20" font-size="12" text-anchor="middle">40</text>
<text x="480.45" y="777" font-size="14.4" text-anchor="middle">Stiffness (kPa)</text>
<text transform="translate(382 673) rotate(-90)" font-size="14.5" text-anchor="middle">Form Factor</text>
<path d="M79.8 893.9h1.2v1.2h-1.2z" fill="#2030ea"/><path d="M94.8 873.5h1.2v1.2h-1.2z" fill="#f09a38"/><path d="M106.6 880.6h1.2v1.2h-1.2z" fill="#2030ea"/><path d="M86.7 889.5h1.2v1.2h-1.2z" fill="#3040f0"/><path d="M109.5 874.0h1.2v1.2h-1.2zM106.9 878.6h1.2v1.2h-1.2zM91.0 874.7h1.2v1.2h-1.2zM97.8 885.2h1.2v1.2h-1.2z" fill="#f08020"/><path d="M84.0 892.7h1.2v1.2h-1.2z" fill="#f09a38"/><path d="M97.0 880.0h1.2v1.2h-1.2z" fill="#3040f0"/><path d="M122.7 884.7h1.2v1.2h-1.2zM138.4 875.3h1.2v1.2h-1.2z" fill="#f09a38"/><path d="M94.0 873.0h1.2v1.2h-1.2z" fill="#2030ea"/><path d="M92.3 885.0h1.2v1.2h-1.2z" fill="#3040f0"/><path d="M106.4 885.6h1.2v1.2h-1.2zM118.0 876.2h1.2v1.2h-1.2z" fill="#f08020"/><path d="M117.2 873.9h1.2v1.2h-1.2zM92.8 884.2h1.2v1.2h-1.2zM145.0 893.7h1.2v1.2h-1.2z" fill="#2030ea"/><path d="M127.9 890.4h1.2v1.2h-1.2z" fill="#3040f0"/><path d="M115.0 877.6h1.2v1.2h-1.2z" fill="#f08020"/><path d="M146.4 881.1h1.2v1.2h-1.2z" fill="#f09a38"/><path d="M103.5 873.7h1.2v1.2h-1.2zM91.6 876.1h1.2v1.2h-1.2z" fill="#2030ea"/><path d="M99.0 877.4h1.2v1.2h-1.2z" fill="#f08020"/><path d="M131.9 861.3h1.2v1.2h-1.2z" fill="#3040f0"/><path d="M131.1 876.0h1.2v1.2h-1.2zM115.9 882.8h1.2v1.2h-1.2z" fill="#f09a38"/><path d="M89.7 877.4h1.2v1.2h-1.2z" fill="#3040f0"/><path d="M86.2 886.0h1.2v1.2h-1.2z" fill="#2030ea"/><path d="M112.9 886.9h1.2v1.2h-1.2zM120.4 875.5h1.2v1.2h-1.2z" fill="#f09a38"/><path d="M105.7 875.1h1.2v1.2h-1.2z" fill="#f08020"/><path d="M101.4 879.3h1.2v1.2h-1.2z" fill="#2030ea"/><path d="M129.6 879.6h1.2v1.2h-1.2z" fill="#f09a38"/><path d="M158.3 880.9h1.2v1.2h-1.2z" fill="#f08020"/><path d="M109.3 879.1h1.2v1.2h-1.2zM110.6 882.8h1.2v1.2h-1.2z" fill="#f09a38"/><path d="M110.7 869.1h1.2v1.2h-1.2z" fill="#f08020"/><path d="M127.5 878.0h1.2v1.2h-1.2z" fill="#f09a38"/><path d="M104.0 892.7h1.2v1.2h-1.2zM112.8 882.7h1.2v1.2h-1.2z" fill="#3040f0"/><path d="M126.8 878.4h1.2v1.2h-1.2z" fill="#f09a38"/><path d="M98.6 875.2h1.2v1.2h-1.2z" fill="#f08020"/><path d="M98.8 891.6h1.2v1.2h-1.2z" fill="#3040f0"/><path d="M116.8 868.5h1.2v1.2h-1.2z" fill="#f08020"/><path d="M107.1 883.8h1.2v1.2h-1.2z" fill="#f09a38"/><path d="M89.7 883.7h1.2v1.2h-1.2z" fill="#2030ea"/><path d="M105.3 893.3h1.2v1.2h-1.2z" fill="#3040f0"/><path d="M99.2 877.3h1.2v1.2h-1.2z" fill="#f08020"/><path d="M89.3 885.2h1.2v1.2h-1.2z" fill="#2030ea"/><path d="M93.9 888.2h1.2v1.2h-1.2zM79.7 884.8h1.2v1.2h-1.2z" fill="#3040f0"/><path d="M89.5 888.3h1.2v1.2h-1.2zM122.1 889.3h1.2v1.2h-1.2z" fill="#2030ea"/><path d="M86.9 891.7h1.2v1.2h-1.2zM87.1 879.1h1.2v1.2h-1.2z" fill="#3040f0"/><path d="M110.3 862.5h1.2v1.2h-1.2zM102.1 881.7h1.2v1.2h-1.2z" fill="#f09a38"/><path d="M82.4 888.0h1.2v1.2h-1.2z" fill="#3040f0"/><path d="M87.7 883.6h1.2v1.2h-1.2z" fill="#2030ea"/><path d="M123.7 881.7h1.2v1.2h-1.2z" fill="#f09a38"/><path d="M98.1 893.7h1.2v1.2h-1.2z" fill="#3040f0"/><path d="M112.7 885.2h1.2v1.2h-1.2zM125.2 878.2h1.2v1.2h-1.2z" fill="#f08020"/><path d="M89.9 889.2h1.2v1.2h-1.2z" fill="#2030ea"/><path d="M132.3 882.2h1.2v1.2h-1.2z" fill="#f09a38"/><path d="M143.1 891.7h1.2v1.2h-1.2zM102.5 865.2h1.2v1.2h-1.2zM84.5 882.2h1.2v1.2h-1.2zM88.8 887.5h1.2v1.2h-1.2z" fill="#3040f0"/><path d="M90.0 889.3h1.2v1.2h-1.2zM93.0 886.3h1.2v1.2h-1.2z" fill="#2030ea"/><path d="M113.7 891.5h1.2v1.2h-1.2z" fill="#3040f0"/><path d="M123.8 878.9h1.2v1.2h-1.2z" fill="#f09a38"/><path d="M112.3 879.4h1.2v1.2h-1.2z" fill="#f08020"/><path d="M131.0 871.2h1.2v1.2h-1.2zM102.6 884.0h1.2v1.2h-1.2zM87.1 888.5h1.2v1.2h-1.2z" fill="#f09a38"/><path d="M99.1 874.9h1.2v1.2h-1.2zM97.9 882.0h1.2v1.2h-1.2zM87.0 890.7h1.2v1.2h-1.2z" fill="#2030ea"/><path d="M120.3 882.0h1.2v1.2h-1.2z" fill="#f09a38"/><path d="M128.7 885.3h1.2v1.2h-1.2z" fill="#f08020"/><path d="M125.0 874.8h1.2v1.2h-1.2z" fill="#f09a38"/><path d="M101.0 893.1h1.2v1.2h-1.2z" fill="#3040f0"/><path d="M103.7 878.5h1.2v1.2h-1.2zM134.5 883.0h1.2v1.2h-1.2zM96.1 891.3h1.2v1.2h-1.2z" fill="#2030ea"/><path d="M108.9 880.1h1.2v1.2h-1.2z" fill="#3040f0"/><path d="M99.1 893.7h1.2v1.2h-1.2z" fill="#2030ea"/><path d="M88.8 893.2h1.2v1.2h-1.2zM101.4 875.3h1.2v1.2h-1.2z" fill="#3040f0"/><path d="M84.4 892.2h1.2v1.2h-1.2z" fill="#2030ea"/><path d="M123.1 878.1h1.2v1.2h-1.2z" fill="#f08020"/><path d="M96.5 890.6h1.2v1.2h-1.2z" fill="#2030ea"/><path d="M109.7 879.0h1.2v1.2h-1.2z" fill="#f08020"/><path d="M124.8 865.5h1.2v1.2h-1.2z" fill="#3040f0"/><path d="M88.3 894.0h1.2v1.2h-1.2zM95.2 885.9h1.2v1.2h-1.2z" fill="#2030ea"/><path d="M93.0 867.1h1.2v1.2h-1.2z" fill="#f08020"/><path d="M113.3 861.2h1.2v1.2h-1.2zM131.7 880.9h1.2v1.2h-1.2z" fill="#f09a38"/><path d="M99.4 884.7h1.2v1.2h-1.2z" fill="#3040f0"/><path d="M79.9 886.5h1.2v1.2h-1.2z" fill="#2030ea"/><path d="M106.9 885.5h1.2v1.2h-1.2z" fill="#f08020"/><path d="M116.6 869.3h1.2v1.2h-1.2z" fill="#f09a38"/><path d="M123.8 881.7h1.2v1.2h-1.2z" fill="#f08020"/><path d="M107.9 878.5h1.2v1.2h-1.2z" fill="#f09a38"/><path d="M143.1 879.8h1.2v1.2h-1.2z" fill="#3040f0"/><path d="M99.4 885.2h1.2v1.2h-1.2z" fill="#2030ea"/><path d="M118.0 885.4h1.2v1.2h-1.2z" fill="#f08020"/><path d="M96.5 882.7h1.2v1.2h-1.2z" fill="#3040f0"/><path d="M118.3 883.1h1.2v1.2h-1.2z" fill="#f09a38"/><path d="M149.3 869.1h1.2v1.2h-1.2z" fill="#f08020"/><path d="M102.8 887.8h1.2v1.2h-1.2z" fill="#f09a38"/><path d="M109.3 889.1h1.2v1.2h-1.2zM92.4 873.2h1.2v1.2h-1.2z" fill="#3040f0"/><path d="M107.1 883.3h1.2v1.2h-1.2z" fill="#f08020"/><path d="M86.1 892.9h1.2v1.2h-1.2zM89.7 891.1h1.2v1.2h-1.2z" fill="#2030ea"/><path d="M103.6 883.1h1.2v1.2h-1.2zM83.0 883.1h1.2v1.2h-1.2z" fill="#3040f0"/><path d="M122.0 884.4h1.2v1.2h-1.2zM103.5 885.3h1.2v1.2h-1.2z" fill="#f09a38"/><path d="M85.4 884.1h1.2v1.2h-1.2zM92.9 891.1h1.2v1.2h-1.2z" fill="#3040f0"/><path d="M112.6 885.1h1.2v1.2h-1.2z" fill="#f09a38"/><path d="M93.5 887.4h1.2v1.2h-1.2z" fill="#2030ea"/><path d="M102.6 888.6h1.2v1.2h-1.2z" fill="#3040f0"/><path d="M140.9 877.7h1.2v1.2h-1.2z" fill="#f09a38"/><path d="M86.8 878.1h1.2v1.2h-1.2z" fill="#3040f0"/><path d="M108.0 890.0h1.2v1.2h-1.2z" fill="#f08020"/><path d="M114.8 882.0h1.2v1.2h-1.2z" fill="#f09a38"/><path d="M125.0 871.7h1.2v1.2h-1.2z" fill="#f08020"/><path d="M84.7 891.9h1.2v1.2h-1.2z" fill="#2030ea"/><path d="M139.7 876.2h1.2v1.2h-1.2z" fill="#f08020"/><path d="M125.2 877.4h1.2v1.2h-1.2z" fill="#f09a38"/><path d="M146.9 861.0h1.2v1.2h-1.2zM120.5 885.6h1.2v1.2h-1.2zM122.2 872.7h1.2v1.2h-1.2zM96.3 872.6h1.2v1.2h-1.2z" fill="#f08020"/><path d="M134.0 887.2h1.2v1.2h-1.2z" fill="#3040f0"/><path d="M126.6 876.0h1.2v1.2h-1.2z" fill="#f08020"/><path d="M133.7 872.0h1.2v1.2h-1.2z" fill="#f09a38"/><path d="M110.3 879.2h1.2v1.2h-1.2z" fill="#3040f0"/><path d="M130.5 875.8h1.2v1.2h-1.2z" fill="#f08020"/><path d="M97.3 883.1h1.2v1.2h-1.2z" fill="#f09a38"/><path d="M113.8 890.2h1.2v1.2h-1.2z" fill="#2030ea"/><path d="M109.7 881.3h1.2v1.2h-1.2z" fill="#f08020"/><path d="M118.4 888.1h1.2v1.2h-1.2zM81.8 885.6h1.2v1.2h-1.2z" fill="#2030ea"/><path d="M99.2 887.3h1.2v1.2h-1.2z" fill="#3040f0"/><path d="M97.4 877.5h1.2v1.2h-1.2zM134.0 879.0h1.2v1.2h-1.2zM106.5 893.1h1.2v1.2h-1.2zM118.6 865.5h1.2v1.2h-1.2zM122.8 876.2h1.2v1.2h-1.2z" fill="#2030ea"/><path d="M113.3 884.9h1.2v1.2h-1.2z" fill="#f09a38"/><path d="M96.7 888.5h1.2v1.2h-1.2z" fill="#3040f0"/><path d="M103.4 889.8h1.2v1.2h-1.2z" fill="#2030ea"/><path d="M108.3 887.4h1.2v1.2h-1.2z" fill="#3040f0"/><path d="M143.0 875.9h1.2v1.2h-1.2zM125.4 881.0h1.2v1.2h-1.2z" fill="#f08020"/><path d="M113.8 882.7h1.2v1.2h-1.2z" fill="#f09a38"/><path d="M133.7 880.7h1.2v1.2h-1.2z" fill="#f08020"/><path d="M97.5 893.6h1.2v1.2h-1.2z" fill="#2030ea"/><path d="M117.8 887.9h1.2v1.2h-1.2z" fill="#f09a38"/><path d="M118.1 871.2h1.2v1.2h-1.2z" fill="#3040f0"/><path d="M101.0 865.6h1.2v1.2h-1.2z" fill="#2030ea"/><path d="M99.5 882.9h1.2v1.2h-1.2z" fill="#f08020"/><path d="M135.8 879.6h1.2v1.2h-1.2z" fill="#2030ea"/><path d="M138.2 881.0h1.2v1.2h-1.2z" fill="#f08020"/><path d="M94.3 884.5h1.2v1.2h-1.2z" fill="#f09a38"/><path d="M110.4 883.7h1.2v1.2h-1.2z" fill="#2030ea"/><path d="M107.5 890.8h1.2v1.2h-1.2z" fill="#f08020"/><path d="M101.1 889.7h1.2v1.2h-1.2zM104.0 888.8h1.2v1.2h-1.2z" fill="#3040f0"/><path d="M89.8 893.0h1.2v1.2h-1.2zM138.7 879.7h1.2v1.2h-1.2z" fill="#2030ea"/><path d="M107.9 875.5h1.2v1.2h-1.2z" fill="#3040f0"/><path d="M100.3 883.1h1.2v1.2h-1.2z" fill="#f09a38"/><path d="M112.3 884.1h1.2v1.2h-1.2z" fill="#2030ea"/><path d="M126.4 862.0h1.2v1.2h-1.2zM94.0 890.8h1.2v1.2h-1.2z" fill="#f09a38"/><path d="M91.9 890.1h1.2v1.2h-1.2z" fill="#3040f0"/><path d="M107.5 890.5h1.2v1.2h-1.2zM85.7 885.9h1.2v1.2h-1.2z" fill="#2030ea"/><path d="M112.5 883.9h1.2v1.2h-1.2z" fill="#f08020"/><path d="M121.8 880.8h1.2v1.2h-1.2z" fill="#2030ea"/><path d="M105.6 888.5h1.2v1.2h-1.2zM95.2 882.3h1.2v1.2h-1.2z" fill="#f08020"/><path d="M95.2 893.9h1.2v1.2h-1.2zM83.0 889.8h1.2v1.2h-1.2z" fill="#2030ea"/><path d="M113.2 879.0h1.2v1.2h-1.2z" fill="#f08020"/><path d="M108.5 892.2h1.2v1.2h-1.2z" fill="#2030ea"/><path d="M99.6 867.5h1.2v1.2h-1.2z" fill="#f09a38"/><path d="M108.4 887.3h1.2v1.2h-1.2z" fill="#2030ea"/><path d="M87.1 884.2h1.2v1.2h-1.2z" fill="#3040f0"/><path d="M115.9 880.3h1.2v1.2h-1.2z" fill="#f09a38"/><path d="M117.0 890.8h1.2v1.2h-1.2z" fill="#3040f0"/><path d="M124.3 865.9h1.2v1.2h-1.2z" fill="#f09a38"/><path d="M106.5 885.8h1.2v1.2h-1.2zM162.6 875.7h1.2v1.2h-1.2zM102.9 891.9h1.2v1.2h-1.2z" fill="#3040f0"/><path d="M130.9 879.5h1.2v1.2h-1.2z" fill="#f09a38"/><path d="M95.1 888.9h1.2v1.2h-1.2z" fill="#3040f0"/><path d="M100.0 887.3h1.2v1.2h-1.2z" fill="#f09a38"/><path d="M118.3 879.1h1.2v1.2h-1.2zM79.6 889.5h1.2v1.2h-1.2zM97.5 879.8h1.2v1.2h-1.2z" fill="#2030ea"/><path d="M82.2 889.6h1.2v1.2h-1.2z" fill="#f08020"/><path d="M103.8 887.2h1.2v1.2h-1.2zM89.1 884.8h1.2v1.2h-1.2zM124.6 879.6h1.2v1.2h-1.2z" fill="#3040f0"/><path d="M118.1 883.6h1.2v1.2h-1.2zM116.1 874.7h1.2v1.2h-1.2z" fill="#2030ea"/><path d="M109.9 872.1h1.2v1.2h-1.2zM106.7 882.3h1.2v1.2h-1.2z" fill="#f09a38"/><path d="M85.5 887.9h1.2v1.2h-1.2z" fill="#2030ea"/><path d="M133.4 876.0h1.2v1.2h-1.2z" fill="#f09a38"/><path d="M126.5 885.5h1.2v1.2h-1.2z" fill="#f08020"/><path d="M130.1 876.2h1.2v1.2h-1.2z" fill="#f09a38"/><path d="M86.1 891.1h1.2v1.2h-1.2zM109.0 887.2h1.2v1.2h-1.2z" fill="#3040f0"/><path d="M101.1 887.5h1.2v1.2h-1.2zM94.1 892.4h1.2v1.2h-1.2zM85.6 892.0h1.2v1.2h-1.2z" fill="#2030ea"/><path d="M83.6 879.9h1.2v1.2h-1.2zM103.5 878.0h1.2v1.2h-1.2z" fill="#3040f0"/><path d="M102.3 887.0h1.2v1.2h-1.2z" fill="#2030ea"/><path d="M81.9 879.9h1.2v1.2h-1.2zM102.0 886.0h1.2v1.2h-1.2z" fill="#3040f0"/><path d="M137.8 876.8h1.2v1.2h-1.2z" fill="#f08020"/><path d="M123.6 884.3h1.2v1.2h-1.2z" fill="#f09a38"/><path d="M89.2 889.2h1.2v1.2h-1.2z" fill="#3040f0"/><path d="M107.3 886.6h1.2v1.2h-1.2zM138.3 865.9h1.2v1.2h-1.2z" fill="#f09a38"/><path d="M133.2 872.1h1.2v1.2h-1.2z" fill="#f08020"/><path d="M88.2 893.4h1.2v1.2h-1.2z" fill="#3040f0"/><path d="M100.8 885.5h1.2v1.2h-1.2z" fill="#2030ea"/><path d="M103.0 882.4h1.2v1.2h-1.2z" fill="#3040f0"/><path d="M97.5 875.5h1.2v1.2h-1.2zM117.8 883.6h1.2v1.2h-1.2z" fill="#f08020"/><path d="M112.7 872.3h1.2v1.2h-1.2zM137.9 883.0h1.2v1.2h-1.2zM80.1 884.2h1.2v1.2h-1.2z" fill="#2030ea"/><path d="M135.4 883.2h1.2v1.2h-1.2z" fill="#f09a38"/><path d="M95.4 891.1h1.2v1.2h-1.2z" fill="#3040f0"/><path d="M167.3 879.9h1.2v1.2h-1.2z" fill="#2030ea"/><path d="M137.4 866.7h1.2v1.2h-1.2z" fill="#f09a38"/><path d="M100.5 885.1h1.2v1.2h-1.2z" fill="#3040f0"/><path d="M124.3 878.8h1.2v1.2h-1.2zM118.8 887.9h1.2v1.2h-1.2z" fill="#f09a38"/><path d="M142.3 890.2h1.2v1.2h-1.2z" fill="#2030ea"/><path d="M117.4 880.6h1.2v1.2h-1.2zM107.6 874.9h1.2v1.2h-1.2zM173.1 887.0h1.2v1.2h-1.2zM130.6 878.3h1.2v1.2h-1.2zM85.7 888.9h1.2v1.2h-1.2z" fill="#f08020"/><path d="M90.2 889.4h1.2v1.2h-1.2zM126.0 887.3h1.2v1.2h-1.2z" fill="#2030ea"/><path d="M89.9 887.3h1.2v1.2h-1.2z" fill="#f08020"/><path d="M130.9 890.8h1.2v1.2h-1.2z" fill="#3040f0"/><path d="M115.7 883.9h1.2v1.2h-1.2z" fill="#2030ea"/><path d="M107.7 889.0h1.2v1.2h-1.2z" fill="#3040f0"/><path d="M83.9 889.6h1.2v1.2h-1.2z" fill="#2030ea"/><path d="M124.2 862.7h1.2v1.2h-1.2z" fill="#f09a38"/><path d="M114.6 882.3h1.2v1.2h-1.2zM96.0 889.7h1.2v1.2h-1.2z" fill="#3040f0"/><path d="M118.1 884.7h1.2v1.2h-1.2zM90.2 882.6h1.2v1.2h-1.2z" fill="#f09a38"/><path d="M111.9 875.3h1.2v1.2h-1.2zM88.6 888.2h1.2v1.2h-1.2zM122.2 882.2h1.2v1.2h-1.2z" fill="#3040f0"/><path d="M98.0 874.7h1.2v1.2h-1.2z" fill="#f09a38"/><path d="M164.6 867.2h1.2v1.2h-1.2zM115.3 880.2h1.2v1.2h-1.2z" fill="#f08020"/><path d="M109.1 878.0h1.2v1.2h-1.2z" fill="#f09a38"/><path d="M112.8 891.4h1.2v1.2h-1.2z" fill="#3040f0"/><path d="M135.9 877.9h1.2v1.2h-1.2z" fill="#f09a38"/><path d="M97.9 886.7h1.2v1.2h-1.2z" fill="#f08020"/><path d="M114.0 890.0h1.2v1.2h-1.2zM99.2 894.2h1.2v1.2h-1.2z" fill="#3040f0"/><path d="M84.5 887.3h1.2v1.2h-1.2z" fill="#2030ea"/><path d="M92.9 880.9h1.2v1.2h-1.2z" fill="#3040f0"/><path d="M115.2 881.3h1.2v1.2h-1.2z" fill="#f09a38"/><path d="M146.6 871.3h1.2v1.2h-1.2z" fill="#3040f0"/><path d="M97.8 886.1h1.2v1.2h-1.2zM116.1 873.8h1.2v1.2h-1.2z" fill="#f09a38"/><path d="M134.1 862.3h1.2v1.2h-1.2z" fill="#3040f0"/><path d="M104.8 886.8h1.2v1.2h-1.2zM118.4 877.6h1.2v1.2h-1.2z" fill="#f09a38"/><path d="M100.2 891.4h1.2v1.2h-1.2z" fill="#3040f0"/><path d="M110.9 874.9h1.2v1.2h-1.2z" fill="#f08020"/><path d="M88.0 879.6h1.2v1.2h-1.2zM103.4 888.8h1.2v1.2h-1.2z" fill="#3040f0"/><path d="M115.3 878.7h1.2v1.2h-1.2z" fill="#f09a38"/><path d="M142.0 872.9h1.2v1.2h-1.2z" fill="#f08020"/><path d="M143.3 888.2h1.2v1.2h-1.2z" fill="#2030ea"/><path d="M133.7 876.5h1.2v1.2h-1.2z" fill="#f09a38"/><path d="M97.5 884.6h1.2v1.2h-1.2z" fill="#3040f0"/><path d="M88.6 881.9h1.2v1.2h-1.2zM92.9 880.7h1.2v1.2h-1.2z" fill="#2030ea"/><path d="M100.6 886.7h1.2v1.2h-1.2zM81.6 873.0h1.2v1.2h-1.2z" fill="#3040f0"/><path d="M117.4 874.0h1.2v1.2h-1.2z" fill="#f08020"/><path d="M84.5 887.5h1.2v1.2h-1.2zM112.0 893.2h1.2v1.2h-1.2z" fill="#3040f0"/><path d="M121.8 878.9h1.2v1.2h-1.2z" fill="#f09a38"/><path d="M100.8 881.9h1.2v1.2h-1.2zM86.9 877.8h1.2v1.2h-1.2z" fill="#2030ea"/><path d="M107.5 884.8h1.2v1.2h-1.2z" fill="#f08020"/><path d="M95.4 891.1h1.2v1.2h-1.2zM92.3 883.4h1.2v1.2h-1.2z" fill="#3040f0"/><path d="M143.9 871.9h1.2v1.2h-1.2zM112.7 881.0h1.2v1.2h-1.2z" fill="#f08020"/><path d="M173.8 867.9h1.2v1.2h-1.2z" fill="#f09a38"/><path d="M94.2 890.7h1.2v1.2h-1.2z" fill="#2030ea"/><path d="M129.4 882.1h1.2v1.2h-1.2zM92.7 884.5h1.2v1.2h-1.2z" fill="#f09a38"/><path d="M127.8 883.9h1.2v1.2h-1.2z" fill="#f08020"/><path d="M118.2 881.7h1.2v1.2h-1.2z" fill="#f09a38"/><path d="M84.5 882.7h1.2v1.2h-1.2z" fill="#2030ea"/><path d="M111.9 874.5h1.2v1.2h-1.2z" fill="#3040f0"/><path d="M115.3 880.1h1.2v1.2h-1.2zM86.5 893.8h1.2v1.2h-1.2zM91.1 891.3h1.2v1.2h-1.2z" fill="#2030ea"/><path d="M103.1 888.3h1.2v1.2h-1.2z" fill="#3040f0"/><path d="M132.2 871.8h1.2v1.2h-1.2zM80.5 884.0h1.2v1.2h-1.2z" fill="#2030ea"/><path d="M100.9 890.2h1.2v1.2h-1.2z" fill="#3040f0"/><path d="M86.3 885.7h1.2v1.2h-1.2zM133.7 881.4h1.2v1.2h-1.2zM111.3 870.8h1.2v1.2h-1.2z" fill="#2030ea"/><path d="M114.1 876.0h1.2v1.2h-1.2zM102.3 889.7h1.2v1.2h-1.2z" fill="#f08020"/><path d="M95.9 883.2h1.2v1.2h-1.2zM84.1 891.1h1.2v1.2h-1.2z" fill="#3040f0"/><path d="M117.3 882.6h1.2v1.2h-1.2z" fill="#f08020"/><path d="M82.9 891.8h1.2v1.2h-1.2z" fill="#3040f0"/><path d="M111.2 871.9h1.2v1.2h-1.2z" fill="#f08020"/><path d="M95.9 888.9h1.2v1.2h-1.2z" fill="#3040f0"/><path d="M90.0 892.2h1.2v1.2h-1.2z" fill="#2030ea"/><path d="M122.1 859.8h1.2v1.2h-1.2zM128.9 879.6h1.2v1.2h-1.2z" fill="#f09a38"/><path d="M117.4 867.1h1.2v1.2h-1.2z" fill="#f08020"/><path d="M105.5 888.8h1.2v1.2h-1.2z" fill="#2030ea"/><path d="M112.7 888.0h1.2v1.2h-1.2z" fill="#3040f0"/><path d="M84.4 889.6h1.2v1.2h-1.2zM96.4 884.5h1.2v1.2h-1.2z" fill="#2030ea"/><path d="M132.8 877.4h1.2v1.2h-1.2z" fill="#f08020"/><path d="M80.8 884.8h1.2v1.2h-1.2zM118.1 882.5h1.2v1.2h-1.2z" fill="#3040f0"/><path d="M113.1 884.3h1.2v1.2h-1.2z" fill="#2030ea"/><path d="M146.0 877.8h1.2v1.2h-1.2z" fill="#f09a38"/><path d="M89.7 887.8h1.2v1.2h-1.2z" fill="#f08020"/><path d="M85.6 881.7h1.2v1.2h-1.2z" fill="#3040f0"/><path d="M104.2 880.6h1.2v1.2h-1.2zM115.0 883.2h1.2v1.2h-1.2z" fill="#f09a38"/><path d="M130.1 860.2h1.2v1.2h-1.2z" fill="#3040f0"/><path d="M130.8 884.6h1.2v1.2h-1.2z" fill="#2030ea"/><path d="M80.6 888.3h1.2v1.2h-1.2z" fill="#3040f0"/><path d="M120.1 880.8h1.2v1.2h-1.2z" fill="#2030ea"/><path d="M119.4 881.1h1.2v1.2h-1.2z" fill="#f08020"/><path d="M127.7 884.2h1.2v1.2h-1.2z" fill="#3040f0"/><path d="M93.8 886.0h1.2v1.2h-1.2z" fill="#2030ea"/><path d="M104.7 891.7h1.2v1.2h-1.2zM85.0 884.0h1.2v1.2h-1.2zM95.4 890.3h1.2v1.2h-1.2zM106.5 874.0h1.2v1.2h-1.2z" fill="#3040f0"/><path d="M144.0 862.2h1.2v1.2h-1.2z" fill="#f08020"/><path d="M83.7 884.9h1.2v1.2h-1.2z" fill="#2030ea"/><path d="M107.7 880.1h1.2v1.2h-1.2z" fill="#f09a38"/><path d="M121.4 885.7h1.2v1.2h-1.2zM120.5 881.1h1.2v1.2h-1.2z" fill="#f08020"/><path d="M124.1 875.6h1.2v1.2h-1.2zM120.2 876.0h1.2v1.2h-1.2z" fill="#f09a38"/><path d="M96.2 888.6h1.2v1.2h-1.2zM125.0 877.3h1.2v1.2h-1.2zM126.7 880.8h1.2v1.2h-1.2zM97.0 888.6h1.2v1.2h-1.2zM101.4 892.0h1.2v1.2h-1.2z" fill="#2030ea"/><path d="M107.6 882.8h1.2v1.2h-1.2z" fill="#3040f0"/><path d="M104.0 882.5h1.2v1.2h-1.2z" fill="#f09a38"/><path d="M139.3 879.7h1.2v1.2h-1.2z" fill="#f08020"/><path d="M106.9 873.1h1.2v1.2h-1.2zM94.7 883.9h1.2v1.2h-1.2z" fill="#2030ea"/><path d="M164.1 872.9h1.2v1.2h-1.2z" fill="#f08020"/><path d="M94.7 883.4h1.2v1.2h-1.2z" fill="#3040f0"/><path d="M160.1 865.7h1.2v1.2h-1.2z" fill="#f08020"/><path d="M94.1 888.6h1.2v1.2h-1.2z" fill="#2030ea"/><path d="M87.3 886.4h1.2v1.2h-1.2z" fill="#3040f0"/><path d="M137.1 860.6h1.2v1.2h-1.2zM132.3 866.6h1.2v1.2h-1.2z" fill="#f08020"/><path d="M91.3 878.5h1.2v1.2h-1.2z" fill="#3040f0"/><path d="M124.6 886.8h1.2v1.2h-1.2zM114.9 874.0h1.2v1.2h-1.2z" fill="#2030ea"/><path d="M140.6 875.9h1.2v1.2h-1.2zM122.6 879.8h1.2v1.2h-1.2z" fill="#f09a38"/><path d="M79.9 888.3h1.2v1.2h-1.2z" fill="#2030ea"/><path d="M111.8 874.3h1.2v1.2h-1.2z" fill="#f08020"/><path d="M79.9 888.0h1.2v1.2h-1.2z" fill="#3040f0"/><path d="M96.4 893.8h1.2v1.2h-1.2z" fill="#2030ea"/><path d="M114.5 880.1h1.2v1.2h-1.2z" fill="#f09a38"/><path d="M99.8 884.7h1.2v1.2h-1.2z" fill="#2030ea"/><path d="M152.9 892.7h1.2v1.2h-1.2z" fill="#3040f0"/><path d="M117.5 860.7h1.2v1.2h-1.2z" fill="#f08020"/><path d="M103.4 887.2h1.2v1.2h-1.2z" fill="#2030ea"/><path d="M159.6 874.2h1.2v1.2h-1.2z" fill="#f08020"/><path d="M83.4 893.0h1.2v1.2h-1.2z" fill="#2030ea"/><path d="M88.4 892.1h1.2v1.2h-1.2zM91.0 891.2h1.2v1.2h-1.2z" fill="#3040f0"/><path d="M135.8 872.1h1.2v1.2h-1.2z" fill="#f08020"/><path d="M86.0 886.1h1.2v1.2h-1.2z" fill="#3040f0"/><path d="M108.3 890.8h1.2v1.2h-1.2z" fill="#2030ea"/><path d="M131.9 875.9h1.2v1.2h-1.2z" fill="#f08020"/><path d="M85.6 891.6h1.2v1.2h-1.2z" fill="#3040f0"/><path d="M91.9 876.4h1.2v1.2h-1.2z" fill="#2030ea"/><path d="M136.2 878.4h1.2v1.2h-1.2z" fill="#f09a38"/><path d="M83.7 879.7h1.2v1.2h-1.2z" fill="#3040f0"/><path d="M81.7 893.3h1.2v1.2h-1.2z" fill="#2030ea"/><path d="M100.5 871.3h1.2v1.2h-1.2z" fill="#3040f0"/><path d="M124.0 889.6h1.2v1.2h-1.2z" fill="#2030ea"/><path d="M94.8 892.0h1.2v1.2h-1.2zM156.3 874.5h1.2v1.2h-1.2zM134.9 891.6h1.2v1.2h-1.2z" fill="#3040f0"/><path d="M99.4 879.3h1.2v1.2h-1.2z" fill="#2030ea"/><path d="M125.7 880.0h1.2v1.2h-1.2z" fill="#f08020"/><path d="M103.4 891.2h1.2v1.2h-1.2zM120.8 867.8h1.2v1.2h-1.2zM153.6 874.9h1.2v1.2h-1.2z" fill="#2030ea"/><path d="M120.8 866.6h1.2v1.2h-1.2z" fill="#f09a38"/><path d="M80.7 890.4h1.2v1.2h-1.2zM84.8 888.1h1.2v1.2h-1.2z" fill="#2030ea"/><path d="M145.8 868.2h1.2v1.2h-1.2z" fill="#f09a38"/><path d="M89.9 887.4h1.2v1.2h-1.2zM116.9 890.4h1.2v1.2h-1.2z" fill="#2030ea"/><path d="M97.0 878.3h1.2v1.2h-1.2zM146.2 868.2h1.2v1.2h-1.2z" fill="#f08020"/><path d="M146.2 889.6h1.2v1.2h-1.2z" fill="#3040f0"/><path d="M130.6 867.0h1.2v1.2h-1.2zM107.0 885.1h1.2v1.2h-1.2zM141.5 882.8h1.2v1.2h-1.2z" fill="#f09a38"/><path d="M101.3 892.6h1.2v1.2h-1.2z" fill="#2030ea"/><path d="M113.5 886.3h1.2v1.2h-1.2z" fill="#f08020"/><path d="M110.8 891.5h1.2v1.2h-1.2z" fill="#2030ea"/><path d="M96.9 883.6h1.2v1.2h-1.2z" fill="#f09a38"/><path d="M98.9 884.0h1.2v1.2h-1.2zM87.0 890.0h1.2v1.2h-1.2zM110.1 879.3h1.2v1.2h-1.2z" fill="#2030ea"/><path d="M83.4 889.0h1.2v1.2h-1.2z" fill="#3040f0"/><path d="M83.4 885.3h1.2v1.2h-1.2z" fill="#2030ea"/><path d="M122.4 883.2h1.2v1.2h-1.2z" fill="#f09a38"/><path d="M79.9 891.1h1.2v1.2h-1.2z" fill="#3040f0"/><path d="M91.0 891.8h1.2v1.2h-1.2z" fill="#2030ea"/><path d="M124.0 877.5h1.2v1.2h-1.2z" fill="#f08020"/><path d="M118.1 874.5h1.2v1.2h-1.2z" fill="#f09a38"/><path d="M115.6 881.8h1.2v1.2h-1.2z" fill="#f08020"/><path d="M151.2 890.2h1.2v1.2h-1.2z" fill="#3040f0"/><path d="M100.8 892.3h1.2v1.2h-1.2z" fill="#2030ea"/><path d="M177.6 877.6h1.2v1.2h-1.2z" fill="#f09a38"/><path d="M84.3 890.9h1.2v1.2h-1.2z" fill="#3040f0"/><path d="M96.3 882.8h1.2v1.2h-1.2z" fill="#f09a38"/><path d="M137.1 889.9h1.2v1.2h-1.2zM88.8 880.2h1.2v1.2h-1.2z" fill="#2030ea"/><path d="M177.3 866.3h1.2v1.2h-1.2z" fill="#3040f0"/><path d="M109.7 868.5h1.2v1.2h-1.2z" fill="#f09a38"/><path d="M83.9 891.3h1.2v1.2h-1.2z" fill="#3040f0"/><path d="M101.6 880.1h1.2v1.2h-1.2z" fill="#f09a38"/><path d="M152.5 862.0h1.2v1.2h-1.2z" fill="#2030ea"/><path d="M117.4 880.2h1.2v1.2h-1.2z" fill="#3040f0"/><path d="M151.6 891.0h1.2v1.2h-1.2z" fill="#2030ea"/><path d="M85.7 886.3h1.2v1.2h-1.2z" fill="#f08020"/><path d="M93.8 882.4h1.2v1.2h-1.2z" fill="#2030ea"/><path d="M104.6 871.3h1.2v1.2h-1.2z" fill="#f09a38"/><path d="M128.0 883.4h1.2v1.2h-1.2z" fill="#2030ea"/><path d="M116.2 883.2h1.2v1.2h-1.2z" fill="#f09a38"/><path d="M119.9 876.4h1.2v1.2h-1.2z" fill="#f08020"/><path d="M146.1 873.3h1.2v1.2h-1.2z" fill="#f09a38"/><path d="M119.2 878.4h1.2v1.2h-1.2z" fill="#f08020"/><path d="M81.2 883.1h1.2v1.2h-1.2zM99.7 881.0h1.2v1.2h-1.2z" fill="#3040f0"/><path d="M82.4 886.6h1.2v1.2h-1.2zM181.6 886.1h1.2v1.2h-1.2zM151.1 887.0h1.2v1.2h-1.2z" fill="#2030ea"/><path d="M131.2 883.9h1.2v1.2h-1.2z" fill="#f08020"/><path d="M117.1 883.8h1.2v1.2h-1.2z" fill="#f09a38"/><path d="M128.4 874.8h1.2v1.2h-1.2z" fill="#2030ea"/><path d="M90.5 888.6h1.2v1.2h-1.2z" fill="#3040f0"/><path d="M116.8 867.0h1.2v1.2h-1.2zM108.5 891.3h1.2v1.2h-1.2z" fill="#2030ea"/><path d="M93.3 885.4h1.2v1.2h-1.2z" fill="#f09a38"/><path d="M114.4 886.7h1.2v1.2h-1.2z" fill="#2030ea"/><path d="M95.5 892.7h1.2v1.2h-1.2z" fill="#3040f0"/><path d="M119.7 863.2h1.2v1.2h-1.2z" fill="#2030ea"/><path d="M110.4 893.3h1.2v1.2h-1.2z" fill="#3040f0"/><path d="M97.7 888.5h1.2v1.2h-1.2z" fill="#f08020"/><path d="M85.4 881.8h1.2v1.2h-1.2z" fill="#f09a38"/><path d="M111.7 877.6h1.2v1.2h-1.2z" fill="#f08020"/><path d="M105.7 892.6h1.2v1.2h-1.2z" fill="#3040f0"/><path d="M120.0 892.7h1.2v1.2h-1.2z" fill="#2030ea"/><path d="M131.4 876.5h1.2v1.2h-1.2z" fill="#f09a38"/><path d="M132.4 870.2h1.2v1.2h-1.2z" fill="#f08020"/><path d="M92.6 886.2h1.2v1.2h-1.2z" fill="#2030ea"/><path d="M105.2 876.5h1.2v1.2h-1.2zM119.2 883.5h1.2v1.2h-1.2z" fill="#f09a38"/><path d="M92.1 891.8h1.2v1.2h-1.2z" fill="#2030ea"/><path d="M80.7 892.5h1.2v1.2h-1.2z" fill="#3040f0"/><path d="M151.9 892.0h1.2v1.2h-1.2z" fill="#2030ea"/><path d="M100.0 882.9h1.2v1.2h-1.2zM89.6 887.6h1.2v1.2h-1.2z" fill="#3040f0"/><path d="M102.1 887.8h1.2v1.2h-1.2zM84.0 877.6h1.2v1.2h-1.2z" fill="#2030ea"/><path d="M104.2 884.8h1.2v1.2h-1.2z" fill="#3040f0"/><path d="M116.8 865.1h1.2v1.2h-1.2z" fill="#f09a38"/><path d="M131.1 869.3h1.2v1.2h-1.2z" fill="#f08020"/><path d="M134.5 882.8h1.2v1.2h-1.2zM86.3 891.6h1.2v1.2h-1.2z" fill="#3040f0"/><path d="M80.1 888.5h1.2v1.2h-1.2z" fill="#2030ea"/><path d="M110.4 890.1h1.2v1.2h-1.2z" fill="#3040f0"/><path d="M91.9 869.1h1.2v1.2h-1.2zM82.6 892.7h1.2v1.2h-1.2z" fill="#2030ea"/><path d="M110.1 885.4h1.2v1.2h-1.2z" fill="#f09a38"/><path d="M82.5 885.8h1.2v1.2h-1.2z" fill="#3040f0"/><path d="M95.9 872.4h1.2v1.2h-1.2zM121.7 888.9h1.2v1.2h-1.2zM103.8 883.1h1.2v1.2h-1.2z" fill="#2030ea"/><path d="M117.4 876.6h1.2v1.2h-1.2z" fill="#f08020"/><path d="M94.9 879.1h1.2v1.2h-1.2z" fill="#f09a38"/><path d="M131.1 872.0h1.2v1.2h-1.2zM114.9 892.0h1.2v1.2h-1.2z" fill="#3040f0"/><path d="M83.0 880.9h1.2v1.2h-1.2z" fill="#2030ea"/><path d="M108.5 874.2h1.2v1.2h-1.2z" fill="#3040f0"/><path d="M98.4 887.7h1.2v1.2h-1.2z" fill="#f09a38"/><path d="M120.2 875.4h1.2v1.2h-1.2z" fill="#3040f0"/><path d="M93.8 888.8h1.2v1.2h-1.2z" fill="#f09a38"/><path d="M101.0 889.6h1.2v1.2h-1.2z" fill="#2030ea"/><path d="M134.8 882.2h1.2v1.2h-1.2z" fill="#f09a38"/><path d="M101.3 882.8h1.2v1.2h-1.2zM81.8 892.0h1.2v1.2h-1.2z" fill="#3040f0"/><path d="M99.5 893.1h1.2v1.2h-1.2z" fill="#2030ea"/><path d="M115.5 884.7h1.2v1.2h-1.2zM99.6 885.3h1.2v1.2h-1.2z" fill="#f09a38"/><path d="M86.7 890.2h1.2v1.2h-1.2z" fill="#2030ea"/><path d="M95.8 884.4h1.2v1.2h-1.2z" fill="#3040f0"/><path d="M107.8 884.3h1.2v1.2h-1.2z" fill="#2030ea"/><path d="M111.0 878.2h1.2v1.2h-1.2zM93.7 890.7h1.2v1.2h-1.2z" fill="#f08020"/><path d="M102.6 882.0h1.2v1.2h-1.2zM101.2 887.1h1.2v1.2h-1.2z" fill="#3040f0"/><path d="M111.3 888.8h1.2v1.2h-1.2zM108.0 879.5h1.2v1.2h-1.2z" fill="#2030ea"/><path d="M141.1 876.6h1.2v1.2h-1.2z" fill="#f08020"/><path d="M104.8 876.6h1.2v1.2h-1.2z" fill="#f09a38"/><path d="M97.7 889.8h1.2v1.2h-1.2zM80.0 889.0h1.2v1.2h-1.2z" fill="#3040f0"/><path d="M104.2 890.3h1.2v1.2h-1.2z" fill="#2030ea"/><path d="M85.9 882.8h1.2v1.2h-1.2zM92.3 888.0h1.2v1.2h-1.2z" fill="#3040f0"/><path d="M92.6 891.0h1.2v1.2h-1.2z" fill="#2030ea"/><path d="M140.7 882.7h1.2v1.2h-1.2zM132.6 875.5h1.2v1.2h-1.2z" fill="#f09a38"/><path d="M132.4 886.3h1.2v1.2h-1.2z" fill="#3040f0"/><path d="M108.3 889.0h1.2v1.2h-1.2z" fill="#2030ea"/><path d="M111.2 867.6h1.2v1.2h-1.2z" fill="#3040f0"/><path d="M121.5 877.9h1.2v1.2h-1.2z" fill="#f08020"/><path d="M100.6 882.8h1.2v1.2h-1.2z" fill="#2030ea"/><path d="M103.3 883.1h1.2v1.2h-1.2z" fill="#f08020"/><path d="M91.5 881.0h1.2v1.2h-1.2z" fill="#2030ea"/><path d="M155.6 865.7h1.2v1.2h-1.2zM155.4 881.7h1.2v1.2h-1.2z" fill="#f08020"/><path d="M107.0 869.7h1.2v1.2h-1.2zM105.2 881.7h1.2v1.2h-1.2zM100.7 869.5h1.2v1.2h-1.2z" fill="#f09a38"/><path d="M110.9 883.4h1.2v1.2h-1.2z" fill="#2030ea"/><path d="M116.5 879.5h1.2v1.2h-1.2zM97.5 882.4h1.2v1.2h-1.2zM112.2 882.0h1.2v1.2h-1.2zM138.6 873.6h1.2v1.2h-1.2z" fill="#f08020"/><path d="M99.1 893.0h1.2v1.2h-1.2z" fill="#2030ea"/><path d="M109.4 885.0h1.2v1.2h-1.2z" fill="#f08020"/><path d="M132.6 869.0h1.2v1.2h-1.2z" fill="#2030ea"/><path d="M130.7 877.9h1.2v1.2h-1.2z" fill="#f08020"/><path d="M116.7 887.0h1.2v1.2h-1.2z" fill="#2030ea"/><path d="M96.7 883.3h1.2v1.2h-1.2z" fill="#3040f0"/><path d="M102.5 879.4h1.2v1.2h-1.2z" fill="#2030ea"/><path d="M140.2 870.7h1.2v1.2h-1.2z" fill="#f08020"/><path d="M106.4 885.4h1.2v1.2h-1.2z" fill="#2030ea"/><path d="M109.8 886.4h1.2v1.2h-1.2zM107.6 892.9h1.2v1.2h-1.2z" fill="#3040f0"/><path d="M100.1 893.0h1.2v1.2h-1.2z" fill="#f08020"/><path d="M127.2 873.8h1.2v1.2h-1.2z" fill="#f09a38"/><path d="M92.7 892.6h1.2v1.2h-1.2zM97.5 890.0h1.2v1.2h-1.2zM97.1 892.9h1.2v1.2h-1.2z" fill="#3040f0"/><path d="M107.5 885.4h1.2v1.2h-1.2z" fill="#f09a38"/><path d="M95.7 887.9h1.2v1.2h-1.2z" fill="#f08020"/><path d="M105.6 865.8h1.2v1.2h-1.2zM100.5 892.5h1.2v1.2h-1.2z" fill="#2030ea"/><path d="M104.1 879.2h1.2v1.2h-1.2z" fill="#f09a38"/><path d="M83.0 881.9h1.2v1.2h-1.2z" fill="#2030ea"/><path d="M129.4 877.4h1.2v1.2h-1.2z" fill="#3040f0"/><path d="M100.0 893.1h1.2v1.2h-1.2z" fill="#2030ea"/><path d="M105.0 890.6h1.2v1.2h-1.2z" fill="#3040f0"/><path d="M95.6 891.6h1.2v1.2h-1.2zM86.8 888.0h1.2v1.2h-1.2z" fill="#2030ea"/><path d="M103.2 882.1h1.2v1.2h-1.2z" fill="#f09a38"/><path d="M121.0 885.0h1.2v1.2h-1.2zM84.0 880.8h1.2v1.2h-1.2z" fill="#3040f0"/><path d="M83.3 892.5h1.2v1.2h-1.2zM126.7 888.7h1.2v1.2h-1.2zM85.3 887.8h1.2v1.2h-1.2zM106.3 889.2h1.2v1.2h-1.2zM97.7 886.6h1.2v1.2h-1.2zM79.6 883.4h1.2v1.2h-1.2z" fill="#2030ea"/><path d="M97.1 889.9h1.2v1.2h-1.2zM89.7 887.2h1.2v1.2h-1.2z" fill="#3040f0"/><path d="M116.2 886.4h1.2v1.2h-1.2z" fill="#f08020"/><path d="M82.1 888.2h1.2v1.2h-1.2z" fill="#2030ea"/><path d="M87.8 889.0h1.2v1.2h-1.2z" fill="#f09a38"/><path d="M79.9 891.1h1.2v1.2h-1.2z" fill="#3040f0"/><path d="M151.1 882.8h1.2v1.2h-1.2z" fill="#2030ea"/><path d="M133.4 880.2h1.2v1.2h-1.2z" fill="#f09a38"/><path d="M121.0 875.2h1.2v1.2h-1.2z" fill="#f08020"/><path d="M84.2 884.3h1.2v1.2h-1.2z" fill="#2030ea"/><path d="M87.6 881.5h1.2v1.2h-1.2z" fill="#f09a38"/><path d="M84.1 887.0h1.2v1.2h-1.2zM85.8 891.7h1.2v1.2h-1.2z" fill="#2030ea"/><path d="M127.3 879.1h1.2v1.2h-1.2z" fill="#f09a38"/><path d="M112.3 891.1h1.2v1.2h-1.2zM81.7 883.8h1.2v1.2h-1.2z" fill="#3040f0"/><path d="M91.8 882.9h1.2v1.2h-1.2z" fill="#f08020"/><path d="M95.0 892.8h1.2v1.2h-1.2z" fill="#3040f0"/><path d="M115.6 884.2h1.2v1.2h-1.2zM84.4 886.0h1.2v1.2h-1.2z" fill="#2030ea"/><path d="M88.5 891.4h1.2v1.2h-1.2zM92.5 887.6h1.2v1.2h-1.2z" fill="#3040f0"/><path d="M97.9 887.0h1.2v1.2h-1.2zM92.1 892.9h1.2v1.2h-1.2zM85.4 884.7h1.2v1.2h-1.2z" fill="#2030ea"/><path d="M103.7 876.6h1.2v1.2h-1.2z" fill="#3040f0"/><path d="M141.4 885.6h1.2v1.2h-1.2zM92.2 887.4h1.2v1.2h-1.2z" fill="#2030ea"/><path d="M87.2 887.4h1.2v1.2h-1.2z" fill="#3040f0"/><path d="M108.7 884.6h1.2v1.2h-1.2z" fill="#f09a38"/><path d="M105.4 877.8h1.2v1.2h-1.2z" fill="#3040f0"/><path d="M116.3 887.5h1.2v1.2h-1.2z" fill="#f09a38"/><path d="M131.6 884.8h1.2v1.2h-1.2z" fill="#3040f0"/><path d="M86.6 872.7h1.2v1.2h-1.2z" fill="#f08020"/><path d="M88.2 884.3h1.2v1.2h-1.2z" fill="#3040f0"/><path d="M129.0 890.3h1.2v1.2h-1.2z" fill="#2030ea"/><path d="M97.5 891.3h1.2v1.2h-1.2z" fill="#3040f0"/><path d="M120.7 883.8h1.2v1.2h-1.2z" fill="#f08020"/><path d="M121.2 871.0h1.2v1.2h-1.2z" fill="#f09a38"/><path d="M131.7 869.5h1.2v1.2h-1.2z" fill="#f08020"/><path d="M88.9 885.6h1.2v1.2h-1.2z" fill="#3040f0"/><path d="M112.2 879.1h1.2v1.2h-1.2z" fill="#2030ea"/><path d="M81.1 889.9h1.2v1.2h-1.2z" fill="#3040f0"/><path d="M129.2 877.3h1.2v1.2h-1.2z" fill="#f08020"/><path d="M113.4 869.4h1.2v1.2h-1.2z" fill="#3040f0"/><path d="M82.1 888.6h1.2v1.2h-1.2z" fill="#2030ea"/><path d="M88.3 888.1h1.2v1.2h-1.2z" fill="#3040f0"/><path d="M128.2 863.0h1.2v1.2h-1.2z" fill="#f09a38"/><path d="M104.6 887.5h1.2v1.2h-1.2zM111.2 876.1h1.2v1.2h-1.2z" fill="#f08020"/><path d="M95.3 880.8h1.2v1.2h-1.2zM102.7 891.8h1.2v1.2h-1.2z" fill="#3040f0"/><path d="M105.0 867.2h1.2v1.2h-1.2z" fill="#f09a38"/><path d="M110.2 856.4h1.2v1.2h-1.2z" fill="#3040f0"/><path d="M106.9 879.7h1.2v1.2h-1.2zM123.9 883.7h1.2v1.2h-1.2z" fill="#f09a38"/><path d="M85.1 888.1h1.2v1.2h-1.2zM98.7 889.6h1.2v1.2h-1.2z" fill="#3040f0"/><path d="M131.0 876.3h1.2v1.2h-1.2z" fill="#f08020"/><path d="M87.1 890.2h1.2v1.2h-1.2z" fill="#3040f0"/><path d="M104.9 889.2h1.2v1.2h-1.2zM98.1 884.3h1.2v1.2h-1.2z" fill="#2030ea"/><path d="M111.0 880.8h1.2v1.2h-1.2z" fill="#f08020"/><path d="M95.7 866.6h1.2v1.2h-1.2z" fill="#f09a38"/><path d="M94.3 880.4h1.2v1.2h-1.2z" fill="#f08020"/><path d="M100.1 888.9h1.2v1.2h-1.2z" fill="#2030ea"/><path d="M103.9 879.4h1.2v1.2h-1.2z" fill="#3040f0"/><path d="M131.9 881.6h1.2v1.2h-1.2z" fill="#2030ea"/><path d="M99.5 882.6h1.2v1.2h-1.2zM99.2 891.8h1.2v1.2h-1.2zM89.0 889.6h1.2v1.2h-1.2zM88.9 890.7h1.2v1.2h-1.2zM81.9 889.8h1.2v1.2h-1.2zM114.9 881.8h1.2v1.2h-1.2z" fill="#3040f0"/><path d="M102.9 875.1h1.2v1.2h-1.2z" fill="#f08020"/><path d="M95.6 891.2h1.2v1.2h-1.2zM85.2 891.6h1.2v1.2h-1.2zM102.2 892.9h1.2v1.2h-1.2z" fill="#3040f0"/><path d="M130.3 875.9h1.2v1.2h-1.2z" fill="#f09a38"/><path d="M85.0 885.9h1.2v1.2h-1.2z" fill="#2030ea"/><path d="M85.5 889.2h1.2v1.2h-1.2zM85.7 892.3h1.2v1.2h-1.2z" fill="#3040f0"/><path d="M98.3 881.7h1.2v1.2h-1.2z" fill="#f08020"/><path d="M80.1 894.1h1.2v1.2h-1.2z" fill="#2030ea"/><path d="M112.9 870.9h1.2v1.2h-1.2z" fill="#f09a38"/><path d="M87.8 883.1h1.2v1.2h-1.2z" fill="#2030ea"/><path d="M103.5 885.3h1.2v1.2h-1.2z" fill="#3040f0"/><path d="M114.9 892.6h1.2v1.2h-1.2z" fill="#2030ea"/><path d="M86.8 888.8h1.2v1.2h-1.2z" fill="#3040f0"/><path d="M144.3 875.0h1.2v1.2h-1.2z" fill="#f09a38"/><path d="M108.3 881.3h1.2v1.2h-1.2z" fill="#f08020"/><path d="M93.0 890.8h1.2v1.2h-1.2z" fill="#2030ea"/><path d="M107.8 887.5h1.2v1.2h-1.2z" fill="#3040f0"/><path d="M154.8 876.7h1.2v1.2h-1.2z" fill="#f08020"/><path d="M122.1 880.8h1.2v1.2h-1.2z" fill="#f09a38"/><path d="M101.0 886.8h1.2v1.2h-1.2z" fill="#3040f0"/><path d="M116.7 871.9h1.2v1.2h-1.2zM119.5 879.3h1.2v1.2h-1.2zM129.3 874.4h1.2v1.2h-1.2z" fill="#f08020"/><path d="M95.6 888.5h1.2v1.2h-1.2zM100.2 874.8h1.2v1.2h-1.2z" fill="#2030ea"/><path d="M89.9 877.6h1.2v1.2h-1.2z" fill="#3040f0"/><path d="M119.1 880.4h1.2v1.2h-1.2z" fill="#f08020"/><path d="M83.9 892.6h1.2v1.2h-1.2z" fill="#2030ea"/><path d="M113.8 870.6h1.2v1.2h-1.2z" fill="#f09a38"/><path d="M101.7 887.8h1.2v1.2h-1.2z" fill="#3040f0"/><path d="M110.4 887.8h1.2v1.2h-1.2z" fill="#2030ea"/><path d="M96.1 868.0h1.2v1.2h-1.2z" fill="#3040f0"/><path d="M149.0 884.2h1.2v1.2h-1.2zM97.2 884.5h1.2v1.2h-1.2zM109.7 880.6h1.2v1.2h-1.2zM109.8 887.3h1.2v1.2h-1.2z" fill="#2030ea"/><path d="M112.6 872.8h1.2v1.2h-1.2z" fill="#f08020"/><path d="M89.1 892.7h1.2v1.2h-1.2z" fill="#2030ea"/><path d="M108.0 870.1h1.2v1.2h-1.2z" fill="#f08020"/><path d="M107.0 889.1h1.2v1.2h-1.2z" fill="#3040f0"/><path d="M88.9 889.0h1.2v1.2h-1.2zM127.7 883.7h1.2v1.2h-1.2z" fill="#2030ea"/><path d="M113.1 881.3h1.2v1.2h-1.2z" fill="#f09a38"/><path d="M113.9 879.7h1.2v1.2h-1.2z" fill="#f08020"/><path d="M108.4 880.6h1.2v1.2h-1.2z" fill="#f09a38"/><path d="M80.0 881.0h1.2v1.2h-1.2z" fill="#2030ea"/><path d="M92.7 888.9h1.2v1.2h-1.2z" fill="#3040f0"/><path d="M124.7 878.9h1.2v1.2h-1.2z" fill="#f08020"/><path d="M137.5 863.0h1.2v1.2h-1.2z" fill="#2030ea"/><path d="M102.4 876.5h1.2v1.2h-1.2z" fill="#f08020"/><path d="M112.7 887.4h1.2v1.2h-1.2z" fill="#3040f0"/><path d="M111.5 878.4h1.2v1.2h-1.2z" fill="#2030ea"/><path d="M175.4 878.0h1.2v1.2h-1.2z" fill="#3040f0"/><path d="M100.4 891.7h1.2v1.2h-1.2z" fill="#2030ea"/><path d="M102.5 885.7h1.2v1.2h-1.2zM103.0 892.4h1.2v1.2h-1.2z" fill="#3040f0"/><path d="M97.0 884.2h1.2v1.2h-1.2z" fill="#2030ea"/><path d="M108.4 890.0h1.2v1.2h-1.2z" fill="#3040f0"/><path d="M125.2 881.1h1.2v1.2h-1.2z" fill="#f09a38"/><path d="M79.6 883.0h1.2v1.2h-1.2z" fill="#2030ea"/><path d="M129.9 876.8h1.2v1.2h-1.2z" fill="#f08020"/><path d="M141.2 855.1h1.2v1.2h-1.2z" fill="#3040f0"/><path d="M102.8 872.1h1.2v1.2h-1.2zM90.2 887.1h1.2v1.2h-1.2z" fill="#2030ea"/><path d="M132.7 876.5h1.2v1.2h-1.2z" fill="#f08020"/><path d="M85.5 888.6h1.2v1.2h-1.2z" fill="#2030ea"/><path d="M127.3 882.3h1.2v1.2h-1.2zM120.8 871.5h1.2v1.2h-1.2z" fill="#f08020"/><path d="M93.7 886.9h1.2v1.2h-1.2z" fill="#2030ea"/><path d="M133.5 881.1h1.2v1.2h-1.2zM168.5 878.3h1.2v1.2h-1.2z" fill="#f09a38"/><path d="M108.4 889.3h1.2v1.2h-1.2z" fill="#2030ea"/><path d="M90.1 890.1h1.2v1.2h-1.2zM79.8 884.6h1.2v1.2h-1.2z" fill="#3040f0"/><path d="M82.3 894.2h1.2v1.2h-1.2z" fill="#2030ea"/><path d="M94.8 892.7h1.2v1.2h-1.2z" fill="#3040f0"/><path d="M132.8 882.8h1.2v1.2h-1.2z" fill="#f09a38"/><path d="M126.9 874.9h1.2v1.2h-1.2z" fill="#2030ea"/><path d="M125.0 879.1h1.2v1.2h-1.2zM98.9 886.9h1.2v1.2h-1.2z" fill="#3040f0"/><path d="M124.3 880.2h1.2v1.2h-1.2zM86.2 889.6h1.2v1.2h-1.2z" fill="#2030ea"/><path d="M112.3 879.4h1.2v1.2h-1.2z" fill="#3040f0"/><path d="M103.0 881.8h1.2v1.2h-1.2zM144.6 880.1h1.2v1.2h-1.2zM168.6 863.5h1.2v1.2h-1.2z" fill="#f08020"/><path d="M88.1 882.5h1.2v1.2h-1.2z" fill="#2030ea"/><path d="M98.5 886.4h1.2v1.2h-1.2z" fill="#f08020"/><path d="M89.2 891.0h1.2v1.2h-1.2zM128.1 888.0h1.2v1.2h-1.2zM91.2 888.3h1.2v1.2h-1.2zM126.5 877.2h1.2v1.2h-1.2zM90.6 888.1h1.2v1.2h-1.2z" fill="#3040f0"/><path d="M90.4 881.9h1.2v1.2h-1.2z" fill="#2030ea"/><path d="M147.8 869.2h1.2v1.2h-1.2z" fill="#3040f0"/><path d="M113.1 872.9h1.2v1.2h-1.2z" fill="#f09a38"/><path d="M105.6 886.2h1.2v1.2h-1.2zM154.9 880.3h1.2v1.2h-1.2z" fill="#2030ea"/><path d="M105.3 869.9h1.2v1.2h-1.2z" fill="#f08020"/><path d="M86.1 891.0h1.2v1.2h-1.2z" fill="#2030ea"/><path d="M93.1 884.9h1.2v1.2h-1.2z" fill="#3040f0"/><path d="M112.7 879.4h1.2v1.2h-1.2z" fill="#f08020"/><path d="M115.0 893.6h1.2v1.2h-1.2z" fill="#2030ea"/><path d="M107.6 882.7h1.2v1.2h-1.2zM144.8 876.3h1.2v1.2h-1.2z" fill="#f08020"/><path d="M90.8 884.0h1.2v1.2h-1.2zM86.8 888.3h1.2v1.2h-1.2zM86.3 888.6h1.2v1.2h-1.2zM92.1 891.8h1.2v1.2h-1.2zM81.7 890.3h1.2v1.2h-1.2z" fill="#2030ea"/><path d="M95.4 885.0h1.2v1.2h-1.2zM108.2 877.4h1.2v1.2h-1.2z" fill="#3040f0"/><path d="M81.1 886.4h1.2v1.2h-1.2z" fill="#2030ea"/><path d="M80.8 875.9h1.2v1.2h-1.2zM82.5 891.2h1.2v1.2h-1.2z" fill="#3040f0"/><path d="M114.1 877.2h1.2v1.2h-1.2zM118.7 877.0h1.2v1.2h-1.2z" fill="#f08020"/><path d="M97.0 875.1h1.2v1.2h-1.2z" fill="#2030ea"/><path d="M118.8 883.7h1.2v1.2h-1.2z" fill="#f09a38"/><path d="M81.0 892.6h1.2v1.2h-1.2z" fill="#3040f0"/><path d="M115.1 882.6h1.2v1.2h-1.2z" fill="#f09a38"/><path d="M108.8 887.1h1.2v1.2h-1.2z" fill="#2030ea"/><path d="M96.2 893.1h1.2v1.2h-1.2z" fill="#3040f0"/><path d="M105.3 877.5h1.2v1.2h-1.2z" fill="#2030ea"/><path d="M102.6 885.0h1.2v1.2h-1.2z" fill="#f08020"/><path d="M115.1 890.0h1.2v1.2h-1.2zM108.1 875.5h1.2v1.2h-1.2z" fill="#3040f0"/><path d="M90.2 892.1h1.2v1.2h-1.2z" fill="#2030ea"/><path d="M102.3 880.6h1.2v1.2h-1.2z" fill="#f08020"/><path d="M135.2 882.7h1.2v1.2h-1.2z" fill="#f09a38"/><path d="M101.0 873.8h1.2v1.2h-1.2z" fill="#2030ea"/><path d="M100.3 863.6h1.2v1.2h-1.2z" fill="#f09a38"/><path d="M110.0 887.2h1.2v1.2h-1.2zM106.6 872.3h1.2v1.2h-1.2z" fill="#2030ea"/><path d="M138.5 867.2h1.2v1.2h-1.2z" fill="#f08020"/><path d="M109.7 875.0h1.2v1.2h-1.2z" fill="#3040f0"/><path d="M117.9 874.3h1.2v1.2h-1.2z" fill="#f08020"/><path d="M110.5 883.5h1.2v1.2h-1.2z" fill="#f09a38"/><path d="M164.6 860.3h1.2v1.2h-1.2zM117.4 892.3h1.2v1.2h-1.2zM107.9 884.0h1.2v1.2h-1.2zM85.7 876.2h1.2v1.2h-1.2z" fill="#3040f0"/><path d="M100.7 884.3h1.2v1.2h-1.2z" fill="#f08020"/><path d="M93.0 884.2h1.2v1.2h-1.2z" fill="#3040f0"/><path d="M90.2 894.0h1.2v1.2h-1.2z" fill="#2030ea"/><path d="M99.3 886.3h1.2v1.2h-1.2zM94.5 884.4h1.2v1.2h-1.2zM84.5 882.5h1.2v1.2h-1.2zM84.3 882.3h1.2v1.2h-1.2z" fill="#3040f0"/><path d="M127.4 877.8h1.2v1.2h-1.2z" fill="#f09a38"/><path d="M85.6 892.3h1.2v1.2h-1.2z" fill="#2030ea"/><path d="M117.1 883.5h1.2v1.2h-1.2zM107.9 864.3h1.2v1.2h-1.2z" fill="#f09a38"/><path d="M119.9 884.1h1.2v1.2h-1.2zM117.3 892.6h1.2v1.2h-1.2z" fill="#2030ea"/><path d="M100.8 886.5h1.2v1.2h-1.2z" fill="#f08020"/><path d="M102.3 889.4h1.2v1.2h-1.2zM85.6 888.0h1.2v1.2h-1.2z" fill="#2030ea"/><path d="M137.1 891.5h1.2v1.2h-1.2z" fill="#3040f0"/><path d="M115.4 880.3h1.2v1.2h-1.2z" fill="#f08020"/><path d="M103.2 882.1h1.2v1.2h-1.2z" fill="#2030ea"/><path d="M95.0 891.9h1.2v1.2h-1.2z" fill="#3040f0"/><path d="M88.8 888.2h1.2v1.2h-1.2zM107.5 888.2h1.2v1.2h-1.2z" fill="#2030ea"/><path d="M146.7 861.5h1.2v1.2h-1.2z" fill="#f08020"/><path d="M91.2 875.7h1.2v1.2h-1.2z" fill="#3040f0"/><path d="M99.4 870.6h1.2v1.2h-1.2z" fill="#f08020"/><path d="M82.9 881.5h1.2v1.2h-1.2z" fill="#2030ea"/><path d="M80.4 888.7h1.2v1.2h-1.2z" fill="#3040f0"/><path d="M98.1 880.8h1.2v1.2h-1.2zM144.9 873.3h1.2v1.2h-1.2z" fill="#2030ea"/><path d="M108.9 887.8h1.2v1.2h-1.2z" fill="#3040f0"/><path d="M96.3 891.1h1.2v1.2h-1.2z" fill="#2030ea"/><path d="M112.8 888.7h1.2v1.2h-1.2zM82.2 881.1h1.2v1.2h-1.2zM90.3 882.5h1.2v1.2h-1.2z" fill="#3040f0"/><path d="M101.1 875.0h1.2v1.2h-1.2zM122.6 883.8h1.2v1.2h-1.2z" fill="#f08020"/><path d="M95.7 886.0h1.2v1.2h-1.2zM89.4 894.1h1.2v1.2h-1.2z" fill="#2030ea"/><path d="M86.9 891.6h1.2v1.2h-1.2z" fill="#3040f0"/><path d="M132.0 876.8h1.2v1.2h-1.2z" fill="#f08020"/><path d="M101.2 881.7h1.2v1.2h-1.2z" fill="#3040f0"/><path d="M129.1 883.4h1.2v1.2h-1.2z" fill="#f09a38"/><path d="M108.8 879.4h1.2v1.2h-1.2z" fill="#f08020"/><path d="M97.3 892.4h1.2v1.2h-1.2z" fill="#2030ea"/><path d="M88.0 884.2h1.2v1.2h-1.2z" fill="#3040f0"/><path d="M125.5 882.1h1.2v1.2h-1.2z" fill="#f09a38"/><path d="M92.3 891.2h1.2v1.2h-1.2zM88.0 875.8h1.2v1.2h-1.2z" fill="#3040f0"/><path d="M138.4 876.7h1.2v1.2h-1.2zM104.9 887.3h1.2v1.2h-1.2z" fill="#f08020"/><path d="M114.9 861.3h1.2v1.2h-1.2z" fill="#f09a38"/><path d="M98.0 890.5h1.2v1.2h-1.2z" fill="#f08020"/><path d="M128.4 886.2h1.2v1.2h-1.2zM113.6 890.4h1.2v1.2h-1.2z" fill="#3040f0"/><path d="M116.7 868.9h1.2v1.2h-1.2zM157.7 880.9h1.2v1.2h-1.2z" fill="#f08020"/><path d="M173.2 866.1h1.2v1.2h-1.2z" fill="#2030ea"/><path d="M85.2 890.8h1.2v1.2h-1.2z" fill="#3040f0"/><path d="M99.1 886.7h1.2v1.2h-1.2z" fill="#2030ea"/><path d="M98.5 878.2h1.2v1.2h-1.2zM130.5 874.2h1.2v1.2h-1.2z" fill="#f08020"/><path d="M104.9 883.2h1.2v1.2h-1.2z" fill="#3040f0"/><path d="M90.7 874.3h1.2v1.2h-1.2z" fill="#f08020"/><path d="M92.4 882.8h1.2v1.2h-1.2zM96.6 885.1h1.2v1.2h-1.2zM95.6 890.3h1.2v1.2h-1.2z" fill="#3040f0"/><path d="M135.3 879.8h1.2v1.2h-1.2z" fill="#2030ea"/><path d="M99.0 881.3h1.2v1.2h-1.2z" fill="#3040f0"/><path d="M118.2 883.2h1.2v1.2h-1.2zM116.7 878.6h1.2v1.2h-1.2zM99.0 889.1h1.2v1.2h-1.2z" fill="#2030ea"/><path d="M141.5 854.1h1.2v1.2h-1.2zM103.6 886.6h1.2v1.2h-1.2z" fill="#f09a38"/><path d="M177.6 864.0h1.2v1.2h-1.2z" fill="#3040f0"/><path d="M108.0 880.9h1.2v1.2h-1.2z" fill="#f08020"/><path d="M103.4 882.2h1.2v1.2h-1.2z" fill="#3040f0"/><path d="M122.0 872.0h1.2v1.2h-1.2z" fill="#f08020"/><path d="M107.0 885.6h1.2v1.2h-1.2z" fill="#2030ea"/><path d="M109.5 885.8h1.2v1.2h-1.2z" fill="#3040f0"/><path d="M99.2 892.9h1.2v1.2h-1.2z" fill="#2030ea"/><path d="M111.7 873.8h1.2v1.2h-1.2z" fill="#f08020"/><path d="M98.0 880.0h1.2v1.2h-1.2zM98.2 886.9h1.2v1.2h-1.2zM100.8 889.6h1.2v1.2h-1.2z" fill="#3040f0"/><path d="M91.4 882.3h1.2v1.2h-1.2z" fill="#2030ea"/><path d="M90.3 890.5h1.2v1.2h-1.2z" fill="#3040f0"/><path d="M110.4 886.2h1.2v1.2h-1.2z" fill="#f09a38"/><path d="M91.0 882.2h1.2v1.2h-1.2z" fill="#3040f0"/><path d="M119.5 876.4h1.2v1.2h-1.2z" fill="#f09a38"/><path d="M116.7 879.1h1.2v1.2h-1.2z" fill="#3040f0"/><path d="M97.4 886.7h1.2v1.2h-1.2zM99.0 888.7h1.2v1.2h-1.2z" fill="#2030ea"/><path d="M106.2 888.2h1.2v1.2h-1.2zM98.3 880.3h1.2v1.2h-1.2z" fill="#3040f0"/><path d="M106.7 888.7h1.2v1.2h-1.2z" fill="#2030ea"/><path d="M85.5 880.5h1.2v1.2h-1.2z" fill="#f09a38"/><path d="M92.6 888.6h1.2v1.2h-1.2z" fill="#2030ea"/><path d="M93.6 891.1h1.2v1.2h-1.2z" fill="#3040f0"/><path d="M106.1 886.7h1.2v1.2h-1.2zM120.1 882.1h1.2v1.2h-1.2z" fill="#f08020"/><path d="M113.3 879.0h1.2v1.2h-1.2zM115.1 874.0h1.2v1.2h-1.2z" fill="#f09a38"/><path d="M82.0 884.5h1.2v1.2h-1.2z" fill="#2030ea"/><path d="M107.2 887.7h1.2v1.2h-1.2z" fill="#f08020"/><path d="M153.3 866.8h1.2v1.2h-1.2z" fill="#3040f0"/><path d="M145.0 884.0h1.2v1.2h-1.2z" fill="#f08020"/><path d="M148.9 852.6h1.2v1.2h-1.2zM101.2 885.3h1.2v1.2h-1.2z" fill="#2030ea"/><path d="M80.1 891.5h1.2v1.2h-1.2zM105.8 891.6h1.2v1.2h-1.2zM80.8 887.0h1.2v1.2h-1.2z" fill="#3040f0"/><path d="M98.7 884.7h1.2v1.2h-1.2z" fill="#2030ea"/><path d="M132.6 862.7h1.2v1.2h-1.2z" fill="#f08020"/><path d="M140.9 869.3h1.2v1.2h-1.2z" fill="#f09a38"/><path d="M89.6 891.8h1.2v1.2h-1.2z" fill="#3040f0"/><path d="M96.0 892.0h1.2v1.2h-1.2z" fill="#2030ea"/><path d="M106.0 885.6h1.2v1.2h-1.2z" fill="#f09a38"/><path d="M106.2 889.9h1.2v1.2h-1.2z" fill="#3040f0"/><path d="M150.1 878.4h1.2v1.2h-1.2zM98.1 890.9h1.2v1.2h-1.2zM95.1 871.9h1.2v1.2h-1.2z" fill="#2030ea"/><path d="M86.0 877.1h1.2v1.2h-1.2z" fill="#3040f0"/><path d="M102.7 887.3h1.2v1.2h-1.2z" fill="#f08020"/><path d="M130.9 889.6h1.2v1.2h-1.2z" fill="#2030ea"/><path d="M137.4 885.3h1.2v1.2h-1.2z" fill="#f08020"/><path d="M83.7 891.8h1.2v1.2h-1.2z" fill="#3040f0"/><path d="M81.3 890.8h1.2v1.2h-1.2zM81.9 892.1h1.2v1.2h-1.2zM82.6 893.3h1.2v1.2h-1.2z" fill="#2030ea"/><path d="M106.6 888.7h1.2v1.2h-1.2zM105.8 888.6h1.2v1.2h-1.2zM139.3 872.2h1.2v1.2h-1.2z" fill="#3040f0"/><path d="M108.2 875.7h1.2v1.2h-1.2zM103.5 892.3h1.2v1.2h-1.2z" fill="#2030ea"/><path d="M124.0 878.7h1.2v1.2h-1.2z" fill="#3040f0"/><path d="M91.6 886.4h1.2v1.2h-1.2zM123.9 878.7h1.2v1.2h-1.2z" fill="#f08020"/><path d="M85.2 884.3h1.2v1.2h-1.2z" fill="#3040f0"/><path d="M127.0 879.4h1.2v1.2h-1.2z" fill="#f08020"/><path d="M101.5 892.4h1.2v1.2h-1.2z" fill="#2030ea"/><path d="M130.6 870.5h1.2v1.2h-1.2z" fill="#f08020"/><path d="M117.0 880.0h1.2v1.2h-1.2z" fill="#f09a38"/><path d="M92.3 889.1h1.2v1.2h-1.2zM104.3 883.2h1.2v1.2h-1.2z" fill="#2030ea"/><path d="M88.8 879.1h1.2v1.2h-1.2z" fill="#3040f0"/><path d="M96.8 889.9h1.2v1.2h-1.2z" fill="#2030ea"/><path d="M131.5 865.3h1.2v1.2h-1.2z" fill="#f09a38"/><path d="M104.6 876.5h1.2v1.2h-1.2zM82.3 886.8h1.2v1.2h-1.2z" fill="#2030ea"/><path d="M121.1 883.6h1.2v1.2h-1.2zM107.7 876.7h1.2v1.2h-1.2z" fill="#f09a38"/><path d="M111.5 869.3h1.2v1.2h-1.2z" fill="#2030ea"/><path d="M126.5 863.0h1.2v1.2h-1.2z" fill="#f08020"/><path d="M134.2 879.3h1.2v1.2h-1.2zM103.0 882.1h1.2v1.2h-1.2z" fill="#f09a38"/><path d="M109.1 882.0h1.2v1.2h-1.2zM106.3 887.1h1.2v1.2h-1.2z" fill="#f08020"/><path d="M168.6 879.3h1.2v1.2h-1.2zM103.2 889.0h1.2v1.2h-1.2z" fill="#f09a38"/><path d="M139.2 880.5h1.2v1.2h-1.2z" fill="#3040f0"/><path d="M117.6 887.6h1.2v1.2h-1.2zM88.4 880.2h1.2v1.2h-1.2z" fill="#2030ea"/><path d="M103.0 879.1h1.2v1.2h-1.2z" fill="#3040f0"/><path d="M93.7 875.0h1.2v1.2h-1.2z" fill="#f08020"/><path d="M88.3 891.7h1.2v1.2h-1.2z" fill="#3040f0"/><path d="M117.1 879.8h1.2v1.2h-1.2z" fill="#f08020"/><path d="M85.3 883.3h1.2v1.2h-1.2zM94.7 893.0h1.2v1.2h-1.2zM103.1 877.3h1.2v1.2h-1.2z" fill="#3040f0"/><path d="M142.8 870.6h1.2v1.2h-1.2z" fill="#f08020"/><path d="M121.6 892.3h1.2v1.2h-1.2z" fill="#2030ea"/><path d="M117.0 875.9h1.2v1.2h-1.2z" fill="#f09a38"/><path d="M137.2 876.2h1.2v1.2h-1.2zM113.2 873.7h1.2v1.2h-1.2zM112.2 875.4h1.2v1.2h-1.2z" fill="#f08020"/><path d="M109.6 888.4h1.2v1.2h-1.2z" fill="#2030ea"/><path d="M108.6 874.6h1.2v1.2h-1.2zM139.7 873.3h1.2v1.2h-1.2z" fill="#f09a38"/><path d="M116.8 873.8h1.2v1.2h-1.2zM97.3 891.4h1.2v1.2h-1.2zM91.6 892.7h1.2v1.2h-1.2zM109.3 877.7h1.2v1.2h-1.2zM86.2 892.0h1.2v1.2h-1.2zM98.0 890.5h1.2v1.2h-1.2zM94.4 878.9h1.2v1.2h-1.2z" fill="#3040f0"/><path d="M135.5 875.1h1.2v1.2h-1.2zM80.4 890.9h1.2v1.2h-1.2z" fill="#2030ea"/><path d="M106.0 887.8h1.2v1.2h-1.2z" fill="#f09a38"/><path d="M137.2 875.2h1.2v1.2h-1.2z" fill="#2030ea"/><path d="M104.2 892.8h1.2v1.2h-1.2z" fill="#3040f0"/><path d="M126.6 870.8h1.2v1.2h-1.2zM110.0 871.7h1.2v1.2h-1.2z" fill="#f09a38"/><path d="M85.5 893.5h1.2v1.2h-1.2z" fill="#f08020"/><path d="M106.9 877.7h1.2v1.2h-1.2z" fill="#f09a38"/><path d="M91.6 890.3h1.2v1.2h-1.2z" fill="#f08020"/><path d="M81.6 884.1h1.2v1.2h-1.2zM139.2 867.9h1.2v1.2h-1.2zM100.6 889.4h1.2v1.2h-1.2zM109.6 890.8h1.2v1.2h-1.2zM107.0 885.1h1.2v1.2h-1.2z" fill="#2030ea"/><path d="M97.3 870.0h1.2v1.2h-1.2z" fill="#f09a38"/><path d="M84.3 891.6h1.2v1.2h-1.2z" fill="#3040f0"/><path d="M91.1 887.4h1.2v1.2h-1.2z" fill="#2030ea"/><path d="M95.0 890.9h1.2v1.2h-1.2zM88.3 891.8h1.2v1.2h-1.2z" fill="#3040f0"/><path d="M86.9 893.0h1.2v1.2h-1.2z" fill="#2030ea"/><path d="M110.7 886.7h1.2v1.2h-1.2z" fill="#f09a38"/><path d="M123.7 891.9h1.2v1.2h-1.2z" fill="#3040f0"/><path d="M104.0 876.0h1.2v1.2h-1.2zM120.0 876.6h1.2v1.2h-1.2z" fill="#f09a38"/><path d="M81.0 893.7h1.2v1.2h-1.2z" fill="#3040f0"/><path d="M100.7 882.3h1.2v1.2h-1.2z" fill="#f08020"/><path d="M106.6 876.3h1.2v1.2h-1.2z" fill="#3040f0"/><path d="M90.9 893.0h1.2v1.2h-1.2z" fill="#f09a38"/><path d="M149.5 865.9h1.2v1.2h-1.2z" fill="#2030ea"/><path d="M100.4 883.9h1.2v1.2h-1.2z" fill="#3040f0"/><path d="M107.3 874.7h1.2v1.2h-1.2z" fill="#2030ea"/><path d="M92.5 890.3h1.2v1.2h-1.2zM98.2 890.9h1.2v1.2h-1.2z" fill="#3040f0"/><path d="M100.4 887.2h1.2v1.2h-1.2z" fill="#f08020"/><path d="M81.5 892.1h1.2v1.2h-1.2z" fill="#2030ea"/><path d="M123.9 875.0h1.2v1.2h-1.2z" fill="#f09a38"/><path d="M80.0 880.5h1.2v1.2h-1.2zM86.0 891.0h1.2v1.2h-1.2z" fill="#2030ea"/><path d="M128.3 875.0h1.2v1.2h-1.2z" fill="#3040f0"/><path d="M102.3 884.2h1.2v1.2h-1.2zM94.1 891.7h1.2v1.2h-1.2z" fill="#2030ea"/><path d="M107.9 885.8h1.2v1.2h-1.2z" fill="#f08020"/><path d="M85.9 891.3h1.2v1.2h-1.2zM112.9 881.2h1.2v1.2h-1.2z" fill="#2030ea"/><path d="M101.5 882.3h1.2v1.2h-1.2z" fill="#f08020"/><path d="M84.3 891.6h1.2v1.2h-1.2z" fill="#3040f0"/><path d="M146.9 882.9h1.2v1.2h-1.2z" fill="#2030ea"/><path d="M108.0 878.6h1.2v1.2h-1.2z" fill="#f09a38"/><path d="M126.7 876.4h1.2v1.2h-1.2z" fill="#f08020"/><path d="M99.1 882.2h1.2v1.2h-1.2z" fill="#2030ea"/><path d="M102.4 886.2h1.2v1.2h-1.2z" fill="#f09a38"/><path d="M152.4 881.7h1.2v1.2h-1.2z" fill="#2030ea"/><path d="M128.1 876.3h1.2v1.2h-1.2z" fill="#f09a38"/><path d="M128.2 859.2h1.2v1.2h-1.2z" fill="#f08020"/><path d="M87.8 879.8h1.2v1.2h-1.2z" fill="#3040f0"/><path d="M100.4 875.4h1.2v1.2h-1.2z" fill="#f09a38"/><path d="M118.2 874.8h1.2v1.2h-1.2z" fill="#f08020"/><path d="M86.4 883.9h1.2v1.2h-1.2z" fill="#2030ea"/><path d="M138.3 894.1h1.2v1.2h-1.2z" fill="#3040f0"/><path d="M113.2 866.9h1.2v1.2h-1.2zM94.8 884.0h1.2v1.2h-1.2zM93.5 888.7h1.2v1.2h-1.2zM127.5 888.7h1.2v1.2h-1.2zM126.1 872.7h1.2v1.2h-1.2z" fill="#2030ea"/><path d="M84.7 892.1h1.2v1.2h-1.2zM100.4 885.9h1.2v1.2h-1.2zM107.4 891.9h1.2v1.2h-1.2zM105.7 876.2h1.2v1.2h-1.2z" fill="#3040f0"/><path d="M108.8 883.1h1.2v1.2h-1.2z" fill="#f08020"/><path d="M101.6 885.5h1.2v1.2h-1.2z" fill="#f09a38"/><path d="M81.1 890.0h1.2v1.2h-1.2zM81.8 888.9h1.2v1.2h-1.2z" fill="#3040f0"/><path d="M129.2 881.3h1.2v1.2h-1.2z" fill="#f09a38"/><path d="M128.7 884.4h1.2v1.2h-1.2z" fill="#2030ea"/><path d="M106.0 880.9h1.2v1.2h-1.2zM126.0 885.4h1.2v1.2h-1.2z" fill="#3040f0"/><path d="M82.7 890.7h1.2v1.2h-1.2z" fill="#2030ea"/><path d="M111.9 860.5h1.2v1.2h-1.2zM100.0 884.0h1.2v1.2h-1.2zM88.9 879.2h1.2v1.2h-1.2zM86.3 876.8h1.2v1.2h-1.2z" fill="#3040f0"/><path d="M89.9 893.2h1.2v1.2h-1.2z" fill="#2030ea"/><path d="M106.0 889.6h1.2v1.2h-1.2z" fill="#3040f0"/><path d="M99.3 879.8h1.2v1.2h-1.2z" fill="#f08020"/><path d="M87.0 882.0h1.2v1.2h-1.2zM112.1 877.8h1.2v1.2h-1.2z" fill="#2030ea"/><path d="M91.3 889.5h1.2v1.2h-1.2z" fill="#3040f0"/><path d="M79.9 893.9h1.2v1.2h-1.2z" fill="#2030ea"/><path d="M115.8 876.3h1.2v1.2h-1.2z" fill="#f09a38"/><path d="M118.3 886.8h1.2v1.2h-1.2z" fill="#2030ea"/><path d="M125.5 880.2h1.2v1.2h-1.2zM96.3 891.2h1.2v1.2h-1.2z" fill="#3040f0"/><path d="M113.2 877.7h1.2v1.2h-1.2z" fill="#f09a38"/><path d="M145.8 877.3h1.2v1.2h-1.2zM90.6 888.8h1.2v1.2h-1.2z" fill="#3040f0"/><path d="M109.5 866.9h1.2v1.2h-1.2zM108.6 887.7h1.2v1.2h-1.2z" fill="#2030ea"/><path d="M114.1 883.2h1.2v1.2h-1.2z" fill="#f09a38"/><path d="M104.5 884.1h1.2v1.2h-1.2zM129.0 877.7h1.2v1.2h-1.2z" fill="#f08020"/><path d="M85.1 887.6h1.2v1.2h-1.2z" fill="#2030ea"/><path d="M89.0 878.9h1.2v1.2h-1.2z" fill="#3040f0"/><path d="M133.7 879.3h1.2v1.2h-1.2z" fill="#f08020"/><path d="M119.3 878.9h1.2v1.2h-1.2zM81.4 885.7h1.2v1.2h-1.2z" fill="#2030ea"/><path d="M124.6 861.8h1.2v1.2h-1.2z" fill="#f09a38"/><path d="M101.3 887.6h1.2v1.2h-1.2zM134.2 872.8h1.2v1.2h-1.2z" fill="#3040f0"/><path d="M94.5 889.7h1.2v1.2h-1.2zM94.9 883.6h1.2v1.2h-1.2z" fill="#2030ea"/><path d="M115.5 885.1h1.2v1.2h-1.2z" fill="#3040f0"/><path d="M117.5 883.0h1.2v1.2h-1.2z" fill="#f09a38"/><path d="M101.2 881.3h1.2v1.2h-1.2zM101.7 882.4h1.2v1.2h-1.2zM120.2 881.1h1.2v1.2h-1.2z" fill="#f08020"/><path d="M113.0 882.8h1.2v1.2h-1.2z" fill="#f09a38"/><path d="M84.0 891.0h1.2v1.2h-1.2z" fill="#2030ea"/><path d="M96.4 881.5h1.2v1.2h-1.2z" fill="#3040f0"/><path d="M122.1 880.4h1.2v1.2h-1.2z" fill="#f08020"/><path d="M103.6 887.5h1.2v1.2h-1.2zM97.9 884.8h1.2v1.2h-1.2z" fill="#2030ea"/><path d="M107.6 883.6h1.2v1.2h-1.2z" fill="#3040f0"/><path d="M156.4 865.6h1.2v1.2h-1.2z" fill="#f08020"/><path d="M97.3 878.8h1.2v1.2h-1.2z" fill="#3040f0"/><path d="M121.7 870.5h1.2v1.2h-1.2z" fill="#2030ea"/><path d="M132.2 891.6h1.2v1.2h-1.2z" fill="#3040f0"/><path d="M83.3 877.8h1.2v1.2h-1.2zM112.2 880.0h1.2v1.2h-1.2z" fill="#f09a38"/><path d="M92.2 877.3h1.2v1.2h-1.2z" fill="#2030ea"/><path d="M120.4 890.6h1.2v1.2h-1.2zM90.4 893.6h1.2v1.2h-1.2z" fill="#3040f0"/><path d="M91.0 891.8h1.2v1.2h-1.2z" fill="#2030ea"/><path d="M114.6 877.3h1.2v1.2h-1.2z" fill="#f09a38"/><path d="M129.2 892.6h1.2v1.2h-1.2zM114.2 890.3h1.2v1.2h-1.2z" fill="#3040f0"/><path d="M140.4 864.9h1.2v1.2h-1.2z" fill="#2030ea"/><path d="M150.8 861.9h1.2v1.2h-1.2z" fill="#3040f0"/><path d="M122.3 889.4h1.2v1.2h-1.2z" fill="#2030ea"/><path d="M116.3 881.5h1.2v1.2h-1.2z" fill="#f08020"/><path d="M94.7 875.4h1.2v1.2h-1.2zM83.7 887.9h1.2v1.2h-1.2zM81.7 889.2h1.2v1.2h-1.2z" fill="#2030ea"/><path d="M89.7 892.4h1.2v1.2h-1.2z" fill="#3040f0"/><path d="M99.3 875.5h1.2v1.2h-1.2z" fill="#2030ea"/><path d="M126.5 872.2h1.2v1.2h-1.2z" fill="#f09a38"/><path d="M147.1 873.0h1.2v1.2h-1.2zM84.8 888.8h1.2v1.2h-1.2zM92.9 877.9h1.2v1.2h-1.2zM84.5 887.3h1.2v1.2h-1.2z" fill="#f08020"/><path d="M117.0 881.8h1.2v1.2h-1.2z" fill="#2030ea"/><path d="M126.2 887.3h1.2v1.2h-1.2zM96.2 884.3h1.2v1.2h-1.2z" fill="#3040f0"/><path d="M94.7 887.5h1.2v1.2h-1.2z" fill="#2030ea"/><path d="M120.2 878.3h1.2v1.2h-1.2zM126.2 880.5h1.2v1.2h-1.2z" fill="#f08020"/><path d="M114.2 886.5h1.2v1.2h-1.2zM116.0 875.0h1.2v1.2h-1.2z" fill="#f09a38"/><path d="M113.1 879.4h1.2v1.2h-1.2z" fill="#f08020"/><path d="M103.2 892.7h1.2v1.2h-1.2z" fill="#2030ea"/><path d="M114.9 886.7h1.2v1.2h-1.2z" fill="#f08020"/><path d="M88.3 889.9h1.2v1.2h-1.2z" fill="#2030ea"/><path d="M91.8 887.6h1.2v1.2h-1.2z" fill="#3040f0"/><path d="M128.9 883.9h1.2v1.2h-1.2z" fill="#f08020"/><path d="M80.0 889.2h1.2v1.2h-1.2zM92.1 888.8h1.2v1.2h-1.2z" fill="#2030ea"/><path d="M97.3 885.7h1.2v1.2h-1.2zM114.0 883.5h1.2v1.2h-1.2z" fill="#f09a38"/><path d="M131.6 888.0h1.2v1.2h-1.2zM82.9 891.0h1.2v1.2h-1.2zM82.6 892.6h1.2v1.2h-1.2z" fill="#2030ea"/><path d="M110.0 887.1h1.2v1.2h-1.2z" fill="#f08020"/><path d="M82.4 891.0h1.2v1.2h-1.2zM103.3 878.3h1.2v1.2h-1.2zM162.1 865.1h1.2v1.2h-1.2z" fill="#2030ea"/><path d="M93.6 890.3h1.2v1.2h-1.2z" fill="#3040f0"/><path d="M97.5 864.6h1.2v1.2h-1.2z" fill="#f09a38"/><path d="M106.0 876.4h1.2v1.2h-1.2zM93.6 884.4h1.2v1.2h-1.2z" fill="#2030ea"/><path d="M80.4 887.9h1.2v1.2h-1.2zM90.5 876.6h1.2v1.2h-1.2z" fill="#3040f0"/><path d="M81.9 886.8h1.2v1.2h-1.2z" fill="#2030ea"/><path d="M94.9 890.5h1.2v1.2h-1.2zM102.3 871.2h1.2v1.2h-1.2z" fill="#3040f0"/><path d="M118.8 871.8h1.2v1.2h-1.2z" fill="#f09a38"/><path d="M136.0 867.5h1.2v1.2h-1.2z" fill="#f08020"/><path d="M89.0 885.6h1.2v1.2h-1.2z" fill="#2030ea"/><path d="M127.7 877.3h1.2v1.2h-1.2z" fill="#f09a38"/><path d="M91.1 893.6h1.2v1.2h-1.2z" fill="#2030ea"/><path d="M104.2 877.5h1.2v1.2h-1.2z" fill="#f09a38"/><path d="M103.6 890.5h1.2v1.2h-1.2z" fill="#2030ea"/><path d="M88.9 891.8h1.2v1.2h-1.2zM97.6 880.8h1.2v1.2h-1.2z" fill="#3040f0"/><path d="M82.0 887.4h1.2v1.2h-1.2z" fill="#2030ea"/><path d="M106.2 886.2h1.2v1.2h-1.2z" fill="#f08020"/><path d="M102.9 891.7h1.2v1.2h-1.2z" fill="#2030ea"/><path d="M103.0 867.9h1.2v1.2h-1.2zM113.9 883.3h1.2v1.2h-1.2z" fill="#f09a38"/><path d="M103.0 894.1h1.2v1.2h-1.2z" fill="#3040f0"/><path d="M123.8 879.9h1.2v1.2h-1.2z" fill="#f09a38"/><path d="M112.7 884.8h1.2v1.2h-1.2z" fill="#2030ea"/><path d="M118.3 874.7h1.2v1.2h-1.2zM118.5 874.7h1.2v1.2h-1.2z" fill="#f09a38"/><path d="M86.7 884.6h1.2v1.2h-1.2z" fill="#f08020"/><path d="M100.5 884.7h1.2v1.2h-1.2z" fill="#3040f0"/><path d="M109.6 888.5h1.2v1.2h-1.2z" fill="#2030ea"/><path d="M113.6 885.3h1.2v1.2h-1.2z" fill="#f09a38"/><path d="M121.7 885.9h1.2v1.2h-1.2z" fill="#3040f0"/><path d="M120.7 885.8h1.2v1.2h-1.2zM85.9 892.9h1.2v1.2h-1.2z" fill="#2030ea"/><path d="M138.4 870.9h1.2v1.2h-1.2z" fill="#f09a38"/><path d="M81.4 893.3h1.2v1.2h-1.2z" fill="#2030ea"/><path d="M114.6 865.9h1.2v1.2h-1.2z" fill="#f09a38"/><path d="M100.7 885.4h1.2v1.2h-1.2z" fill="#2030ea"/><path d="M100.8 885.2h1.2v1.2h-1.2z" fill="#f08020"/><path d="M82.3 892.4h1.2v1.2h-1.2z" fill="#3040f0"/><path d="M156.6 862.3h1.2v1.2h-1.2z" fill="#f08020"/><path d="M91.6 887.7h1.2v1.2h-1.2zM114.3 873.6h1.2v1.2h-1.2z" fill="#2030ea"/><path d="M83.1 888.1h1.2v1.2h-1.2zM93.0 884.3h1.2v1.2h-1.2zM80.7 891.5h1.2v1.2h-1.2zM87.4 883.4h1.2v1.2h-1.2z" fill="#3040f0"/><path d="M119.8 872.7h1.2v1.2h-1.2z" fill="#f09a38"/><path d="M109.9 882.5h1.2v1.2h-1.2z" fill="#f08020"/><path d="M97.9 885.1h1.2v1.2h-1.2zM81.4 891.2h1.2v1.2h-1.2zM93.4 889.6h1.2v1.2h-1.2z" fill="#2030ea"/><path d="M86.9 878.2h1.2v1.2h-1.2z" fill="#f08020"/><path d="M138.1 877.2h1.2v1.2h-1.2z" fill="#2030ea"/><path d="M115.3 877.2h1.2v1.2h-1.2z" fill="#f09a38"/><path d="M92.2 882.0h1.2v1.2h-1.2z" fill="#2030ea"/><path d="M81.1 892.2h1.2v1.2h-1.2z" fill="#3040f0"/><path d="M94.6 872.1h1.2v1.2h-1.2z" fill="#f09a38"/><path d="M101.1 888.8h1.2v1.2h-1.2zM80.7 883.9h1.2v1.2h-1.2z" fill="#2030ea"/><path d="M97.9 889.0h1.2v1.2h-1.2z" fill="#3040f0"/><path d="M86.6 887.2h1.2v1.2h-1.2z" fill="#2030ea"/><path d="M86.1 881.5h1.2v1.2h-1.2zM121.1 887.8h1.2v1.2h-1.2z" fill="#f09a38"/><path d="M93.8 891.7h1.2v1.2h-1.2z" fill="#2030ea"/><path d="M136.3 872.3h1.2v1.2h-1.2z" fill="#3040f0"/><path d="M120.1 867.7h1.2v1.2h-1.2z" fill="#2030ea"/><path d="M118.1 874.0h1.2v1.2h-1.2z" fill="#f08020"/><path d="M112.1 886.3h1.2v1.2h-1.2z" fill="#f09a38"/><path d="M86.0 887.1h1.2v1.2h-1.2z" fill="#3040f0"/><path d="M92.7 885.4h1.2v1.2h-1.2z" fill="#2030ea"/><path d="M99.0 877.4h1.2v1.2h-1.2z" fill="#3040f0"/><path d="M91.5 886.8h1.2v1.2h-1.2zM109.6 863.8h1.2v1.2h-1.2z" fill="#2030ea"/><path d="M96.6 882.7h1.2v1.2h-1.2z" fill="#3040f0"/><path d="M113.0 871.9h1.2v1.2h-1.2z" fill="#2030ea"/><path d="M108.1 879.8h1.2v1.2h-1.2z" fill="#f08020"/><path d="M99.5 884.9h1.2v1.2h-1.2zM162.2 858.7h1.2v1.2h-1.2z" fill="#f09a38"/><path d="M83.1 884.1h1.2v1.2h-1.2zM108.7 888.6h1.2v1.2h-1.2zM93.8 884.8h1.2v1.2h-1.2z" fill="#2030ea"/><path d="M96.1 884.4h1.2v1.2h-1.2z" fill="#3040f0"/><path d="M97.3 882.5h1.2v1.2h-1.2zM83.5 887.4h1.2v1.2h-1.2z" fill="#2030ea"/><path d="M89.9 891.7h1.2v1.2h-1.2z" fill="#3040f0"/><path d="M87.8 883.3h1.2v1.2h-1.2zM84.2 889.6h1.2v1.2h-1.2zM81.6 885.5h1.2v1.2h-1.2z" fill="#2030ea"/><path d="M114.8 878.5h1.2v1.2h-1.2z" fill="#f09a38"/><path d="M115.0 877.6h1.2v1.2h-1.2z" fill="#f08020"/><path d="M108.3 867.9h1.2v1.2h-1.2zM128.1 880.3h1.2v1.2h-1.2z" fill="#2030ea"/><path d="M108.3 886.3h1.2v1.2h-1.2z" fill="#f09a38"/><path d="M80.4 887.8h1.2v1.2h-1.2zM84.8 891.0h1.2v1.2h-1.2zM97.2 884.0h1.2v1.2h-1.2z" fill="#2030ea"/><path d="M124.4 876.1h1.2v1.2h-1.2z" fill="#f08020"/><path d="M91.2 890.1h1.2v1.2h-1.2z" fill="#3040f0"/><path d="M119.6 864.7h1.2v1.2h-1.2z" fill="#f09a38"/><path d="M95.9 886.1h1.2v1.2h-1.2zM97.8 889.5h1.2v1.2h-1.2z" fill="#2030ea"/><path d="M98.9 881.6h1.2v1.2h-1.2z" fill="#3040f0"/><path d="M84.4 886.6h1.2v1.2h-1.2z" fill="#f09a38"/><path d="M82.8 888.2h1.2v1.2h-1.2zM102.3 889.2h1.2v1.2h-1.2z" fill="#3040f0"/><path d="M89.0 889.3h1.2v1.2h-1.2z" fill="#2030ea"/><path d="M115.4 882.9h1.2v1.2h-1.2z" fill="#f09a38"/><path d="M79.7 893.4h1.2v1.2h-1.2z" fill="#3040f0"/><path d="M107.9 877.1h1.2v1.2h-1.2zM102.7 886.8h1.2v1.2h-1.2z" fill="#2030ea"/><path d="M115.4 877.4h1.2v1.2h-1.2z" fill="#f09a38"/><path d="M118.5 867.7h1.2v1.2h-1.2z" fill="#f08020"/><path d="M116.4 889.6h1.2v1.2h-1.2zM109.4 880.1h1.2v1.2h-1.2zM107.3 891.0h1.2v1.2h-1.2z" fill="#2030ea"/><path d="M111.9 869.6h1.2v1.2h-1.2z" fill="#f08020"/><path d="M123.4 880.8h1.2v1.2h-1.2z" fill="#3040f0"/><path d="M101.8 890.2h1.2v1.2h-1.2z" fill="#f09a38"/><path d="M135.9 871.1h1.2v1.2h-1.2zM109.2 880.1h1.2v1.2h-1.2z" fill="#f08020"/><path d="M98.8 875.6h1.2v1.2h-1.2z" fill="#2030ea"/><path d="M108.3 876.5h1.2v1.2h-1.2z" fill="#f09a38"/><path d="M112.8 867.8h1.2v1.2h-1.2zM92.5 879.2h1.2v1.2h-1.2z" fill="#f08020"/><path d="M90.9 893.1h1.2v1.2h-1.2z" fill="#2030ea"/><path d="M126.8 883.7h1.2v1.2h-1.2z" fill="#3040f0"/><path d="M81.1 893.7h1.2v1.2h-1.2z" fill="#2030ea"/><path d="M143.4 885.2h1.2v1.2h-1.2z" fill="#3040f0"/><path d="M103.2 888.4h1.2v1.2h-1.2z" fill="#f08020"/><path d="M109.9 887.0h1.2v1.2h-1.2z" fill="#2030ea"/><path d="M80.5 883.5h1.2v1.2h-1.2z" fill="#3040f0"/><path d="M106.5 888.9h1.2v1.2h-1.2z" fill="#f08020"/><path d="M83.3 869.1h1.2v1.2h-1.2z" fill="#2030ea"/><path d="M115.3 893.1h1.2v1.2h-1.2z" fill="#3040f0"/><path d="M105.7 857.3h1.2v1.2h-1.2z" fill="#f09a38"/><path d="M118.3 886.7h1.2v1.2h-1.2z" fill="#f08020"/><path d="M86.1 893.1h1.2v1.2h-1.2zM113.8 881.8h1.2v1.2h-1.2z" fill="#3040f0"/><path d="M94.6 883.7h1.2v1.2h-1.2zM84.5 888.1h1.2v1.2h-1.2z" fill="#2030ea"/><path d="M112.1 879.8h1.2v1.2h-1.2z" fill="#f09a38"/><path d="M128.0 867.7h1.2v1.2h-1.2z" fill="#3040f0"/><path d="M89.7 887.4h1.2v1.2h-1.2z" fill="#2030ea"/><path d="M116.1 892.5h1.2v1.2h-1.2z" fill="#3040f0"/><path d="M94.6 890.2h1.2v1.2h-1.2zM84.8 888.4h1.2v1.2h-1.2zM143.2 880.9h1.2v1.2h-1.2zM93.7 891.8h1.2v1.2h-1.2zM120.1 885.0h1.2v1.2h-1.2zM90.2 893.4h1.2v1.2h-1.2z" fill="#2030ea"/><path d="M105.4 873.4h1.2v1.2h-1.2zM116.5 875.4h1.2v1.2h-1.2zM102.1 882.4h1.2v1.2h-1.2z" fill="#f08020"/><path d="M103.3 882.8h1.2v1.2h-1.2zM121.8 871.6h1.2v1.2h-1.2z" fill="#f09a38"/><path d="M90.8 890.5h1.2v1.2h-1.2z" fill="#2030ea"/><path d="M103.1 889.3h1.2v1.2h-1.2z" fill="#3040f0"/><path d="M109.4 875.0h1.2v1.2h-1.2z" fill="#f08020"/><path d="M94.9 882.6h1.2v1.2h-1.2z" fill="#2030ea"/><path d="M101.1 892.0h1.2v1.2h-1.2z" fill="#3040f0"/><path d="M97.8 884.2h1.2v1.2h-1.2z" fill="#f08020"/><path d="M105.5 883.3h1.2v1.2h-1.2z" fill="#2030ea"/><path d="M142.6 880.3h1.2v1.2h-1.2z" fill="#f08020"/><path d="M84.6 883.9h1.2v1.2h-1.2zM88.0 893.9h1.2v1.2h-1.2zM119.4 887.4h1.2v1.2h-1.2zM125.9 889.6h1.2v1.2h-1.2z" fill="#2030ea"/><path d="M82.9 889.2h1.2v1.2h-1.2zM95.6 875.4h1.2v1.2h-1.2zM118.7 877.4h1.2v1.2h-1.2zM92.2 891.2h1.2v1.2h-1.2zM130.9 863.9h1.2v1.2h-1.2zM87.3 883.4h1.2v1.2h-1.2z" fill="#3040f0"/><path d="M129.8 870.5h1.2v1.2h-1.2z" fill="#f09a38"/><path d="M137.3 883.0h1.2v1.2h-1.2z" fill="#2030ea"/><path d="M94.3 891.2h1.2v1.2h-1.2z" fill="#3040f0"/><path d="M102.3 874.1h1.2v1.2h-1.2z" fill="#f08020"/><path d="M131.1 879.3h1.2v1.2h-1.2zM91.2 884.4h1.2v1.2h-1.2zM98.1 890.5h1.2v1.2h-1.2zM110.7 876.6h1.2v1.2h-1.2z" fill="#3040f0"/><path d="M111.8 889.3h1.2v1.2h-1.2z" fill="#f08020"/><path d="M81.5 879.1h1.2v1.2h-1.2zM83.4 887.4h1.2v1.2h-1.2zM90.4 880.8h1.2v1.2h-1.2z" fill="#3040f0"/><path d="M96.8 889.6h1.2v1.2h-1.2z" fill="#2030ea"/><path d="M84.2 890.5h1.2v1.2h-1.2z" fill="#3040f0"/><path d="M124.5 870.3h1.2v1.2h-1.2z" fill="#f09a38"/><path d="M101.8 878.9h1.2v1.2h-1.2z" fill="#2030ea"/><path d="M87.6 886.7h1.2v1.2h-1.2z" fill="#f08020"/><path d="M113.7 885.4h1.2v1.2h-1.2z" fill="#f09a38"/><path d="M105.9 881.7h1.2v1.2h-1.2z" fill="#3040f0"/><path d="M125.1 878.2h1.2v1.2h-1.2z" fill="#f08020"/><path d="M85.2 889.6h1.2v1.2h-1.2z" fill="#3040f0"/><path d="M93.7 890.5h1.2v1.2h-1.2zM105.1 876.9h1.2v1.2h-1.2z" fill="#2030ea"/><path d="M131.0 879.9h1.2v1.2h-1.2z" fill="#f09a38"/><path d="M101.6 890.0h1.2v1.2h-1.2zM97.9 882.1h1.2v1.2h-1.2zM81.8 886.3h1.2v1.2h-1.2z" fill="#3040f0"/><path d="M87.7 888.2h1.2v1.2h-1.2zM125.4 860.1h1.2v1.2h-1.2z" fill="#f08020"/><path d="M113.6 892.9h1.2v1.2h-1.2z" fill="#2030ea"/><path d="M173.5 860.0h1.2v1.2h-1.2zM90.3 885.4h1.2v1.2h-1.2z" fill="#3040f0"/><path d="M119.5 882.7h1.2v1.2h-1.2z" fill="#f08020"/><path d="M91.6 888.3h1.2v1.2h-1.2zM107.8 888.6h1.2v1.2h-1.2z" fill="#2030ea"/><path d="M115.5 886.0h1.2v1.2h-1.2z" fill="#3040f0"/><path d="M107.8 870.5h1.2v1.2h-1.2z" fill="#f09a38"/><path d="M102.8 892.9h1.2v1.2h-1.2z" fill="#2030ea"/><path d="M140.5 863.5h1.2v1.2h-1.2z" fill="#f09a38"/><path d="M149.9 886.8h1.2v1.2h-1.2z" fill="#3040f0"/><path d="M143.7 880.0h1.2v1.2h-1.2z" fill="#f08020"/><path d="M80.2 887.7h1.2v1.2h-1.2z" fill="#3040f0"/><path d="M106.4 883.2h1.2v1.2h-1.2zM169.3 859.5h1.2v1.2h-1.2z" fill="#f09a38"/><path d="M99.8 892.3h1.2v1.2h-1.2z" fill="#3040f0"/><path d="M125.1 883.6h1.2v1.2h-1.2z" fill="#f09a38"/><path d="M132.5 874.5h1.2v1.2h-1.2zM119.0 875.1h1.2v1.2h-1.2z" fill="#f08020"/><path d="M108.3 881.0h1.2v1.2h-1.2z" fill="#f09a38"/><path d="M99.5 872.7h1.2v1.2h-1.2z" fill="#3040f0"/><path d="M125.3 884.8h1.2v1.2h-1.2z" fill="#2030ea"/><path d="M138.3 857.5h1.2v1.2h-1.2zM80.6 891.3h1.2v1.2h-1.2z" fill="#3040f0"/><path d="M85.4 880.1h1.2v1.2h-1.2z" fill="#2030ea"/><path d="M125.1 892.5h1.2v1.2h-1.2zM108.6 881.7h1.2v1.2h-1.2zM129.7 889.0h1.2v1.2h-1.2z" fill="#3040f0"/><path d="M119.1 874.0h1.2v1.2h-1.2z" fill="#f08020"/><path d="M127.5 885.0h1.2v1.2h-1.2z" fill="#3040f0"/><path d="M126.9 873.4h1.2v1.2h-1.2z" fill="#f09a38"/><path d="M117.8 884.0h1.2v1.2h-1.2z" fill="#2030ea"/><path d="M100.4 885.6h1.2v1.2h-1.2z" fill="#f08020"/><path d="M83.1 883.6h1.2v1.2h-1.2zM96.2 893.5h1.2v1.2h-1.2zM102.5 890.7h1.2v1.2h-1.2z" fill="#3040f0"/><path d="M123.7 881.7h1.2v1.2h-1.2z" fill="#f08020"/><path d="M94.9 871.2h1.2v1.2h-1.2zM116.3 884.1h1.2v1.2h-1.2zM84.5 888.3h1.2v1.2h-1.2z" fill="#3040f0"/><path d="M131.9 872.1h1.2v1.2h-1.2zM127.1 865.5h1.2v1.2h-1.2z" fill="#f09a38"/><path d="M128.1 887.1h1.2v1.2h-1.2zM121.5 892.8h1.2v1.2h-1.2z" fill="#3040f0"/><path d="M88.4 888.9h1.2v1.2h-1.2z" fill="#2030ea"/><path d="M117.0 883.3h1.2v1.2h-1.2z" fill="#f08020"/><path d="M92.5 879.2h1.2v1.2h-1.2zM92.6 893.1h1.2v1.2h-1.2zM102.3 885.7h1.2v1.2h-1.2z" fill="#2030ea"/><path d="M92.9 891.9h1.2v1.2h-1.2z" fill="#3040f0"/><path d="M122.5 863.5h1.2v1.2h-1.2z" fill="#f08020"/><path d="M100.7 891.1h1.2v1.2h-1.2z" fill="#3040f0"/><path d="M113.4 880.3h1.2v1.2h-1.2z" fill="#2030ea"/><path d="M113.7 879.1h1.2v1.2h-1.2z" fill="#3040f0"/><path d="M99.3 879.9h1.2v1.2h-1.2z" fill="#f09a38"/><path d="M88.5 889.2h1.2v1.2h-1.2zM81.6 891.8h1.2v1.2h-1.2z" fill="#3040f0"/><path d="M119.6 882.0h1.2v1.2h-1.2z" fill="#f08020"/><path d="M116.2 884.2h1.2v1.2h-1.2z" fill="#f09a38"/><path d="M88.0 891.9h1.2v1.2h-1.2z" fill="#2030ea"/><path d="M80.3 887.8h1.2v1.2h-1.2z" fill="#3040f0"/><path d="M90.0 892.5h1.2v1.2h-1.2z" fill="#2030ea"/><path d="M110.9 879.1h1.2v1.2h-1.2z" fill="#3040f0"/><path d="M110.9 885.6h1.2v1.2h-1.2z" fill="#2030ea"/><path d="M99.3 889.6h1.2v1.2h-1.2z" fill="#3040f0"/><path d="M104.8 884.9h1.2v1.2h-1.2z" fill="#f09a38"/><path d="M105.3 865.5h1.2v1.2h-1.2z" fill="#3040f0"/><path d="M140.4 879.6h1.2v1.2h-1.2z" fill="#2030ea"/><path d="M83.7 889.1h1.2v1.2h-1.2zM113.5 883.3h1.2v1.2h-1.2z" fill="#3040f0"/><path d="M81.6 879.4h1.2v1.2h-1.2z" fill="#2030ea"/><path d="M103.3 886.1h1.2v1.2h-1.2z" fill="#3040f0"/><path d="M150.0 875.1h1.2v1.2h-1.2z" fill="#f09a38"/><path d="M142.8 882.2h1.2v1.2h-1.2z" fill="#2030ea"/><path d="M95.9 888.1h1.2v1.2h-1.2z" fill="#f09a38"/><path d="M130.3 876.4h1.2v1.2h-1.2zM85.6 891.6h1.2v1.2h-1.2z" fill="#f08020"/><path d="M82.9 888.7h1.2v1.2h-1.2z" fill="#2030ea"/><path d="M81.1 881.2h1.2v1.2h-1.2z" fill="#3040f0"/><path d="M89.3 885.8h1.2v1.2h-1.2z" fill="#2030ea"/><path d="M112.7 884.0h1.2v1.2h-1.2z" fill="#f08020"/><path d="M88.2 893.3h1.2v1.2h-1.2z" fill="#3040f0"/><path d="M119.2 878.4h1.2v1.2h-1.2z" fill="#2030ea"/><path d="M112.1 880.1h1.2v1.2h-1.2zM89.4 886.3h1.2v1.2h-1.2z" fill="#f09a38"/><path d="M134.4 871.5h1.2v1.2h-1.2z" fill="#3040f0"/><path d="M87.7 889.5h1.2v1.2h-1.2zM97.2 871.8h1.2v1.2h-1.2z" fill="#2030ea"/><path d="M109.9 879.6h1.2v1.2h-1.2z" fill="#f08020"/><path d="M81.1 886.3h1.2v1.2h-1.2z" fill="#2030ea"/><path d="M108.7 869.1h1.2v1.2h-1.2zM93.9 894.0h1.2v1.2h-1.2z" fill="#3040f0"/><path d="M82.6 886.1h1.2v1.2h-1.2zM128.9 886.9h1.2v1.2h-1.2z" fill="#2030ea"/><path d="M134.2 873.0h1.2v1.2h-1.2z" fill="#3040f0"/><path d="M117.2 881.7h1.2v1.2h-1.2z" fill="#f09a38"/><path d="M84.7 886.4h1.2v1.2h-1.2z" fill="#2030ea"/><path d="M88.6 889.8h1.2v1.2h-1.2z" fill="#3040f0"/><path d="M107.8 885.9h1.2v1.2h-1.2zM148.4 851.6h1.2v1.2h-1.2zM117.5 879.1h1.2v1.2h-1.2z" fill="#2030ea"/><path d="M143.5 877.0h1.2v1.2h-1.2z" fill="#f09a38"/><path d="M96.8 888.9h1.2v1.2h-1.2z" fill="#2030ea"/><path d="M115.9 886.0h1.2v1.2h-1.2z" fill="#f09a38"/><path d="M148.3 871.3h1.2v1.2h-1.2zM82.3 886.5h1.2v1.2h-1.2z" fill="#3040f0"/><path d="M95.9 876.0h1.2v1.2h-1.2z" fill="#2030ea"/><path d="M116.2 892.6h1.2v1.2h-1.2z" fill="#3040f0"/><path d="M116.8 860.2h1.2v1.2h-1.2z" fill="#f09a38"/><path d="M93.0 884.5h1.2v1.2h-1.2z" fill="#2030ea"/><path d="M97.3 881.8h1.2v1.2h-1.2z" fill="#3040f0"/><path d="M97.6 884.4h1.2v1.2h-1.2z" fill="#f08020"/><path d="M84.2 884.5h1.2v1.2h-1.2z" fill="#2030ea"/><path d="M104.8 870.5h1.2v1.2h-1.2z" fill="#f09a38"/><path d="M124.9 877.3h1.2v1.2h-1.2z" fill="#f08020"/><path d="M111.1 881.4h1.2v1.2h-1.2z" fill="#3040f0"/><path d="M110.2 878.7h1.2v1.2h-1.2z" fill="#f09a38"/><path d="M110.9 881.0h1.2v1.2h-1.2z" fill="#3040f0"/><path d="M114.4 886.8h1.2v1.2h-1.2z" fill="#2030ea"/><path d="M96.9 892.9h1.2v1.2h-1.2z" fill="#3040f0"/><path d="M133.4 870.6h1.2v1.2h-1.2z" fill="#f09a38"/><path d="M101.8 892.7h1.2v1.2h-1.2zM80.7 885.9h1.2v1.2h-1.2z" fill="#2030ea"/><path d="M125.3 874.1h1.2v1.2h-1.2z" fill="#f09a38"/><path d="M135.5 882.3h1.2v1.2h-1.2z" fill="#2030ea"/><path d="M134.6 881.1h1.2v1.2h-1.2z" fill="#f08020"/><path d="M102.1 887.9h1.2v1.2h-1.2z" fill="#3040f0"/><path d="M80.5 885.8h1.2v1.2h-1.2z" fill="#2030ea"/><path d="M131.1 880.5h1.2v1.2h-1.2z" fill="#f08020"/><path d="M99.3 883.4h1.2v1.2h-1.2z" fill="#3040f0"/><path d="M108.5 880.4h1.2v1.2h-1.2z" fill="#f09a38"/><path d="M152.1 877.7h1.2v1.2h-1.2z" fill="#f08020"/><path d="M102.6 880.5h1.2v1.2h-1.2z" fill="#3040f0"/><path d="M83.6 886.0h1.2v1.2h-1.2z" fill="#2030ea"/><path d="M81.4 890.6h1.2v1.2h-1.2z" fill="#3040f0"/><path d="M110.8 892.6h1.2v1.2h-1.2z" fill="#2030ea"/><path d="M134.9 880.7h1.2v1.2h-1.2z" fill="#f08020"/><path d="M111.9 884.5h1.2v1.2h-1.2zM92.4 880.6h1.2v1.2h-1.2z" fill="#3040f0"/><path d="M96.2 880.2h1.2v1.2h-1.2z" fill="#f08020"/><path d="M120.7 870.2h1.2v1.2h-1.2z" fill="#f09a38"/><path d="M113.6 886.9h1.2v1.2h-1.2z" fill="#3040f0"/><path d="M84.2 888.7h1.2v1.2h-1.2z" fill="#2030ea"/><path d="M115.2 877.1h1.2v1.2h-1.2z" fill="#f09a38"/><path d="M93.7 879.2h1.2v1.2h-1.2z" fill="#2030ea"/><path d="M112.7 879.3h1.2v1.2h-1.2z" fill="#f09a38"/><path d="M111.1 883.6h1.2v1.2h-1.2z" fill="#2030ea"/><path d="M124.7 882.1h1.2v1.2h-1.2z" fill="#f08020"/><path d="M96.8 883.3h1.2v1.2h-1.2z" fill="#3040f0"/><path d="M116.7 878.6h1.2v1.2h-1.2zM97.3 886.3h1.2v1.2h-1.2z" fill="#f09a38"/><path d="M136.2 865.6h1.2v1.2h-1.2z" fill="#2030ea"/><path d="M84.8 872.0h1.2v1.2h-1.2z" fill="#3040f0"/><path d="M113.6 881.3h1.2v1.2h-1.2z" fill="#f08020"/><path d="M86.9 883.5h1.2v1.2h-1.2z" fill="#2030ea"/><path d="M122.8 880.9h1.2v1.2h-1.2z" fill="#f08020"/><path d="M90.6 889.8h1.2v1.2h-1.2z" fill="#3040f0"/><path d="M125.3 880.5h1.2v1.2h-1.2z" fill="#f08020"/><path d="M118.3 860.4h1.2v1.2h-1.2z" fill="#3040f0"/><path d="M94.2 886.4h1.2v1.2h-1.2zM112.1 888.0h1.2v1.2h-1.2z" fill="#f08020"/><path d="M137.4 879.1h1.2v1.2h-1.2z" fill="#f09a38"/><path d="M136.2 882.2h1.2v1.2h-1.2zM110.3 884.9h1.2v1.2h-1.2z" fill="#f08020"/><path d="M79.9 885.8h1.2v1.2h-1.2z" fill="#3040f0"/><path d="M115.3 879.1h1.2v1.2h-1.2z" fill="#f08020"/><path d="M88.2 889.3h1.2v1.2h-1.2z" fill="#3040f0"/><path d="M93.6 884.4h1.2v1.2h-1.2z" fill="#2030ea"/><path d="M114.4 878.9h1.2v1.2h-1.2z" fill="#f08020"/><path d="M124.4 875.9h1.2v1.2h-1.2z" fill="#f09a38"/><path d="M121.0 878.8h1.2v1.2h-1.2z" fill="#3040f0"/><path d="M83.4 890.9h1.2v1.2h-1.2z" fill="#2030ea"/><path d="M92.0 889.1h1.2v1.2h-1.2zM128.6 879.5h1.2v1.2h-1.2z" fill="#3040f0"/><path d="M112.2 881.3h1.2v1.2h-1.2zM99.2 871.2h1.2v1.2h-1.2zM138.3 873.5h1.2v1.2h-1.2z" fill="#f09a38"/><path d="M106.9 881.2h1.2v1.2h-1.2zM106.3 890.5h1.2v1.2h-1.2zM128.1 883.0h1.2v1.2h-1.2zM137.9 875.4h1.2v1.2h-1.2z" fill="#2030ea"/><path d="M96.1 892.5h1.2v1.2h-1.2z" fill="#3040f0"/><path d="M126.8 890.6h1.2v1.2h-1.2zM115.7 854.9h1.2v1.2h-1.2z" fill="#2030ea"/><path d="M84.3 882.7h1.2v1.2h-1.2z" fill="#3040f0"/><path d="M81.6 887.5h1.2v1.2h-1.2z" fill="#f08020"/><path d="M135.5 876.6h1.2v1.2h-1.2z" fill="#f09a38"/><path d="M110.5 859.1h1.2v1.2h-1.2zM83.0 880.7h1.2v1.2h-1.2z" fill="#f08020"/><path d="M106.8 888.3h1.2v1.2h-1.2zM120.6 873.5h1.2v1.2h-1.2z" fill="#f09a38"/><path d="M105.4 878.2h1.2v1.2h-1.2zM83.9 881.9h1.2v1.2h-1.2z" fill="#2030ea"/><path d="M121.7 888.9h1.2v1.2h-1.2z" fill="#3040f0"/><path d="M110.1 884.7h1.2v1.2h-1.2zM99.2 891.5h1.2v1.2h-1.2z" fill="#2030ea"/><path d="M83.1 884.6h1.2v1.2h-1.2z" fill="#3040f0"/><path d="M108.1 876.3h1.2v1.2h-1.2z" fill="#2030ea"/><path d="M99.6 887.9h1.2v1.2h-1.2zM103.9 890.8h1.2v1.2h-1.2zM108.7 878.2h1.2v1.2h-1.2zM97.4 876.2h1.2v1.2h-1.2z" fill="#3040f0"/><path d="M106.9 885.0h1.2v1.2h-1.2z" fill="#f09a38"/><path d="M83.3 890.3h1.2v1.2h-1.2z" fill="#3040f0"/><path d="M111.3 877.4h1.2v1.2h-1.2z" fill="#f09a38"/><path d="M110.0 879.3h1.2v1.2h-1.2z" fill="#f08020"/><path d="M93.4 884.4h1.2v1.2h-1.2z" fill="#2030ea"/><path d="M106.5 879.3h1.2v1.2h-1.2zM99.7 883.7h1.2v1.2h-1.2z" fill="#f08020"/><path d="M102.6 876.6h1.2v1.2h-1.2zM80.3 891.0h1.2v1.2h-1.2z" fill="#3040f0"/><path d="M103.4 869.3h1.2v1.2h-1.2z" fill="#f08020"/><path d="M112.5 889.0h1.2v1.2h-1.2z" fill="#3040f0"/><path d="M81.3 887.3h1.2v1.2h-1.2z" fill="#2030ea"/><path d="M126.7 858.7h1.2v1.2h-1.2z" fill="#f08020"/><path d="M85.1 891.8h1.2v1.2h-1.2z" fill="#2030ea"/><path d="M122.7 885.5h1.2v1.2h-1.2z" fill="#f09a38"/><path d="M105.4 886.8h1.2v1.2h-1.2z" fill="#3040f0"/><path d="M89.1 879.5h1.2v1.2h-1.2zM97.5 875.1h1.2v1.2h-1.2z" fill="#2030ea"/><path d="M120.0 876.7h1.2v1.2h-1.2z" fill="#f09a38"/><path d="M96.2 880.4h1.2v1.2h-1.2z" fill="#3040f0"/><path d="M139.0 872.5h1.2v1.2h-1.2z" fill="#2030ea"/><path d="M122.8 875.1h1.2v1.2h-1.2z" fill="#f08020"/><path d="M94.4 871.6h1.2v1.2h-1.2z" fill="#3040f0"/><path d="M116.7 891.4h1.2v1.2h-1.2z" fill="#2030ea"/><path d="M104.9 889.1h1.2v1.2h-1.2zM109.8 888.6h1.2v1.2h-1.2z" fill="#3040f0"/><path d="M119.3 887.2h1.2v1.2h-1.2zM128.6 878.9h1.2v1.2h-1.2z" fill="#f08020"/><path d="M112.5 890.1h1.2v1.2h-1.2zM100.2 882.9h1.2v1.2h-1.2z" fill="#3040f0"/><path d="M87.4 891.8h1.2v1.2h-1.2zM93.3 891.0h1.2v1.2h-1.2z" fill="#2030ea"/><path d="M100.4 887.8h1.2v1.2h-1.2z" fill="#3040f0"/><path d="M103.1 873.0h1.2v1.2h-1.2z" fill="#f08020"/><path d="M101.6 886.8h1.2v1.2h-1.2z" fill="#3040f0"/><path d="M82.6 889.3h1.2v1.2h-1.2zM103.6 889.6h1.2v1.2h-1.2zM106.0 892.2h1.2v1.2h-1.2zM103.3 882.9h1.2v1.2h-1.2z" fill="#2030ea"/><path d="M123.6 881.5h1.2v1.2h-1.2z" fill="#f09a38"/><path d="M95.6 885.9h1.2v1.2h-1.2z" fill="#3040f0"/><path d="M112.9 872.1h1.2v1.2h-1.2zM96.9 885.5h1.2v1.2h-1.2z" fill="#2030ea"/><path d="M82.7 886.8h1.2v1.2h-1.2z" fill="#3040f0"/><path d="M124.5 874.5h1.2v1.2h-1.2z" fill="#f08020"/><path d="M85.2 888.4h1.2v1.2h-1.2z" fill="#2030ea"/><path d="M82.9 892.7h1.2v1.2h-1.2z" fill="#3040f0"/><path d="M141.1 882.6h1.2v1.2h-1.2z" fill="#f09a38"/><path d="M95.8 891.0h1.2v1.2h-1.2z" fill="#3040f0"/><path d="M108.5 875.8h1.2v1.2h-1.2zM124.1 882.2h1.2v1.2h-1.2z" fill="#f08020"/><path d="M82.6 890.8h1.2v1.2h-1.2zM118.6 890.4h1.2v1.2h-1.2z" fill="#2030ea"/><path d="M125.1 866.3h1.2v1.2h-1.2z" fill="#f09a38"/><path d="M84.5 892.5h1.2v1.2h-1.2zM109.7 891.7h1.2v1.2h-1.2zM83.1 891.8h1.2v1.2h-1.2z" fill="#2030ea"/><path d="M104.9 882.3h1.2v1.2h-1.2z" fill="#f08020"/><path d="M110.9 889.6h1.2v1.2h-1.2zM83.3 890.4h1.2v1.2h-1.2z" fill="#2030ea"/><path d="M101.0 888.0h1.2v1.2h-1.2z" fill="#3040f0"/><path d="M80.3 892.5h1.2v1.2h-1.2zM166.4 863.7h1.2v1.2h-1.2z" fill="#2030ea"/><path d="M93.1 891.1h1.2v1.2h-1.2zM79.9 892.4h1.2v1.2h-1.2zM109.0 884.1h1.2v1.2h-1.2zM143.1 882.2h1.2v1.2h-1.2zM93.7 890.0h1.2v1.2h-1.2z" fill="#3040f0"/><path d="M117.7 878.6h1.2v1.2h-1.2z" fill="#f08020"/><path d="M92.7 882.9h1.2v1.2h-1.2z" fill="#3040f0"/><path d="M112.0 875.1h1.2v1.2h-1.2z" fill="#f09a38"/><path d="M87.2 884.0h1.2v1.2h-1.2z" fill="#3040f0"/><path d="M123.5 874.7h1.2v1.2h-1.2z" fill="#f08020"/><path d="M106.9 891.6h1.2v1.2h-1.2z" fill="#3040f0"/><path d="M122.6 879.0h1.2v1.2h-1.2z" fill="#f08020"/><path d="M90.2 889.1h1.2v1.2h-1.2z" fill="#f09a38"/><path d="M82.9 889.4h1.2v1.2h-1.2z" fill="#3040f0"/><path d="M120.5 884.5h1.2v1.2h-1.2z" fill="#f08020"/><path d="M86.8 884.3h1.2v1.2h-1.2z" fill="#3040f0"/><path d="M118.0 875.9h1.2v1.2h-1.2z" fill="#f08020"/><path d="M94.0 886.6h1.2v1.2h-1.2z" fill="#3040f0"/><path d="M98.9 873.6h1.2v1.2h-1.2z" fill="#2030ea"/><path d="M107.0 878.5h1.2v1.2h-1.2zM135.1 881.3h1.2v1.2h-1.2z" fill="#f09a38"/><path d="M115.2 877.4h1.2v1.2h-1.2z" fill="#f08020"/><path d="M86.0 890.8h1.2v1.2h-1.2z" fill="#2030ea"/><path d="M94.8 884.5h1.2v1.2h-1.2z" fill="#3040f0"/><path d="M82.7 888.6h1.2v1.2h-1.2zM149.8 885.8h1.2v1.2h-1.2z" fill="#2030ea"/><path d="M124.4 870.8h1.2v1.2h-1.2zM118.0 878.8h1.2v1.2h-1.2z" fill="#f09a38"/><path d="M106.4 874.6h1.2v1.2h-1.2z" fill="#3040f0"/><path d="M90.5 889.2h1.2v1.2h-1.2z" fill="#2030ea"/><path d="M180.9 862.2h1.2v1.2h-1.2z" fill="#f08020"/><path d="M94.0 891.0h1.2v1.2h-1.2z" fill="#3040f0"/><path d="M121.1 873.5h1.2v1.2h-1.2z" fill="#f08020"/><path d="M79.7 890.8h1.2v1.2h-1.2z" fill="#3040f0"/><path d="M98.9 877.6h1.2v1.2h-1.2z" fill="#f09a38"/><path d="M118.3 880.1h1.2v1.2h-1.2z" fill="#f08020"/><path d="M106.8 860.6h1.2v1.2h-1.2z" fill="#3040f0"/><path d="M92.7 893.2h1.2v1.2h-1.2zM83.4 886.1h1.2v1.2h-1.2z" fill="#2030ea"/><path d="M101.1 890.4h1.2v1.2h-1.2z" fill="#3040f0"/><path d="M126.5 872.3h1.2v1.2h-1.2zM109.1 891.3h1.2v1.2h-1.2z" fill="#f08020"/><path d="M114.0 887.8h1.2v1.2h-1.2z" fill="#3040f0"/><path d="M96.3 887.9h1.2v1.2h-1.2z" fill="#2030ea"/><path d="M128.6 878.5h1.2v1.2h-1.2zM116.5 882.8h1.2v1.2h-1.2z" fill="#f09a38"/><path d="M129.6 865.6h1.2v1.2h-1.2z" fill="#f08020"/><path d="M107.4 889.4h1.2v1.2h-1.2z" fill="#3040f0"/><path d="M96.9 879.6h1.2v1.2h-1.2z" fill="#f08020"/><path d="M82.0 886.6h1.2v1.2h-1.2zM87.0 885.2h1.2v1.2h-1.2zM141.4 893.0h1.2v1.2h-1.2z" fill="#2030ea"/><path d="M79.6 881.0h1.2v1.2h-1.2z" fill="#3040f0"/><path d="M96.7 877.3h1.2v1.2h-1.2z" fill="#2030ea"/><path d="M121.7 887.4h1.2v1.2h-1.2zM153.1 855.9h1.2v1.2h-1.2z" fill="#3040f0"/><path d="M127.4 875.3h1.2v1.2h-1.2z" fill="#f08020"/><path d="M102.0 881.7h1.2v1.2h-1.2zM116.9 873.3h1.2v1.2h-1.2zM152.2 873.6h1.2v1.2h-1.2z" fill="#f09a38"/><path d="M85.7 888.5h1.2v1.2h-1.2z" fill="#2030ea"/><path d="M85.7 891.7h1.2v1.2h-1.2z" fill="#3040f0"/><path d="M92.0 885.6h1.2v1.2h-1.2z" fill="#2030ea"/><path d="M89.3 891.5h1.2v1.2h-1.2z" fill="#3040f0"/><path d="M114.9 868.6h1.2v1.2h-1.2z" fill="#f09a38"/><path d="M99.6 880.3h1.2v1.2h-1.2z" fill="#3040f0"/><path d="M124.8 889.3h1.2v1.2h-1.2zM93.3 873.7h1.2v1.2h-1.2z" fill="#2030ea"/><path d="M121.5 888.4h1.2v1.2h-1.2z" fill="#3040f0"/><path d="M113.5 886.1h1.2v1.2h-1.2z" fill="#2030ea"/><path d="M88.7 892.3h1.2v1.2h-1.2z" fill="#3040f0"/><path d="M114.1 887.9h1.2v1.2h-1.2zM80.1 892.1h1.2v1.2h-1.2zM102.6 891.1h1.2v1.2h-1.2z" fill="#2030ea"/><path d="M91.0 883.0h1.2v1.2h-1.2z" fill="#3040f0"/><path d="M116.0 887.4h1.2v1.2h-1.2z" fill="#f08020"/><path d="M111.2 875.9h1.2v1.2h-1.2z" fill="#f09a38"/><path d="M125.1 891.8h1.2v1.2h-1.2z" fill="#2030ea"/><path d="M80.5 884.3h1.2v1.2h-1.2z" fill="#3040f0"/><path d="M88.2 889.7h1.2v1.2h-1.2z" fill="#2030ea"/><path d="M79.7 892.7h1.2v1.2h-1.2z" fill="#3040f0"/><path d="M96.7 870.0h1.2v1.2h-1.2z" fill="#2030ea"/><path d="M122.0 876.4h1.2v1.2h-1.2z" fill="#f08020"/><path d="M104.1 886.1h1.2v1.2h-1.2z" fill="#3040f0"/><path d="M102.8 887.3h1.2v1.2h-1.2zM88.8 882.6h1.2v1.2h-1.2zM101.0 887.3h1.2v1.2h-1.2zM93.2 892.0h1.2v1.2h-1.2zM93.6 893.3h1.2v1.2h-1.2zM119.1 874.8h1.2v1.2h-1.2z" fill="#2030ea"/><path d="M123.8 881.9h1.2v1.2h-1.2z" fill="#f09a38"/><path d="M108.7 876.9h1.2v1.2h-1.2z" fill="#f08020"/><path d="M98.3 882.2h1.2v1.2h-1.2z" fill="#3040f0"/><path d="M107.8 890.9h1.2v1.2h-1.2zM87.7 891.4h1.2v1.2h-1.2zM134.8 882.3h1.2v1.2h-1.2z" fill="#2030ea"/><path d="M87.4 890.3h1.2v1.2h-1.2z" fill="#3040f0"/><path d="M145.1 866.5h1.2v1.2h-1.2z" fill="#f09a38"/><path d="M116.3 879.3h1.2v1.2h-1.2z" fill="#f08020"/><path d="M152.6 862.8h1.2v1.2h-1.2z" fill="#f09a38"/><path d="M79.9 885.7h1.2v1.2h-1.2z" fill="#3040f0"/><path d="M143.1 864.7h1.2v1.2h-1.2z" fill="#f08020"/><path d="M133.6 875.9h1.2v1.2h-1.2zM96.9 886.4h1.2v1.2h-1.2z" fill="#f09a38"/><path d="M83.8 891.0h1.2v1.2h-1.2zM121.7 888.6h1.2v1.2h-1.2z" fill="#2030ea"/><path d="M115.7 872.5h1.2v1.2h-1.2z" fill="#f08020"/><path d="M87.4 884.4h1.2v1.2h-1.2zM137.0 878.4h1.2v1.2h-1.2z" fill="#3040f0"/><path d="M110.1 879.2h1.2v1.2h-1.2z" fill="#f08020"/><path d="M123.2 880.7h1.2v1.2h-1.2zM117.3 871.4h1.2v1.2h-1.2z" fill="#f09a38"/><path d="M98.7 878.9h1.2v1.2h-1.2z" fill="#3040f0"/><path d="M115.2 873.5h1.2v1.2h-1.2zM125.2 865.9h1.2v1.2h-1.2z" fill="#f09a38"/><path d="M130.6 874.8h1.2v1.2h-1.2zM118.9 878.3h1.2v1.2h-1.2zM111.7 885.6h1.2v1.2h-1.2z" fill="#f08020"/><path d="M85.5 888.3h1.2v1.2h-1.2zM106.7 875.6h1.2v1.2h-1.2z" fill="#2030ea"/><path d="M97.1 883.2h1.2v1.2h-1.2z" fill="#3040f0"/><path d="M117.7 885.5h1.2v1.2h-1.2zM139.8 887.5h1.2v1.2h-1.2z" fill="#2030ea"/><path d="M120.1 876.6h1.2v1.2h-1.2zM140.7 863.7h1.2v1.2h-1.2z" fill="#f08020"/><path d="M90.7 880.8h1.2v1.2h-1.2z" fill="#f09a38"/><path d="M115.0 880.1h1.2v1.2h-1.2zM112.7 889.0h1.2v1.2h-1.2zM89.2 881.7h1.2v1.2h-1.2z" fill="#f08020"/><path d="M97.0 883.4h1.2v1.2h-1.2zM97.3 883.5h1.2v1.2h-1.2zM86.3 890.4h1.2v1.2h-1.2z" fill="#3040f0"/><path d="M100.9 873.5h1.2v1.2h-1.2zM83.0 877.5h1.2v1.2h-1.2zM149.8 872.0h1.2v1.2h-1.2zM96.2 892.6h1.2v1.2h-1.2zM97.9 886.9h1.2v1.2h-1.2z" fill="#2030ea"/><path d="M82.3 889.5h1.2v1.2h-1.2z" fill="#3040f0"/><path d="M121.9 865.1h1.2v1.2h-1.2z" fill="#f09a38"/><path d="M87.3 893.4h1.2v1.2h-1.2zM117.9 860.8h1.2v1.2h-1.2z" fill="#3040f0"/><path d="M92.5 880.3h1.2v1.2h-1.2z" fill="#2030ea"/><path d="M121.6 874.9h1.2v1.2h-1.2z" fill="#f09a38"/><path d="M96.4 887.9h1.2v1.2h-1.2z" fill="#3040f0"/><path d="M88.0 886.9h1.2v1.2h-1.2z" fill="#f09a38"/><path d="M100.5 872.7h1.2v1.2h-1.2zM121.9 879.5h1.2v1.2h-1.2zM125.8 881.9h1.2v1.2h-1.2z" fill="#f08020"/><path d="M125.9 885.9h1.2v1.2h-1.2z" fill="#f09a38"/><path d="M97.5 888.4h1.2v1.2h-1.2z" fill="#f08020"/><path d="M98.1 892.4h1.2v1.2h-1.2zM115.5 887.1h1.2v1.2h-1.2z" fill="#2030ea"/><path d="M123.5 884.1h1.2v1.2h-1.2zM122.8 883.3h1.2v1.2h-1.2z" fill="#f08020"/><path d="M92.5 874.1h1.2v1.2h-1.2zM118.7 876.5h1.2v1.2h-1.2z" fill="#2030ea"/><path d="M97.8 892.5h1.2v1.2h-1.2z" fill="#f09a38"/><path d="M111.5 878.8h1.2v1.2h-1.2z" fill="#f08020"/><path d="M134.1 853.5h1.2v1.2h-1.2z" fill="#f09a38"/><path d="M98.5 879.7h1.2v1.2h-1.2z" fill="#2030ea"/><path d="M108.5 893.0h1.2v1.2h-1.2z" fill="#3040f0"/><path d="M140.2 869.2h1.2v1.2h-1.2z" fill="#2030ea"/><path d="M97.5 892.6h1.2v1.2h-1.2z" fill="#3040f0"/><path d="M139.8 873.5h1.2v1.2h-1.2z" fill="#f09a38"/><path d="M86.2 893.0h1.2v1.2h-1.2zM105.2 871.3h1.2v1.2h-1.2z" fill="#2030ea"/><path d="M92.1 888.4h1.2v1.2h-1.2z" fill="#f08020"/><path d="M91.7 884.5h1.2v1.2h-1.2zM112.3 886.2h1.2v1.2h-1.2zM84.3 880.7h1.2v1.2h-1.2zM88.6 885.1h1.2v1.2h-1.2zM130.8 884.4h1.2v1.2h-1.2z" fill="#3040f0"/><path d="M91.8 892.7h1.2v1.2h-1.2z" fill="#2030ea"/><path d="M135.7 856.8h1.2v1.2h-1.2z" fill="#f08020"/><path d="M96.3 884.3h1.2v1.2h-1.2z" fill="#f09a38"/><path d="M102.3 877.4h1.2v1.2h-1.2zM125.2 889.9h1.2v1.2h-1.2zM127.5 879.9h1.2v1.2h-1.2z" fill="#2030ea"/><path d="M126.0 868.7h1.2v1.2h-1.2zM86.6 880.5h1.2v1.2h-1.2z" fill="#f08020"/><path d="M87.2 888.3h1.2v1.2h-1.2z" fill="#2030ea"/><path d="M115.1 882.0h1.2v1.2h-1.2zM129.0 876.0h1.2v1.2h-1.2z" fill="#f09a38"/><path d="M97.9 893.7h1.2v1.2h-1.2z" fill="#3040f0"/><path d="M88.4 886.1h1.2v1.2h-1.2zM120.6 863.5h1.2v1.2h-1.2z" fill="#f09a38"/><path d="M112.3 881.3h1.2v1.2h-1.2z" fill="#f08020"/><path d="M120.8 893.4h1.2v1.2h-1.2z" fill="#3040f0"/><path d="M95.8 884.6h1.2v1.2h-1.2z" fill="#f09a38"/><path d="M126.9 889.3h1.2v1.2h-1.2z" fill="#2030ea"/><path d="M132.1 891.0h1.2v1.2h-1.2z" fill="#3040f0"/><path d="M124.7 887.1h1.2v1.2h-1.2z" fill="#f08020"/><path d="M84.7 887.5h1.2v1.2h-1.2zM99.4 878.4h1.2v1.2h-1.2zM92.4 893.8h1.2v1.2h-1.2zM98.7 886.0h1.2v1.2h-1.2z" fill="#3040f0"/><path d="M113.8 879.3h1.2v1.2h-1.2z" fill="#2030ea"/><path d="M115.5 883.7h1.2v1.2h-1.2z" fill="#f08020"/><path d="M82.8 888.1h1.2v1.2h-1.2z" fill="#3040f0"/><path d="M115.6 878.7h1.2v1.2h-1.2z" fill="#f09a38"/><path d="M111.0 863.4h1.2v1.2h-1.2z" fill="#f08020"/><path d="M91.4 859.7h1.2v1.2h-1.2z" fill="#f09a38"/><path d="M93.2 892.1h1.2v1.2h-1.2z" fill="#3040f0"/><path d="M89.5 889.8h1.2v1.2h-1.2zM123.4 878.3h1.2v1.2h-1.2z" fill="#2030ea"/><path d="M95.1 884.1h1.2v1.2h-1.2z" fill="#f08020"/><path d="M95.3 883.6h1.2v1.2h-1.2z" fill="#3040f0"/><path d="M81.1 880.8h1.2v1.2h-1.2z" fill="#2030ea"/><path d="M98.7 890.2h1.2v1.2h-1.2z" fill="#f08020"/><path d="M101.7 892.8h1.2v1.2h-1.2z" fill="#3040f0"/><path d="M116.8 886.9h1.2v1.2h-1.2zM81.6 886.1h1.2v1.2h-1.2zM96.4 887.0h1.2v1.2h-1.2zM91.6 889.9h1.2v1.2h-1.2z" fill="#2030ea"/><path d="M92.9 886.6h1.2v1.2h-1.2z" fill="#3040f0"/><path d="M98.8 881.4h1.2v1.2h-1.2zM107.7 888.1h1.2v1.2h-1.2z" fill="#f09a38"/><path d="M102.0 888.3h1.2v1.2h-1.2z" fill="#2030ea"/><path d="M119.9 875.5h1.2v1.2h-1.2z" fill="#f09a38"/><path d="M95.1 874.0h1.2v1.2h-1.2z" fill="#f08020"/><path d="M101.1 885.1h1.2v1.2h-1.2zM84.7 893.3h1.2v1.2h-1.2zM91.5 891.2h1.2v1.2h-1.2z" fill="#3040f0"/><path d="M107.4 888.6h1.2v1.2h-1.2zM92.9 892.2h1.2v1.2h-1.2zM82.5 890.3h1.2v1.2h-1.2zM94.0 882.4h1.2v1.2h-1.2zM146.5 890.4h1.2v1.2h-1.2z" fill="#2030ea"/><path d="M131.6 880.3h1.2v1.2h-1.2z" fill="#f08020"/><path d="M95.6 892.6h1.2v1.2h-1.2z" fill="#2030ea"/><path d="M128.2 878.7h1.2v1.2h-1.2zM127.6 881.1h1.2v1.2h-1.2z" fill="#f08020"/><path d="M127.9 882.5h1.2v1.2h-1.2zM112.5 885.7h1.2v1.2h-1.2zM100.6 886.5h1.2v1.2h-1.2zM89.1 891.4h1.2v1.2h-1.2z" fill="#3040f0"/><path d="M101.8 877.4h1.2v1.2h-1.2z" fill="#f09a38"/><path d="M136.1 885.5h1.2v1.2h-1.2z" fill="#3040f0"/><path d="M110.6 881.8h1.2v1.2h-1.2z" fill="#f09a38"/><path d="M90.2 879.9h1.2v1.2h-1.2z" fill="#2030ea"/><path d="M146.1 882.0h1.2v1.2h-1.2zM127.2 891.5h1.2v1.2h-1.2z" fill="#3040f0"/><path d="M93.8 871.1h1.2v1.2h-1.2z" fill="#f08020"/><path d="M87.6 889.4h1.2v1.2h-1.2zM79.9 889.3h1.2v1.2h-1.2z" fill="#3040f0"/><path d="M118.5 887.5h1.2v1.2h-1.2z" fill="#2030ea"/><path d="M80.6 880.8h1.2v1.2h-1.2z" fill="#3040f0"/><path d="M143.5 868.4h1.2v1.2h-1.2z" fill="#f09a38"/><path d="M130.3 891.6h1.2v1.2h-1.2zM80.8 883.4h1.2v1.2h-1.2zM88.8 888.9h1.2v1.2h-1.2zM80.5 888.4h1.2v1.2h-1.2z" fill="#3040f0"/><path d="M89.7 890.0h1.2v1.2h-1.2zM87.9 888.5h1.2v1.2h-1.2zM89.1 890.0h1.2v1.2h-1.2zM111.1 889.4h1.2v1.2h-1.2z" fill="#2030ea"/><path d="M126.9 876.5h1.2v1.2h-1.2zM82.9 880.3h1.2v1.2h-1.2z" fill="#3040f0"/><path d="M93.8 892.6h1.2v1.2h-1.2z" fill="#2030ea"/><path d="M126.5 877.3h1.2v1.2h-1.2z" fill="#f09a38"/><path d="M161.2 872.2h1.2v1.2h-1.2z" fill="#2030ea"/><path d="M136.2 880.2h1.2v1.2h-1.2z" fill="#f09a38"/><path d="M81.4 888.2h1.2v1.2h-1.2z" fill="#3040f0"/><path d="M88.0 891.1h1.2v1.2h-1.2zM123.0 892.5h1.2v1.2h-1.2z" fill="#2030ea"/><path d="M114.8 867.0h1.2v1.2h-1.2z" fill="#f09a38"/><path d="M89.1 891.1h1.2v1.2h-1.2z" fill="#2030ea"/><path d="M84.1 890.5h1.2v1.2h-1.2z" fill="#3040f0"/><path d="M115.4 868.8h1.2v1.2h-1.2z" fill="#f08020"/><path d="M92.1 886.8h1.2v1.2h-1.2z" fill="#3040f0"/><path d="M122.9 881.5h1.2v1.2h-1.2z" fill="#f09a38"/><path d="M93.2 885.7h1.2v1.2h-1.2zM138.2 890.1h1.2v1.2h-1.2z" fill="#2030ea"/><path d="M109.2 877.5h1.2v1.2h-1.2zM115.1 887.4h1.2v1.2h-1.2z" fill="#3040f0"/><path d="M95.9 886.3h1.2v1.2h-1.2z" fill="#f08020"/><path d="M126.2 884.3h1.2v1.2h-1.2z" fill="#f09a38"/><path d="M116.8 891.9h1.2v1.2h-1.2zM83.2 886.8h1.2v1.2h-1.2z" fill="#3040f0"/><path d="M119.9 883.6h1.2v1.2h-1.2z" fill="#f09a38"/><path d="M127.6 881.7h1.2v1.2h-1.2z" fill="#f08020"/><path d="M83.9 890.4h1.2v1.2h-1.2z" fill="#3040f0"/><path d="M142.5 878.5h1.2v1.2h-1.2z" fill="#f09a38"/><path d="M79.9 890.1h1.2v1.2h-1.2zM83.1 890.5h1.2v1.2h-1.2z" fill="#2030ea"/><path d="M107.0 887.2h1.2v1.2h-1.2z" fill="#f08020"/><path d="M96.2 889.1h1.2v1.2h-1.2z" fill="#3040f0"/><path d="M116.5 887.4h1.2v1.2h-1.2z" fill="#f09a38"/><path d="M129.4 888.7h1.2v1.2h-1.2z" fill="#3040f0"/><path d="M123.7 882.2h1.2v1.2h-1.2z" fill="#f09a38"/><path d="M80.3 877.3h1.2v1.2h-1.2zM79.8 892.8h1.2v1.2h-1.2z" fill="#3040f0"/><path d="M91.2 888.3h1.2v1.2h-1.2zM150.6 874.3h1.2v1.2h-1.2zM102.8 879.7h1.2v1.2h-1.2zM87.8 888.6h1.2v1.2h-1.2z" fill="#2030ea"/><path d="M103.7 880.5h1.2v1.2h-1.2z" fill="#3040f0"/><path d="M121.9 883.6h1.2v1.2h-1.2z" fill="#f08020"/><path d="M114.1 885.6h1.2v1.2h-1.2zM85.5 891.1h1.2v1.2h-1.2z" fill="#2030ea"/><path d="M116.2 879.4h1.2v1.2h-1.2zM131.5 872.6h1.2v1.2h-1.2z" fill="#f09a38"/><path d="M111.5 881.7h1.2v1.2h-1.2z" fill="#f08020"/><path d="M89.4 887.5h1.2v1.2h-1.2z" fill="#2030ea"/><path d="M106.4 885.3h1.2v1.2h-1.2z" fill="#3040f0"/><path d="M98.3 881.1h1.2v1.2h-1.2z" fill="#f08020"/><path d="M87.0 890.7h1.2v1.2h-1.2z" fill="#3040f0"/><path d="M82.4 890.6h1.2v1.2h-1.2z" fill="#2030ea"/><path d="M142.5 859.2h1.2v1.2h-1.2z" fill="#f08020"/><path d="M99.3 886.7h1.2v1.2h-1.2z" fill="#f09a38"/><path d="M96.4 880.3h1.2v1.2h-1.2zM127.6 880.3h1.2v1.2h-1.2zM125.6 880.9h1.2v1.2h-1.2z" fill="#f08020"/><path d="M79.9 888.7h1.2v1.2h-1.2z" fill="#3040f0"/><path d="M136.9 872.9h1.2v1.2h-1.2z" fill="#2030ea"/><path d="M150.8 872.8h1.2v1.2h-1.2z" fill="#f09a38"/><path d="M83.9 886.9h1.2v1.2h-1.2z" fill="#2030ea"/><path d="M121.5 880.7h1.2v1.2h-1.2z" fill="#f09a38"/><path d="M82.3 889.5h1.2v1.2h-1.2zM96.3 881.5h1.2v1.2h-1.2z" fill="#2030ea"/><path d="M93.3 886.4h1.2v1.2h-1.2z" fill="#f09a38"/><path d="M105.9 875.4h1.2v1.2h-1.2z" fill="#f08020"/><path d="M83.3 890.4h1.2v1.2h-1.2z" fill="#3040f0"/><path d="M84.7 890.7h1.2v1.2h-1.2zM111.4 883.8h1.2v1.2h-1.2zM111.5 876.4h1.2v1.2h-1.2zM94.9 877.8h1.2v1.2h-1.2z" fill="#2030ea"/><path d="M102.4 879.4h1.2v1.2h-1.2zM114.1 881.4h1.2v1.2h-1.2z" fill="#f09a38"/><path d="M90.5 890.2h1.2v1.2h-1.2z" fill="#3040f0"/><path d="M117.7 870.0h1.2v1.2h-1.2z" fill="#f08020"/><path d="M82.1 887.2h1.2v1.2h-1.2z" fill="#2030ea"/><path d="M97.8 887.7h1.2v1.2h-1.2z" fill="#3040f0"/><path d="M116.1 892.6h1.2v1.2h-1.2zM110.5 877.5h1.2v1.2h-1.2z" fill="#2030ea"/><path d="M111.3 874.4h1.2v1.2h-1.2z" fill="#f08020"/><path d="M85.6 889.5h1.2v1.2h-1.2z" fill="#2030ea"/><path d="M113.6 882.3h1.2v1.2h-1.2zM118.8 873.4h1.2v1.2h-1.2z" fill="#f08020"/><path d="M103.7 881.8h1.2v1.2h-1.2z" fill="#3040f0"/><path d="M116.7 893.9h1.2v1.2h-1.2z" fill="#2030ea"/><path d="M121.0 881.4h1.2v1.2h-1.2z" fill="#f09a38"/><path d="M126.0 868.9h1.2v1.2h-1.2z" fill="#2030ea"/><path d="M118.5 875.2h1.2v1.2h-1.2zM104.6 872.7h1.2v1.2h-1.2z" fill="#3040f0"/><path d="M113.2 869.7h1.2v1.2h-1.2z" fill="#f09a38"/><path d="M83.3 886.0h1.2v1.2h-1.2z" fill="#2030ea"/><path d="M130.2 881.5h1.2v1.2h-1.2z" fill="#f08020"/><path d="M101.8 890.9h1.2v1.2h-1.2zM88.2 885.6h1.2v1.2h-1.2z" fill="#3040f0"/><path d="M88.5 875.7h1.2v1.2h-1.2z" fill="#f08020"/><path d="M112.2 878.8h1.2v1.2h-1.2zM86.8 891.6h1.2v1.2h-1.2zM81.7 888.3h1.2v1.2h-1.2z" fill="#2030ea"/><path d="M99.1 879.9h1.2v1.2h-1.2zM126.3 880.5h1.2v1.2h-1.2zM133.5 869.7h1.2v1.2h-1.2z" fill="#f08020"/><path d="M137.4 878.0h1.2v1.2h-1.2z" fill="#2030ea"/><path d="M140.7 893.2h1.2v1.2h-1.2z" fill="#3040f0"/><path d="M86.0 887.6h1.2v1.2h-1.2z" fill="#2030ea"/><path d="M136.4 892.0h1.2v1.2h-1.2zM84.7 884.8h1.2v1.2h-1.2z" fill="#3040f0"/><path d="M105.4 881.4h1.2v1.2h-1.2z" fill="#2030ea"/><path d="M121.4 878.3h1.2v1.2h-1.2z" fill="#f08020"/><path d="M112.0 891.7h1.2v1.2h-1.2z" fill="#3040f0"/><path d="M121.5 881.1h1.2v1.2h-1.2z" fill="#2030ea"/><path d="M99.0 883.5h1.2v1.2h-1.2z" fill="#f09a38"/><path d="M123.6 879.5h1.2v1.2h-1.2z" fill="#f08020"/><path d="M90.8 893.5h1.2v1.2h-1.2z" fill="#2030ea"/><path d="M84.2 893.5h1.2v1.2h-1.2zM109.9 884.7h1.2v1.2h-1.2zM105.6 879.5h1.2v1.2h-1.2zM87.4 876.3h1.2v1.2h-1.2z" fill="#3040f0"/><path d="M116.1 869.7h1.2v1.2h-1.2z" fill="#f09a38"/><path d="M113.4 874.9h1.2v1.2h-1.2z" fill="#f08020"/><path d="M98.9 882.1h1.2v1.2h-1.2zM83.8 891.9h1.2v1.2h-1.2z" fill="#2030ea"/><path d="M146.8 874.9h1.2v1.2h-1.2z" fill="#f09a38"/><path d="M93.2 888.1h1.2v1.2h-1.2z" fill="#3040f0"/><path d="M111.4 866.7h1.2v1.2h-1.2z" fill="#f08020"/><path d="M96.5 892.6h1.2v1.2h-1.2z" fill="#3040f0"/><path d="M82.0 886.6h1.2v1.2h-1.2zM120.0 880.2h1.2v1.2h-1.2z" fill="#2030ea"/><path d="M94.0 889.5h1.2v1.2h-1.2z" fill="#f08020"/><path d="M138.0 883.9h1.2v1.2h-1.2zM120.3 890.9h1.2v1.2h-1.2z" fill="#3040f0"/><path d="M106.8 860.8h1.2v1.2h-1.2z" fill="#f08020"/><path d="M80.7 891.2h1.2v1.2h-1.2z" fill="#3040f0"/><path d="M117.1 889.0h1.2v1.2h-1.2z" fill="#f09a38"/><path d="M143.3 876.0h1.2v1.2h-1.2z" fill="#f08020"/><path d="M81.6 890.9h1.2v1.2h-1.2z" fill="#3040f0"/><path d="M106.5 889.3h1.2v1.2h-1.2z" fill="#2030ea"/><path d="M111.9 892.7h1.2v1.2h-1.2zM90.4 890.9h1.2v1.2h-1.2zM100.6 892.5h1.2v1.2h-1.2z" fill="#3040f0"/><path d="M109.4 871.7h1.2v1.2h-1.2z" fill="#2030ea"/><path d="M84.8 886.8h1.2v1.2h-1.2z" fill="#3040f0"/><path d="M113.1 885.5h1.2v1.2h-1.2z" fill="#f09a38"/><path d="M87.5 888.9h1.2v1.2h-1.2zM137.9 870.6h1.2v1.2h-1.2zM105.5 868.1h1.2v1.2h-1.2zM134.3 888.7h1.2v1.2h-1.2z" fill="#2030ea"/><path d="M105.5 885.5h1.2v1.2h-1.2z" fill="#f09a38"/><path d="M88.6 889.6h1.2v1.2h-1.2zM84.7 884.2h1.2v1.2h-1.2zM83.9 894.4h1.2v1.2h-1.2z" fill="#2030ea"/><path d="M90.2 891.2h1.2v1.2h-1.2z" fill="#3040f0"/><path d="M95.0 875.2h1.2v1.2h-1.2z" fill="#f08020"/><path d="M83.0 883.5h1.2v1.2h-1.2z" fill="#3040f0"/><path d="M100.0 885.8h1.2v1.2h-1.2z" fill="#2030ea"/><path d="M91.5 880.5h1.2v1.2h-1.2z" fill="#3040f0"/><path d="M102.0 878.1h1.2v1.2h-1.2zM273.8 824.1h1.2v1.2h-1.2zM187.6 847.6h1.2v1.2h-1.2zM228.6 857.5h1.2v1.2h-1.2zM251.7 862.0h1.2v1.2h-1.2zM260.5 855.2h1.2v1.2h-1.2zM208.2 883.5h1.2v1.2h-1.2zM214.4 885.2h1.2v1.2h-1.2zM185.6 875.8h1.2v1.2h-1.2zM211.0 872.2h1.2v1.2h-1.2z" fill="#f08020"/><path d="M261.6 885.7h1.2v1.2h-1.2zM298.4 888.0h1.2v1.2h-1.2zM246.9 893.4h1.2v1.2h-1.2zM200.3 893.1h1.2v1.2h-1.2zM217.2 878.1h1.2v1.2h-1.2zM225.7 877.2h1.2v1.2h-1.2zM228.0 875.0h1.2v1.2h-1.2zM187.6 860.3h1.2v1.2h-1.2zM194.6 870.2h1.2v1.2h-1.2zM199.7 872.2h1.2v1.2h-1.2zM189.0 886.3h1.2v1.2h-1.2zM189.0 891.4h1.2v1.2h-1.2zM218.1 889.1h1.2v1.2h-1.2zM179.9 891.4h1.2v1.2h-1.2z" fill="#2030ea"/>
<line x1="75.5" y1="888.35" x2="298.5" y2="851.72" stroke="#000" stroke-width="1.6"/>
<path d="M75.5 814.7V911.1H298.5" fill="none" stroke="#000" stroke-width="1.5"/>
<line x1="70.5" y1="911.10" x2="75.5" y2="911.10" stroke="#000" stroke-width="1.4"/>
<text x="66.8" y="915.40" font-size="12.5" font-weight="bold" text-anchor="end">0</text>
<line x1="70.5" y1="887.00" x2="75.5" y2="887.00" stroke="#000" stroke-width="1.4"/>
<text x="66.8" y="891.30" font-size="12.5" font-weight="bold" text-anchor="end">300</text>
<line x1="70.5" y1="862.90" x2="75.5" y2="862.90" stroke="#000" stroke-width="1.4"/>
<text x="66.8" y="867.20" font-size="12.5" font-weight="bold" text-anchor="end">600</text>
<line x1="70.5" y1="838.80" x2="75.5" y2="838.80" stroke="#000" stroke-width="1.4"/>
<text x="66.8" y="843.10" font-size="12.5" font-weight="bold" text-anchor="end">900</text>
<line x1="70.5" y1="814.70" x2="75.5" y2="814.70" stroke="#000" stroke-width="1.4"/>
<text x="66.8" y="819.00" font-size="12.5" font-weight="bold" text-anchor="end">1200</text>
<line x1="75.50" y1="911.1" x2="75.50" y2="915.6" stroke="#000" stroke-width="1.4"/>
<text x="75.50" y="929.10" font-size="12" font-weight="bold" text-anchor="middle">0</text>
<line x1="112.67" y1="911.1" x2="112.67" y2="915.6" stroke="#000" stroke-width="1.4"/>
<text x="112.67" y="929.10" font-size="12" font-weight="bold" text-anchor="middle">4000</text>
<line x1="149.83" y1="911.1" x2="149.83" y2="915.6" stroke="#000" stroke-width="1.4"/>
<text x="149.83" y="929.10" font-size="12" font-weight="bold" text-anchor="middle">8000</text>
<line x1="187.00" y1="911.1" x2="187.00" y2="915.6" stroke="#000" stroke-width="1.4"/>
<text x="187.00" y="929.10" font-size="12" font-weight="bold" text-anchor="middle">12000</text>
<line x1="224.17" y1="911.1" x2="224.17" y2="915.6" stroke="#000" stroke-width="1.4"/>
<text x="224.17" y="929.10" font-size="12" font-weight="bold" text-anchor="middle">16000</text>
<line x1="261.33" y1="911.1" x2="261.33" y2="915.6" stroke="#000" stroke-width="1.4"/>
<text x="261.33" y="929.10" font-size="12" font-weight="bold" text-anchor="middle">20000</text>
<line x1="298.50" y1="911.1" x2="298.50" y2="915.6" stroke="#000" stroke-width="1.4"/>
<text x="298.50" y="929.10" font-size="12" font-weight="bold" text-anchor="middle">24000</text>
<text x="88.5" y="823" font-size="13" textLength="95.4" lengthAdjust="spacingAndGlyphs">y=0.019x+283.2</text>
<text x="88" y="840.8" font-size="13">R<tspan font-size="9" dy="-5">2</tspan><tspan dy="5">=0.18</tspan></text>
<text x="127.7" y="957.2" font-size="17.7">Cell Area (μm<tspan font-size="12.5" dy="-6.5">2</tspan><tspan dy="6.5">)</tspan></text>
<text transform="translate(30.6 864.3) rotate(-90)" font-size="15.8" text-anchor="middle">Nucleus Area (μm<tspan font-size="11" dy="-6">2</tspan><tspan dy="6">)</tspan></text>
<rect x="322" y="817.10" width="16" height="16.63" fill="#ff5a00"/>
<rect x="322" y="833.73" width="16" height="16.63" fill="#ff8c00"/>
<rect x="322" y="850.36" width="16" height="16.63" fill="#f8c048"/>
<rect x="322" y="866.99" width="16" height="16.63" fill="#5060e8"/>
<rect x="322" y="883.62" width="16" height="16.63" fill="#2040ff"/>
<rect x="322" y="900.25" width="16" height="16.63" fill="#0a0a70"/>
<rect x="322" y="833.13" width="16" height="1.2" fill="#b0a8b0" opacity="0.7"/>
<rect x="322" y="849.76" width="16" height="1.2" fill="#b0a8b0" opacity="0.7"/>
<rect x="322" y="866.39" width="16" height="1.2" fill="#b0a8b0" opacity="0.7"/>
<rect x="322" y="883.02" width="16" height="1.2" fill="#b0a8b0" opacity="0.7"/>
<rect x="322" y="899.65" width="16" height="1.2" fill="#b0a8b0" opacity="0.7"/>
<polygon points="340.7,817 369.7,817 340.7,916" fill="#000"/>
<text x="345" y="838" font-size="22" font-weight="bold" font-style="italic" fill="#fff" textLength="15" lengthAdjust="spacingAndGlyphs">E</text>
<circle cx="423.67" cy="895.35" r="2.1" fill="#000"/><circle cx="426.44" cy="914.74" r="2.1" fill="#000"/><circle cx="431.63" cy="898.81" r="2.1" fill="#000"/><circle cx="432.33" cy="914.74" r="2.1" fill="#000"/><circle cx="435.79" cy="890.15" r="2.1" fill="#000"/><circle cx="436.83" cy="873.19" r="2.1" fill="#000"/><circle cx="440.29" cy="900.89" r="2.1" fill="#000"/><circle cx="440.98" cy="911.27" r="2.1" fill="#000"/><circle cx="443.41" cy="903.31" r="2.1" fill="#000"/><circle cx="444.45" cy="834.75" r="2.1" fill="#000"/><circle cx="443.75" cy="917.16" r="2.1" fill="#000"/><circle cx="446.87" cy="912.66" r="2.1" fill="#000"/><circle cx="448.95" cy="916.12" r="2.1" fill="#000"/><circle cx="450.33" cy="915.43" r="2.1" fill="#000"/><circle cx="451.72" cy="910.93" r="2.1" fill="#000"/><circle cx="453.10" cy="873.88" r="2.1" fill="#000"/><circle cx="455.87" cy="892.92" r="2.1" fill="#000"/><circle cx="458.64" cy="891.19" r="2.1" fill="#000"/><circle cx="460.03" cy="887.73" r="2.1" fill="#000"/><circle cx="460.72" cy="903.31" r="2.1" fill="#000"/><circle cx="461.76" cy="906.77" r="2.1" fill="#000"/><circle cx="462.80" cy="905.73" r="2.1" fill="#000"/><circle cx="463.84" cy="911.27" r="2.1" fill="#000"/><circle cx="466.26" cy="914.74" r="2.1" fill="#000"/><circle cx="467.65" cy="880.80" r="2.1" fill="#000"/><circle cx="469.72" cy="875.61" r="2.1" fill="#000"/><circle cx="471.80" cy="834.06" r="2.1" fill="#000"/><circle cx="472.15" cy="900.89" r="2.1" fill="#000"/><circle cx="473.88" cy="873.88" r="2.1" fill="#000"/><circle cx="475.96" cy="875.61" r="2.1" fill="#000"/><circle cx="482.19" cy="883.23" r="2.1" fill="#000"/><circle cx="492.92" cy="849.64" r="2.1" fill="#000"/><circle cx="504.35" cy="864.18" r="2.1" fill="#000"/><circle cx="505.39" cy="866.95" r="2.1" fill="#000"/><circle cx="515.43" cy="869.72" r="2.1" fill="#000"/><circle cx="518.20" cy="873.88" r="2.1" fill="#000"/><circle cx="519.24" cy="869.72" r="2.1" fill="#000"/><circle cx="519.93" cy="885.65" r="2.1" fill="#000"/><circle cx="519.93" cy="826.44" r="2.1" fill="#000"/><circle cx="535.51" cy="816.75" r="2.1" fill="#000"/><circle cx="539.67" cy="842.71" r="2.1" fill="#000"/>
<line x1="421.8" y1="913.7" x2="540.7" y2="842.7" stroke="#000" stroke-width="1.5"/>
<path d="M421.8 788.5V917.8H551.8" fill="none" stroke="#000" stroke-width="1.4"/>
<line x1="417.8" y1="788.50" x2="421.8" y2="788.50" stroke="#000" stroke-width="1.2"/>
<text x="416.40000000000003" y="791.80" font-size="9.6" fill="#222" text-anchor="end" textLength="16.4" lengthAdjust="spacingAndGlyphs">3.5</text>
<line x1="417.8" y1="825.44" x2="421.8" y2="825.44" stroke="#000" stroke-width="1.2"/>
<text x="416.40000000000003" y="828.74" font-size="9.6" fill="#222" text-anchor="end" textLength="16.4" lengthAdjust="spacingAndGlyphs">2.5</text>
<line x1="417.8" y1="862.39" x2="421.8" y2="862.39" stroke="#000" stroke-width="1.2"/>
<text x="416.40000000000003" y="865.69" font-size="9.6" fill="#222" text-anchor="end" textLength="16.4" lengthAdjust="spacingAndGlyphs">1.5</text>
<line x1="417.8" y1="899.33" x2="421.8" y2="899.33" stroke="#000" stroke-width="1.2"/>
<text x="416.40000000000003" y="902.63" font-size="9.6" fill="#222" text-anchor="end" textLength="16.4" lengthAdjust="spacingAndGlyphs">0.5</text>
<line x1="421.80" y1="917.8" x2="421.80" y2="921.8" stroke="#000" stroke-width="1.2"/>
<text x="421.80" y="934.00" font-size="10" fill="#222" text-anchor="middle" textLength="7.2" lengthAdjust="spacingAndGlyphs">0</text>
<line x1="447.80" y1="917.8" x2="447.80" y2="921.8" stroke="#000" stroke-width="1.2"/>
<text x="447.80" y="934.00" font-size="10" fill="#222" text-anchor="middle" textLength="14" lengthAdjust="spacingAndGlyphs">10</text>
<line x1="473.80" y1="917.8" x2="473.80" y2="921.8" stroke="#000" stroke-width="1.2"/>
<text x="473.80" y="934.00" font-size="10" fill="#222" text-anchor="middle" textLength="14" lengthAdjust="spacingAndGlyphs">20</text>
<line x1="499.80" y1="917.8" x2="499.80" y2="921.8" stroke="#000" stroke-width="1.2"/>
<text x="499.80" y="934.00" font-size="10" fill="#222" text-anchor="middle" textLength="14" lengthAdjust="spacingAndGlyphs">30</text>
<line x1="525.80" y1="917.8" x2="525.80" y2="921.8" stroke="#000" stroke-width="1.2"/>
<text x="525.80" y="934.00" font-size="10" fill="#222" text-anchor="middle" textLength="14" lengthAdjust="spacingAndGlyphs">40</text>
<line x1="551.80" y1="917.8" x2="551.80" y2="921.8" stroke="#000" stroke-width="1.2"/>
<text x="551.80" y="934.00" font-size="10" fill="#222" text-anchor="middle" textLength="14" lengthAdjust="spacingAndGlyphs">50</text>
<text x="430.7" y="799.4" font-size="11">y=0.004x+0.092</text>
<text x="430.7" y="819.2" font-size="11">R<tspan font-size="7.5" dy="-4.5">2</tspan><tspan dy="4.5">=0.39</tspan></text>
<text x="409.6" y="953.2" font-size="15.5" textLength="154.4" lengthAdjust="spacingAndGlyphs">Substrate Stiffness (kPa)</text>
<text transform="translate(396.5 854.2) rotate(-90)" font-size="14" text-anchor="middle" textLength="118.4" lengthAdjust="spacingAndGlyphs">Cell Stiffness (kPa)</text>
<text x="63.60" y="402.30" font-size="23.2" font-weight="bold" stroke="#000" stroke-width="0.8" textLength="14.70" lengthAdjust="spacingAndGlyphs">B</text>
<text x="244.30" y="400.60" font-size="23.2" font-weight="bold" stroke="#000" stroke-width="0.8" textLength="14.60" lengthAdjust="spacingAndGlyphs">C</text>
<text x="426.50" y="400.50" font-size="23.2" font-weight="bold" stroke="#000" stroke-width="0.8" textLength="14.60" lengthAdjust="spacingAndGlyphs">D</text>
<text x="61.20" y="624.90" font-size="23.2" font-weight="bold" stroke="#000" stroke-width="0.8" textLength="12.30" lengthAdjust="spacingAndGlyphs">E</text>
<text x="245.50" y="624.90" font-size="23.2" font-weight="bold" stroke="#000" stroke-width="0.8" textLength="12.20" lengthAdjust="spacingAndGlyphs">F</text>
<text x="425.80" y="625.10" font-size="23.2" font-weight="bold" stroke="#000" stroke-width="0.8" textLength="15.00" lengthAdjust="spacingAndGlyphs">G</text>
<text x="23.90" y="780.10" font-size="23.2" font-weight="bold" stroke="#000" stroke-width="0.8" textLength="15.30" lengthAdjust="spacingAndGlyphs">H</text>
<rect x="385.9" y="767.2" width="4" height="15.7" fill="#000"/>
</svg></body></html>
